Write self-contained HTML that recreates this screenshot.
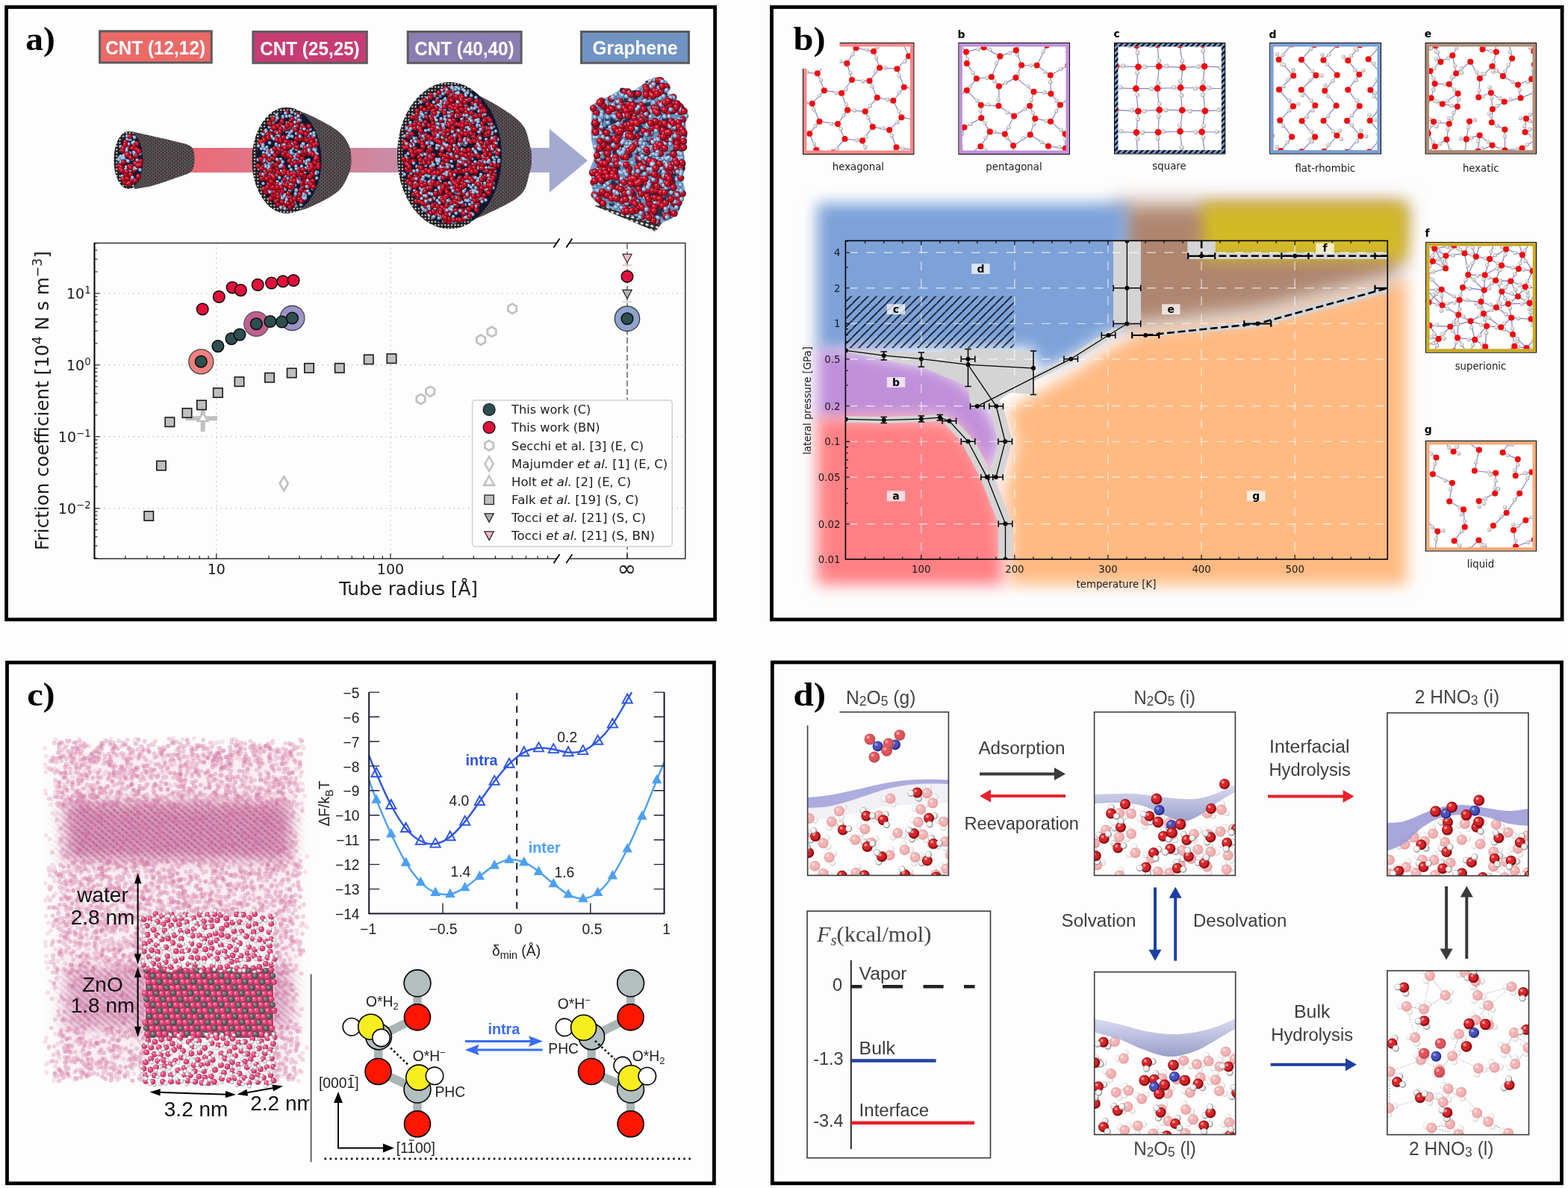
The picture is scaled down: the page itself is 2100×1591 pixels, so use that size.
<!DOCTYPE html>
<html lang="en"><head><meta charset="utf-8"><title>Figure: water at interfaces</title>
<style>
html,body{margin:0;padding:0;background:#fdfdfd}
svg{display:block}
text{font-family:"Liberation Sans",sans-serif;fill:#111}
.dv{font-family:"DejaVu Sans","Liberation Sans",sans-serif;fill:#1a1a1a}
.dvb{font-family:"DejaVu Sans","Liberation Sans",sans-serif;font-weight:bold;fill:#000}
.pl{font-family:"Liberation Serif",serif;font-weight:bold;font-size:44.5px;fill:#000}
.lb{font-weight:bold;font-size:25.5px;fill:#fff}
.la{font-size:23.5px;fill:#3c3c3c}
.lt{font-size:26px;fill:#444}
.hv{font-size:19.3px;fill:#222}
.sr{font-family:"Liberation Serif",serif;fill:#444}
</style></head>
<body>
<svg width="2100" height="1591" viewBox="0 0 2100 1591">
<defs>
<linearGradient id="arg" gradientUnits="userSpaceOnUse" x1="255" y1="0" x2="787" y2="0"><stop offset="0" stop-color="#eb6b76"/><stop offset=".45" stop-color="#d0869f"/><stop offset=".8" stop-color="#aaa7cb"/><stop offset="1" stop-color="#a2aad2"/></linearGradient>
<pattern id="mesh" width="5" height="4.4" patternUnits="userSpaceOnUse"><path d="M0 2.2h1.4l1.1-2.2h1.4l1.1 2.2M2.5 4.4l-1.1-2.2M3.9 4.4l1.1-2.2" stroke="#7c7c80" stroke-width=".7" fill="none"/><circle cx="2.6" cy="2.3" r=".7" fill="#7a1522"/></pattern><pattern id="rimp" width="4.4" height="4.4" patternUnits="userSpaceOnUse"><rect width="4.4" height="4.4" fill="#1c1c1e"/><circle cx="2.2" cy="2.2" r="1.15" fill="#f4f4f4"/></pattern><pattern id="mesh2" width="7" height="5" patternUnits="userSpaceOnUse" patternTransform="rotate(14)"><ellipse cx="3.5" cy="2.5" rx="2.3" ry="1.4" fill="#ececf0"/></pattern>
<filter id="bl" x="-20%" y="-20%" width="140%" height="140%"><feGaussianBlur stdDeviation="10"/></filter><filter id="bl2" x="-20%" y="-30%" width="140%" height="160%"><feGaussianBlur stdDeviation="14"/></filter><pattern id="hat" width="11.3" height="11.3" patternUnits="userSpaceOnUse"><path d="M-2 13.3L13.3-2M-2 2L2-2" stroke="#0a0a14" stroke-width="1.5"/></pattern><pattern id="hat2" width="7.4" height="7.4" patternUnits="userSpaceOnUse"><rect width="7.4" height="7.4" fill="#7ba0d6"/><path d="M-1 8.4L8.4-1M-1 1L1-1M6.4 8.4L8.4 6.4" stroke="#000" stroke-width="2.3"/></pattern><clipPath id="pbc"><rect x="1132.4" y="322.4" width="725.9" height="426.6"/></clipPath>
<clipPath id="c22"><rect x="330" y="1455" width="84.3" height="45"/></clipPath><filter id="cb" x="-10%" y="-10%" width="120%" height="120%"><feGaussianBlur stdDeviation="9"/></filter><filter id="cb2" x="-10%" y="-10%" width="120%" height="120%"><feGaussianBlur stdDeviation="0.7"/></filter><pattern id="zn" width="6.4" height="6.4" patternUnits="userSpaceOnUse" patternTransform="rotate(40)"><rect width="6.4" height="2.8" y="1.8" fill="#c0598a"/><circle cx="1.6" cy="3.2" r="1.9" fill="#b24a7c"/><circle cx="4.8" cy="3.2" r="1.9" fill="#cd6a98"/></pattern><linearGradient id="znf" x1="0" x2="1" y1="0" y2="0"><stop offset="0" stop-color="#fff" stop-opacity="0"/><stop offset=".1" stop-color="#fff" stop-opacity=".55"/><stop offset=".3" stop-color="#fff"/><stop offset=".72" stop-color="#fff"/><stop offset=".9" stop-color="#fff" stop-opacity=".5"/><stop offset="1" stop-color="#fff" stop-opacity="0"/></linearGradient><linearGradient id="znv" x1="0" x2="0" y1="0" y2="1"><stop offset="0" stop-color="#000"/><stop offset=".18" stop-color="#fff"/><stop offset=".82" stop-color="#fff"/><stop offset="1" stop-color="#000"/></linearGradient><filter id="cb3" x="-20%" y="-30%" width="140%" height="160%"><feGaussianBlur stdDeviation="14 7"/></filter><mask id="zm1" maskUnits="userSpaceOnUse" x="40" y="1040" width="400" height="150"><rect x="88" y="1074" width="300" height="78" fill="#fff" filter="url(#cb3)"/></mask><mask id="zm2" maskUnits="userSpaceOnUse" x="40" y="1265" width="400" height="150"><rect x="88" y="1296" width="300" height="82" fill="#fff" filter="url(#cb3)"/></mask>
<linearGradient id="sf1" x1="0" x2="0" y1="0" y2="1"><stop offset="0" stop-color="#d6d6f0"/><stop offset="1" stop-color="#8f95c2"/></linearGradient><clipPath id="db0"><rect x="1081.6" y="953.6" width="188.8" height="218.8"/></clipPath><clipPath id="db1"><rect x="1465.6" y="953.6" width="188.8" height="218.8"/></clipPath><clipPath id="db2"><rect x="1857.9" y="954.7" width="189" height="218.2"/></clipPath><clipPath id="db3"><rect x="1465.7" y="1301.7" width="189" height="217.8"/></clipPath><clipPath id="db4"><rect x="1857.9" y="1300" width="189.6" height="219.6"/></clipPath>
</defs>
<rect width="2100" height="1591" fill="#fdfdfd"/>
<g id="panel-a"><rect x="8.6" y="9.5" width="949" height="820.2" fill="none" stroke="#000" stroke-width="4.8"/>
<text x="34.2" y="66.8" class="pl" textLength="39.6" lengthAdjust="spacingAndGlyphs">a)</text>
<rect x="133.6" y="41.8" width="149.7" height="42.1" fill="#ea6a68" stroke="#5c5c5e" stroke-width="3"/>
<text x="141.3" y="73.1" class="lb" textLength="133.7" lengthAdjust="spacingAndGlyphs">CNT (12,12)</text>
<rect x="338.9" y="42.5" width="152.4" height="41.8" fill="#c73c73" stroke="#5c5c5e" stroke-width="3"/>
<text x="348.3" y="73.9" class="lb" textLength="133.4" lengthAdjust="spacingAndGlyphs">CNT (25,25)</text>
<rect x="546.2" y="42.5" width="151.9" height="41.8" fill="#8a7eb1" stroke="#5c5c5e" stroke-width="3"/>
<text x="555.2" y="73.9" class="lb" textLength="133.5" lengthAdjust="spacingAndGlyphs">CNT (40,40)</text>
<rect x="778.5" y="42.5" width="144" height="41.8" fill="#7093c3" stroke="#5c5c5e" stroke-width="3"/>
<text x="793.4" y="73.2" class="lb" textLength="114.2" lengthAdjust="spacingAndGlyphs">Graphene</text>
<path d="M200 198H735.8V172.5L787 215L735.8 257.8V231H200Z" fill="url(#arg)"/>
<g stroke="#c4c4c4" stroke-width="1.4" stroke-dasharray="1.5 5" fill="none"><path d="M126.5 392.9L917.8 392.9"/><path d="M126.5 488.8L917.8 488.8"/><path d="M126.5 584.7L917.8 584.7"/><path d="M126.5 680.8L917.8 680.8"/><path d="M289.8 325.6L289.8 748.3"/><path d="M523 325.6L523 748.3"/></g>
<path d="M840 325.6L840 748.3" stroke="#555" stroke-width="1.4" stroke-dasharray="8 3.5"/>
<g stroke="#333" stroke-width="1.5" fill="none"><path d="M745 325.6L126.5 325.6"/><path d="M763 325.6L917.8 325.6L917.8 748.3L763 748.3"/><path d="M745 748.3L126.5 748.3"/></g>
<path d="M126.5 324.9L126.5 749" stroke="#000" stroke-width="2"/>
<g stroke="#000" stroke-width="1.8"><path d="M741.5 331.6L749.5 319.6"/><path d="M758.3 331.6L766.3 319.6"/><path d="M741.5 754.3L749.5 742.3"/><path d="M758.3 754.3L766.3 742.3"/></g>
<g stroke="#222" stroke-width="1.2"><path d="M126.5 392.9L133.5 392.9"/><path d="M126.5 488.8L133.5 488.8"/><path d="M126.5 584.7L133.5 584.7"/><path d="M126.5 680.8L133.5 680.8"/><path d="M126.5 747.8L130.5 747.8"/><path d="M126.5 730.9L130.5 730.9"/><path d="M126.5 718.9L130.5 718.9"/><path d="M126.5 709.6L130.5 709.6"/><path d="M126.5 702L130.5 702"/><path d="M126.5 695.6L130.5 695.6"/><path d="M126.5 690L130.5 690"/><path d="M126.5 685.1L130.5 685.1"/><path d="M126.5 651.8L130.5 651.8"/><path d="M126.5 634.9L130.5 634.9"/><path d="M126.5 622.9L130.5 622.9"/><path d="M126.5 613.6L130.5 613.6"/><path d="M126.5 606L130.5 606"/><path d="M126.5 599.6L130.5 599.6"/><path d="M126.5 594L130.5 594"/><path d="M126.5 589.1L130.5 589.1"/><path d="M126.5 555.9L130.5 555.9"/><path d="M126.5 539L130.5 539"/><path d="M126.5 527L130.5 527"/><path d="M126.5 517.7L130.5 517.7"/><path d="M126.5 510.1L130.5 510.1"/><path d="M126.5 503.7L130.5 503.7"/><path d="M126.5 498.1L130.5 498.1"/><path d="M126.5 493.2L130.5 493.2"/><path d="M126.5 459.9L130.5 459.9"/><path d="M126.5 443L130.5 443"/><path d="M126.5 431L130.5 431"/><path d="M126.5 421.7L130.5 421.7"/><path d="M126.5 414.1L130.5 414.1"/><path d="M126.5 407.7L130.5 407.7"/><path d="M126.5 402.1L130.5 402.1"/><path d="M126.5 397.2L130.5 397.2"/><path d="M126.5 364L130.5 364"/><path d="M126.5 347.1L130.5 347.1"/><path d="M126.5 335.1L130.5 335.1"/><path d="M126.5 325.8L130.5 325.8"/><path d="M289.8 748.3L289.8 741.3"/><path d="M523 748.3L523 741.3"/><path d="M840 748.3L840 741.3"/><path d="M126.8 748.3L126.8 744.3"/><path d="M167.9 748.3L167.9 744.3"/><path d="M197 748.3L197 744.3"/><path d="M219.6 748.3L219.6 744.3"/><path d="M238.1 748.3L238.1 744.3"/><path d="M253.7 748.3L253.7 744.3"/><path d="M267.2 748.3L267.2 744.3"/><path d="M279.1 748.3L279.1 744.3"/><path d="M360 748.3L360 744.3"/><path d="M401.1 748.3L401.1 744.3"/><path d="M430.2 748.3L430.2 744.3"/><path d="M452.8 748.3L452.8 744.3"/><path d="M471.3 748.3L471.3 744.3"/><path d="M486.9 748.3L486.9 744.3"/><path d="M500.4 748.3L500.4 744.3"/><path d="M512.3 748.3L512.3 744.3"/><path d="M593.2 748.3L593.2 744.3"/><path d="M634.3 748.3L634.3 744.3"/><path d="M663.4 748.3L663.4 744.3"/><path d="M686 748.3L686 744.3"/><path d="M704.5 748.3L704.5 744.3"/><path d="M720.1 748.3L720.1 744.3"/><path d="M733.6 748.3L733.6 744.3"/></g>
<text x="121.6" y="400.3" class="dv" font-size="19" text-anchor="end">10<tspan font-size="13.3" dy="-7.4">1</tspan></text>
<text x="121.6" y="496.2" class="dv" font-size="19" text-anchor="end">10<tspan font-size="13.3" dy="-7.4">0</tspan></text>
<text x="121.6" y="592.1" class="dv" font-size="19" text-anchor="end">10<tspan font-size="13.3" dy="-7.4">−1</tspan></text>
<text x="121.6" y="688.2" class="dv" font-size="19" text-anchor="end">10<tspan font-size="13.3" dy="-7.4">−2</tspan></text>
<text x="289.8" y="769" class="dv" text-anchor="middle" font-size="19">10</text>
<text x="523" y="769" class="dv" text-anchor="middle" font-size="19">100</text>
<text x="839.5" y="771.5" class="dv" text-anchor="middle" font-size="31">∞</text>
<text x="547" y="796.6" class="dv" text-anchor="middle" font-size="24.7">Tube radius [Å]</text>
<text transform="translate(65.3 536.5) rotate(-90)" class="dv" font-size="24.7" text-anchor="middle">Friction coefficient [10<tspan font-size="17.3" dy="-9">4</tspan><tspan dy="9"> N s m</tspan><tspan font-size="17.3" dy="-9">−3</tspan><tspan dy="9">]</tspan></text>
<g stroke="#c0c0c0" fill="none"><path d="M248.6 560.2H291M271.7 547V578" stroke-width="6"/><path d="M271.7 552.5l6.5 11.5h-13Z" stroke-width="2.6" fill="#fff"/></g>
<g fill="#bfbfbf" stroke="#1a1a1a" stroke-width="1.6"><rect x="193.1" y="684.8" width="12.4" height="12.4"/><rect x="209.8" y="617.4" width="12.4" height="12.4"/><rect x="221.2" y="559" width="12.4" height="12.4"/><rect x="244.3" y="546.9" width="12.4" height="12.4"/><rect x="263.8" y="536.2" width="12.4" height="12.4"/><rect x="285.7" y="519.8" width="12.4" height="12.4"/><rect x="314.3" y="505" width="12.4" height="12.4"/><rect x="354.8" y="499.5" width="12.4" height="12.4"/><rect x="384.5" y="493.3" width="12.4" height="12.4"/><rect x="407.8" y="486.7" width="12.4" height="12.4"/><rect x="448.6" y="486.7" width="12.4" height="12.4"/><rect x="487.6" y="475.2" width="12.4" height="12.4"/><rect x="518.3" y="474" width="12.4" height="12.4"/></g>
<g fill="#fff" stroke="#c2c2c2" stroke-width="2.8"><path d="M686.2 406.8L691.9 410.1L691.9 416.7L686.2 420L680.5 416.7L680.5 410.1Z"/><path d="M658.6 437.7L664.3 441L664.3 447.6L658.6 450.9L652.9 447.6L652.9 441Z"/><path d="M644.1 448.6L649.8 451.9L649.8 458.5L644.1 461.8L638.4 458.5L638.4 451.9Z"/><path d="M576.2 517.6L581.9 520.9L581.9 527.5L576.2 530.8L570.5 527.5L570.5 520.9Z"/><path d="M563.5 527.9L569.2 531.2L569.2 537.8L563.5 541.1L557.8 537.8L557.8 531.2Z"/></g>
<path d="M380.2 638.2l5.6 9.4l-5.6 9.4l-5.6-9.4Z" fill="#fff" stroke="#c0c0c0" stroke-width="2.6"/>
<circle cx="269.3" cy="484.3" r="16.5" fill="#f08080" stroke="#444" stroke-width="1.3"/>
<circle cx="343.3" cy="433.8" r="16.5" fill="#c0608f" stroke="#555" stroke-width="1.3"/>
<circle cx="391.4" cy="426" r="16.5" fill="#9a94c8" stroke="#444" stroke-width="1.3"/>
<circle cx="840" cy="426.8" r="16.7" fill="#8ea4cf" stroke="#333" stroke-width="1.3"/>
<g fill="#2f4f4f" stroke="#0a0a0a" stroke-width="1.5"><circle cx="269.3" cy="484.3" r="7.8"/><circle cx="291.9" cy="463.6" r="7.8"/><circle cx="310" cy="453.6" r="7.8"/><circle cx="321" cy="448.1" r="7.8"/><circle cx="343.3" cy="433.8" r="7.8"/><circle cx="361.9" cy="430.5" r="7.8"/><circle cx="377.6" cy="431" r="7.8"/><circle cx="391.4" cy="426" r="7.8"/><circle cx="840" cy="426.8" r="7.8"/></g>
<g fill="#e2103c" stroke="#0a0a0a" stroke-width="1.5"><circle cx="271.2" cy="414" r="7.8"/><circle cx="293.3" cy="397.4" r="7.8"/><circle cx="311.2" cy="385" r="7.8"/><circle cx="322.4" cy="388.6" r="7.8"/><circle cx="345.2" cy="381.4" r="7.8"/><circle cx="363.6" cy="379" r="7.8"/><circle cx="379" cy="376.7" r="7.8"/><circle cx="393.1" cy="375.5" r="7.8"/><circle cx="840" cy="370.2" r="7.8"/></g>
<path d="M833.8 340.4h12.4l-6.2 11.6Z" fill="#ffb6c1" stroke="#333" stroke-width="1.2"/><path d="M833.6 355.2h12.8" stroke="#ffb6c1" stroke-width="1.6"/>
<path d="M833.8 388.3h12.4l-6.2 11.6Z" fill="#b8b8b8" stroke="#222" stroke-width="1.2"/><path d="M833.6 404.3h12.8" stroke="#c8c8c8" stroke-width="1.6"/>
<rect x="632.6" y="536" width="267.6" height="196" rx="4" fill="#fefefe" stroke="#d0d0d0" stroke-width="1.5"/>
<circle cx="655.1" cy="548.5" r="8" fill="#2f4f4f" stroke="#111" stroke-width="1.2"/>
<circle cx="655.1" cy="572.3" r="8" fill="#e2103c" stroke="#111" stroke-width="1.2"/>
<g fill="#fff" stroke="#c2c2c2" stroke-width="2.8"><path d="M655.1 590.1L660.8 593.4L660.8 600L655.1 603.3L649.4 600L649.4 593.4Z"/></g>
<path d="M655.1 611.6l5.6 9.6l-5.6 9.6l-5.6-9.6Z" fill="#fff" stroke="#c2c2c2" stroke-width="2.6"/>
<path d="M655.1 637.3l7 12.6h-14Z" fill="#fff" stroke="#c2c2c2" stroke-width="2.6"/>
<rect x="648.9" y="663.1" width="12.4" height="12.4" fill="#c0c0c0" stroke="#222" stroke-width="1.3"/>
<path d="M648.9 687.8h12.4l-6.2 11.6Z" fill="#b0b0b0" stroke="#222" stroke-width="1.2"/>
<path d="M648.9 711.8h12.4l-6.2 11.6Z" fill="#ffb6c1" stroke="#222" stroke-width="1.2"/>
<text x="685.1" y="554.4" class="dv" font-size="16.2" textLength="106.2" lengthAdjust="spacingAndGlyphs">This work (C)</text>
<text x="685.1" y="578.2" class="dv" font-size="16.2" textLength="118.5" lengthAdjust="spacingAndGlyphs">This work (BN)</text>
<text x="685.1" y="602.6" class="dv" font-size="16.2" textLength="177" lengthAdjust="spacingAndGlyphs">Secchi et al. [3] (E, C)</text>
<text x="685.1" y="627.1" class="dv" font-size="16.2" textLength="209" lengthAdjust="spacingAndGlyphs">Majumder <tspan font-style="italic">et al.</tspan> [1] (E, C)</text>
<text x="685.1" y="651.2" class="dv" font-size="16.2" textLength="160" lengthAdjust="spacingAndGlyphs">Holt <tspan font-style="italic">et al.</tspan> [2] (E, C)</text>
<text x="685.1" y="675.2" class="dv" font-size="16.2" textLength="170.5" lengthAdjust="spacingAndGlyphs">Falk <tspan font-style="italic">et al.</tspan> [19] (S, C)</text>
<text x="685.1" y="699.1" class="dv" font-size="16.2" textLength="180" lengthAdjust="spacingAndGlyphs">Tocci <tspan font-style="italic">et al.</tspan> [21] (S, C)</text>
<text x="685.1" y="723.1" class="dv" font-size="16.2" textLength="192" lengthAdjust="spacingAndGlyphs">Tocci <tspan font-style="italic">et al.</tspan> [21] (S, BN)</text></g>
<g id="mol-a"><path d="M176 176C180.8 177.1 194.8 180.1 204.8 182.4C214.8 184.7 227.5 187.3 236 189.7C244.5 192 251.9 192.6 256 196.5C260.1 200.4 260.5 207.5 260.5 213C260.5 218.5 260.1 225.3 256 229.5C251.9 233.7 244.5 234.8 236 238C227.5 241.2 214.3 245.9 205 248.4C195.7 250.9 184.2 252.2 180 253Z" fill="#343336"/><path d="M176 176C180.8 177.1 194.8 180.1 204.8 182.4C214.8 184.7 227.5 187.3 236 189.7C244.5 192 251.9 192.6 256 196.5C260.1 200.4 260.5 207.5 260.5 213C260.5 218.5 260.1 225.3 256 229.5C251.9 233.7 244.5 234.8 236 238C227.5 241.2 214.3 245.9 205 248.4C195.7 250.9 184.2 252.2 180 253Z" fill="url(#mesh)"/><clipPath id="rc172"><rect x="149.5" y="173" width="30.7" height="83"/></clipPath><ellipse cx="173" cy="214.5" rx="18.5" ry="37.5" fill="#10182f"/><ellipse cx="172" cy="214.5" rx="17" ry="36" fill="none" stroke="url(#rimp)" stroke-width="5" clip-path="url(#rc172)"/><g stroke-linecap="round" fill="none"><path id="s1" d="M173.2 225.2h0M179.2 190.2h0M166.9 235.6h0M180 221.4h0M175.8 225.5h0M162.8 210.4h0M160.6 227.2h0M168.9 208h0M174.3 186.7h0M161.8 209.3h0M162.5 201.8h0M177.8 191.6h0M180.2 184h0M163.6 236h0M170.9 209h0M177 212.9h0M170.4 182.6h0M169.5 205.2h0M180 226.3h0M161.8 196.5h0M169.7 215.3h0M183.8 214.5h0M171.8 215.8h0M165.2 209.6h0M170.5 233h0M161.5 217.9h0M163.9 227.8h0M169.1 223.8h0M159.9 211.7h0M164.8 199.7h0"/><use href="#s1" stroke="#4c6c94" stroke-width="5"/><use href="#s1" stroke="#98b8dc" stroke-width="3.9" transform="translate(-0.3 -0.3)"/><use href="#s1" stroke="#e0ecf8" stroke-width="1.5" transform="translate(-0.8 -0.9)"/></g><g stroke-linecap="round" fill="none"><path id="s2" d="M173.3 245.1h0M173.4 244.9h0M169.8 193.8h0M181.7 242h0M182.4 204h0M159.8 222.4h0M174.1 182.8h0M168.5 233.7h0M184.2 223.8h0M165.7 216.3h0M173.3 223h0M167.6 239.4h0M167.2 244.1h0M174.5 227.6h0M180.3 195.4h0M167.4 198.2h0M179.7 227.4h0M171.5 197.3h0M172 246.5h0M175.9 222.8h0M182 209h0M176.7 241.2h0M182.9 219.8h0M169.3 205.7h0M181.3 218.7h0M175.1 233.8h0"/><use href="#s2" stroke="#6a0614" stroke-width="7"/><use href="#s2" stroke="#bf0f29" stroke-width="5.5" transform="translate(-0.4 -0.4)"/><use href="#s2" stroke="#e96476" stroke-width="2.1" transform="translate(-1.1 -1.2)"/></g><g stroke-linecap="round" fill="none"><path id="s3" d="M170.2 187.2h0M169.4 201.7h0M187.7 227.4h0M175.3 222.8h0M162.2 216.8h0M180.3 207.3h0M166 208.2h0M168.4 227.1h0M168.1 227.8h0M182.2 225.3h0M187.7 205.4h0M159.2 213.7h0M172.2 192.7h0M179.3 203.7h0M165.8 202.8h0M169.6 199.5h0M164.6 209.9h0M174 228h0M163.4 212.1h0M177.4 237.8h0M166.1 211.8h0M185.2 237.1h0M165.4 217.1h0M182.2 207.4h0M179.5 225.6h0M188.9 218.2h0M179.7 204.3h0M181.3 202.4h0M174 205h0M167.9 189.7h0"/><use href="#s3" stroke="#4c6c94" stroke-width="5"/><use href="#s3" stroke="#98b8dc" stroke-width="3.9" transform="translate(-0.3 -0.3)"/><use href="#s3" stroke="#e0ecf8" stroke-width="1.5" transform="translate(-0.8 -0.9)"/></g><g stroke-linecap="round" fill="none"><path id="s4" d="M165.5 217.5h0M183.4 200.2h0M187.5 221.1h0M170.6 239.4h0M186.3 202.6h0M162.4 223.9h0M184.6 221.7h0M182.8 208.7h0M177.6 198.7h0M171.1 206.5h0M170.4 207.8h0M183.5 192.5h0M164.9 198.2h0M188.5 216h0M185.5 235.9h0M169.6 230.1h0M168 190.3h0M185.3 236.7h0M165.1 239.8h0M163.6 228.9h0M167.7 193.8h0M164.2 202h0M185.2 221.6h0M161.7 226.8h0M175.1 211.1h0M174.9 224.6h0"/><use href="#s4" stroke="#6a0614" stroke-width="7"/><use href="#s4" stroke="#bf0f29" stroke-width="5.5" transform="translate(-0.4 -0.4)"/><use href="#s4" stroke="#e96476" stroke-width="2.1" transform="translate(-1.1 -1.2)"/></g>
<path d="M383 143.6C388.2 145.3 402.5 148.8 414 154C425.5 159.2 443.2 168.3 452 175C460.8 181.7 463.9 187.5 467 194C470.1 200.5 470.5 207.5 470.5 214C470.5 220.5 470.1 225.9 467 233C463.9 240.1 460.8 249.2 452 256.7C443.2 264.1 425.2 272.9 414 277.7C402.8 282.5 389.8 284.4 385 285.7Z" fill="#343336"/><path d="M383 143.6C388.2 145.3 402.5 148.8 414 154C425.5 159.2 443.2 168.3 452 175C460.8 181.7 463.9 187.5 467 194C470.1 200.5 470.5 207.5 470.5 214C470.5 220.5 470.1 225.9 467 233C463.9 240.1 460.8 249.2 452 256.7C443.2 264.1 425.2 272.9 414 277.7C402.8 282.5 389.8 284.4 385 285.7Z" fill="url(#mesh)"/><clipPath id="rc384"><rect x="334.5" y="140.7" width="69" height="148"/></clipPath><ellipse cx="385" cy="214.7" rx="45.5" ry="70" fill="#10182f"/><ellipse cx="384" cy="214.7" rx="43.5" ry="68" fill="none" stroke="url(#rimp)" stroke-width="6" clip-path="url(#rc384)"/><g stroke-linecap="round" fill="none"><path id="s5" d="M411.3 215.4h0M397.4 210.4h0M397.3 200.1h0M378.8 216.9h0M404.1 185.6h0M421.7 213.6h0M415.9 239.7h0M424.3 238.6h0M379.9 202.3h0M395 248h0M353.5 239h0M395.7 275.8h0M383.9 176.2h0M407.6 204.7h0M389.6 190.5h0M364.3 160.5h0M395 274.1h0M422.4 196.6h0M369 270.3h0M394.4 236.9h0M384.5 245h0M413.4 248.5h0M372.5 199.2h0M384.7 174.7h0M396.5 219.4h0M374.4 179.3h0M376.4 229.4h0M354.7 220.1h0M365.2 204h0M352.6 245.8h0M397.1 171.8h0M390 227.3h0M392.5 198.7h0M370 195.7h0M386.2 209.4h0M358.5 201.5h0M361.2 191.4h0M374.8 195h0M422.8 188h0M371.9 235.4h0M377.4 216.8h0M398.4 158.8h0M400.4 162.4h0M365 255.3h0M358.4 206.6h0M367.7 259.5h0M363.6 174.8h0M397.6 232.7h0M393.5 211.9h0M424.6 209.2h0M422.7 200.5h0M383.1 196.3h0M404.1 247.7h0M364.1 218.1h0M405 214.9h0M399.6 229.9h0M404 195.7h0M418.8 252.7h0M376.8 276h0M414.3 204.3h0M370.4 183.1h0M378.8 155.9h0M369.8 169.9h0M375.9 213.4h0M394.5 271.5h0M356.3 179h0M422.3 218.4h0M374.8 173.9h0M420.5 249.5h0M390.3 252.9h0M365.9 219.1h0M395.9 173.4h0M414.4 259.2h0M398.1 206.3h0M345.8 213.9h0M374.2 201.6h0M387.8 222.8h0M390.2 220.5h0M415.2 198h0M410.9 218.3h0M362.5 202.5h0M411.2 247.1h0"/><use href="#s5" stroke="#4c6c94" stroke-width="4.8"/><use href="#s5" stroke="#98b8dc" stroke-width="3.7" transform="translate(-0.3 -0.3)"/><use href="#s5" stroke="#e0ecf8" stroke-width="1.4" transform="translate(-0.8 -0.8)"/></g><g stroke-linecap="round" fill="none"><path id="s6" d="M388 250.3h0M400.6 262.2h0M398.4 197.1h0M368.4 161h0M394.5 167.7h0M424.4 218.9h0M359.4 256.7h0M363.2 202.2h0M399.2 186.7h0M391.7 240.6h0M406.7 256.4h0M406.7 187.1h0M407 206.2h0M396.1 196.4h0M352.6 213.4h0M379 192.2h0M391.5 219.7h0M388.5 277.3h0M419.3 188.8h0M416.6 190.9h0M371 270.2h0M399.3 241.2h0M361.7 166.1h0M359.3 205.8h0M412.3 237.7h0M380.8 267.6h0M370.9 157h0M399.2 212.1h0M361.6 178.6h0M384.3 265.7h0M421.6 216.5h0M400.3 210.6h0M408.7 241.2h0M400.6 226.3h0M358.7 211h0M381.7 170.3h0M361.4 203.3h0M359.3 230.7h0M401.2 216.8h0M380.6 200.8h0M420 234h0M398.4 168.9h0M389.4 171.9h0M371.5 225.9h0M358.9 180.4h0M405 212.7h0M395 239.6h0M390.6 169.5h0M425.3 214.1h0M367.5 221h0M365.2 260.9h0M366.3 160.6h0M358.3 185.4h0M400 205.3h0M355.2 176.1h0M380.7 261.3h0M405.3 168.5h0M369.5 177.1h0M381 268.9h0M414 219.3h0M369.2 252.5h0M372.4 273.9h0M366.7 264.7h0M366.5 243.1h0M354.6 235h0M358.8 226.9h0M406 263.4h0M380.7 277h0M378.3 272.5h0M353.6 185.6h0M402.1 264.3h0M366 249.2h0M384.1 150.9h0M400.8 261.4h0M420.3 200.9h0"/><use href="#s6" stroke="#6a0614" stroke-width="6.8"/><use href="#s6" stroke="#bf0f29" stroke-width="5.3" transform="translate(-0.4 -0.4)"/><use href="#s6" stroke="#e96476" stroke-width="2" transform="translate(-1.1 -1.2)"/></g><g stroke-linecap="round" fill="none"><path id="s7" d="M402.5 235h0M402.1 161.3h0M381.4 239.3h0M406.5 257.5h0M370.2 188.2h0M417.4 190.5h0M377 190.2h0M403.9 171.9h0M355 230.9h0M382.8 195.7h0M370 194.2h0M353.1 204.7h0M366.4 156.9h0M412.4 246h0M363 163.4h0M404.7 167.9h0M410.5 219.3h0M425.3 230.8h0M407 195.3h0M384.2 167.1h0M359 214.3h0M379.9 173.5h0M356.6 207.5h0M383.8 155.8h0M405.7 249.8h0M403.3 273.9h0M357.9 204.4h0M378.8 158.6h0M409.4 225.2h0M398.5 212.3h0M415.7 225h0M390 202.2h0M396.8 226.1h0M371.7 243.6h0M363.6 212.3h0M388.2 244.5h0M359.3 230.4h0M358.3 222.5h0M418.1 205.2h0M362.8 227.4h0M378.6 206.4h0M359 238.7h0M385.7 238.6h0M410.3 182.8h0M404.1 223h0M382 231.4h0M382.4 235.3h0M397.7 241.6h0M416.8 219.4h0M389.5 168.1h0M360.4 266.6h0M354.4 199.5h0M396.3 153h0M381.5 253.8h0M376.3 172.2h0M352.8 236.9h0M397.6 185.8h0M390.9 239.1h0M361.5 181.2h0M385 208.8h0M409.3 261.6h0M408.2 231.3h0M389.4 161.1h0M392.2 205.9h0M407.5 198.4h0M354.3 199.4h0M413.8 214.2h0M400.2 156.5h0M362.6 184h0M384.7 164.7h0M423.4 192.6h0M386.1 229.9h0M387.2 234h0M369.8 168.6h0M418.8 207.6h0M394.6 211.6h0M401.8 162.1h0M407.3 172.1h0M393.7 230.8h0M415.2 229.7h0M359 256.1h0M375.4 223h0"/><use href="#s7" stroke="#4c6c94" stroke-width="4.8"/><use href="#s7" stroke="#98b8dc" stroke-width="3.7" transform="translate(-0.3 -0.3)"/><use href="#s7" stroke="#e0ecf8" stroke-width="1.4" transform="translate(-0.8 -0.8)"/></g><g stroke-linecap="round" fill="none"><path id="s8" d="M353.4 208.9h0M370.7 259.3h0M377.6 267.5h0M410.2 204.3h0M407.7 237.8h0M354.5 188.6h0M356 257.4h0M377.4 189.1h0M356.5 239.3h0M363.6 252.1h0M406.3 249.2h0M392.8 166.2h0M392.6 273.7h0M366.9 212.2h0M400.5 233.5h0M371.5 203.9h0M418.6 242.5h0M359.1 237.8h0M415 227.8h0M418.5 184.5h0M368.7 261.7h0M366 166.7h0M412.6 175.9h0M405.9 175.8h0M392.3 246.9h0M386.4 231.1h0M354.5 209.3h0M409.3 198.4h0M406.1 227.4h0M411.3 245.4h0M369.9 255.7h0M412.1 205.3h0M404 203.7h0M392.3 192.2h0M382.9 190.1h0M418.5 229.2h0M395.4 217.6h0M383.1 172.8h0M398.1 207.8h0M373.2 216.3h0M355.6 233.8h0M409.3 197.5h0M395.9 191.4h0M352.3 224.1h0M362.9 265.9h0M403.8 186h0M378.4 161.6h0M363.3 222.2h0M417.5 205.3h0M375.9 186.4h0M381.4 229.1h0M362.9 164.1h0M394 235h0M391 171h0M415.7 205.7h0M389.5 264.2h0M355.8 214.2h0M379.7 232.5h0M363.4 181.4h0M363.5 222.2h0M369.6 269.6h0M416.5 243.9h0M378.3 256.4h0M392.1 251h0M407.5 266.6h0M378.2 194.4h0M352.2 216.7h0M401 266.9h0M399.5 163.5h0M413.6 238.3h0M379.9 223.6h0M386.9 194h0M386.7 191h0M399.3 154.3h0M373.2 234.2h0"/><use href="#s8" stroke="#6a0614" stroke-width="6.8"/><use href="#s8" stroke="#bf0f29" stroke-width="5.3" transform="translate(-0.4 -0.4)"/><use href="#s8" stroke="#e96476" stroke-width="2" transform="translate(-1.1 -1.2)"/></g><g stroke-linecap="round" fill="none"><path id="s9" d="M382.4 151.7h0M382.6 270.8h0M387.9 245h0M376.2 277.7h0M388.1 255.5h0M396.6 255.8h0M377 270.9h0M420.2 196.9h0M372.4 266.2h0M413.4 226.6h0M391 150.6h0M391 156.8h0M388.2 178.4h0M395 169.8h0M371.5 250.1h0M392.7 166.6h0M378.7 242.7h0M392.8 234.7h0M386.7 182.1h0M394.3 210h0M396.9 254.1h0M386.1 204.6h0M390.7 171.1h0M420.7 200.3h0M385.9 259.4h0M403.5 218.8h0M380.1 251.2h0M391.3 236.9h0M374.1 258h0M406.3 265.3h0M368.5 235.9h0M391.1 193.8h0M369 160.7h0M414.2 185.3h0M373.1 182.5h0M390.8 214h0M372.8 258.7h0M381.5 279.4h0M406.5 192.5h0M381.9 261h0M384 267.3h0M406.7 171.7h0M394.9 163.5h0M350.2 199.2h0M348.5 189.4h0M397 178.9h0M410.4 183.3h0M374.6 202.1h0M425.5 222h0M407 216.6h0M400.3 239.2h0M356.3 174.5h0M420.4 177.9h0M403.9 252.5h0M353.6 214.2h0M387.2 182.2h0M371.2 213.5h0M409.8 182.5h0M366.3 162.7h0M362 218.5h0M417.3 191.2h0M354.9 228.8h0M385.7 262.3h0M381.4 184.7h0M377 167.4h0M384.3 239.9h0M359.5 225.7h0M370.7 233.7h0M411.9 241.9h0M396.5 222.7h0M373.5 258.9h0M387.3 257.4h0M405.7 193h0M412.5 195h0M395.8 259.7h0M424 230.7h0M360.8 170.2h0M413.8 189.5h0M356.3 225h0M379.1 246.1h0M359.1 216.2h0M376.7 200.8h0"/><use href="#s9" stroke="#4c6c94" stroke-width="4.8"/><use href="#s9" stroke="#98b8dc" stroke-width="3.7" transform="translate(-0.3 -0.3)"/><use href="#s9" stroke="#e0ecf8" stroke-width="1.4" transform="translate(-0.8 -0.8)"/></g><g stroke-linecap="round" fill="none"><path id="s10" d="M370.7 221h0M356.1 232h0M375.6 189h0M414.9 245.8h0M381.5 183.8h0M386.8 233.8h0M407.4 235.5h0M426.8 220.7h0M387.1 165.1h0M409.6 256.7h0M370.4 185.3h0M350.8 189.8h0M387 207.9h0M364.2 257.2h0M385.5 197h0M418.6 247.6h0M398 240.5h0M422 218.1h0M365.9 244.8h0M376.5 248.5h0M411.3 181.6h0M382.8 208.7h0M360.2 242.1h0M388.9 196h0M408.9 203h0M366 171.1h0M400.9 178.8h0M381.3 247.6h0M398.1 186.2h0M373.7 254.7h0M349.3 233.6h0M403 216.8h0M390.3 269.3h0M371.5 247.1h0M404.3 245.4h0M350.4 239.5h0M375.8 167.1h0M419.6 184.5h0M383.2 189.9h0M354.1 187.8h0M395.3 232.6h0M406.4 170h0M367.4 257.2h0M388 245.4h0M382.8 204.4h0M419.3 242.4h0M362.6 231.4h0M400.8 186.6h0M375.8 264.8h0M366.5 229h0M348.4 189.6h0M421.3 224.7h0M384.7 169.4h0M390.7 167.1h0M350.3 193.3h0M366 251h0M391.3 232.8h0M367.8 200.9h0M354.2 187.4h0M372.6 231.3h0M388.1 170.5h0M412.4 250.8h0M402.5 243.3h0M356.4 225h0M378.8 195.8h0M416.4 195.6h0M361.7 237.8h0M395.8 173.7h0M361.4 242.3h0M381 241h0M362.1 223.6h0M415.2 187.3h0M413.5 168.9h0M399.6 155.8h0M364.9 159.7h0"/><use href="#s10" stroke="#6a0614" stroke-width="6.8"/><use href="#s10" stroke="#bf0f29" stroke-width="5.3" transform="translate(-0.4 -0.4)"/><use href="#s10" stroke="#e96476" stroke-width="2" transform="translate(-1.1 -1.2)"/></g><g stroke-linecap="round" fill="none"><path id="s11" d="M360.6 218.6h0M412.2 255.8h0M420.7 181.5h0M422.7 205h0M400 243.9h0M366.9 186h0M380.6 193.9h0M405.2 262.7h0M399.5 155.5h0M411 249.9h0M422.4 201.1h0M390.6 175.7h0M365.1 204.4h0M391.3 182.7h0M390.5 205h0M362.4 234h0M370.8 153.9h0M364.3 204.4h0M395.8 158.1h0M369.9 193.1h0M400.6 160.8h0M361.4 257.2h0M352.3 193.7h0M374.4 238.1h0M423.1 232.4h0M371.9 178.1h0M375 178.1h0M416.5 179.3h0M378 265.6h0M346.1 195.5h0M360.7 207.8h0M407.3 260.3h0M375.6 246.1h0M405.3 267.7h0M374.6 260.5h0M359.9 225.7h0M407.6 172.8h0M375.3 222.7h0M411.6 180.3h0M389.4 246.9h0M401.8 182.7h0M352.3 196.3h0M360.3 222.7h0M388.2 155.3h0M360.3 184.9h0M357.5 197.1h0M388.4 248.5h0M396.7 207.1h0M398.7 242.5h0M384.7 184.4h0M397.1 254.8h0M352.2 233.4h0M379.2 170.3h0M371.5 158.2h0M413.1 222.5h0M380.6 262.9h0M413.6 201h0M346.8 226.2h0M363.6 228.7h0M352.3 253.9h0M415.6 172.9h0M356.1 223h0M364 200.7h0M375.1 248.9h0M409.1 265.2h0M364 183.2h0M413.9 201.9h0M353.7 215.2h0M364 232.2h0M378 170.3h0M407.1 266h0M356.8 177h0M386 170.5h0M424.8 206.3h0M362.3 182h0M395.1 264.5h0M377.3 221.2h0M424.4 213.9h0M375.9 263.4h0M401 203.7h0M412.4 181.6h0M352.4 179.8h0"/><use href="#s11" stroke="#4c6c94" stroke-width="4.8"/><use href="#s11" stroke="#98b8dc" stroke-width="3.7" transform="translate(-0.3 -0.3)"/><use href="#s11" stroke="#e0ecf8" stroke-width="1.4" transform="translate(-0.8 -0.8)"/></g><g stroke-linecap="round" fill="none"><path id="s12" d="M372.2 260.4h0M365.7 159.8h0M353.8 253.3h0M386.2 272.7h0M372.3 168.8h0M359.8 247.1h0M386.3 258.8h0M422.9 213.1h0M417.5 224.3h0M388.6 251h0M423.6 210.5h0M372.7 263.9h0M419.4 206.9h0M387.4 215.6h0M402.7 176.6h0M371.5 251h0M404 269.6h0M414.5 226.9h0M377.9 162.8h0M419.9 250.5h0M371.2 187.6h0M424.3 192.8h0M359 180h0M403.1 254.7h0M366.9 237.8h0M394.1 236.1h0M358.2 250.8h0M394.4 266.5h0M401.6 260.3h0M415.3 236.4h0M413.8 169.4h0M368.5 208.2h0M389.8 210.3h0M418.2 233h0M376.2 172.7h0M399.6 209.3h0M417.6 190.4h0M379.6 206.6h0M426.4 223.8h0M345.8 222.3h0M417.1 247.5h0M377.9 270.7h0M349.5 213.2h0M366 235.7h0M424.7 211.6h0M404.3 177.3h0M415.3 220.3h0M374.5 200.6h0M363.8 243.5h0M384.8 168.6h0M367.8 199.2h0M367.8 171.1h0M390.1 242.2h0M361.2 214.6h0M411.4 188.1h0M357.6 239.5h0M362.8 228.2h0M397 185.7h0M421.4 194.2h0M353.5 252.8h0M364.5 234.9h0M404.2 233.6h0M375.1 176.8h0M409.8 179.7h0M379.7 184.2h0M383.9 248h0M386.2 259.6h0M382 198.4h0M391.4 159.5h0M361.3 165.9h0M359.4 184.6h0M350.3 226.3h0M417.7 221.2h0M376.9 251h0M394.1 242.3h0"/><use href="#s12" stroke="#6a0614" stroke-width="6.8"/><use href="#s12" stroke="#bf0f29" stroke-width="5.3" transform="translate(-0.4 -0.4)"/><use href="#s12" stroke="#e96476" stroke-width="2" transform="translate(-1.1 -1.2)"/></g>
<path d="M598 110C607.2 114 636.5 125 653 134C669.5 143 687.7 154.3 697 164C706.3 173.7 706.5 183.8 709 192C711.5 200.2 712 206.3 712 213C712 219.7 711.5 224 709 232C706.5 240 706.3 252 697 261C687.7 270 669.3 278.4 653 286C636.7 293.6 608 303.2 599 306.6Z" fill="#343336"/><path d="M598 110C607.2 114 636.5 125 653 134C669.5 143 687.7 154.3 697 164C706.3 173.7 706.5 183.8 709 192C711.5 200.2 712 206.3 712 213C712 219.7 711.5 224 709 232C706.5 240 706.3 252 697 261C687.7 270 669.3 278.4 653 286C636.7 293.6 608 303.2 599 306.6Z" fill="url(#mesh)"/><clipPath id="rc602"><rect x="529" y="107.1" width="102.4" height="202.4"/></clipPath><ellipse cx="603" cy="208.3" rx="69" ry="97.2" fill="#10182f"/><ellipse cx="602" cy="208.3" rx="66.5" ry="94.7" fill="none" stroke="url(#rimp)" stroke-width="7" clip-path="url(#rc602)"/><g stroke-linecap="round" fill="none"><path id="s13" d="M633.1 164.2h0M548.4 171.6h0M566.3 252.9h0M614.1 215.4h0M597 160.4h0M638.9 268h0M640.5 239.3h0M582.4 259.3h0M593.8 135.2h0M588 166.4h0M626.2 163.9h0M570.9 265.6h0M590.7 258.2h0M556.9 185.4h0M562 161.9h0M604.7 276.3h0M604.5 277h0M582.9 128.1h0M647.6 169.8h0M577.2 241.4h0M668.4 214.5h0M605.8 159.1h0M547.8 181.9h0M566.7 216h0M556.2 163.6h0M642.5 182h0M630.9 250.6h0M632.4 212.2h0M564.7 228.4h0M582.9 165.4h0M618.1 270.1h0M620.4 281.3h0M564.6 150.2h0M551.3 188.9h0M666.6 220.9h0M576.1 234h0M580.8 227.3h0M633.8 247.9h0M615.2 191.6h0M552.2 181.8h0M564.6 250.4h0M587 185.2h0M655.9 224.1h0M611.1 285h0M576.7 170.9h0M553.9 169.9h0M631.4 128.1h0M604.3 145.2h0M605.1 125.8h0M624.4 203.5h0M651.1 160.2h0M558.4 222.8h0M580 290.9h0M622.9 274.2h0M617.4 244.2h0M571.8 211.6h0M566.7 238.5h0M597.2 285.6h0M616.6 250.2h0M639.1 162.9h0M627.9 243.5h0M583.4 169.5h0M583.9 166.8h0M565.5 277.8h0M565.7 187.8h0M553.6 192.3h0M650.3 224.8h0M620.4 213.4h0M617 145.6h0M544.6 219.7h0M650 229.3h0M637.4 169.8h0M564.1 257.9h0M563.3 169.9h0M662.1 238.6h0M640.9 267.6h0M572 283.9h0M607.8 126.4h0M600.2 267.2h0M597.2 164.5h0M563.6 259.6h0M606.1 121.5h0M597.9 143.1h0M591.2 143.1h0M553.1 261h0M613.1 255.9h0M597.4 251.2h0M587.9 238h0M574.3 142h0M628.3 288.4h0M618.8 158h0M566.6 155.4h0M597.2 186.9h0M579.6 226.5h0M597.1 154.1h0M550.3 232.4h0M558.4 231.9h0M553.7 188.5h0M580.4 273.6h0M580.8 155.5h0M602.9 279h0M613.5 149.4h0M643.4 254.4h0M622.8 240.1h0M580.9 266.3h0M613.1 229.8h0M587.1 227.4h0M595.5 159.5h0M618.5 159.6h0M597.4 272.7h0M631.1 133.4h0M650.2 172.1h0M549.2 178.4h0M622 175.2h0M542.2 182.2h0M621.9 258h0M608.8 161.5h0M582.7 279.6h0M621 220.4h0M641.8 187.4h0M590.9 222.2h0M559.6 264.1h0M638.1 170.3h0M625.9 181h0M580.9 179.1h0M646.7 222.2h0M660.1 251h0M575.7 195.6h0M652.3 160.1h0M561.2 152.6h0M573.9 287.8h0M584.5 177.9h0M581.5 284.2h0M581.7 264.4h0M570.9 253.3h0M659.5 203.3h0M628.3 268.4h0M569.5 232.7h0M578.3 129h0M549.5 217h0M553.7 194.6h0M622.8 185.9h0M637.8 154h0M638.8 243.8h0M565.9 198.9h0M545.5 228.7h0M592.3 191.5h0M644.9 195.2h0M629.1 273.9h0M650.7 254.1h0M597.6 140.2h0M625.5 213.3h0M602.6 145.6h0M591 166.6h0M546.8 205.7h0M565.6 177.9h0M595.5 190.8h0M567.1 253.8h0M662.9 228.5h0M633.8 220.5h0M665.5 209.9h0M652.7 200.5h0M546.5 212.3h0M589.6 128.3h0M578.8 151.4h0M609 283h0M591.1 237.1h0M629.7 168h0M607.9 263.1h0M640.9 161.9h0M662.2 214.2h0M646.8 146.7h0M597.6 135.6h0M567.3 135.5h0M571 134.5h0M632.4 272.6h0M621.2 207h0M596.7 122.3h0M636.7 141.3h0M654.5 164.6h0"/><use href="#s13" stroke="#4c6c94" stroke-width="4.8"/><use href="#s13" stroke="#98b8dc" stroke-width="3.7" transform="translate(-0.3 -0.3)"/><use href="#s13" stroke="#e0ecf8" stroke-width="1.4" transform="translate(-0.8 -0.8)"/></g><g stroke-linecap="round" fill="none"><path id="s14" d="M600 230.9h0M597.5 196.9h0M560.9 237.6h0M634.4 171h0M554.8 215.8h0M589.5 196h0M624 134.3h0M614.6 270.3h0M642 246.7h0M562.7 174.8h0M648.8 218.7h0M569.7 244.5h0M655.5 162.8h0M642.1 145h0M626.8 240.8h0M612.4 179.8h0M643.6 248.7h0M629.6 224h0M643.7 198.2h0M638.4 245.6h0M656.8 193.4h0M606.3 209.2h0M661 238h0M581.4 148.3h0M602.4 186.1h0M582.9 187.1h0M619.4 241.1h0M634.1 200h0M644.2 149.2h0M650.7 248.7h0M619.8 286.1h0M561.8 223.7h0M572.3 251.4h0M572.9 252h0M618.8 171.9h0M635.5 237.5h0M611.7 125.9h0M592.6 137.6h0M595.9 173.4h0M567 168.1h0M622.3 192.7h0M591.7 148.3h0M628 170.5h0M591.6 177.9h0M606 156.1h0M562.9 263.6h0M620.4 258.8h0M633.3 170.5h0M661.2 217.8h0M627.2 186.4h0M563.6 207.1h0M633.9 265.7h0M658.7 200.2h0M555.5 246.8h0M591.4 231h0M611.7 204.2h0M620.5 245.6h0M660.2 220.4h0M588.2 225.4h0M598.3 142.5h0M575.1 206.5h0M636.3 227.8h0M581.2 182.6h0M658.2 188.1h0M637.8 252.2h0M628.4 217.8h0M573 193h0M582 230.5h0M572.1 272.8h0M588 137.9h0M600 295.3h0M621.1 179.2h0M616 229.4h0M543.8 192.6h0M572.6 259.7h0M590.8 161.3h0M552.6 240.5h0M653.9 176.8h0M579.5 149.1h0M599 235.2h0M595.8 119.9h0M580 233.4h0M578.4 242.6h0M662.6 196.6h0M574.6 130.7h0M642.8 183.3h0M577.4 156.9h0M629.6 133.3h0M658.7 229.7h0M600.5 125.5h0M542.2 192.4h0M633.3 239.4h0M610 165h0M637.3 230.8h0M640 274.3h0M628.2 261.5h0M622 204h0M609 132.6h0M627.5 262.7h0M650.8 181.3h0M654.8 194.3h0M645.1 265.4h0M594.5 235.4h0M611.8 274.7h0M562.8 247.1h0M619.3 282.7h0M597.2 296.2h0M608.7 209.4h0M594.1 191h0M590.4 256.2h0M647.5 219.8h0M607.7 125.9h0M570.9 276.7h0M646.4 209.8h0M632.2 158.1h0M641.8 256.8h0M656.3 206.2h0M560.6 247.9h0M649.2 249.5h0M630.4 261.7h0M619.2 139.5h0M541.7 197.2h0M646.5 172.6h0M609.5 183.1h0M616.2 183.4h0M579.5 214.4h0M575.1 287.6h0M659.8 185.5h0M568.4 255h0M594 264.9h0M619.7 274.6h0M648.5 261.8h0M570.6 228.3h0M646.6 200.2h0M625.6 133.5h0M611.3 128.4h0M629.4 133.5h0M587.8 185.9h0M574 206.7h0M614.1 129.8h0M595.8 177.8h0M645 191h0M597.7 118.8h0M620.4 219.4h0M566.5 146h0M617.6 154.5h0M583.3 154.8h0M648 262.2h0M648.3 197h0M590.4 206.9h0M569.5 263.9h0M626 144.2h0M650.3 236.1h0M568.1 165.5h0M600.5 251.1h0M593.5 185.3h0M623.8 202.3h0M588.8 288.9h0M577.7 127.4h0M656.2 197.7h0M563.5 177.8h0M620.6 166.8h0M605.8 165.9h0M586.9 196.7h0M648.8 158.5h0"/><use href="#s14" stroke="#6a0614" stroke-width="6.8"/><use href="#s14" stroke="#bf0f29" stroke-width="5.3" transform="translate(-0.4 -0.4)"/><use href="#s14" stroke="#e96476" stroke-width="2" transform="translate(-1.1 -1.2)"/></g><g stroke-linecap="round" fill="none"><path id="s15" d="M565.3 204h0M629.2 239.6h0M572.9 267.3h0M565 153.8h0M591 291.2h0M658.7 179.3h0M641.6 148.9h0M607.1 290.2h0M633.1 254.6h0M596.4 245.7h0M626.4 244.9h0M594.3 296.5h0M609.6 165h0M630.4 177h0M655.9 166.4h0M610.7 154.6h0M650.7 171h0M590.7 135.9h0M567.5 217.6h0M545.3 223.7h0M557.9 168.5h0M656.3 218.3h0M570.4 253.2h0M644.4 260.8h0M661 169.6h0M617.9 191.8h0M644.2 141.6h0M574.3 207.3h0M611.9 210.8h0M596.1 138.4h0M659.2 233h0M567.9 156.4h0M561.1 169.7h0M570.1 221.5h0M562.5 201.9h0M630.9 264.8h0M595.7 287.9h0M584.3 258.8h0M609 266.5h0M642.9 168.2h0M635.3 255.5h0M588.5 194.5h0M599.5 206.4h0M609.7 297.1h0M635.3 263.1h0M613.9 293.3h0M570.4 150.6h0M653.2 254h0M629.5 203.1h0M581.5 167.4h0M627.9 248.6h0M600.7 230.1h0M562.7 217.4h0M592.6 232.1h0M660.7 211.2h0M563.7 161.3h0M574.8 197.4h0M626.9 263.6h0M585.6 177.7h0M615.8 176.7h0M616.1 238.5h0M618.6 135.2h0M586 132.5h0M570.4 234.6h0M632.5 145.7h0M620.1 119.9h0M630.4 256.3h0M581.1 274.5h0M579.4 222.1h0M566.2 232.7h0M625.8 161.4h0M623.1 170h0M577.5 259.9h0M563.5 232h0M650.5 207.6h0M649.1 204.2h0M543.7 208.6h0M659.3 177.7h0M610.4 264h0M642.1 196.6h0M569.1 215.2h0M588.1 177.8h0M642.5 135.4h0M574.7 130.2h0M613.5 150.8h0M626.5 280.7h0M666.6 186.8h0M571.9 131.4h0M610.3 119.8h0M560.2 171.1h0M549.5 226.2h0M643.8 236.7h0M633.5 188.2h0M600.1 150.8h0M637.7 143.2h0M642.6 216.5h0M610.1 267.5h0M585.8 151.2h0M576.2 187.2h0M598.5 219.8h0M593.5 125.6h0M563.2 252.2h0M620.6 162.5h0M541.7 233.5h0M626.9 267.7h0M585.4 184.3h0M625 233.4h0M599.4 268.5h0M637.3 207.5h0M547.7 184h0M567.8 166.1h0M634.7 273.8h0M595.8 153.3h0M569.3 252.2h0M605.2 116.5h0M562.5 215.3h0M657.4 162.6h0M567.8 271.5h0M637.4 130.6h0M576.8 220.6h0M650.7 207.6h0M601.8 186.3h0M639.3 282.5h0M574.8 288.6h0M584.2 142.6h0M622.9 253.3h0M588.4 145.9h0M629 285h0M602.1 221.6h0M604.8 275.1h0M604.9 130.8h0M660.6 251.5h0M573.7 276.7h0M594 170.7h0M656.6 239.2h0M555.4 255.6h0M569.1 243.5h0M558.2 160.4h0M602.7 137.2h0M637.4 251.4h0M647.1 150.7h0M571.4 132.4h0M556.3 166.8h0M603.7 283.9h0M574.7 156h0M655.2 160.2h0M591.5 233h0M615 194.7h0M636.6 217h0M589.6 123h0M655.9 159.4h0M620.5 246.4h0M642.3 245.3h0M628.1 157h0M602.6 270h0M583.7 255.3h0M614.1 219.5h0M623.6 243.5h0M604.8 117.6h0M548.9 193.4h0M550 253.2h0M589.6 243.4h0M616.7 250.7h0M615.8 248.3h0M622.7 193.6h0M634.5 222.1h0M608.1 187.2h0M664.1 192h0M572.5 245.7h0M631.5 179.3h0M590 139.4h0M610.5 243.2h0M591 288.8h0M609 163.4h0M607.5 173.5h0M631.5 159.5h0M611.9 246.6h0M664 203.7h0M622.3 121.7h0M585.5 194.8h0"/><use href="#s15" stroke="#4c6c94" stroke-width="4.8"/><use href="#s15" stroke="#98b8dc" stroke-width="3.7" transform="translate(-0.3 -0.3)"/><use href="#s15" stroke="#e0ecf8" stroke-width="1.4" transform="translate(-0.8 -0.8)"/></g><g stroke-linecap="round" fill="none"><path id="s16" d="M638.2 268.5h0M622.9 217.9h0M655.6 235.8h0M596.4 280.5h0M606.2 242.9h0M549.8 251.6h0M627 258.9h0M646.8 155h0M556.8 204.5h0M568.4 187h0M624 146h0M556.5 230.2h0M572 207.6h0M640.5 136.5h0M631.1 156.8h0M645.7 221.9h0M612.3 210.9h0M647.3 238.7h0M572.8 252.2h0M642.9 224.3h0M636.5 162.3h0M589.9 264.4h0M639.8 267.3h0M605.9 155h0M602.7 123.1h0M647.3 266.9h0M547.9 216h0M607.1 231.9h0M587.1 287.5h0M647.3 145.8h0M615.7 202.9h0M582.5 274h0M605.2 193.2h0M587.3 188.2h0M565.9 192.7h0M661.6 225.5h0M544.9 192.6h0M641.6 136.7h0M622.4 133.1h0M649.6 197.1h0M653.7 212.4h0M616.1 282.1h0M639.9 194h0M609 128.2h0M608.4 195h0M612.7 294.6h0M589.6 247.5h0M595.9 263.2h0M647.6 171.1h0M633.2 175.3h0M602.4 208.5h0M543.9 211.7h0M573.4 202.8h0M543.5 218.6h0M543.5 191.2h0M645.5 152.2h0M656.6 252.5h0M587.7 168.1h0M587.6 168.3h0M564.5 144.1h0M615.4 226.4h0M601.7 187.9h0M605 173.9h0M598.8 179.9h0M546.6 175.1h0M623.2 190.8h0M666.5 221.5h0M585.1 233.6h0M644.6 254.5h0M546.8 214.7h0M580.5 207.8h0M608.3 255.5h0M630.5 225.4h0M656.5 207h0M542.2 189.8h0M563 172.4h0M562.5 173.6h0M623 264.7h0M591.9 232.1h0M617 206.3h0M621.1 292.1h0M546.7 170.7h0M548.4 245.4h0M632.3 170.7h0M567.9 263h0M598.3 246.7h0M641.6 186.6h0M557.3 240.5h0M645.6 175.3h0M622.9 152.1h0M633.8 271h0M592.8 197.2h0M548.6 236.6h0M658.1 167.7h0M652.9 257.7h0M636.4 262.6h0M603.9 282.7h0M662.8 234.8h0M607.7 190h0M623 248.6h0M593 278h0M605.2 174.8h0M584.5 126.3h0M603.1 259.9h0M585 173.2h0M630.7 286.3h0M601.2 235.2h0M650.7 211.4h0M609.5 212.5h0M549.7 194.1h0M627.8 242.7h0M657.1 231.5h0M602.4 139.8h0M618.3 281.7h0M614 260.3h0M635.9 221.3h0M602 158.3h0M595.8 210.7h0M577.6 267.5h0M618.9 214.7h0M628.5 211.8h0M550.3 168.8h0M597.3 181.9h0M597.6 196.6h0M546.5 242.8h0M556.2 199.5h0M605.8 151.7h0M624.1 146.9h0M569.8 248.5h0M659.1 224.3h0M561.1 189.8h0M599.7 287.8h0M609.7 201.9h0M591.9 265.3h0M582.6 260.6h0M555.3 188.3h0M610.5 281.7h0M632.4 170h0M571.5 281.8h0M590.5 277.4h0M601.7 161.1h0M637.6 174.7h0M598.9 198h0M552 179.6h0M643.2 259.9h0M607.5 131.9h0M591.6 201.6h0M615.8 258.8h0M601.5 297.1h0M629.2 157.7h0M611.3 144h0M647.7 215.2h0M581.3 155.9h0M630.9 151.9h0M621.4 286.1h0M647.4 195.6h0M597.5 230.7h0M625.1 281.9h0M563.7 234.3h0M580 165h0M606.1 189.6h0M600.8 140.6h0M546 221.2h0M650.5 159.7h0M602 131.8h0"/><use href="#s16" stroke="#6a0614" stroke-width="6.8"/><use href="#s16" stroke="#bf0f29" stroke-width="5.3" transform="translate(-0.4 -0.4)"/><use href="#s16" stroke="#e96476" stroke-width="2" transform="translate(-1.1 -1.2)"/></g><g stroke-linecap="round" fill="none"><path id="s17" d="M580.9 220.6h0M597.3 215.3h0M637.3 264.6h0M607.8 144.9h0M654.4 244.2h0M606.3 118.3h0M566.9 237.1h0M637.4 276.5h0M623.8 268.4h0M574.7 201.8h0M621 212.9h0M643.6 247.9h0M603.6 205.3h0M633.4 265.4h0M585.9 154.3h0M587.3 150.8h0M604.3 245.8h0M636 228.4h0M564.7 208.2h0M638.2 186h0M563.6 136.9h0M587 284h0M640.5 225.4h0M550.1 195.8h0M613.3 248.7h0M548.6 174.7h0M635.8 145.2h0M611.9 117.2h0M588.3 141.6h0M584.7 161.1h0M569.4 206.7h0M645.7 154.6h0M589 173.6h0M578.2 227.1h0M614.1 224.7h0M593.7 224.3h0M595.8 146.3h0M583 156.2h0M611.2 229.6h0M614.5 265.5h0M606.1 276.3h0M577.4 188.3h0M601.4 203.7h0M633.2 271.2h0M608.9 273.2h0M565.3 255.1h0M643.7 245h0M605.7 239.6h0M600.7 139.9h0M548.6 249h0M562.3 159.8h0M650.7 268h0M624.8 135h0M666.6 200.2h0M575.4 258.9h0M622.1 187.9h0M544.6 192.7h0M586.9 140.2h0M580.2 274.2h0M628.3 242.9h0M619 200.2h0M573.6 185.1h0M561.5 231h0M622.5 212.5h0M620.3 248.4h0M597.1 194.3h0M587.8 292.2h0M643.7 216.8h0M664 175.7h0M595.8 155.4h0M630.7 288.2h0M601.8 286.9h0M598.5 166.6h0M657.9 165.1h0M626.8 269.1h0M599.8 277.3h0M649.4 217.1h0M580 177.2h0M640.2 160.5h0M647.7 227.7h0M556.7 259.9h0M643.4 245.7h0M593.2 212.8h0M655 214.9h0M658.8 196.1h0M591.8 120.9h0M613.7 258.3h0M572.5 146.5h0M615.8 136.5h0M597.6 214.3h0M578.3 218h0M564.9 185.3h0M633.8 199.8h0M610.4 166.3h0M653.7 216.9h0M561.2 165.3h0M594.7 232.7h0M556.5 245.1h0M570.2 175h0M597.6 294.8h0M597.3 176.5h0M605.6 222.8h0M649.4 245.3h0M623.8 125.8h0M597.8 123.7h0M637.7 137.5h0M599.3 194.7h0M597.9 293.1h0M614.9 118.6h0M594.1 174.9h0M621.6 154.3h0M608.7 195.1h0M568 183.6h0M623.9 127.7h0M640.9 158.7h0M574.3 251.6h0M581 179.9h0M630.1 157.6h0M632.5 182.2h0M641.7 260.3h0M634.9 266h0M595 295.5h0M585.3 182.1h0M656 239.4h0M619.5 210.4h0M564.4 152.4h0M605.7 149.4h0M621 256.2h0M602.8 270h0M618.1 190.9h0M553.5 154.3h0M574.6 174h0M575.8 212h0M566 217.9h0M651.5 224.9h0M573 191.2h0M575 279.4h0M648.3 192.1h0M596.8 179.5h0M637.6 136.6h0M637.9 230.1h0M594.8 192.7h0M643.2 199.9h0M568.3 281.4h0M602.5 151.4h0M627.9 188h0M605.2 277.8h0M627.7 146.7h0M609.5 257.4h0M574.1 138.9h0M639 222.2h0M604.6 270.5h0M626.4 124.2h0M641.5 154.1h0M553.8 216.3h0M569.7 281.7h0M582.7 159.3h0M606.7 293.1h0M582.2 142.3h0M624.4 283.1h0M606.7 297.4h0M634.7 153.3h0M585.8 268.7h0M590.5 176.5h0M638 161.1h0M585 154.4h0M599.6 178.3h0M651.3 187h0M659.6 199.2h0M578.2 221.5h0M598.5 120.3h0M606.3 293.9h0M636.9 238h0M562.5 178.9h0M632.1 286.5h0M623.5 140.4h0M578 191.9h0M586.4 219h0M566.4 251.7h0M567.2 244.4h0"/><use href="#s17" stroke="#4c6c94" stroke-width="4.8"/><use href="#s17" stroke="#98b8dc" stroke-width="3.7" transform="translate(-0.3 -0.3)"/><use href="#s17" stroke="#e0ecf8" stroke-width="1.4" transform="translate(-0.8 -0.8)"/></g><g stroke-linecap="round" fill="none"><path id="s18" d="M596.4 295.3h0M582.1 170.6h0M594.1 212.8h0M618.9 178.7h0M556.4 236.3h0M624.3 208.8h0M595.7 176.5h0M584.9 179.4h0M619.2 245.5h0M616.5 188.4h0M627.3 176.1h0M607.7 294.7h0M597.3 225.2h0M621.6 218.8h0M554.6 260.2h0M634.8 263.4h0M557.9 157.8h0M614.1 271h0M576.6 253h0M607.7 255.1h0M633.6 139h0M609.6 269.6h0M658.8 241.9h0M559.9 231.1h0M548.8 228.3h0M596.2 264.6h0M597.5 287.9h0M569.3 272.5h0M605.9 183.1h0M610 129.9h0M569.1 147.2h0M571.3 263.7h0M652.2 229h0M570.1 269.4h0M624.3 179.9h0M636.1 223.7h0M588.6 281.5h0M610.3 141.4h0M542.2 197.9h0M641.6 183.7h0M620.3 249.7h0M621.3 218.6h0M642.3 155h0M618 134.1h0M544.9 214.4h0M555 240h0M621.6 293.4h0M640.4 207.9h0M631.7 258.7h0M579.3 170.2h0M585.1 144.8h0M581.6 180.4h0M615.1 253.4h0M640.5 190.7h0M599.7 138.2h0M558.3 164.1h0M562.3 270.1h0M604.3 143.4h0M603.2 155.4h0M577.6 285.1h0M619.5 206.8h0M549.7 246.3h0M601.3 293.3h0M584.5 287.1h0M600.7 211.3h0M638.7 135.4h0M607.9 141.3h0M619.4 146.8h0M599 257.5h0M608.2 250.8h0M583.6 247.2h0M622 246.1h0M651.6 179.3h0M638.5 196.4h0M569.1 263h0M635.3 228.8h0M598.4 262.9h0M585.7 170.6h0M545 214.1h0M603.1 143.1h0M557.6 269.4h0M655.2 172.7h0M663.4 184.2h0M582.1 244.5h0M561.5 210.8h0M555.8 249.8h0M654.7 158.8h0M653.6 180.5h0M662.7 187.5h0M583.6 175.4h0M606.2 170.6h0M571.7 156.7h0M572.2 216.1h0M629.5 166.9h0M660.7 237.8h0M623.9 237.9h0M563.7 182.7h0M595.8 208.7h0M559.4 247.5h0M615 244.7h0M617.1 272h0M611.6 132.5h0M597.3 283.4h0M645.8 148.9h0M602.7 234.4h0M631.9 151.3h0M656.1 237.4h0M648.6 202h0M646.2 165.6h0M639.8 257.4h0M564.1 242h0M596.8 253.2h0M663 221.4h0M605.3 153.7h0M626.2 158.1h0M564.6 245h0M603 185.4h0M598.3 275.6h0M662.8 191.8h0M606.7 264.5h0M651.3 205h0M589.5 258.6h0M626 236.8h0M605.1 166.2h0M585.5 135.3h0M602.2 229.8h0M612.2 144.1h0M575.4 201.8h0M606.2 210.5h0M553.6 216.3h0M666.4 200.5h0M634.2 173.5h0M586 276.3h0M613.4 174.9h0M628 200.9h0M624.5 150.4h0M576.7 130.7h0M589.3 173.1h0M600.3 164.4h0M602.8 129.2h0M586.1 189h0M590.4 253.2h0M606.5 171.6h0M616.2 238.1h0M616.7 186.7h0M587.6 125.4h0M570.7 181.2h0M559 203.6h0M596.8 236.8h0M604.5 271.6h0M645.2 252h0M600.4 224.1h0M649.1 149.3h0M618.5 128.2h0M655 190.2h0M605.3 176.2h0M626.2 262.1h0M628.9 209.6h0M598.8 215.1h0M618.2 165h0M564.2 224.8h0M545.3 197.1h0M636 188.9h0M612.6 254.6h0M575.4 144.5h0"/><use href="#s18" stroke="#6a0614" stroke-width="6.8"/><use href="#s18" stroke="#bf0f29" stroke-width="5.3" transform="translate(-0.4 -0.4)"/><use href="#s18" stroke="#e96476" stroke-width="2" transform="translate(-1.1 -1.2)"/></g><g stroke-linecap="round" fill="none"><path id="s19" d="M635.6 267.9h0M631.3 162h0M657.2 223.4h0M613.9 202.5h0M658.5 171.5h0M631.7 144.6h0M649.6 152.7h0M625.2 154.4h0M645.6 270.1h0M575.3 276.6h0M614.1 124.9h0M586.1 170.8h0M606.1 176.4h0M575.9 209.9h0M585.3 215.6h0M631.7 277.9h0M643.7 173.2h0M566.7 195.3h0M612.6 137.7h0M595 219.7h0M580.6 238.5h0M608.4 234.3h0M547.4 224.7h0M643.3 185.2h0M663.2 196.2h0M575.1 243.4h0M604.8 251.5h0M589.2 126.4h0M603.1 196.4h0M564.6 265.9h0M604.9 281h0M614.2 175h0M613.8 123.8h0M612.9 136.3h0M555.8 154.7h0M588.5 264.9h0M641.8 194.7h0M588.3 213.4h0M634.5 180.5h0M660.6 245.8h0M593.1 229.4h0M605.4 147.6h0M592.8 253.4h0M639.2 257.4h0M606.6 255.7h0M545.8 179.5h0M664.5 192.1h0M668.4 201.4h0M618.6 271h0M639.5 167.3h0M636.3 255.6h0M659.1 184.8h0M641.4 176.8h0M545 171.8h0M582.4 126.1h0M625.7 242.9h0M557.5 239.4h0M604.3 207.1h0M588 287.4h0M590.8 158.9h0M593.6 168.7h0M571.8 191.5h0M654.6 242.5h0M593.4 252.9h0M629.2 159.5h0M580.9 137h0M593.9 166.7h0M631.6 239.1h0M640.1 192.9h0M592.6 183.7h0M608.4 199.9h0M570.6 269.5h0M583.9 258.2h0M616.9 130.9h0M610.6 166.7h0M586.6 182h0M589 252.7h0M625.9 290.4h0M602.2 244.8h0M642.6 199.8h0M554.1 218.6h0M596.4 132.4h0M614.8 193.2h0M587.9 251.3h0M548.3 252.9h0M643.4 265.7h0M644.2 233.7h0M556.6 189.5h0M639.8 242.4h0M566.6 182.3h0M654.7 240.5h0M582.2 235h0M599.5 223.4h0M590.5 223.6h0M588.4 287.1h0M616.5 282.4h0M592.5 199h0M601.5 155.4h0M585 198.6h0M579.1 224.1h0M625.7 260.5h0M602.9 161.8h0M636.6 140.2h0M611.7 209.3h0M614.8 119.2h0M598.7 281.4h0M611.6 125h0M604.6 216.1h0M633.3 287.4h0M568.3 271.6h0M543.9 211.2h0M598.1 233.8h0M656.3 177.2h0M631.8 209.7h0M586.8 181h0M576.9 223.2h0M587.8 216.1h0M568.3 262h0M598.6 230.7h0M587.7 248h0M647.6 209.2h0M588.5 239h0M554.8 185.5h0M611 285.7h0M640.4 163.1h0M623.5 291.2h0M628.7 173.1h0M637.6 204.8h0M626.7 170.6h0M630.3 230h0M616.9 217.3h0M590.9 222.1h0M595.3 268.3h0M615.8 270.7h0M632.4 238h0M612.9 153.9h0M614.1 240.4h0M631.2 207.1h0M549.6 164.2h0M576.4 268h0M603.4 126.3h0M570.4 213.7h0M658.7 221.4h0M608.8 181.4h0M582.1 233.6h0M579 192.1h0M561.9 156.3h0M636.6 202.9h0M545.6 180.3h0M570.6 262.4h0M668 216.4h0M554.3 229.1h0M558.9 150.9h0M611.9 244.8h0M594 267.1h0M602.4 279.7h0M593.1 180.6h0M640.9 198.9h0M578.6 260h0M624.3 191.7h0M581.2 290.1h0M589.6 257.2h0M654 235h0M566.3 154h0M588.6 271.7h0M610.9 155.7h0M566.1 240.3h0M662 217.4h0M559 228.2h0M623.8 220.6h0M634 258.3h0M633.9 255.4h0M550.2 172.5h0M569.6 255.2h0M608.3 164.3h0M587 165.9h0M574.3 236h0M584.8 213.3h0M567.1 280.4h0M637.9 228h0"/><use href="#s19" stroke="#4c6c94" stroke-width="4.8"/><use href="#s19" stroke="#98b8dc" stroke-width="3.7" transform="translate(-0.3 -0.3)"/><use href="#s19" stroke="#e0ecf8" stroke-width="1.4" transform="translate(-0.8 -0.8)"/></g><g stroke-linecap="round" fill="none"><path id="s20" d="M552.1 157.3h0M613.5 201.3h0M549.7 201.3h0M560 262.2h0M658.5 247.2h0M594 290.5h0M632.5 242.5h0M618 134.4h0M575.1 230.8h0M619.7 163.7h0M587.2 231.7h0M611.1 229.3h0M613.3 149.3h0M553.1 208.6h0M583.5 259h0M638.1 155.1h0M613.1 255.1h0M565.8 272.3h0M644.5 225.2h0M610.5 245.9h0M569 134.3h0M649.4 148.6h0M622.8 247.2h0M546.3 182.7h0M619.7 168.7h0M638.2 281.4h0M578.1 211.5h0M629.3 227.1h0M572.9 139.7h0M628.7 207h0M657.3 248.8h0M591.9 267.3h0M574.7 168.3h0M603.9 234.6h0M580.8 283.3h0M607.8 161.3h0M578.5 226.3h0M641.1 247.2h0M603.6 232.6h0M621.4 229.3h0M596.7 292h0M602.9 196.7h0M645 240.7h0M607.8 244.4h0M605.4 240.6h0M594.3 270h0M641 209.7h0M617.3 141.4h0M544.5 226.7h0M618 133.3h0M569.2 256.1h0M605.7 144.6h0M580.1 244.1h0M593.2 219.2h0M619.1 130.1h0M593.7 249.8h0M595.3 143.1h0M599.1 209.2h0M631.3 179h0M591.9 228.4h0M614.1 242.4h0M555.5 166.5h0M577.1 200h0M564 175.7h0M602.1 201.5h0M600.5 124.6h0M635.2 224.7h0M646.1 225.8h0M590.4 281.5h0M594.6 179.9h0M641.4 218.9h0M616.2 167.4h0M566.2 196.1h0M595.6 151.3h0M586.7 245.6h0M570.7 212.9h0M579.1 173.4h0M615.3 266.8h0M653 190.9h0M623 137.2h0M634.4 262.8h0M630.4 190h0M611 204h0M555.4 171.9h0M592.9 251.9h0M557.7 258.6h0M635.7 173.2h0M630.4 239.1h0M622.5 202h0M582.8 231.4h0M627.7 280.1h0M632.3 229.9h0M634.8 183.5h0M544.7 219.7h0M561.6 166.3h0M574.7 218.1h0M658.2 220.7h0M604.9 134.6h0M601.6 168.2h0M644.4 141.7h0M645.2 191.4h0M567.2 196.6h0M605.5 189.7h0M637.6 229.6h0M654.1 243.1h0M654.8 248.1h0M575.4 229.2h0M569.9 163.9h0M650.1 206.9h0M576.6 251.7h0M587.9 123.9h0M579.6 275.7h0M582 152.2h0M569.7 246.5h0M590 256.8h0M648.9 161.7h0M577.4 247.8h0M540.7 213.3h0M574.3 183.4h0M566.5 231h0M590.2 284.7h0M561.1 202.2h0M563.2 214.7h0M593.6 238.4h0M548.4 223.7h0M641 262.3h0M610.7 145.6h0M654.9 258.7h0M633.3 208h0M654.9 177.7h0M612.3 166.6h0M551.3 203.8h0M624.9 165.7h0M558.7 257.6h0M605.3 164.7h0M558.5 153.5h0M611.4 129.8h0M605.7 239.4h0M578.7 141.9h0M567.9 230.4h0M558.8 148.4h0M568 218.3h0M656.6 161.5h0M611.9 198.2h0M624.9 227.7h0M612.2 141.7h0M662.2 195.9h0M601.3 165.6h0M613.9 155.4h0M589.1 190.5h0M633 276.8h0M563.8 202.4h0M635.9 268.7h0M628.9 289.4h0M612.5 248.9h0M600.5 175.2h0M658 248h0M666.3 205.8h0M565.4 248.5h0M578.1 186.1h0M613.9 221.7h0M546.6 220.8h0M578.3 159.7h0M616.5 294.8h0M571.4 227.7h0"/><use href="#s20" stroke="#6a0614" stroke-width="6.8"/><use href="#s20" stroke="#bf0f29" stroke-width="5.3" transform="translate(-0.4 -0.4)"/><use href="#s20" stroke="#e96476" stroke-width="2" transform="translate(-1.1 -1.2)"/></g>
<path d="M797 276L836 246L914 262L878 310Z" fill="#2a2a2c"/><path d="M797 276L836 246L914 262L878 310Z" fill="url(#mesh2)"/><path d="M794.6 141.5L806.7 133.8L817.6 130.5L833 120.7L850.5 122.9L859.3 116.3L876.8 105.3L892.1 109.7L895.4 118.5L889.9 125L903.1 130.5L905.3 137.1L916.2 144.8L920.6 155.7L916.2 164.5L918.4 177.6L918.4 193L914 203.9L916.2 221.4L911.8 239L916.2 256.5L911.8 271.8L907.4 282.8L894.3 293.7L881.2 298.1L861.4 292.6L841.7 286.1L824.2 279.5L806.7 272.9L795.7 266.3L794.6 243.3L791.3 228L799 208.3L793.5 186.4L793.5 166.7Z" fill="#6b93c0" stroke="#7aa5cf" stroke-width="3.5" stroke-linejoin="round"/><path d="M882.5 147.9h0M852.6 289.1h0M810.5 214.5h0M864.1 241h0M808.7 199.7h0M839.1 193.2h0M864.2 124h0M875.8 206.1h0M900.4 173.8h0M907.1 278.1h0M893.7 261.6h0M906.5 141.5h0M850.6 259.7h0M879.6 112.3h0M900.6 239.6h0M814.9 196.8h0M861.4 231.5h0M803.8 236h0M820.6 159.7h0M840.6 229.8h0M875.2 188.8h0M855 269.5h0M833.2 134.4h0M862.1 206.4h0M825 264.8h0M883.1 241.2h0M825.7 231.3h0M848.6 176.5h0M851.8 192.2h0M911 178.4h0M882 274.8h0M873.1 259.4h0M793.9 232.7h0M805.7 226.8h0M821.2 244.7h0M865 172.1h0M866.2 223.9h0M842.2 201.4h0M831.3 138.6h0M809.7 174.6h0M823.7 161.6h0M877.6 248.6h0M835 155.7h0M901 162.2h0M890.3 281.3h0M899.6 287.1h0M839.5 151.6h0M865.6 190.7h0M912.9 228.6h0M870.6 138.4h0M906 273.2h0M817.6 233.7h0M827.3 225.4h0M851.5 143.9h0M913.2 144.9h0M906.3 172.7h0M870.3 208.8h0M903.9 202.1h0M907.1 203.1h0M811.8 175.1h0M809 173.1h0M893.3 147.9h0M857.7 249.4h0M892.6 140.9h0M830.4 265.3h0M857.3 169.8h0M899.6 210h0M868.4 290.3h0M903.2 221.3h0M914.5 225.4h0M815.2 212.6h0M879.1 297.4h0M809.4 149.8h0M890.2 159.7h0M879.9 215.6h0M856.3 217.7h0M843.1 273.8h0M900.9 204.4h0M874.3 258.3h0M838.4 202.8h0M806.8 245.4h0M797.4 146.5h0M852 164.1h0M906.8 220h0M873.4 127.6h0M891.1 127.4h0M855.1 264.1h0M831.1 197.7h0M894.4 152.5h0M864.8 121h0M816.7 257.1h0M898.7 185.5h0M813.5 182.6h0M889.3 267.1h0M814.9 226h0M879.8 261.9h0M881.8 152.7h0M820 163h0M869.1 118.9h0M868.8 133.7h0M862 138.1h0M876.1 281.1h0M824.9 215.2h0M875.3 260.5h0M838.6 134.1h0M820.9 142.9h0M855.6 229.3h0M905.7 137.9h0M871.7 284.5h0M862.1 163.1h0M836.5 254.4h0M893.7 249.9h0M878.9 285.2h0M807.7 191.2h0M897.1 229.4h0M855.4 167.9h0M857.9 218.3h0M873.1 277.8h0M801.7 259h0M815.7 169h0M833.4 121h0M837.4 163.3h0M803.6 231h0M827 182.6h0M877.3 249.3h0M889.5 199.7h0M823.5 203.9h0M908.2 201.8h0M802.5 170.3h0M804.7 164.3h0M892.8 276h0M832.4 278.2h0M805 270.9h0M882.2 282.8h0M852.9 140.6h0M845.1 280h0M863.7 115.5h0M866.1 139.4h0M864.8 228.7h0M820.9 255.8h0M810.5 240.3h0M850.2 124.1h0M878.8 278.8h0M915 219.5h0M843.8 208.1h0M899.4 187h0M864.6 147.9h0M902.9 233.2h0M836.2 263.9h0M837.4 284.3h0M845.7 199.6h0M831.1 243.9h0M910.5 162.4h0M895.4 253.1h0M805.6 160.3h0M914.8 188h0M909 176.2h0M884.4 221.5h0M850.9 194.2h0M809.3 136.3h0M901.3 231.6h0M796.9 170.5h0M841.9 183.1h0M813.6 192.1h0M824.7 264.1h0M830.6 192.3h0M885.1 115.3h0M809.3 215.9h0M870.9 286.2h0M908.1 219.2h0M851.2 130.3h0M901.4 244.2h0M860.5 184h0M897.9 210.7h0M839 150.9h0M819.3 273h0M820.9 261.5h0M912.3 218.2h0M858.9 243.5h0M822.2 176.2h0M831.8 179h0M895 170.8h0M877.2 163.8h0M893.2 282.3h0M852.9 204h0M813.2 214.1h0M894.3 161.1h0M885.7 182.5h0M862.1 229.6h0M840.9 168.2h0M878.3 113.2h0M817.2 184.3h0M873.9 226.7h0M864.4 126.5h0M870.8 169.5h0M826.6 224h0M905.8 182.1h0M900.5 174.4h0M873.6 271.2h0M868.4 130.1h0M799.1 236.1h0M813.3 158.7h0M814.3 170.3h0M871.8 136.9h0M841.1 282h0M844.2 238h0M868.3 272.9h0M907.2 221.8h0M831 157.5h0M862.7 134.7h0M895.4 209.2h0M825.5 223.6h0M867.4 111.2h0M806.8 230.3h0M836.1 196.1h0M873.5 295.9h0M901.1 149.9h0M868.6 200.4h0M840.3 161.8h0M884.1 287.3h0M869.8 165h0M877.8 217.4h0M870.5 228.5h0M889.5 169h0M893.8 146h0M796.4 245.2h0M872.7 125.1h0M912.5 172.1h0M824.3 248h0M884.2 282.1h0M888.9 186.3h0M801.9 267.8h0M910.9 142.9h0M840.3 222.2h0M889.9 249.2h0M842 159.7h0M870.4 195.4h0M877.6 228.2h0M818.9 193.1h0M901.3 261.9h0M855 174.5h0M851.2 249.6h0M817.1 133.3h0M854.4 216.8h0M859.5 259.8h0M822.2 172.6h0M886.5 231.2h0M883.4 153.7h0M823.5 234.2h0M801.2 202.1h0M908.2 175.3h0M794.9 165.5h0M858.6 247.7h0M814.1 208h0M851.6 176.8h0M855.6 216.7h0M812.3 259.4h0M857 286.5h0M850.4 268.7h0M840.9 236.9h0" stroke="#23314f" stroke-width="6.8" stroke-linecap="round" fill="none"/><g stroke-linecap="round" fill="none"><path id="s21" d="M802.3 162.3h0M814.1 174.8h0M883.9 128.6h0M814.2 245.8h0M824.3 260.7h0M831.1 258.6h0M847 230.4h0M862.5 127h0M838.2 196.8h0M838.5 216.3h0M913.1 163.4h0M900.2 245.5h0M807.6 222.4h0M866.9 113.6h0M806.6 195.4h0M829.8 230.3h0M880.8 185.9h0M821.4 155.4h0M856.9 233.7h0M857.4 123.1h0M830.9 126.9h0M911.3 259.7h0M881.1 268.9h0M834.5 222.5h0M867.7 118.2h0M829.1 153.1h0M875 163.4h0M891 155.2h0M833.3 249.4h0M860.3 281.7h0M871.8 134.1h0M836.5 188.7h0M820.9 210.3h0M861.3 285h0M906.6 152.7h0M803.1 192.2h0M797.3 196.1h0M903.2 216.7h0M890.5 244.2h0M870.5 109.3h0M837.2 199.3h0M799.4 197.4h0M841 222.1h0M901.3 178.3h0M848.2 285.6h0M799.2 259.2h0M845.7 285.3h0M907.6 177.3h0M859.3 244.5h0M814.5 147.6h0M806.7 258.8h0M896.9 167.6h0M842.2 138.2h0M800.1 168.7h0M812.1 237h0M833.5 259.4h0M838 247.1h0M895 118h0M901.3 229.9h0M900.1 172.6h0M828.3 179.7h0M864.1 185.6h0M853.4 192.9h0M802.2 246.5h0M811.1 185.3h0M851.6 266.8h0M872.1 197.1h0M811.5 180.5h0M872.6 268.4h0M832.8 133.1h0M878.2 272.1h0M854.7 197.9h0M866.5 194.9h0M888.2 212.6h0M890.5 217.7h0M867.4 135h0M881.7 107.9h0M891.2 291.9h0M865.9 133.4h0M834.2 173.7h0M884.2 215.7h0M888.1 140.8h0M841.5 140.7h0M897.4 249.6h0M880.7 211.6h0M804.6 205h0M847.4 283.1h0M831.8 173.7h0M856.9 275.4h0M877.9 107.3h0M830.8 129.2h0M871.1 207.6h0M812.4 137.4h0M909.1 260.5h0M830.7 152.7h0M883.4 239.2h0M842.8 246.2h0M794.5 178.8h0M873 168.8h0M852.9 287.3h0M902.6 264.7h0M834.7 127.8h0M872.7 149.2h0M899.1 265.6h0M828 161.5h0M880.3 149.3h0M895.8 249h0M919 154.9h0M855.7 262.6h0M851.3 161.5h0M801.7 227h0M809.6 263.6h0M819.1 270h0M891.3 237.9h0M899.3 140h0M906.4 147.7h0M898.4 208.1h0M804.2 168.2h0M813.7 151.4h0M795.5 249.6h0"/><use href="#s21" stroke="#4c6c94" stroke-width="6.2"/><use href="#s21" stroke="#98b8dc" stroke-width="4.8" transform="translate(-0.4 -0.4)"/><use href="#s21" stroke="#e0ecf8" stroke-width="1.9" transform="translate(-1 -1.1)"/></g><g stroke-linecap="round" fill="none"><path id="s22" d="M841.2 149.2h0M879.9 296.6h0M914.2 160.2h0M796.1 261h0M804.1 222.2h0M800.7 168.6h0M855.2 278.7h0M807.4 239.5h0M803.1 137.2h0M808.9 260.1h0M801.4 172.4h0M811.7 186.5h0M898.2 171.8h0M903.6 139.4h0M857.5 275.5h0M863.2 258.8h0M835.2 268.4h0M828.6 137.9h0M892 222.3h0M829.9 134.3h0M822.8 144.5h0M862.5 217.6h0M901.8 130.2h0M893.7 282.1h0M847.9 154.3h0M911.7 149.6h0M821.2 145.9h0M825.5 218h0M851 192.5h0M844.7 168.7h0M873.9 189.5h0M914.2 259.4h0M847.9 168.2h0M900.3 208.2h0M828.3 159.2h0M864.2 159.5h0M887 247.7h0M812.6 206.2h0M888.8 238h0M833.8 245.1h0M813.6 220h0M836.6 172h0M806.4 237.3h0M813.6 217.8h0M802.5 199h0M833.2 269h0M858.4 223.5h0M827.9 251.9h0M871.6 245h0M868.8 231.3h0M810.3 199.2h0M832.5 140.7h0M805.5 135.3h0M885.9 175.2h0M885.4 247.4h0M803.9 258.3h0M873.8 286.7h0M892.1 191h0M867.7 254.1h0M809.1 238h0M849.2 266.6h0M818.6 132.4h0M870.7 253.7h0M841 122.9h0M891.6 279.3h0M853.5 182.8h0M875 232.6h0M893.3 225h0M812.3 238h0M905.4 179.5h0M866.8 203.9h0M870.8 178.7h0M890.5 165.5h0M892.8 236.3h0M911.1 142.7h0M808.3 233.6h0M844 270.1h0M881.8 107.9h0M883.2 165.6h0M834.5 209.8h0M823.4 229.3h0M845.3 136.9h0M890.5 191.2h0M891.4 289.7h0M855.1 211.7h0M866.5 152h0M905.9 170.5h0M885.3 247.3h0M900.2 270.9h0M866.1 245.5h0M822.7 221h0M881.9 192.9h0M816.1 256.4h0M816.2 187.6h0M861.1 156h0M860.9 221.4h0M855.2 211.9h0M827.9 143.2h0M828.9 153.4h0M824.3 198.7h0"/><use href="#s22" stroke="#6a0614" stroke-width="9.4"/><use href="#s22" stroke="#bf0f29" stroke-width="7.3" transform="translate(-0.6 -0.6)"/><use href="#s22" stroke="#e96476" stroke-width="2.8" transform="translate(-1.5 -1.6)"/></g><g stroke-linecap="round" fill="none"><path id="s23" d="M795 241.3h0M897.5 179.5h0M834.1 168.7h0M807.1 143.8h0M849.6 241.1h0M878.7 162.4h0M882.5 240.4h0M819.4 220.1h0M818.2 269.3h0M832.3 190.3h0M884.7 256.6h0M880.9 159.7h0M809.5 177.5h0M843.3 279.6h0M894.7 141.8h0M840.6 265.2h0M878.9 296.6h0M835.2 180.9h0M862.8 120h0M892.2 259.9h0M884.1 131.9h0M841.1 240.8h0M870.1 180h0M861.1 219.2h0M885.5 129h0M884.6 141.8h0M858.9 187.6h0M840.4 197h0M812.7 137h0M805.1 157.7h0M813.4 153.2h0M872.3 177h0M799.7 183.7h0M804.1 163.1h0M819.8 264h0M806.3 150.2h0M902.8 184.7h0M898.2 139.1h0M865.1 183.1h0M866.1 127.2h0M898.4 212.7h0M891.3 211.7h0M893.9 200h0M845.5 178.5h0M865.3 226.7h0M845.5 282.7h0M796.1 184.2h0M864.5 192.6h0M907.6 256.4h0M877.9 187.6h0M838 192h0M874.9 264.6h0M865.4 212.3h0M857.7 128.2h0M911.5 247.8h0M862.9 289.8h0M886.1 225.5h0M909.6 212.4h0M865.5 171h0M810.1 249h0M913.4 210.6h0M882.7 155.7h0M856 285.7h0M857.8 263.7h0M852.8 198.5h0M860.6 202.5h0M892 282.3h0M875.3 234.4h0M867.3 118.2h0M797.8 147.6h0M832.4 239.6h0M826.5 129.1h0M903.1 208.4h0M801.9 164.1h0M796.4 239.8h0M813.1 157h0M801.1 170.8h0M816.6 173.4h0M805.8 154.3h0M896.2 128.9h0M905.4 258.8h0M883.7 246.2h0M828.1 274.7h0M795.3 244.5h0M853.6 223.6h0M871.8 178.3h0M799.8 143.3h0M897.5 273.4h0M829.6 198.5h0M912.7 210.8h0M825.8 158.5h0M882.5 234.3h0M840.2 126.7h0M867.4 168.3h0M863.9 232.9h0M902.1 130.9h0M898.2 290h0M863.7 156.7h0M907 257.3h0M830.2 217.5h0M823.8 195.5h0M855.1 120.6h0M874.8 123.6h0M906.7 240.3h0M892.8 219.9h0M812.8 141.4h0M839.2 272.5h0M799 255.3h0M857.3 212.2h0M814.3 164.5h0M861.2 137h0M829.1 182.7h0M827.4 136.3h0M849.7 188.9h0M902.9 145.9h0M849.4 152.3h0M890.8 192.2h0M862.5 117.8h0M842 195.2h0M807.9 242.2h0"/><use href="#s23" stroke="#4c6c94" stroke-width="6.2"/><use href="#s23" stroke="#98b8dc" stroke-width="4.8" transform="translate(-0.4 -0.4)"/><use href="#s23" stroke="#e0ecf8" stroke-width="1.9" transform="translate(-1 -1.1)"/></g><g stroke-linecap="round" fill="none"><path id="s24" d="M908.9 271.6h0M884.4 205.5h0M895.1 150.9h0M909.3 180.7h0M823.4 262h0M845.5 256.6h0M904.9 269.7h0M897.8 220.8h0M798.5 151.1h0M913.6 198.3h0M840 254.7h0M796.8 176.1h0M876.8 162.6h0M912.4 223.9h0M908.4 264.6h0M838.6 207.7h0M903.6 273.3h0M806.2 241.2h0M877.1 122h0M857.7 220.8h0M875.4 117.2h0M853.3 235.7h0M899.3 246h0M812.4 227h0M800.9 215.1h0M905.2 164.2h0M879.2 200h0M907.3 186.9h0M906 140.7h0M810.5 197.2h0M907.9 165.8h0M902 251.3h0M827.8 144.5h0M843.9 262h0M884.7 194.6h0M866.4 119.4h0M825.9 260.7h0M814.4 223.5h0M860.3 287.3h0M884.9 107.9h0M905.3 226.2h0M848 183.5h0M880.5 141.7h0M899.4 170.8h0M907.1 193.3h0M910.4 183.1h0M906.8 140.7h0M831.5 192h0M842.1 154.6h0M866.1 129.7h0M915.7 180.2h0M840.8 229.3h0M841.7 234.6h0M905.2 144.6h0M881.1 192.8h0M861.6 260.4h0M888 174.8h0M825.5 196.9h0M885.3 123.7h0M832.4 155h0M872.5 220.4h0M896.9 132.5h0M880.8 122.4h0M855.1 229.8h0M842.2 171.4h0M913.3 165.6h0M819.5 144.7h0M842.6 226.3h0M879.9 147.9h0M885 183.8h0M798.6 168.1h0M859.3 290.9h0M835.9 204.2h0M795 244.2h0M806.2 177.5h0M837.3 279.1h0M842.4 202h0M836.1 147.1h0M819.3 250.8h0M834.3 144.5h0M816.4 228.8h0M876.2 142h0M893.4 186.4h0M803.9 216.2h0M824.7 261.1h0M854.8 143.2h0M827.6 186.5h0M867.9 178.3h0M878.5 196.2h0M897.2 231.9h0M898.1 185.7h0M873.8 113.4h0M869.6 122.6h0M823.4 185.6h0M838.9 168h0M812.4 143.5h0M894.5 289.2h0M865.1 116.6h0M874.3 255.4h0M899 189.6h0"/><use href="#s24" stroke="#6a0614" stroke-width="9.4"/><use href="#s24" stroke="#bf0f29" stroke-width="7.3" transform="translate(-0.6 -0.6)"/><use href="#s24" stroke="#e96476" stroke-width="2.8" transform="translate(-1.5 -1.6)"/></g><g stroke-linecap="round" fill="none"><path id="s25" d="M895.3 232.7h0M888.1 232h0M818.7 219.2h0M813.8 156.9h0M912 206.4h0M797.6 145.2h0M820.8 150.1h0M913 266.6h0M905.8 163.3h0M875.5 206.5h0M872.1 115.7h0M888.8 248.2h0M887.1 109.3h0M894.9 138.3h0M825.1 170.9h0M865.6 181.3h0M812.5 139.2h0M893.3 221.9h0M855.7 261.3h0M894.6 290.8h0M862.6 192.9h0M864 203.5h0M804.4 176.7h0M882.3 117.2h0M908.8 204.9h0M867.6 250.8h0M871.8 216.9h0M893.1 232.7h0M832 128.9h0M898.2 130.7h0M870.3 129.2h0M839.5 192.2h0M899.2 258h0M881.4 186.8h0M875.9 220.8h0M802.9 159.3h0M844 247.3h0M862 146.4h0M822.8 256.5h0M911.3 228.4h0M906 277.8h0M871.7 158.9h0M868.6 243.4h0M871 125.7h0M799.2 266.3h0M909.7 160h0M879.8 251.6h0M801.8 164h0M831.5 231.5h0M871.7 291.7h0M821.2 140.9h0M872 131.2h0M847 218.4h0M807.7 253.8h0M823.7 128.9h0M832.5 248.4h0M840.4 126.5h0M857.9 140.3h0M888.8 180.4h0M881 149.8h0M858.4 285.3h0M867.6 118.5h0M847.5 179.3h0M880.5 203.7h0M825.1 277.6h0M829.2 143.2h0M912.3 255.6h0M872 290.5h0M805.4 170.1h0M804.7 228.1h0M884.4 264.6h0M868.2 197.5h0M836.3 179.7h0M863.5 265h0M826.9 257.7h0M898.4 183h0M908.4 198h0M839.6 127.5h0M838.2 152.8h0M850.6 203h0M891.1 274.8h0M898.2 172.6h0M848.6 244.1h0M823.4 156.9h0M845.1 131.2h0M870.6 200h0M812.5 196.7h0M840.9 246.1h0M804.6 165.6h0M895.3 211.1h0M848.3 176.1h0M844.3 166h0M881.2 291.5h0M894.7 276.3h0M905.4 162.3h0M893.1 212.6h0M873.1 214.8h0M888.9 128.9h0M890.2 156.3h0M913.2 178.8h0M831.6 167.2h0M834.1 246.7h0M854.2 255.8h0M872 216.4h0M886.5 116.5h0M797.4 249.5h0M797.1 262.6h0M838.4 208.3h0M902.3 218.7h0M812.7 232.3h0M914.4 166.6h0M872.2 229.4h0M869.3 247.5h0M834.6 231.7h0M853.5 157.4h0M832.3 278.3h0M876.9 265.4h0M807.5 183.4h0M874 138.8h0M820.1 209.3h0"/><use href="#s25" stroke="#4c6c94" stroke-width="6.2"/><use href="#s25" stroke="#98b8dc" stroke-width="4.8" transform="translate(-0.4 -0.4)"/><use href="#s25" stroke="#e0ecf8" stroke-width="1.9" transform="translate(-1 -1.1)"/></g><g stroke-linecap="round" fill="none"><path id="s26" d="M853.4 149.7h0M794.7 145.1h0M905.9 260.3h0M891.5 272.1h0M808.4 194.3h0M899.3 163.4h0M878.1 241.9h0M880.5 171.3h0M851.7 282.1h0M878.1 162.8h0M914.5 188.5h0M858 221.5h0M826.6 220.3h0M836.5 258.7h0M849.3 142.4h0M844.4 240.1h0M857.4 244h0M797.8 162.5h0M870.3 272.4h0M808 141.6h0M884 266.5h0M898.9 162.5h0M868.9 281.3h0M812.6 177.9h0M897.2 141.1h0M859.2 140.8h0M836.1 283.4h0M909 230.9h0M799.5 165.2h0M873.8 171.5h0M819 265.8h0M797 230.4h0M858.5 259.5h0M809.6 227.7h0M803.8 176.5h0M903 147.4h0M879.6 145.4h0M849.8 239.4h0M832.3 170.2h0M842.7 166.8h0M865.5 126.7h0M872.4 219.3h0M903 285.9h0M882.7 273.1h0M879.1 254.9h0M835.4 209.4h0M806.1 218.7h0M863.4 224.9h0M908.1 183.5h0M849.9 158.8h0M836.7 123h0M854 225h0M883.5 139.1h0M913.5 218.1h0M862.1 175.8h0M875.6 216.6h0M824.7 210.4h0M870.1 215.3h0M855.4 252.9h0M885.4 258.3h0M869 272h0M897.3 243.6h0M866 119.7h0M892.8 233h0M807.7 229.5h0M859.9 278h0M845.9 283.5h0M902.2 206.4h0M828.8 185.9h0M892.5 116h0M877.5 264.9h0M813.7 205.9h0M901.5 270.6h0M841.1 229.7h0M896.5 168.5h0M846.5 184.3h0M894.4 181.3h0M841.7 282.5h0M830.4 178.3h0M847.9 239.1h0M825.6 215.1h0M906.3 197.2h0M908.9 164.1h0M875 295.4h0M822.4 214.5h0M880.3 235.6h0M816 198.5h0M865.5 153.9h0M911.7 238.3h0M887.6 275.9h0M888.7 257.4h0M801.7 267.1h0M793.5 231.4h0M883.2 219.5h0M813.1 261.7h0M876.4 144.8h0M852.9 192.6h0M859.2 240.5h0M844.9 149.8h0M843.9 180.1h0"/><use href="#s26" stroke="#6a0614" stroke-width="9.4"/><use href="#s26" stroke="#bf0f29" stroke-width="7.3" transform="translate(-0.6 -0.6)"/><use href="#s26" stroke="#e96476" stroke-width="2.8" transform="translate(-1.5 -1.6)"/></g><g stroke-linecap="round" fill="none"><path id="s27" d="M820.8 130.4h0M843.7 265.5h0M865.1 152.4h0M825.1 126.8h0M844.4 192.8h0M845.9 163.4h0M890.3 255.1h0M853.5 270.4h0M801.7 213.6h0M888.1 137.7h0M833.4 127.7h0M844.1 135h0M905.6 169.3h0M826.7 258.8h0M904.1 223.8h0M906.8 261.1h0M914.9 185.2h0M838.8 129.2h0M868.3 168.7h0M820 174.6h0M802.2 192.1h0M891.6 279.7h0M903.9 270.2h0M837.3 182.3h0M834.7 220.8h0M874.3 190.4h0M831 218.8h0M878.6 175.3h0M821.3 194.4h0M912 233.4h0M897 223.6h0M796.9 157h0M841.7 257.8h0M862.2 238.4h0M891.1 146h0M897.4 169.3h0M872.9 131.3h0M888 137.4h0M878.9 146.3h0M892.5 251.4h0M891.5 196.6h0M803.5 161.2h0M817.2 170.6h0M843 251.6h0M857.8 191.7h0M854.3 229.3h0M850.1 195.1h0M797.5 245.9h0M893 120.8h0M823 239.1h0M836.6 229.9h0M821.2 234.9h0M867 167.6h0M897.6 193h0M835.5 200.4h0M874 219.4h0M860.4 209.4h0M830.9 205.7h0M856.7 200.7h0M850.8 170.1h0M893.3 291.1h0M865.5 180.1h0M903.3 170.8h0M815.5 252.6h0M875 240.5h0M889.4 235.6h0M898.2 146.7h0M855 143.3h0M864.1 135h0M823.6 264.5h0M833.3 191.1h0M838.9 233.7h0M865.9 280.4h0M826.2 167.7h0M875.4 137.4h0M834.9 188.9h0M896.2 155.9h0M874.6 220.8h0M860.9 159.4h0M873 220.6h0M912.9 148h0M828.6 203.2h0M800.4 255h0M912.6 230.4h0M916.3 196.8h0M804.2 178.2h0M863.1 233.4h0M874.8 219.2h0M852.4 172.2h0M875.5 112.8h0M885.3 140.5h0M861.5 197.4h0M904 182.1h0M819.3 214.3h0M835.8 154.4h0M900.9 264.7h0M868.4 226.7h0M907.5 230.2h0M898.1 187h0M841.9 284.8h0M828.3 165.7h0M885.6 243.3h0M852.7 145.6h0M857 290.9h0M871.4 156.4h0M842.9 124.4h0M834 204h0M813.7 185.5h0M838.7 148.1h0M877.3 272.3h0M910 145.6h0M862.4 253.6h0M843.9 284h0M888.8 230.4h0M860 225h0M879.3 207.2h0M871.9 226.8h0M844.4 188h0M863.1 135.6h0M843.2 139.7h0"/><use href="#s27" stroke="#4c6c94" stroke-width="6.2"/><use href="#s27" stroke="#98b8dc" stroke-width="4.8" transform="translate(-0.4 -0.4)"/><use href="#s27" stroke="#e0ecf8" stroke-width="1.9" transform="translate(-1 -1.1)"/></g><g stroke-linecap="round" fill="none"><path id="s28" d="M810.7 219.1h0M855 245h0M893.7 177.8h0M821.2 232.6h0M893.8 236.7h0M798 177.2h0M802.9 238.2h0M820.5 236.2h0M859.2 161.2h0M890.3 198.7h0M853.1 245.8h0M906.2 218.8h0M915.9 177.7h0M845.4 145.5h0M862.3 146.4h0M874.3 128.7h0M855 125.8h0M803.9 137.1h0M825.4 237.5h0M800.6 235h0M896.4 239.5h0M838.6 210.6h0M916.2 148.9h0M803.6 189.3h0M878 149.1h0M845.2 183.4h0M806.9 257h0M886.9 115.6h0M831.5 253.5h0M896.3 177.1h0M880.2 125.9h0M907 138.9h0M850.7 273h0M848 196.9h0M868.6 266.9h0M869.1 291.3h0M840.9 155.3h0M845.8 172.4h0M838.8 148.7h0M901.5 165h0M839.8 282.8h0M799.5 208.4h0M876.6 233.6h0M846.4 282.3h0M890.1 147.3h0M852.4 164.8h0M826 266.2h0M876.7 277.2h0M906 143.7h0M872.9 127.3h0M853 165.4h0M829.8 155.3h0M890.6 137.5h0M814.1 237.1h0M844.9 246.8h0M898.7 266.4h0M848.1 141h0M878.2 225.2h0M864.1 239.6h0M846.2 199.4h0M797.4 165.2h0M865.9 200.8h0M867.1 263.2h0M819.5 145.7h0M857.1 243.4h0M909.6 170.3h0M845.2 126.8h0M880.3 151.2h0M835.9 244.3h0M913.4 173.8h0M894.1 246.3h0M811.7 231.7h0M890.4 258.1h0M880 249.6h0M823.2 171.7h0M841.9 139.9h0M904.3 215.1h0M898.5 224.2h0M836.3 145.3h0M807.7 272.6h0M815.3 214.1h0M915.5 197.5h0M803.2 138h0M838.8 220.8h0M796.6 242.4h0M888.4 183.4h0M831.4 175.3h0M871.5 165.3h0M804.7 230.7h0M827.7 176.7h0M876.3 282.7h0M841.5 182.4h0M815.3 149.1h0M838.1 267h0M895 135.4h0M805.3 241.7h0M915.4 189.2h0M896.4 239.8h0M826.1 188.3h0M847.6 164.5h0"/><use href="#s28" stroke="#6a0614" stroke-width="9.4"/><use href="#s28" stroke="#bf0f29" stroke-width="7.3" transform="translate(-0.6 -0.6)"/><use href="#s28" stroke="#e96476" stroke-width="2.8" transform="translate(-1.5 -1.6)"/></g></g>
<g id="panel-b"><rect x="1033.5" y="9.5" width="1058.6" height="820.2" fill="none" stroke="#000" stroke-width="4.8"/>
<g filter="url(#bl)"><path d="M1352 783L1352 700L1346 660L1350 640L1360 592L1350 548L1440 498L1490 464L1530 446L1690 428L1858 382L1884 374L1884 783Z" fill="#ffba82"/></g>
<g filter="url(#bl2)"><path d="M1496 272L1884 272L1874 368L1858 372L1690 416L1540 434L1496 438Z" fill="#ae8670"/></g>
<g filter="url(#bl)"><path d="M1094 272L1510 272L1510 432L1484 447L1434 478L1392 497L1384 466L1150 467L1094 471Z" fill="#7da2d8"/></g>
<g filter="url(#bl)"><path d="M1610 272L1884 272L1884 348L1610 348Z" fill="#d2ba26"/></g>
<g filter="url(#bl)"><path d="M1094 467L1150 472L1200 482L1250 492L1292 512L1316 540L1334 566L1340 592L1334 618L1322 634L1310 612L1292 585L1276 564L1258 558L1094 563Z" fill="#c08fda"/></g>
<g filter="url(#bl)"><path d="M1094 559L1258 562L1280 572L1300 596L1324 640L1340 690L1344 783L1094 783Z" fill="#ff8084"/></g>
<g clip-path="url(#pbc)"><g fill="#d5d4d5"><path d="M1132.4 468L1183.7 470.5L1233.9 472L1296.5 467.6L1384 469.9L1384 528.5L1352 525.5L1326 546L1300 546L1296.5 517.4L1233.9 491.3L1183.7 481.9L1132.4 471Z"/><path d="M1132.4 556.9L1183.7 558.1L1233.9 556.6L1258.8 554.7L1271.3 559.2L1271.3 568.2L1258.8 563.7L1233.9 565.6L1183.7 567.1L1132.4 565.9Z"/><path d="M1262 563.7L1287.2 591.3L1312.5 639.1L1337.2 701.5L1337.2 749L1355.8 749L1355.8 701.5L1331.1 639.1L1305.8 591.3L1280.6 563.7Z"/><path d="M1324.6 639.1L1336.9 591.3L1324.9 544.1L1287.2 488.3L1305.8 488.3L1343.5 544.1L1355.5 591.3L1343.2 639.1Z"/><path d="M1299.5 544.1L1424.9 480.7L1475.2 449L1490.7 439.5L1509.3 439.5L1493.8 449L1443.5 480.7L1318.1 544.1Z"/><rect x="1491" y="322.4" width="37" height="111.8"/><path d="M1534 447.5L1684 428L1858 380L1858 392L1684 438.5L1534 451Z"/><rect x="1590.3" y="322.4" width="37.5" height="24.6"/><rect x="1590.3" y="338.2" width="268" height="8.8"/></g>
<rect x="1132.4" y="396.5" width="225.2" height="69.5" fill="url(#hat)"/>
<g stroke="#fff" stroke-opacity=".62" stroke-width="1.4" stroke-dasharray="12 11.5"><path d="M1136.4 338.3L1858.3 338.3"/><path d="M1136.4 385.8L1858.3 385.8"/><path d="M1136.4 433.4L1858.3 433.4"/><path d="M1136.4 481L1858.3 481"/><path d="M1136.4 543.8L1858.3 543.8"/><path d="M1136.4 591.4L1858.3 591.4"/><path d="M1136.4 639L1858.3 639"/><path d="M1136.4 701.8L1858.3 701.8"/><path d="M1233.8 326.4L1233.8 749"/><path d="M1358.9 326.4L1358.9 749"/><path d="M1484 326.4L1484 749"/><path d="M1609.1 326.4L1609.1 749"/><path d="M1734.2 326.4L1734.2 749"/></g>
</g>
<g fill="none" stroke="#000" stroke-width="1.3"><path d="M1132.4 561.4L1183.7 562.6L1233.9 561.1L1258.8 559.2L1271.3 563.7L1296.5 591.3L1321.8 639.1L1346.5 701.5L1346.5 749"/><path d="M1333.9 639.1L1346.2 591.3L1334.2 544.1L1296.5 488.3"/><path d="M1132.4 469.4L1183.7 476.2L1233.9 480.7L1296.5 488.3L1384 493.1"/><path d="M1308.8 544.1L1434.2 480.7L1484.5 449L1509.4 433.5L1509.4 385.7L1509.4 322.4"/></g>
<g fill="none" stroke="#000" stroke-width="2.6" stroke-dasharray="10 4.5"><path d="M1534.2 449L1684.3 433.5L1858.2 385.9"/><path d="M1609.2 322.4L1609.2 342.8L1858 342.8"/></g>
<path d="M1262 563.7H1280.6M1262 559.5V567.9M1280.6 559.5V567.9M1287.2 591.3H1305.8M1287.2 587.1V595.5M1305.8 587.1V595.5M1324.6 639.1H1343.2M1324.6 634.9V643.3M1343.2 634.9V643.3M1336.9 591.3H1355.5M1336.9 587.1V595.5M1355.5 587.1V595.5M1324.9 544.1H1343.5M1324.9 539.9V548.3M1343.5 539.9V548.3M1287.2 480.7H1305.8M1287.2 476.5V484.9M1305.8 476.5V484.9M1299.5 544.1H1318.1M1299.5 539.9V548.3M1318.1 539.9V548.3M1424.9 480.7H1443.5M1424.9 476.5V484.9M1443.5 476.5V484.9M1475.2 449H1493.8M1475.2 444.8V453.2M1493.8 444.8V453.2M1337.2 701.5H1355.8M1337.2 697.3V705.7M1355.8 697.3V705.7M1313.8 639.1H1329.8M1313.8 634.9V643.3M1329.8 634.9V643.3M1491.1 433.5H1527.7M1491.1 429.3V437.7M1527.7 429.3V437.7M1491.1 385.7H1527.7M1491.1 381.5V389.9M1527.7 381.5V389.9M1183.7 470.9V481.9M1179.5 470.9H1187.9M1179.5 481.9H1187.9M1233.9 472V491.3M1229.7 472H1238.1M1229.7 491.3H1238.1M1296.5 467.6V517.4M1292.3 467.6H1300.7M1292.3 517.4H1300.7M1384 469.9V528.5M1379.8 469.9H1388.2M1379.8 528.5H1388.2M1183.7 558.5V566.5M1179.5 558.5H1187.9M1179.5 566.5H1187.9M1233.9 557V565M1229.7 557H1238.1M1229.7 565H1238.1M1258.8 555.5V563M1254.6 555.5H1263M1254.6 563H1263" fill="none" stroke="#000" stroke-width="1.5"/>
<path d="M1516.2 449H1552.2M1516.2 444.8V453.2M1552.2 444.8V453.2M1666.3 433.5H1702.3M1666.3 429.3V437.7M1702.3 429.3V437.7M1591.2 342.8H1627.2M1591.2 338.6V347M1627.2 338.6V347M1716.4 342.8H1752.4M1716.4 338.6V347M1752.4 338.6V347M1841.5 342.8H1877.5M1841.5 338.6V347M1877.5 338.6V347M1841.5 385.9H1877.5M1841.5 381.7V390.1M1877.5 381.7V390.1" fill="none" stroke="#000" stroke-width="2.2" clip-path="url(#pbc)"/>
<g fill="#000" clip-path="url(#pbc)"><circle cx="1132.8" cy="561.4" r="3"/><circle cx="1183.7" cy="562.6" r="3"/><circle cx="1233.9" cy="561.1" r="3"/><circle cx="1258.8" cy="559.2" r="3"/><circle cx="1271.3" cy="563.7" r="3"/><circle cx="1296.5" cy="591.3" r="3"/><circle cx="1321.8" cy="639.1" r="3"/><circle cx="1346.5" cy="701.5" r="3"/><circle cx="1346.5" cy="749" r="3"/><circle cx="1333.9" cy="639.1" r="3"/><circle cx="1346.2" cy="591.3" r="3"/><circle cx="1334.2" cy="544.1" r="3"/><circle cx="1296.5" cy="488.3" r="3"/><circle cx="1132.8" cy="469.4" r="3"/><circle cx="1183.7" cy="476.2" r="3"/><circle cx="1233.9" cy="480.7" r="3"/><circle cx="1384" cy="493.1" r="3"/><circle cx="1296.5" cy="480.7" r="3"/><circle cx="1308.8" cy="544.1" r="3"/><circle cx="1434.2" cy="480.7" r="3"/><circle cx="1484.5" cy="449" r="3"/><circle cx="1509.4" cy="433.5" r="3"/><circle cx="1509.4" cy="385.7" r="3"/><circle cx="1509.4" cy="322.4" r="3"/><circle cx="1534.2" cy="449" r="3"/><circle cx="1684.3" cy="433.5" r="3"/><circle cx="1609.2" cy="342.8" r="3"/><circle cx="1734.4" cy="342.8" r="3"/></g>
<rect x="1132.4" y="322.4" width="725.9" height="426.6" fill="none" stroke="#000" stroke-width="1.6"/>
<path d="M1158.7 322.4v3.5M1158.7 749v-3.5M1183.7 322.4v3.5M1183.7 749v-3.5M1208.8 322.4v3.5M1208.8 749v-3.5M1233.8 322.4v6M1233.8 749v-6M1258.8 322.4v3.5M1258.8 749v-3.5M1283.8 322.4v3.5M1283.8 749v-3.5M1308.8 322.4v3.5M1308.8 749v-3.5M1333.9 322.4v3.5M1333.9 749v-3.5M1358.9 322.4v6M1358.9 749v-6M1383.9 322.4v3.5M1383.9 749v-3.5M1408.9 322.4v3.5M1408.9 749v-3.5M1433.9 322.4v3.5M1433.9 749v-3.5M1459 322.4v3.5M1459 749v-3.5M1484 322.4v6M1484 749v-6M1509 322.4v3.5M1509 749v-3.5M1534 322.4v3.5M1534 749v-3.5M1559 322.4v3.5M1559 749v-3.5M1584.1 322.4v3.5M1584.1 749v-3.5M1609.1 322.4v6M1609.1 749v-6M1634.1 322.4v3.5M1634.1 749v-3.5M1659.1 322.4v3.5M1659.1 749v-3.5M1684.1 322.4v3.5M1684.1 749v-3.5M1709.2 322.4v3.5M1709.2 749v-3.5M1734.2 322.4v6M1734.2 749v-6M1759.2 322.4v3.5M1759.2 749v-3.5M1784.2 322.4v3.5M1784.2 749v-3.5M1809.2 322.4v3.5M1809.2 749v-3.5M1834.3 322.4v3.5M1834.3 749v-3.5M1132.4 701.8h6M1132.4 674h3.5M1132.4 654.3h3.5M1132.4 639h6M1132.4 626.5h3.5M1132.4 615.9h3.5M1132.4 606.7h3.5M1132.4 598.6h3.5M1132.4 591.4h6M1132.4 543.8h6M1132.4 516h3.5M1132.4 496.3h3.5M1132.4 481h6M1132.4 468.5h3.5M1132.4 457.9h3.5M1132.4 448.7h3.5M1132.4 440.6h3.5M1132.4 433.4h6M1132.4 385.8h6M1132.4 358h3.5M1132.4 338.3h6M1132.4 323h3.5" stroke="#000" stroke-width="1.1" fill="none"/>
<text x="1125.4" y="343.3" class="dv" text-anchor="end" font-size="13.3">4</text>
<text x="1125.4" y="390.8" class="dv" text-anchor="end" font-size="13.3">2</text>
<text x="1125.4" y="438.4" class="dv" text-anchor="end" font-size="13.3">1</text>
<text x="1125.4" y="486" class="dv" text-anchor="end" font-size="13.3">0.5</text>
<text x="1125.4" y="548.8" class="dv" text-anchor="end" font-size="13.3">0.2</text>
<text x="1125.4" y="596.4" class="dv" text-anchor="end" font-size="13.3">0.1</text>
<text x="1125.4" y="644" class="dv" text-anchor="end" font-size="13.3">0.05</text>
<text x="1125.4" y="706.8" class="dv" text-anchor="end" font-size="13.3">0.02</text>
<text x="1125.4" y="754.4" class="dv" text-anchor="end" font-size="13.3">0.01</text>
<text x="1233.8" y="766.8" class="dv" text-anchor="middle" font-size="13.3">100</text>
<text x="1358.9" y="766.8" class="dv" text-anchor="middle" font-size="13.3">200</text>
<text x="1484" y="766.8" class="dv" text-anchor="middle" font-size="13.3">300</text>
<text x="1609.1" y="766.8" class="dv" text-anchor="middle" font-size="13.3">400</text>
<text x="1734.2" y="766.8" class="dv" text-anchor="middle" font-size="13.3">500</text>
<text x="1495" y="786.8" class="dv" text-anchor="middle" font-size="13.3">temperature [K]</text>
<text transform="translate(1085.6 536.5) rotate(-90)" class="dv" font-size="13.3" text-anchor="middle">lateral pressure [GPa]</text>
<rect x="1187.8" y="657.4" width="24.4" height="13.8" fill="#fff" fill-opacity=".72"/>
<text x="1200" y="668.9" class="dvb" text-anchor="middle" font-size="14">a</text>
<rect x="1187.8" y="505" width="24.4" height="13.8" fill="#fff" fill-opacity=".72"/>
<text x="1200" y="516.5" class="dvb" text-anchor="middle" font-size="14">b</text>
<rect x="1187.8" y="407.3" width="24.4" height="13.8" fill="#fff" fill-opacity=".72"/>
<text x="1200" y="418.8" class="dvb" text-anchor="middle" font-size="14">c</text>
<rect x="1301.2" y="353.1" width="24.4" height="13.8" fill="#fff" fill-opacity=".72"/>
<text x="1313.4" y="364.6" class="dvb" text-anchor="middle" font-size="14">d</text>
<rect x="1556.1" y="407.3" width="24.4" height="13.8" fill="#fff" fill-opacity=".72"/>
<text x="1568.3" y="418.8" class="dvb" text-anchor="middle" font-size="14">e</text>
<rect x="1762.3" y="325.5" width="24.4" height="13.8" fill="#fff" fill-opacity=".72"/>
<text x="1774.5" y="337" class="dvb" text-anchor="middle" font-size="14">f</text>
<rect x="1670.1" y="657.4" width="24.4" height="13.8" fill="#fff" fill-opacity=".72"/>
<text x="1682.3" y="668.9" class="dvb" text-anchor="middle" font-size="14">g</text>
<clipPath id="tc1132"><rect x="1080.4" y="62.4" width="138.6" height="139.2"/></clipPath><rect x="1075.6" y="57.6" width="148.2" height="148.8" fill="#fff" stroke="#000" stroke-width="1.2"/><rect x="1078.3" y="60.3" width="142.8" height="143.4" fill="none" stroke="#ff8787" stroke-width="4.3"/><g clip-path="url(#tc1132)"><path d="M1110.7 79.3L1134.3 84.9M1064.4 136.1L1087.8 138.7M1184.7 215.8L1200.5 197.3M1164.5 108.3L1174.8 130.7M1077.6 56L1101.9 59M1224.1 201L1237.1 180.6M1115.3 204.2L1131.5 186M1201.5 92.2L1210.8 116.8M1063.6 75.2L1077.6 56M1094.8 98.3L1103.9 121.2M1146.5 64.3L1170.1 68.7M1063.6 75.2L1072.3 97M1101.9 59L1110.7 79.3M1103.9 121.2L1127.2 124.7M1084.3 179L1093.3 200.8M1200.5 197.3L1224.1 201M1078.2 219.4L1093.3 200.8M1094.8 98.3L1110.7 79.3M1122 166.1L1135.1 147.4M1134.3 84.9L1146.5 64.3M1097.4 162.7L1122 166.1M1201.5 92.2L1217.1 75.2M1158.8 149.3L1174.8 130.7M1191.1 174.1L1207.4 157.3M1122 166.1L1131.5 186M1135.1 147.4L1158.8 149.3M1158.8 149.3L1168.8 169.9M1093.3 200.8L1115.3 204.2M1134.3 84.9L1141 107M1164.5 108.3L1178.1 90.8M1168.8 169.9L1191.1 174.1M1207.4 157.3L1228.1 160.6M1196.3 134.8L1210.8 116.8M1087.8 138.7L1103.9 121.2M1196.3 134.8L1207.4 157.3M1155.1 188.4L1168.8 169.9M1184.2 48.5L1207.2 54M1131.5 186L1155.1 188.4M1170.1 68.7L1178.1 90.8M1087.8 138.7L1097.4 162.7M1170.1 68.7L1184.2 48.5M1163.2 212.8L1184.7 215.8M1127.2 124.7L1141 107M1155.1 188.4L1163.2 212.8M1127.2 124.7L1135.1 147.4M1084.3 179L1097.4 162.7M1137 44.4L1146.5 64.3M1141 107L1164.5 108.3M1207.2 54L1217.1 75.2M1210.8 116.8L1236 119.8M1072.3 97L1094.8 98.3M1191.1 174.1L1200.5 197.3M1228.1 160.6L1237.1 180.6M1178.1 90.8L1201.5 92.2M1174.8 130.7L1196.3 134.8" stroke="#8484cc" stroke-width="1.2" fill="none"/><g stroke-linecap="round" fill="none"><path d="M1125.1 82.2h0M1079 137h0M1190.2 207.3h0M1168 115.8h0M1086.9 57h0M1230.8 188.6h0M1121.2 199.2h0M1204.1 101.5h0M1071.7 63.3h0M1099.5 107.1h0M1161.1 66.5h0M1069.1 91h0M1105.2 66.1h0M1119.9 124.4h0M1090.5 192.9h0M1209.1 199.2h0M1088.5 207.9h0M1104.7 87h0M1129.7 154.6h0M1142.1 72.9h0M1113.4 165.6h0M1211.9 82.3h0M1165.2 142h0M1202.1 163.7h0M1126.1 172.8h0M1144.2 147.9h0M1162.9 157.7h0M1107.9 203.4h0M1138.8 97.6h0M1172.4 95.9h0M1182.9 171.6h0M1221.1 159.6h0M1203.9 123.7h0M1097.3 128.1h0M1204.1 149.1h0M1160 183.1h0M1193.1 50.8h0M1147.5 187.8h0M1173.5 77.2h0M1089.9 146.5h0M1175.1 63h0M1176.4 214.2h0M1133.2 119.5h0M1159 196.7h0M1133.5 139.6h0M1091.8 168.8h0M1143.9 58.2h0M1155.5 108.9h0M1210 60.4h0M1219.7 117.8h0M1081.2 96.6h0M1194.4 181.7h0M1233.7 173h0M1185.5 90.8h0M1188.8 133.3h0" stroke="#a6a6a6" stroke-width="5.4"/><path d="M1124.8 81.9h0M1078.7 136.7h0M1189.9 207h0M1167.7 115.5h0M1086.6 56.7h0M1230.5 188.3h0M1120.9 198.9h0M1203.8 101.2h0M1071.4 63h0M1099.2 106.8h0M1160.8 66.2h0M1068.8 90.7h0M1104.9 65.8h0M1119.6 124.1h0M1090.2 192.6h0M1208.8 198.9h0M1088.2 207.6h0M1104.4 86.7h0M1129.4 154.3h0M1141.8 72.6h0M1113.1 165.3h0M1211.6 82h0M1164.9 141.7h0M1201.8 163.4h0M1125.8 172.5h0M1143.9 147.6h0M1162.6 157.4h0M1107.6 203.1h0M1138.5 97.3h0M1172.1 95.6h0M1182.6 171.3h0M1220.8 159.3h0M1203.6 123.4h0M1097 127.8h0M1203.8 148.8h0M1159.7 182.8h0M1192.8 50.5h0M1147.2 187.5h0M1173.2 76.9h0M1089.6 146.2h0M1174.8 62.7h0M1176.1 213.9h0M1132.9 119.2h0M1158.7 196.4h0M1133.2 139.3h0M1091.5 168.5h0M1143.6 57.9h0M1155.2 108.6h0M1209.7 60.1h0M1219.4 117.5h0M1080.9 96.3h0M1194.1 181.4h0M1233.4 172.7h0M1185.2 90.5h0M1188.5 133h0" stroke="#e2e2e2" stroke-width="4.2"/><path d="M1077.6 56h0M1063.6 75.2h0M1072.3 97h0M1064.4 136.1h0M1101.9 59h0M1110.7 79.3h0M1094.8 98.3h0M1103.9 121.2h0M1087.8 138.7h0M1097.4 162.7h0M1084.3 179h0M1093.3 200.8h0M1078.2 219.4h0M1137 44.4h0M1146.5 64.3h0M1134.3 84.9h0M1141 107h0M1127.2 124.7h0M1135.1 147.4h0M1122 166.1h0M1131.5 186h0M1115.3 204.2h0M1184.2 48.5h0M1170.1 68.7h0M1178.1 90.8h0M1164.5 108.3h0M1174.8 130.7h0M1158.8 149.3h0M1168.8 169.9h0M1155.1 188.4h0M1163.2 212.8h0M1207.2 54h0M1217.1 75.2h0M1201.5 92.2h0M1210.8 116.8h0M1196.3 134.8h0M1207.4 157.3h0M1191.1 174.1h0M1200.5 197.3h0M1184.7 215.8h0M1236 119.8h0M1228.1 160.6h0M1237.1 180.6h0M1224.1 201h0" stroke="#f20d0d" stroke-width="8.1"/></g></g>
<clipPath id="tc1340"><rect x="1288.8" y="62.4" width="138.8" height="139.2"/></clipPath><rect x="1284" y="57.6" width="148.4" height="148.8" fill="#fff" stroke="#000" stroke-width="1.2"/><rect x="1286.7" y="60.3" width="143" height="143.4" fill="none" stroke="#c08fd8" stroke-width="4.3"/><g clip-path="url(#tc1340)"><path d="M1368.2 87.3L1388.7 87.5M1327.9 103L1338 115.6M1360.4 104.1L1384.5 122.9M1314.2 158.1L1313.8 140.7M1337.5 141.8L1338 115.6M1294.9 121.1L1307.9 105.3M1388.7 87.5L1406.8 100.8M1292.3 210.4L1313.3 196.1M1426.7 198.9L1437.8 217.3M1357.3 216.4L1357.1 195.1M1360.4 104.1L1368.2 87.3M1267.2 157.6L1291.4 170.5M1384.5 122.9L1407.5 125.6M1345.8 179.6L1357.1 195.1M1307.9 105.3L1327.9 103M1285.2 196.1L1292.3 210.4M1294.9 85L1294 69.6M1333.7 212.7L1357.3 216.4M1345.8 179.6L1358.1 155.6M1430.4 87.5L1451.8 105.3M1313.3 196.1L1333.7 212.7M1267.2 157.6L1274.1 130.3M1357.1 195.1L1379.8 180.4M1291.4 170.5L1314.2 158.1M1313.3 196.1L1325.8 176.4M1386.3 158.9L1407.1 162.7M1294.9 121.1L1313.8 140.7M1388 48.4L1402 60.7M1422.1 50.2L1431.4 69.4M1379.8 180.4L1386.3 158.9M1314.2 158.1L1325.8 176.4M1360.8 67.4L1364.8 51.9M1364.8 51.9L1388 48.4M1317.6 63.4L1339.4 75.4M1426.7 198.9L1426.6 179.4M1407.5 125.6L1419.9 140.5M1274.1 130.3L1294.9 121.1M1327.9 103L1339.4 75.4M1430.4 87.5L1431.4 69.4M1294.9 85L1307.9 105.3M1337.5 141.8L1358.1 155.6M1404 195.8L1426.7 198.9M1402 60.7L1422.1 50.2M1406.8 100.8L1430.4 87.5M1294 69.6L1317.6 63.4M1276.6 49.4L1294 69.6M1313.8 140.7L1337.5 141.8M1379.2 141.7L1386.3 158.9M1379.2 141.7L1384.5 122.9M1407.1 162.7L1426.6 179.4M1325.8 176.4L1345.8 179.6M1388.7 87.5L1402 60.7M1407.1 162.7L1419.9 140.5M1407.5 125.6L1406.8 100.8M1285.2 196.1L1291.4 170.5M1338 115.6L1360.4 104.1M1379.8 180.4L1404 195.8M1419.9 140.5L1439.9 125.9M1358.1 155.6L1379.2 141.7M1339.4 75.4L1360.8 67.4M1360.8 67.4L1368.2 87.3M1439.9 125.9L1451.8 105.3" stroke="#8484cc" stroke-width="1.2" fill="none"/><g stroke-linecap="round" fill="none"><path d="M1380.7 87.6h0M1331.6 108.7h0M1376.9 115.6h0M1312.9 148.2h0M1337.1 133.2h0M1299.1 116h0M1399.7 96.4h0M1298.5 206.5h0M1429.7 206.3h0M1357.7 206.8h0M1363.4 99.5h0M1274.7 162.8h0M1398.8 123.8h0M1348.5 184.3h0M1321.6 104.3h0M1287.4 200.4h0M1295.6 79.2h0M1347.6 215.3h0M1350.8 170.5h0M1443.4 99.4h0M1319.4 201.2h0M1270 148.8h0M1370.4 185h0M1300 166.2h0M1319.9 184.5h0M1401.2 161.9h0M1308.7 134.7h0M1393 52.1h0M1428.5 62.4h0M1384.9 166.4h0M1319.2 164.6h0M1362.8 61.5h0M1379.8 48.4h0M1326.1 66.5h0M1426.9 186.9h0M1415 134.8h0M1288.5 123.5h0M1334.7 84.3h0M1429.9 76.9h0M1303.2 97.7h0M1349 150.6h0M1418.8 196.9h0M1415 52.6h0M1420.7 92.4h0M1310.1 66.1h0M1288.5 63.8h0M1323.4 139.9h0M1383.3 151.3h0M1381.3 133.9h0M1421.2 174h0M1331.7 176.4h0M1397.1 69.2h0M1414.6 148.8h0M1406.8 109.8h0M1288.3 179.4h0M1347.1 110.7h0M1395.2 190.4h0M1433.1 132.3h0M1372.4 146h0M1352.4 70.8h0M1362.4 73.3h0M1447.7 112.2h0" stroke="#a6a6a6" stroke-width="5.4"/><path d="M1380.4 87.3h0M1331.3 108.4h0M1376.6 115.3h0M1312.6 147.9h0M1336.8 132.9h0M1298.8 115.7h0M1399.4 96.1h0M1298.2 206.2h0M1429.4 206h0M1357.4 206.5h0M1363.1 99.2h0M1274.4 162.5h0M1398.5 123.5h0M1348.2 184h0M1321.3 104h0M1287.1 200.1h0M1295.3 78.9h0M1347.3 215h0M1350.5 170.2h0M1443.1 99.1h0M1319.1 200.9h0M1269.7 148.5h0M1370.1 184.7h0M1299.7 165.9h0M1319.6 184.2h0M1400.9 161.6h0M1308.4 134.4h0M1392.7 51.8h0M1428.2 62.1h0M1384.6 166.1h0M1318.9 164.3h0M1362.5 61.2h0M1379.5 48.1h0M1325.8 66.2h0M1426.6 186.6h0M1414.7 134.5h0M1288.2 123.2h0M1334.4 84h0M1429.6 76.6h0M1302.9 97.4h0M1348.7 150.3h0M1418.5 196.6h0M1414.7 52.3h0M1420.4 92.1h0M1309.8 65.8h0M1288.2 63.5h0M1323.1 139.6h0M1383 151h0M1381 133.6h0M1420.9 173.7h0M1331.4 176.1h0M1396.8 68.9h0M1414.3 148.5h0M1406.5 109.5h0M1288 179.1h0M1346.8 110.4h0M1394.9 190.1h0M1432.8 132h0M1372.1 145.7h0M1352.1 70.5h0M1362.1 73h0M1447.4 111.9h0" stroke="#e2e2e2" stroke-width="4.2"/><path d="M1274.1 130.3h0M1267.2 157.6h0M1291.4 170.5h0M1285.2 196.1h0M1292.3 210.4h0M1276.6 49.4h0M1294 69.6h0M1294.9 85h0M1307.9 105.3h0M1294.9 121.1h0M1313.8 140.7h0M1314.2 158.1h0M1325.8 176.4h0M1313.3 196.1h0M1333.7 212.7h0M1317.6 63.4h0M1339.4 75.4h0M1327.9 103h0M1338 115.6h0M1337.5 141.8h0M1358.1 155.6h0M1345.8 179.6h0M1357.1 195.1h0M1357.3 216.4h0M1364.8 51.9h0M1360.8 67.4h0M1368.2 87.3h0M1360.4 104.1h0M1384.5 122.9h0M1379.2 141.7h0M1386.3 158.9h0M1379.8 180.4h0M1404 195.8h0M1388 48.4h0M1402 60.7h0M1388.7 87.5h0M1406.8 100.8h0M1407.5 125.6h0M1419.9 140.5h0M1407.1 162.7h0M1426.6 179.4h0M1426.7 198.9h0M1437.8 217.3h0M1422.1 50.2h0M1431.4 69.4h0M1430.4 87.5h0M1451.8 105.3h0M1439.9 125.9h0" stroke="#f20d0d" stroke-width="8.1"/></g></g>
<clipPath id="tc1549"><rect x="1497.4" y="62.4" width="138.5" height="138.7"/></clipPath><rect x="1492.6" y="57.6" width="148.1" height="148.3" fill="#fff" stroke="#000" stroke-width="1.2"/><rect x="1495.3" y="60.3" width="142.7" height="142.9" fill="none" stroke="url(#hat2)" stroke-width="4.3"/><g clip-path="url(#tc1549)"><path d="M1491.5 59.6L1522.3 60.8M1491.5 59.6L1494.9 88.6M1494.9 88.6L1524.5 89.6M1494.9 88.6L1491.4 117.6M1491.4 117.6L1521.4 118.6M1491.4 117.6L1494.2 147.2M1494.2 147.2L1524.3 148.9M1494.2 147.2L1491.8 176.6M1491.8 176.6L1522 177.4M1491.8 176.6L1495 206.1M1495 206.1L1523.5 206.6M1522.3 60.8L1550.4 59.8M1522.3 60.8L1524.5 89.6M1524.5 89.6L1552.2 88.8M1524.5 89.6L1521.4 118.6M1521.4 118.6L1550.1 118.4M1521.4 118.6L1524.3 148.9M1524.3 148.9L1552.7 147.1M1524.3 148.9L1522 177.4M1522 177.4L1551.1 177.1M1522 177.4L1523.5 206.6M1523.5 206.6L1552.2 205.1M1550.4 59.8L1580.2 60.2M1550.4 59.8L1552.2 88.8M1552.2 88.8L1584.1 90.4M1552.2 88.8L1550.1 118.4M1550.1 118.4L1581.1 117.5M1550.1 118.4L1552.7 147.1M1552.7 147.1L1583.3 147.7M1552.7 147.1L1551.1 177.1M1551.1 177.1L1580.6 176M1551.1 177.1L1552.2 205.1M1552.2 205.1L1583.6 206.7M1580.2 60.2L1611 59.7M1580.2 60.2L1584.1 90.4M1584.1 90.4L1613.1 88.8M1584.1 90.4L1581.1 117.5M1581.1 117.5L1610.9 117.9M1581.1 117.5L1583.3 147.7M1583.3 147.7L1613.9 148.6M1583.3 147.7L1580.6 176M1580.6 176L1609.7 176.6M1580.6 176L1583.6 206.7M1583.6 206.7L1613.8 205.9M1611 59.7L1639.9 60.4M1611 59.7L1613.1 88.8M1613.1 88.8L1643 90.4M1613.1 88.8L1610.9 117.9M1610.9 117.9L1640.1 118.9M1610.9 117.9L1613.9 148.6M1613.9 148.6L1642.7 147.2M1613.9 148.6L1609.7 176.6M1609.7 176.6L1640.6 176.8M1609.7 176.6L1613.8 205.9M1613.8 205.9L1641.6 207M1639.9 60.4L1643 90.4M1643 90.4L1640.1 118.9M1640.1 118.9L1642.7 147.2M1642.7 147.2L1640.6 176.8M1640.6 176.8L1641.6 207" stroke="#8484cc" stroke-width="1.2" fill="none"/><g stroke-linecap="round" fill="none"><path d="M1512.8 61.4h0M1493.4 79.8h0M1504.1 88.3h0M1493.5 110.3h0M1500.4 117h0M1491.1 125.6h0M1515.7 147.6h0M1494 156.5h0M1501.3 175.7h0M1492.1 185.4h0M1515.6 206.2h0M1541.2 61.2h0M1523.5 70.8h0M1533.2 89.6h0M1523.1 97.4h0M1542 119.1h0M1523.2 126.7h0M1532.5 148.8h0M1524 159.2h0M1530.3 177.4h0M1523.5 185.7h0M1544.4 204.7h0M1561.2 60.2h0M1552.2 81.2h0M1562.4 88.6h0M1551 111h0M1572.1 117.1h0M1552.7 139.3h0M1561.5 147.4h0M1551.7 155.9h0M1558.1 175.9h0M1550.7 185h0M1562.4 206.1h0M1602.6 60.9h0M1583.2 81.5h0M1604.7 89.3h0M1581.1 109h0M1600.8 118.4h0M1582.5 127.8h0M1593.9 149.1h0M1580.2 167.7h0M1601.5 177h0M1582.8 197.4h0M1604.2 206.6h0M1631.2 59.1h0M1611.1 68h0M1635 90.9h0M1611.5 110.1h0M1619.3 117.8h0M1610.7 127h0M1632.6 147.1h0M1612.1 168.4h0M1629.3 176.4h0M1611.4 183.9h0M1633.7 206.4h0M1640 69.4h0M1640 109.9h0M1640.9 126.8h0M1641.1 167.5h0M1641.3 185.1h0" stroke="#a6a6a6" stroke-width="6"/><path d="M1512.5 61.1h0M1493.1 79.5h0M1503.8 88h0M1493.2 110h0M1500.1 116.7h0M1490.8 125.3h0M1515.4 147.3h0M1493.7 156.2h0M1501 175.4h0M1491.8 185.1h0M1515.3 205.9h0M1540.9 60.9h0M1523.2 70.5h0M1532.9 89.3h0M1522.8 97.1h0M1541.7 118.8h0M1522.9 126.4h0M1532.2 148.5h0M1523.7 158.9h0M1530 177.1h0M1523.2 185.4h0M1544.1 204.4h0M1560.9 59.9h0M1551.9 80.9h0M1562.1 88.3h0M1550.7 110.7h0M1571.8 116.8h0M1552.4 139h0M1561.2 147.1h0M1551.4 155.6h0M1557.8 175.6h0M1550.4 184.7h0M1562.1 205.8h0M1602.3 60.6h0M1582.9 81.2h0M1604.4 89h0M1580.8 108.7h0M1600.5 118.1h0M1582.2 127.5h0M1593.6 148.8h0M1579.9 167.4h0M1601.2 176.7h0M1582.5 197.1h0M1603.9 206.3h0M1630.9 58.8h0M1610.8 67.7h0M1634.7 90.6h0M1611.2 109.8h0M1619 117.5h0M1610.4 126.7h0M1632.3 146.8h0M1611.8 168.1h0M1629 176.1h0M1611.1 183.6h0M1633.4 206.1h0M1639.7 69.1h0M1639.7 109.6h0M1640.6 126.5h0M1640.8 167.2h0M1641 184.8h0" stroke="#e2e2e2" stroke-width="4.7"/><path d="M1491.5 59.6h0M1494.9 88.6h0M1491.4 117.6h0M1494.2 147.2h0M1491.8 176.6h0M1495 206.1h0M1522.3 60.8h0M1524.5 89.6h0M1521.4 118.6h0M1524.3 148.9h0M1522 177.4h0M1523.5 206.6h0M1550.4 59.8h0M1552.2 88.8h0M1550.1 118.4h0M1552.7 147.1h0M1551.1 177.1h0M1552.2 205.1h0M1580.2 60.2h0M1584.1 90.4h0M1581.1 117.5h0M1583.3 147.7h0M1580.6 176h0M1583.6 206.7h0M1611 59.7h0M1613.1 88.8h0M1610.9 117.9h0M1613.9 148.6h0M1609.7 176.6h0M1613.8 205.9h0M1639.9 60.4h0M1643 90.4h0M1640.1 118.9h0M1642.7 147.2h0M1640.6 176.8h0M1641.6 207h0" stroke="#f20d0d" stroke-width="8.8"/></g></g>
<clipPath id="tc1757"><rect x="1705.6" y="62.4" width="139" height="138.7"/></clipPath><rect x="1700.8" y="57.6" width="148.6" height="148.3" fill="#fff" stroke="#000" stroke-width="1.2"/><rect x="1703.5" y="60.3" width="143.2" height="142.9" fill="none" stroke="#7c9fd6" stroke-width="4.3"/><g clip-path="url(#tc1757)"><path d="M1682.6 39.5L1700.7 60.2M1700.7 60.2L1685 80.8M1685 80.8L1700.6 101.5M1700.6 101.5L1684.8 121.8M1684.8 121.8L1699.9 142.1M1699.9 142.1L1683.8 162.9M1683.8 162.9L1702.5 181.9M1702.5 181.9L1683.8 202.5M1683.8 202.5L1700.9 223.1M1714.5 38.2L1730 59.4M1730 59.4L1712.7 79.8M1712.7 79.8L1732.2 101.3M1732.2 101.3L1713.1 120M1713.1 120L1732 142.4M1732 142.4L1714.3 161.3M1714.3 161.3L1730.2 183.3M1730.2 183.3L1715.3 202.1M1715.3 202.1L1730.1 223.4M1743.3 39.5L1760.6 60.1M1760.6 60.1L1743 80M1743 80L1762.4 100.9M1762.4 100.9L1742.8 120.2M1742.8 120.2L1761.4 141.2M1761.4 141.2L1743.6 162M1743.6 162L1761.2 183.4M1761.2 183.4L1743.2 203.1M1743.2 203.1L1760.3 223.6M1774.7 38.3L1790.9 59.9M1790.9 59.9L1772.5 80.5M1772.5 80.5L1790.8 100.5M1790.8 100.5L1774.3 121.6M1774.3 121.6L1789.7 141.5M1789.7 141.5L1772.6 161.8M1772.6 161.8L1790.5 181.5M1790.5 181.5L1773.4 202.9M1773.4 202.9L1791.5 224.3M1803.6 39.1L1821.6 60.4M1821.6 60.4L1805.3 81M1805.3 81L1820.4 99.8M1820.4 99.8L1805.3 120.2M1805.3 120.2L1820.8 142M1820.8 142L1804.1 161.8M1804.1 161.8L1822.3 182.1M1822.3 182.1L1804.2 203.7M1804.2 203.7L1819.9 223.2M1834 39.1L1850.1 59.4M1850.1 59.4L1832.7 79.2M1832.7 79.2L1850.5 99.8M1850.5 99.8L1835.4 120.5M1835.4 120.5L1850.3 142.1M1850.3 142.1L1834.7 161.5M1834.7 161.5L1852 182.8M1852 182.8L1833.7 203.3M1833.7 203.3L1850.2 223M1865.1 38.9L1882.2 58.9M1882.2 58.9L1862.9 79.1M1862.9 79.1L1881.7 100.6M1881.7 100.6L1862.5 120.1M1862.5 120.1L1882 141.5M1882 141.5L1865.1 161.1M1865.1 161.1L1881.3 181.7M1881.3 181.7L1864.7 203.2M1864.7 203.2L1881.3 222.9" stroke="#8484cc" stroke-width="1.2" fill="none"/><g stroke-linecap="round" fill="none"><path d="M1687 46.2h0M1689.5 75.1h0M1689.4 88.4h0M1696.5 107h0M1696.2 136.2h0M1693.8 148.2h0M1694.9 174h0M1689.1 196.7h0M1688.1 208.8h0M1719.7 46.1h0M1718.1 73.5h0M1719.6 86.8h0M1724.9 107h0M1726.9 134.7h0M1727 147.9h0M1718.4 168.6h0M1724.1 190.8h0M1725.6 215.5h0M1754.2 52.5h0M1755.8 65.5h0M1757.6 95.2h0M1755 107.1h0M1756.1 134.6h0M1750.5 156.2h0M1756.6 176.1h0M1757.1 189.4h0M1755.1 218.3h0M1786 54.3h0M1779.8 73.1h0M1777.7 86.1h0M1785.2 108.4h0M1778.9 128.7h0M1778.8 155.4h0M1785.5 176h0M1778.9 194.2h0M1785.9 218.2h0M1814.5 53.2h0M1809.5 74.9h0M1814.7 93.4h0M1816.3 107.5h0M1816.8 134.2h0M1810.6 154.5h0M1811 167.7h0M1817.4 189.3h0M1814.7 215.8h0M1839.8 46.1h0M1844.8 64.2h0M1839.8 85.3h0M1844.6 105.9h0M1840.1 129h0M1845.7 147.7h0M1847.3 176.8h0M1845.8 189.1h0M1839.2 210.2h0M1875.3 51.4h0M1875.3 63.8h0M1868.4 85.4h0M1875.5 105.9h0M1869.7 128.4h0M1877 148.6h0M1876.6 173.6h0M1869 196.1h0M1875 216.7h0M1776.3 209.8h0M1814.1 227.9h0M1719 115.4h0M1744.3 127.6h0M1856.2 55h0M1709 206.1h0M1699.5 108.9h0M1882.1 174.3h0M1774.9 114.1h0M1766.8 219.9h0M1853.9 93.1h0M1833.9 154.1h0M1757.9 147.9h0M1770.9 73.2h0M1702.6 149.1h0M1872 201.8h0M1738.3 45.1h0M1710.8 72.5h0M1845.5 147.8h0M1710.1 196.7h0M1769.9 101.2h0M1728 216.2h0M1731.9 93.8h0M1857.5 221.1h0M1820.5 53h0M1707 38.8h0M1829.8 182.4h0M1701.2 174.5h0M1822.6 174.6h0M1881.5 66.3h0M1857.6 177.8h0M1799.5 76.3h0M1858.3 207.1h0M1827.3 42.5h0M1842.2 160.5h0M1685.9 88.3h0M1796.3 186.3h0M1888.7 144.7h0M1857.2 204h0M1710.7 31.8h0M1809.8 43.2h0M1815.4 64.5h0M1817.2 66.4h0M1697.2 149h0M1738.7 139.1h0M1715.2 30.8h0M1721.8 40.1h0M1887.4 136.3h0M1754.2 186.1h0M1723.4 226.8h0M1845.3 179.5h0M1865.4 168.6h0M1794.2 175h0M1780.1 206.2h0M1802.2 210.9h0M1716.8 86.1h0M1841.8 124.5h0M1825.6 94.4h0M1817.7 135.2h0M1846.8 229.7h0" stroke="#a6a6a6" stroke-width="5.4"/><path d="M1686.7 45.9h0M1689.2 74.8h0M1689.1 88.1h0M1696.2 106.7h0M1695.9 135.9h0M1693.5 147.9h0M1694.6 173.7h0M1688.8 196.4h0M1687.8 208.5h0M1719.4 45.8h0M1717.8 73.2h0M1719.3 86.5h0M1724.6 106.7h0M1726.6 134.4h0M1726.7 147.6h0M1718.1 168.3h0M1723.8 190.5h0M1725.3 215.2h0M1753.9 52.2h0M1755.5 65.2h0M1757.3 94.9h0M1754.7 106.8h0M1755.8 134.3h0M1750.2 155.9h0M1756.3 175.8h0M1756.8 189.1h0M1754.8 218h0M1785.7 54h0M1779.5 72.8h0M1777.4 85.8h0M1784.9 108.1h0M1778.6 128.4h0M1778.5 155.1h0M1785.2 175.7h0M1778.6 193.9h0M1785.6 217.9h0M1814.2 52.9h0M1809.2 74.6h0M1814.4 93.1h0M1816 107.2h0M1816.5 133.9h0M1810.3 154.2h0M1810.7 167.4h0M1817.1 189h0M1814.4 215.5h0M1839.5 45.8h0M1844.5 63.9h0M1839.5 85h0M1844.3 105.6h0M1839.8 128.7h0M1845.4 147.4h0M1847 176.5h0M1845.5 188.8h0M1838.9 209.9h0M1875 51.1h0M1875 63.5h0M1868.1 85.1h0M1875.2 105.6h0M1869.4 128.1h0M1876.7 148.3h0M1876.3 173.3h0M1868.7 195.8h0M1874.7 216.4h0M1776 209.5h0M1813.8 227.6h0M1718.7 115.1h0M1744 127.3h0M1855.9 54.7h0M1708.7 205.8h0M1699.2 108.6h0M1881.8 174h0M1774.6 113.8h0M1766.5 219.6h0M1853.6 92.8h0M1833.6 153.8h0M1757.6 147.6h0M1770.6 72.9h0M1702.3 148.8h0M1871.7 201.5h0M1738 44.8h0M1710.5 72.2h0M1845.2 147.5h0M1709.8 196.4h0M1769.6 100.9h0M1727.7 215.9h0M1731.6 93.5h0M1857.2 220.8h0M1820.2 52.7h0M1706.7 38.5h0M1829.5 182.1h0M1700.9 174.2h0M1822.3 174.3h0M1881.2 66h0M1857.3 177.5h0M1799.2 76h0M1858 206.8h0M1827 42.2h0M1841.9 160.2h0M1685.6 88h0M1796 186h0M1888.4 144.4h0M1856.9 203.7h0M1710.4 31.5h0M1809.5 42.9h0M1815.1 64.2h0M1816.9 66.1h0M1696.9 148.7h0M1738.4 138.8h0M1714.9 30.5h0M1721.5 39.8h0M1887.1 136h0M1753.9 185.8h0M1723.1 226.5h0M1845 179.2h0M1865.1 168.3h0M1793.9 174.7h0M1779.8 205.9h0M1801.9 210.6h0M1716.5 85.8h0M1841.5 124.2h0M1825.3 94.1h0M1817.4 134.9h0M1846.5 229.4h0" stroke="#e2e2e2" stroke-width="4.2"/><path d="M1682.6 39.5h0M1700.7 60.2h0M1685 80.8h0M1700.6 101.5h0M1684.8 121.8h0M1699.9 142.1h0M1683.8 162.9h0M1702.5 181.9h0M1683.8 202.5h0M1700.9 223.1h0M1714.5 38.2h0M1730 59.4h0M1712.7 79.8h0M1732.2 101.3h0M1713.1 120h0M1732 142.4h0M1714.3 161.3h0M1730.2 183.3h0M1715.3 202.1h0M1730.1 223.4h0M1743.3 39.5h0M1760.6 60.1h0M1743 80h0M1762.4 100.9h0M1742.8 120.2h0M1761.4 141.2h0M1743.6 162h0M1761.2 183.4h0M1743.2 203.1h0M1760.3 223.6h0M1774.7 38.3h0M1790.9 59.9h0M1772.5 80.5h0M1790.8 100.5h0M1774.3 121.6h0M1789.7 141.5h0M1772.6 161.8h0M1790.5 181.5h0M1773.4 202.9h0M1791.5 224.3h0M1803.6 39.1h0M1821.6 60.4h0M1805.3 81h0M1820.4 99.8h0M1805.3 120.2h0M1820.8 142h0M1804.1 161.8h0M1822.3 182.1h0M1804.2 203.7h0M1819.9 223.2h0M1834 39.1h0M1850.1 59.4h0M1832.7 79.2h0M1850.5 99.8h0M1835.4 120.5h0M1850.3 142.1h0M1834.7 161.5h0M1852 182.8h0M1833.7 203.3h0M1850.2 223h0M1865.1 38.9h0M1882.2 58.9h0M1862.9 79.1h0M1881.7 100.6h0M1862.5 120.1h0M1882 141.5h0M1865.1 161.1h0M1881.3 181.7h0M1864.7 203.2h0M1881.3 222.9h0" stroke="#f20d0d" stroke-width="8.1"/></g></g>
<clipPath id="tc1965"><rect x="1914" y="62.4" width="138.6" height="138.7"/></clipPath><rect x="1909.2" y="57.6" width="148.2" height="148.3" fill="#fff" stroke="#000" stroke-width="1.2"/><rect x="1911.9" y="60.3" width="142.8" height="142.9" fill="none" stroke="#b08a73" stroke-width="4.3"/><g clip-path="url(#tc1965)"><path d="M1931.8 139.2L1916.7 131.3M1952.6 125.3L1940.8 112.8M1920.1 163L1912.7 178.6M1908.3 207L1921.9 196.2M2058.1 186.4L2061 169.3M1950.2 98.2L1940.8 112.8M1952.6 125.3L1951.9 142.7M2054.3 68.5L2061.4 52.5M1996.9 124.2L1980.3 130.2M2003.9 69.6L2001.8 52.1M2054.3 68.5L2054.9 86.3M1997.8 164L1998.9 146.3M1985.5 66.1L1973.8 52.5M2051.3 211.3L2038.6 198.5M1945.3 74.3L1929.4 82.9M1921.7 112.1L1915.5 95.1M2036.6 131.2L2033 113.5M1921.9 196.2L1937.4 186.8M2043.9 158.9L2042.5 177M2058.1 186.4L2042.5 177M2015.6 201.3L1998.6 194.6M1920.1 163L1906.5 150.7M2051.2 105.9L2062 120.8M1929.4 82.9L1915.5 95.1M1961.6 212L1943.5 208M1963.8 186.4L1981.7 181.2M2014.7 136.3L1998.9 146.3M1985.5 66.1L2003.9 69.6M2039.3 53L2020.6 55.4M1922.6 61.2L1905 54.1M2001.8 52.1L2020.6 55.4M1921.7 112.1L1940.8 112.8M2012.9 101.9L1998.6 88.8M1954.7 57.1L1945.3 74.3M1954.7 57.1L1973.8 52.5M2051.2 105.9L2033 113.5M1921.7 112.1L1916.7 131.3M1921.9 196.2L1912.7 178.6M2003.9 69.6L1998.6 88.8M2051.2 105.9L2054.9 86.3M1997.8 164L2015.4 173.6M1904.1 74.1L1905 54.1M2043.9 158.9L2061 169.3M2042.5 177L2061 169.3M1961.6 212L1979.4 202.6M1951.9 142.7L1931.8 139.2M1920.1 163L1940.8 165.8M1998.6 194.6L1979.4 202.6M2063.5 142.1L2062 120.8M1937.4 186.8L1940.8 165.8M2054.3 68.5L2039.3 53M1985.5 66.1L2001.8 52.1M1979.4 202.6L1981.7 181.2M2014.7 136.3L1996.9 124.2M1998.6 194.6L1981.7 181.2M1906.5 150.7L1916.7 131.3M1937.4 186.8L1943.5 208M2061.4 52.5L2039.3 53M1996.9 124.2L1998.9 146.3M2036.6 131.2L2014.7 136.3M1922.6 61.2L1904.1 74.1M1922.6 61.2L1929.4 82.9M2058.1 186.4L2038.6 198.5M2015.6 201.3L2038.6 198.5M2012.9 101.9L2033 113.5M1998.6 88.8L1981.9 105M2025.2 78.3L2020.6 55.4M1904.1 74.1L1915.5 95.1M1968.1 162.6L1963.8 186.4M1950.2 98.2L1945.3 74.3M1969.3 82.7L1950.2 98.2M1952.6 125.3L1931.8 139.2M1980.3 130.2L1981.9 105M1951.9 142.7L1940.8 165.8M1969.3 82.7L1981.9 105M1961.6 212L1963.8 186.4M2063.5 142.1L2043.9 158.9M2012.9 101.9L2025.2 78.3M2036.6 131.2L2062 120.8M2015.6 201.3L2015.4 173.6M1906.5 150.7L1912.7 178.6" stroke="#8484cc" stroke-width="1.2" fill="none"/><g stroke-linecap="round" fill="none"><path d="M1921.3 135h0M1947.6 120.1h0M1917.9 167.8h0M1912.9 202.3h0M2059.4 175.1h0M1947.1 102.5h0M1953.5 133h0M2057.3 62.3h0M1986 129.1h0M2003.1 58.3h0M2055 73.7h0M1997 156h0M1979 56.5h0M2045.4 206.6h0M1939.7 77.8h0M1920.1 105.2h0M2035.2 120.6h0M1928.8 192.5h0M2041.8 169.3h0M2051.8 182.1h0M2010.1 199.4h0M1914.8 159.2h0M2058.7 115.2h0M1920.9 91.4h0M1949.5 210.6h0M1970.7 184.4h0M2005.3 141.8h0M1997.2 68.8h0M2031.1 53.6h0M1912.2 57.3h0M2007.8 53.7h0M1935 112.5h0M2004.5 94.8h0M1950.8 64.3h0M1966.3 53.9h0M2046.1 109.4h0M1919.7 120.3h0M1919 190.5h0M2000.4 83.1h0M2053 93.7h0M2005 168.5h0M1904.4 67.3h0M2048.9 162h0M2048.9 173.3h0M1972.1 205.2h0M1943.8 141.4h0M1927.6 163.4h0M1984.9 199h0M2063.8 134.2h0M1939.1 172.7h0M2048.8 63.5h0M1989.8 60.7h0M1979.7 189.2h0M2009.1 131.8h0M1993.1 190.1h0M1911.6 139.2h0M1942.4 201.8h0M2053.9 52.1h0M1997.5 131.5h0M2023.1 133.2h0M1916.8 64.7h0M1925.3 69.9h0M2045.5 193.7h0M2031.4 200h0M2025.5 109.6h0M1987.9 99.4h0M2022.4 69.7h0M1911.8 87.5h0M1966.6 170.7h0M1948.6 88.1h0M1957.2 91.8h0M1939 135.1h0M1981.1 121h0M1946.6 151h0M1977.8 96.5h0M1962.1 203.1h0M2057.8 147.1h0M2020.3 87.2h0M2054 125h0M2015.3 182.5h0M1907.5 160.2h0M1975.4 160.8h0M1908.4 47.4h0M1979 47.1h0M1923.2 78.7h0M1939.8 214.5h0M1956.3 185.6h0M2046 49.7h0M2056.6 100.7h0M1923.3 68.7h0M2015.9 95.1h0M1925 136h0M1957.7 97.5h0M2049.2 153.6h0M1944.6 103.2h0M1985.9 98.6h0M2061 90.6h0M1924 169.4h0M2028.1 55.4h0M1944.1 159.1h0M1995.1 116.9h0M2036.4 158.5h0M1994.3 152.1h0M1999.8 96.2h0M1956.3 185.7h0M1940.3 158.3h0" stroke="#a6a6a6" stroke-width="5.4"/><path d="M1921 134.7h0M1947.3 119.8h0M1917.6 167.5h0M1912.6 202h0M2059.1 174.8h0M1946.8 102.2h0M1953.2 132.7h0M2057 62h0M1985.7 128.8h0M2002.8 58h0M2054.7 73.4h0M1996.7 155.7h0M1978.7 56.2h0M2045.1 206.3h0M1939.4 77.5h0M1919.8 104.9h0M2034.9 120.3h0M1928.5 192.2h0M2041.5 169h0M2051.5 181.8h0M2009.8 199.1h0M1914.5 158.9h0M2058.4 114.9h0M1920.6 91.1h0M1949.2 210.3h0M1970.4 184.1h0M2005 141.5h0M1996.9 68.5h0M2030.8 53.3h0M1911.9 57h0M2007.5 53.4h0M1934.7 112.2h0M2004.2 94.5h0M1950.5 64h0M1966 53.6h0M2045.8 109.1h0M1919.4 120h0M1918.7 190.2h0M2000.1 82.8h0M2052.7 93.4h0M2004.7 168.2h0M1904.1 67h0M2048.6 161.7h0M2048.6 173h0M1971.8 204.9h0M1943.5 141.1h0M1927.3 163.1h0M1984.6 198.7h0M2063.5 133.9h0M1938.8 172.4h0M2048.5 63.2h0M1989.5 60.4h0M1979.4 188.9h0M2008.8 131.5h0M1992.8 189.8h0M1911.3 138.9h0M1942.1 201.5h0M2053.6 51.8h0M1997.2 131.2h0M2022.8 132.9h0M1916.5 64.4h0M1925 69.6h0M2045.2 193.4h0M2031.1 199.7h0M2025.2 109.3h0M1987.6 99.1h0M2022.1 69.4h0M1911.5 87.2h0M1966.3 170.4h0M1948.3 87.8h0M1956.9 91.5h0M1938.7 134.8h0M1980.8 120.7h0M1946.3 150.7h0M1977.5 96.2h0M1961.8 202.8h0M2057.5 146.8h0M2020 86.9h0M2053.7 124.7h0M2015 182.2h0M1907.2 159.9h0M1975.1 160.5h0M1908.1 47.1h0M1978.7 46.8h0M1922.9 78.4h0M1939.5 214.2h0M1956 185.3h0M2045.7 49.4h0M2056.3 100.4h0M1923 68.4h0M2015.6 94.8h0M1924.7 135.7h0M1957.4 97.2h0M2048.9 153.3h0M1944.3 102.9h0M1985.6 98.3h0M2060.7 90.3h0M1923.7 169.1h0M2027.8 55.1h0M1943.8 158.8h0M1994.8 116.6h0M2036.1 158.2h0M1994 151.8h0M1999.5 95.9h0M1956 185.4h0M1940 158h0" stroke="#e2e2e2" stroke-width="4.2"/><path d="M2036.6 131.2h0M1908.3 207h0M2015.6 201.3h0M1998.6 194.6h0M1952.6 125.3h0M1985.5 66.1h0M1969.3 82.7h0M1922.6 61.2h0M1954.7 57.1h0M2054.3 68.5h0M1904.1 74.1h0M1951.9 142.7h0M1997.8 164h0M1950.2 98.2h0M2014.7 136.3h0M2063.5 142.1h0M1961.6 212h0M2051.2 105.9h0M2003.9 69.6h0M1945.3 74.3h0M2061.4 52.5h0M2012.9 101.9h0M1921.7 112.1h0M1968.1 162.6h0M2043.9 158.9h0M2039.3 53h0M2051.3 211.3h0M2015.4 173.6h0M1920.1 163h0M1921.9 196.2h0M2058.1 186.4h0M2054.9 86.3h0M2001.8 52.1h0M1937.4 186.8h0M1996.9 124.2h0M1940.8 112.8h0M2025.2 78.3h0M1998.9 146.3h0M1963.8 186.4h0M2038.6 198.5h0M1931.8 139.2h0M1980.3 130.2h0M1940.8 165.8h0M1943.5 208h0M1906.5 150.7h0M2062 120.8h0M1916.7 131.3h0M1929.4 82.9h0M1998.6 88.8h0M1979.4 202.6h0M1915.5 95.1h0M2033 113.5h0M1905 54.1h0M1981.7 181.2h0M2042.5 177h0M1973.8 52.5h0M1912.7 178.6h0M1981.9 105h0M2061 169.3h0M2020.6 55.4h0" stroke="#f20d0d" stroke-width="8.1"/></g></g>
<clipPath id="tc2233"><rect x="1914.5" y="329.5" width="138.2" height="137.8"/></clipPath><rect x="1909.7" y="324.7" width="147.8" height="147.4" fill="#fff" stroke="#000" stroke-width="1.2"/><rect x="1912.4" y="327.4" width="142.4" height="142" fill="none" stroke="#c9aa22" stroke-width="4.3"/><g clip-path="url(#tc2233)"><path d="M1961.5 339.3L1976.9 343.7M1988.7 368.3L2003.1 375.5M2063.9 330.9L2049 324.7M1983.5 404.1L1987.7 388.5M2028.3 463.9L2026 447.8M2028.3 463.9L2044.5 466M2032.9 397L2042.7 384.1M1983.5 404.1L1987 420.1M1906.3 466.2L1919.6 475.9M1906.3 466.2L1903.4 450M2019.8 407.1L2032.9 397M2003.9 411.7L2019.8 407.1M2059.2 386.3L2042.7 384.1M1989.2 464.3L1975.3 454.9M1936.1 359.5L1936.5 342.6M1967.4 323L1984.1 320M2003.1 375.5L2011.4 390.5M1991.1 436.7L1987 420.1M1921.3 332.9L1918.9 350M2001.2 322.1L1984.1 320M1961.5 339.3L1967.4 323M1959.1 385L1954.6 401.8M1913.5 404.8L1910 387.8M1961.5 339.3L1947.4 328.7M1936.5 342.6L1947.4 328.7M2032.2 318.7L2049 324.7M1942.3 437.5L1952.1 452.4M1914.4 435.9L1903.4 450M1921.3 332.9L1904.3 327.1M1921.3 332.9L1936.5 342.6M2048.6 405.9L2032.9 397M1995.1 346.9L2011.1 355.5M1969.5 430.1L1953.3 421.6M1959.1 385L1966.3 368.1M2044.5 466L2060.5 474.9M1995.1 346.9L1976.9 343.7M2023.3 376.5L2011.4 390.5M2010.3 438.2L2026 447.8M1913.5 404.8L1931.6 408.8M1947.1 470.2L1952.1 452.4M2011.4 390.5L2019.8 407.1M2010.3 438.2L2024.2 425.5M2003.9 411.7L1987 420.1M2019.8 407.1L2024.2 425.5M2033.8 360.1L2052.6 362.9M1936.5 342.6L1918.9 350M1910.8 367.4L1918.9 350M1991.1 436.7L2010.3 438.2M1942.3 437.5L1953.3 421.6M2033.8 360.1L2023.3 376.5M2033.8 360.1L2038.9 341.4M2049 324.7L2038.9 341.4M2017.1 333.7L2001.2 322.1M1936.1 359.5L1918.9 350M1953.3 421.6L1954.6 401.8M1969.5 430.1L1987 420.1M2003.1 375.5L1987.7 388.5M1988.7 368.3L1987.7 388.5M2023.3 376.5L2003.1 375.5M1910.8 367.4L1910 387.8M1930.7 387.7L1910 387.8M1967.4 323L1947.4 328.7M2023.3 376.5L2042.7 384.1M2044.5 466L2058.6 450.6M1930.7 387.7L1931.6 408.8M2017.1 333.7L2032.2 318.7M2050.5 427.3L2048.6 405.9M2003.1 375.5L2011.1 355.5M1967.5 477.6L1947.1 470.2M2003.9 411.7L1983.5 404.1M1914.4 435.9L1926.7 453.9M1989.2 464.3L2006.4 478.2M2048.6 405.9L2059.2 386.3M1988.7 368.3L1995.1 346.9M2026 447.8L2024.2 425.5M2011.4 390.5L2032.9 397M1988.7 368.3L1966.3 368.1M2003.9 411.7L2011.4 390.5M1991.1 436.7L1969.5 430.1M2048.6 405.9L2042.7 384.1M2023.3 376.5L2032.9 397M2017.1 333.7L2011.1 355.5M1942.3 437.5L1926.7 453.9M1967.4 323L1976.9 343.7M1919.6 475.9L1926.7 453.9M2017.1 333.7L2038.9 341.4M2033.8 360.1L2011.1 355.5M1975.3 454.9L1952.1 452.4M2052.6 362.9L2042.7 384.1M1926.7 453.9L1903.4 450M2032.2 318.7L2038.9 341.4M1906.3 466.2L1926.7 453.9M1991.1 436.7L1975.3 454.9M1967.5 477.6L1975.3 454.9M1931.6 408.8L1954.6 401.8M1930.7 387.7L1913.5 404.8M2059.2 386.3L2052.6 362.9M2058.6 450.6L2060.5 474.9M2003.9 411.7L2024.2 425.5M2050.5 427.3L2058.6 450.6M1984.1 320L1976.9 343.7M1961.5 339.3L1936.5 342.6M1931.6 408.8L1953.3 421.6M1967.5 477.6L1989.2 464.3M1969.5 430.1L1975.3 454.9M2052.6 362.9L2038.9 341.4M2001.2 322.1L1995.1 346.9M2017.1 333.7L1995.1 346.9M1988.7 368.3L2011.1 355.5M2044.5 466L2026 447.8M2028.3 463.9L2006.4 478.2M2050.5 427.3L2024.2 425.5M1921.3 332.9L1947.4 328.7M1936.1 359.5L1910.8 367.4M1966.3 368.1L1976.9 343.7M1904.3 327.1L1918.9 350M1991.1 436.7L1989.2 464.3M1930.7 387.7L1954.6 401.8M1914.4 435.9L1942.3 437.5M1919.6 475.9L1947.1 470.2M1942.3 437.5L1969.5 430.1M1930.7 387.7L1910.8 367.4M1959.1 385L1987.7 388.5M2019.8 407.1L2048.6 405.9M1983.5 404.1L1954.6 401.8M1961.5 339.3L1966.3 368.1M1967.5 477.6L1952.1 452.4M2010.3 438.2L1987 420.1M1966.3 368.1L1987.7 388.5M1931.6 408.8L1910 387.8M1921.3 332.9L1936.1 359.5M1919.6 475.9L1903.4 450M1953.3 421.6L1952.1 452.4" stroke="#8484cc" stroke-width="1.3" fill="none"/><g stroke-linecap="round" fill="none"><path d="M1971.5 340.9h0M1994 371.9h0M2058.7 327.6h0M1985.1 398.3h0M2028.1 458.3h0M2033.3 464.3h0M2039.6 388h0M1985.1 415.2h0M1911.2 470h0M1905.8 461.3h0M2023.8 403.1h0M2009 410.9h0M2048.5 383.9h0M1984.7 460.4h0M1936.2 353.4h0M1978 320.2h0M2007.5 380.5h0M1988.6 427.8h0M1918.9 342.3h0M1989.3 320.3h0M1965.3 329.1h0M1956.1 395.1h0M1911.9 398.5h0M1952.8 332.5h0M1944 332.6h0M2042.8 323.1h0M1945.9 443.2h0M1909.8 440.8h0M1914.9 329.5h0M1926.5 335.7h0M2044 403.1h0M2006 352.4h0M1959.8 423.7h0M1963 374.9h0M2049.9 468.3h0M1989.3 346h0M2016.3 385.2h0M2014.5 441.2h0M1924.5 407.6h0M1950.2 458.7h0M2015.8 400.1h0M2014.7 433.3h0M1997.6 415.1h0M2022.4 412.4h0M2040.7 361h0M1926.7 347.3h0M1914.6 356.6h0M2003.9 438.6h0M1947 431.4h0M2028.8 367.3h0M2036 352.7h0M2042.1 335.9h0M2011.7 330.5h0M1930.9 355.6h0M1954.7 414.3h0M1981.2 423.1h0M1997.8 379.4h0M1987.3 374h0M2009.6 375.7h0M1909.4 379h0M1923.2 388.1h0M1959.5 324.2h0M2035.5 381h0M2053.7 455.7h0M1930.5 396h0M2023.8 328h0M2050 418.7h0M2009 361.7h0M1953.6 473.2h0M1996.2 407.9h0M1921.1 447h0M2000.1 473.4h0M2055 393.1h0M1991.8 354.7h0M2025.7 440.2h0M2024.9 393.3h0M1978.8 369.4h0M2006.4 404.7h0M1983.5 435.1h0M2046.4 396.2h0M2029.7 388h0M2016.1 340.9h0M1933.2 446.6h0M1972.1 331.6h0M1924.7 462.8h0M2029.2 338.9h0M2026 358.4h0M1967 454.6h0M2045.6 377h0M1917.1 451.7h0M2034.4 327.4h0M1919.6 459.7h0M1981.7 449.2h0M1969.9 468.8h0M1948.1 405.2h0M1923.8 393.8h0M2054.3 371h0M2059.2 467.8h0M2017 421h0M2052.3 435.1h0M1981.5 329.5h0M1945.9 341.9h0M1938.9 413.2h0M1976.3 472.3h0M1970.8 438.7h0M2043 349.4h0M1996.8 337.1h0M2002.3 341.8h0M2004.8 359.3h0M2032.3 453.5h0M2013.7 473.8h0M2033.7 426.4h0M1938.7 330.8h0M1919.6 364h0M1972.1 352.5h0M1909.2 335.2h0M1990.7 446h0M1946.8 396.4h0M1924.7 435.3h0M1929.2 472.5h0M1952.6 434.5h0M1918.1 374.7h0M1968.5 386.3h0M2038.2 407.1h0M1965.4 401.9h0M1965.3 356h0M1957.5 461.4h0M1994.4 425.7h0M1974 374.7h0M1919.3 395h0M1931.8 349h0M1908.3 459.2h0M1951.9 432.6h0M2048.4 413.4h0M2045.7 390.9h0M1914.7 481.6h0M2035.4 382.3h0M2067.3 478.1h0M1930.9 447.8h0M1960.3 479.6h0M1980.8 411.1h0M2009.1 406.3h0M1994.8 386.1h0M1938.6 406.4h0M2032 457.4h0M1930.4 416.2h0M2009.7 379.1h0M1934.1 453.3h0M1972.7 461.9h0M2052.6 412.2h0M2001.2 472.8h0M1976.5 406.6h0M1955.6 334.6h0" stroke="#a6a6a6" stroke-width="5.4"/><path d="M1971.2 340.6h0M1993.7 371.6h0M2058.4 327.3h0M1984.8 398h0M2027.8 458h0M2033 464h0M2039.3 387.7h0M1984.8 414.9h0M1910.9 469.7h0M1905.5 461h0M2023.5 402.8h0M2008.7 410.6h0M2048.2 383.6h0M1984.4 460.1h0M1935.9 353.1h0M1977.7 319.9h0M2007.2 380.2h0M1988.3 427.5h0M1918.6 342h0M1989 320h0M1965 328.8h0M1955.8 394.8h0M1911.6 398.2h0M1952.5 332.2h0M1943.7 332.3h0M2042.5 322.8h0M1945.6 442.9h0M1909.5 440.5h0M1914.6 329.2h0M1926.2 335.4h0M2043.7 402.8h0M2005.7 352.1h0M1959.5 423.4h0M1962.7 374.6h0M2049.6 468h0M1989 345.7h0M2016 384.9h0M2014.2 440.9h0M1924.2 407.3h0M1949.9 458.4h0M2015.5 399.8h0M2014.4 433h0M1997.3 414.8h0M2022.1 412.1h0M2040.4 360.7h0M1926.4 347h0M1914.3 356.3h0M2003.6 438.3h0M1946.7 431.1h0M2028.5 367h0M2035.7 352.4h0M2041.8 335.6h0M2011.4 330.2h0M1930.6 355.3h0M1954.4 414h0M1980.9 422.8h0M1997.5 379.1h0M1987 373.7h0M2009.3 375.4h0M1909.1 378.7h0M1922.9 387.8h0M1959.2 323.9h0M2035.2 380.7h0M2053.4 455.4h0M1930.2 395.7h0M2023.5 327.7h0M2049.7 418.4h0M2008.7 361.4h0M1953.3 472.9h0M1995.9 407.6h0M1920.8 446.7h0M1999.8 473.1h0M2054.7 392.8h0M1991.5 354.4h0M2025.4 439.9h0M2024.6 393h0M1978.5 369.1h0M2006.1 404.4h0M1983.2 434.8h0M2046.1 395.9h0M2029.4 387.7h0M2015.8 340.6h0M1932.9 446.3h0M1971.8 331.3h0M1924.4 462.5h0M2028.9 338.6h0M2025.7 358.1h0M1966.7 454.3h0M2045.3 376.7h0M1916.8 451.4h0M2034.1 327.1h0M1919.3 459.4h0M1981.4 448.9h0M1969.6 468.5h0M1947.8 404.9h0M1923.5 393.5h0M2054 370.7h0M2058.9 467.5h0M2016.7 420.7h0M2052 434.8h0M1981.2 329.2h0M1945.6 341.6h0M1938.6 412.9h0M1976 472h0M1970.5 438.4h0M2042.7 349.1h0M1996.5 336.8h0M2002 341.5h0M2004.5 359h0M2032 453.2h0M2013.4 473.5h0M2033.4 426.1h0M1938.4 330.5h0M1919.3 363.7h0M1971.8 352.2h0M1908.9 334.9h0M1990.4 445.7h0M1946.5 396.1h0M1924.4 435h0M1928.9 472.2h0M1952.3 434.2h0M1917.8 374.4h0M1968.2 386h0M2037.9 406.8h0M1965.1 401.6h0M1965 355.7h0M1957.2 461.1h0M1994.1 425.4h0M1973.7 374.4h0M1919 394.7h0M1931.5 348.7h0M1908 458.9h0M1951.6 432.3h0M2048.1 413.1h0M2045.4 390.6h0M1914.4 481.3h0M2035.1 382h0M2067 477.8h0M1930.6 447.5h0M1960 479.3h0M1980.5 410.8h0M2008.8 406h0M1994.5 385.8h0M1938.3 406.1h0M2031.7 457.1h0M1930.1 415.9h0M2009.4 378.8h0M1933.8 453h0M1972.4 461.6h0M2052.3 411.9h0M2000.9 472.5h0M1976.2 406.3h0M1955.3 334.3h0" stroke="#e2e2e2" stroke-width="4.2"/><path d="M1930.7 387.7h0M2017.1 333.7h0M2050.5 427.3h0M1906.3 466.2h0M1961.5 339.3h0M1988.7 368.3h0M2028.3 463.9h0M2003.9 411.7h0M1913.5 404.8h0M1914.4 435.9h0M2033.8 360.1h0M1967.4 323h0M2023.3 376.5h0M2032.2 318.7h0M1921.3 332.9h0M2003.1 375.5h0M1991.1 436.7h0M2044.5 466h0M1959.1 385h0M1967.5 477.6h0M2010.3 438.2h0M1936.1 359.5h0M2063.9 330.9h0M1904.3 327.1h0M1919.6 475.9h0M2011.4 390.5h0M1942.3 437.5h0M1926.7 453.9h0M1931.6 408.8h0M1936.5 342.6h0M1983.5 404.1h0M1910.8 367.4h0M2058.6 450.6h0M1989.2 464.3h0M2019.8 407.1h0M2001.2 322.1h0M1947.1 470.2h0M1995.1 346.9h0M2011.1 355.5h0M2048.6 405.9h0M1969.5 430.1h0M2059.2 386.3h0M2026 447.8h0M1966.3 368.1h0M1918.9 350h0M2049 324.7h0M1987.7 388.5h0M1910 387.8h0M1953.3 421.6h0M2052.6 362.9h0M1987 420.1h0M1984.1 320h0M2060.5 474.9h0M2006.4 478.2h0M1947.4 328.7h0M1976.9 343.7h0M2032.9 397h0M2038.9 341.4h0M2024.2 425.5h0M2042.7 384.1h0M1975.3 454.9h0M1954.6 401.8h0M1952.1 452.4h0M1903.4 450h0" stroke="#f20d0d" stroke-width="8.1"/></g></g>
<clipPath id="tc2499"><rect x="1914.4" y="595.4" width="138.2" height="137.7"/></clipPath><rect x="1909.6" y="590.6" width="147.8" height="147.3" fill="#fff" stroke="#000" stroke-width="1.2"/><rect x="1912.3" y="593.3" width="142.4" height="141.9" fill="none" stroke="#f5a97a" stroke-width="4.3"/><g clip-path="url(#tc2499)"><path d="M1946.6 604.8L1959.3 588M2043.3 696.7L2027 709.9M2012.6 606L2024.2 588.1M1941.2 671.5L1960.1 682.4M2032.8 615.1L2029.7 637M2012.6 606L2032.8 615.1M2051.5 632.3L2029.7 637M1947.7 724.2L1963.1 740.4M2030.1 732L2027 709.9M2054.7 722.7L2063.5 743.2M1918.9 635L1923.5 612.8M2043.3 696.7L2064 686.4M1947.7 724.2L1961.8 705.8M1960.1 682.4L1961.8 705.8M2002.2 660.8L1980.7 671.1M1905.6 596.6L1923.5 612.8M1963.1 740.4L1980.5 723.5M1999.9 704L2017.6 686.7M1980.5 723.5L1999 740.1M1941.2 671.5L1944.9 646.8M1929.1 586.6L1946.6 604.8M1905.6 596.6L1929.1 586.6M1925.3 711.6L1906.7 693.5M1980.9 602.6L1959.3 588M2030.1 732L2054.7 722.7M2003.2 633.6L2002.2 660.8M1906.7 693.5L1909.5 665.7M1925.3 711.6L1921.7 739.6M1974.9 630.5L1980.9 602.6M1974.9 630.5L2003.2 633.6M1918.9 635L1944.9 646.8M2035.2 660.7L2017.6 686.7M2035.2 660.7L2051.5 632.3" stroke="#8484cc" stroke-width="1.2" fill="none"/><g stroke-linecap="round" fill="none"><path d="M1951.4 598h0M2033.3 704.2h0M2020.9 594.7h0M1954.8 679.6h0M2032.7 622.5h0M2019.2 609.6h0M2043 633.5h0M1954.8 730.6h0M2030.1 724.1h0M2060.7 735.4h0M1921.9 621.3h0M2052 692.6h0M1957.6 711.4h0M1961.4 698.3h0M1989.2 668h0M1916.5 607.6h0M1968.2 734.4h0M2010.6 691.9h0M1988.1 730h0M1942.8 655.5h0M1940.6 599.3h0M1915.2 592.9h0M1918.1 705.7h0M1967.5 592.6h0M2046.5 726.3h0M2003.2 644.1h0M1907.8 677.5h0M1923.2 722h0M1976.4 618.9h0M1993.6 632.1h0M1935.4 643.3h0M2028.3 669.4h0M2045.5 640.9h0M1984.1 730.1h0M1950.9 598.7h0M1932.8 710.8h0M1956.8 689.1h0M2025.8 738.1h0M1935.5 590.4h0M1906.5 589.1h0M2015.5 679.5h0M1923.3 581.7h0M2070.8 683.4h0M1981 678.6h0M2025.1 595.6h0M2018.8 583h0M2056.7 688.2h0M2030.5 584.1h0M1953.6 607.4h0M1928 735.6h0M2021.8 581h0M1994.7 709.4h0M2026.8 702.4h0M1996.1 635.8h0M2056.6 740.1h0M2002 653.3h0M2006.6 654.8h0M1905.8 604.1h0M1904.6 589.1h0M2055.5 730.1h0M2028.8 629.5h0M2054.8 730.2h0M1987.4 674.5h0" stroke="#a6a6a6" stroke-width="5.4"/><path d="M1951.1 597.7h0M2033 703.9h0M2020.6 594.4h0M1954.5 679.3h0M2032.4 622.2h0M2018.9 609.3h0M2042.7 633.2h0M1954.5 730.3h0M2029.8 723.8h0M2060.4 735.1h0M1921.6 621h0M2051.7 692.3h0M1957.3 711.1h0M1961.1 698h0M1988.9 667.7h0M1916.2 607.3h0M1967.9 734.1h0M2010.3 691.6h0M1987.8 729.7h0M1942.5 655.2h0M1940.3 599h0M1914.9 592.6h0M1917.8 705.4h0M1967.2 592.3h0M2046.2 726h0M2002.9 643.8h0M1907.5 677.2h0M1922.9 721.7h0M1976.1 618.6h0M1993.3 631.8h0M1935.1 643h0M2028 669.1h0M2045.2 640.6h0M1983.8 729.8h0M1950.6 598.4h0M1932.5 710.5h0M1956.5 688.8h0M2025.5 737.8h0M1935.2 590.1h0M1906.2 588.8h0M2015.2 679.2h0M1923 581.4h0M2070.5 683.1h0M1980.7 678.3h0M2024.8 595.3h0M2018.5 582.7h0M2056.4 687.9h0M2030.2 583.8h0M1953.3 607.1h0M1927.7 735.3h0M2021.5 580.7h0M1994.4 709.1h0M2026.5 702.1h0M1995.8 635.5h0M2056.3 739.8h0M2001.7 653h0M2006.3 654.5h0M1905.5 603.8h0M1904.3 588.8h0M2055.2 729.8h0M2028.5 629.2h0M2054.5 729.9h0M1987.1 674.2h0" stroke="#e2e2e2" stroke-width="4.2"/><path d="M1918.9 635h0M1947.7 724.2h0M2043.3 696.7h0M2012.6 606h0M1905.6 596.6h0M1974.9 630.5h0M2062.6 599.5h0M2003.2 633.6h0M2035.2 660.7h0M1980.9 602.6h0M1999.9 704h0M2032.8 615.1h0M1941.2 671.5h0M2017.6 686.7h0M2002.2 660.8h0M1963.1 740.4h0M1929.1 586.6h0M1960.1 682.4h0M1946.6 604.8h0M1925.3 711.6h0M2024.2 588.1h0M2030.1 732h0M2054.7 722.7h0M1906.7 693.5h0M2051.5 632.3h0M1980.5 723.5h0M1980.7 671.1h0M1909.5 665.7h0M1944.9 646.8h0M2064 686.4h0M1921.7 739.6h0M1999 740.1h0M2063.5 743.2h0M2027 709.9h0M1923.5 612.8h0M1961.8 705.8h0M2029.7 637h0M1959.3 588h0" stroke="#f20d0d" stroke-width="8.1"/></g></g>
<text x="1282.6" y="50.8" class="dvb" font-size="14">b</text>
<text x="1491.4" y="50" class="dvb" font-size="14">c</text>
<text x="1699.4" y="50.8" class="dvb" font-size="14">d</text>
<text x="1907.8" y="50" class="dvb" font-size="14">e</text>
<text x="1908.6" y="317.4" class="dvb" font-size="14">f</text>
<text x="1907.8" y="579.6" class="dvb" font-size="14">g</text>
<text x="1149.4" y="228" class="dv" text-anchor="middle" font-size="13.3">hexagonal</text>
<text x="1358" y="228" class="dv" text-anchor="middle" font-size="13.3">pentagonal</text>
<text x="1566" y="226.6" class="dv" text-anchor="middle" font-size="13.3">square</text>
<text x="1774.8" y="229.6" class="dv" text-anchor="middle" font-size="13.3">flat-rhombic</text>
<text x="1983.2" y="229.6" class="dv" text-anchor="middle" font-size="13.3">hexatic</text>
<text x="1983" y="494.5" class="dv" text-anchor="middle" font-size="13.3">superionic</text>
<text x="1983" y="760.4" class="dv" text-anchor="middle" font-size="13.3">liquid</text>
<rect x="1060" y="30" width="64.5" height="62" fill="#fdfdfd"/>
<text x="1062.5" y="66.5" class="pl" textLength="43" lengthAdjust="spacingAndGlyphs">b)</text></g>
<g id="panel-c"><rect x="9.5" y="887.2" width="946.9" height="697.6" fill="none" stroke="#000" stroke-width="4.8"/>
<text x="36.2" y="944.9" class="pl" textLength="37.5" lengthAdjust="spacingAndGlyphs">c)</text>
<g filter="url(#cb)"><rect x="76" y="1004" width="322" height="432" fill="#e283ab" fill-opacity=".13"/><rect x="90" y="1076" width="298" height="74" fill="#b0508a" fill-opacity=".55"/><rect x="90" y="1298" width="298" height="78" fill="#b0508a" fill-opacity=".34"/></g><g mask="url(#zm1)"><rect x="50" y="1040" width="380" height="140" fill="url(#zn)" fill-opacity=".6"/></g><g mask="url(#zm2)"><rect x="50" y="1270" width="380" height="140" fill="url(#zn)" fill-opacity=".36"/></g><g stroke-linecap="round" fill="none" filter="url(#cb2)"><path d="M174 1002.2h0M289.1 994.8h0M248.6 1022.4h0M80.4 1035.7h0M73.2 1028.8h0M84.6 996.5h0M209.4 1065.7h0M103.6 1009h0M280.9 1077.1h0M263.1 1025.3h0M403.6 992.4h0M362.2 1015.2h0M110.8 999.1h0M168.6 1064.7h0M123.6 1042.7h0M284.9 1023h0M252.8 993.9h0M81 1007.4h0M299.5 1028.2h0M170.6 1043h0M219.5 1016.2h0M339.6 1053.7h0M145.9 1042h0M244.9 1070.3h0M316.8 1015.1h0M405 999.1h0M207.2 1059.2h0M113.5 1034h0M73.8 1050.8h0M329.1 1041.9h0M368.2 1017.5h0M304.7 1043.9h0M264.1 1030.9h0M355.7 1076.8h0M226.9 1050.4h0M81.4 1053.9h0M287.8 1081.4h0M349.3 1014.8h0M195.8 1050.9h0M67.9 1031.4h0M119.2 999h0M80.8 1060.2h0M105.5 1011.3h0M197.6 1069.9h0M88.4 1030.2h0M253.4 1071h0M348.4 1069.2h0M158 1027h0M186.3 1071.1h0M397.1 1002.2h0M122 1009.8h0M142.1 1033.6h0M267.4 1012.7h0M61.4 1027.4h0M190 1041.2h0M395.5 1052.9h0M241.5 1046.1h0M298 993.1h0M376.6 1061.3h0M367.8 1063h0M198.1 1025.5h0M96.4 1047.6h0M81.9 994.3h0M133.5 1003.3h0M179.7 992.9h0M60.1 1002.2h0M95.7 1022.2h0M69 1070.2h0M276.2 1002h0M148.8 1020.7h0M188.2 999.5h0M358.8 1081.4h0M224 1033.5h0M90.2 997.6h0M180.6 1012.9h0M351.8 1003.2h0M68.1 1077.4h0M245.9 1001.8h0M251.2 990.5h0M245.9 1080h0M363.9 1053.4h0M151.9 1022.5h0M118.8 1060.6h0M247.5 1061.2h0M176 1009h0M345.7 1080.6h0M360.1 1063.8h0M348.1 1057.5h0M139.8 1036.7h0M185.2 990.7h0M69.8 1014.3h0M151.2 1053.1h0M396.7 1030h0M389.8 1080.9h0M396.2 1022.3h0M137.6 1009.3h0M129.2 1007.2h0M279.7 1072.6h0M355.8 1033.1h0M289.8 1063.2h0M89.8 1050.1h0M380.2 1061.5h0M324 1032.9h0M122.8 1062.2h0M177 1063.3h0M402 1025.2h0M201.3 1077h0M315.1 1004h0M104.7 1002.2h0M378.5 1063.8h0M111.5 1065.7h0M405.1 1049.8h0M183.3 1039.6h0M106.1 989.3h0M401.8 1049.1h0M245.4 1075.8h0M212.7 1069.9h0M350.8 1007.8h0M148.6 1015.5h0M144.7 1043.1h0M151.3 1027.4h0M106.1 1073.5h0M184.5 1031.1h0M265.3 1073h0M208.1 1074.3h0M236.6 1038h0M244.3 989.8h0M214.9 1005.2h0M61.4 1063.1h0M120.7 1032.5h0M315.3 1040.3h0M174.7 1036.7h0M255.5 1061.7h0M97.4 1040.7h0M147.5 1014h0M331.8 1035.7h0M257.7 1059.4h0M381.2 1029.7h0M275.6 1035.5h0M240.3 1053.1h0M219.2 1038.1h0M228.3 1076.5h0M306.1 1070.4h0M391.6 1012.4h0M256.9 1076.7h0M355.7 1000.9h0M102.8 1029.6h0M85.5 1010.6h0M85.7 1050.9h0M335.9 1072.3h0M114.4 1055.3h0M292.4 1001.4h0M370.8 1078.9h0M137.3 1077.5h0M200.2 1033.8h0M408.4 1066.2h0M116.8 1028.6h0M241.5 1019.9h0M128.9 1017.9h0M314.2 989.8h0M255 1029.4h0M66.4 1019.2h0M279.6 1036.2h0M82.6 1080.6h0M337.5 1079.3h0M96.9 1013h0M73.9 1061.2h0M155.2 1000.2h0M208.6 1073.7h0M348.3 1012.3h0M112.6 1074.4h0M260.8 1053.8h0M91.5 993.4h0M302.2 1028h0M85.5 1076.2h0M283.3 1063.4h0M89.5 1068.5h0M83.5 1069.1h0M219.7 1019.9h0M254.7 1075.1h0M154.3 1000.1h0M245.5 1010.4h0M98.5 1003.2h0M77.7 1007h0M169.8 1016.7h0M327.3 1015.3h0M236 1004.7h0M182.1 989.7h0M148.2 989.4h0M318 1039.8h0M126.7 1032.6h0M389 998h0M348.3 1028.6h0M234.2 1066.5h0M198.4 1035.6h0M302.1 1080.3h0M180.6 1066.2h0M308.8 1047.8h0M202.5 1020.7h0M79.1 1000.2h0M84.9 1057.6h0M150 1003.3h0M89.7 1067.1h0M366.4 1051h0M159.2 1010.8h0M163.2 1031.2h0M115.5 1029.9h0M152.7 1078.4h0M402.4 1039.4h0M146 1078.8h0M169 1021.5h0M60.4 1023.9h0M227.1 1035.3h0M130.7 1035.4h0M61.7 1012.8h0M91.6 1025.6h0M74.7 990.1h0M167.1 1009.9h0M266.1 1037.7h0M324.2 1049.8h0M312 1070.6h0M197.1 1018.7h0M406.6 1002h0M314.9 1048.5h0M75.4 1066.5h0M374 1047h0M318.3 1064.3h0M109 1037.2h0M237.5 1066.5h0M343.2 1065.7h0M265.6 1071.9h0M300.4 1053.2h0M140.9 990.9h0M106.8 1021.9h0M96.9 1066.6h0M256.6 1047h0M280.4 1052h0M232.2 988.3h0M340.8 1058.3h0M237 1038.3h0M292.1 994.2h0M319.3 1011.7h0M86.2 1013h0M316.7 1007.3h0M320.4 1079.7h0M233.9 1024h0M228.6 1052.3h0M330 1046h0M286.3 995.3h0M111.9 1011.9h0M321.6 1016.6h0M259.9 989.2h0M81.4 1013.3h0M296.5 1053.1h0M297.8 1015.3h0M241.8 1031.7h0M224.2 999.1h0M374.6 1006.7h0M404.3 1076h0M66.2 1031.1h0M348.6 1079h0M218.2 1013.3h0M133.9 1076.9h0M134.2 1042.7h0M109.9 1037.3h0M395.4 1000.5h0M348.7 1035.8h0M372.2 1054.1h0M141.4 1072.4h0M231.1 990.3h0M61.3 1034.2h0M218.7 1016.4h0M109.5 1020.3h0M171.3 1067h0M60.6 1058.6h0M355.4 999.3h0M386.1 1055h0M377.4 1015.2h0M191 1024.9h0M411.6 1241.6h0M187 1217.1h0M156.9 1159.3h0M95.8 1278.9h0M160.5 1294.2h0M147.8 1192.4h0M239.9 1180.9h0M191.4 1297.3h0M371.3 1275.4h0M282.1 1290.8h0M391.1 1235.5h0M313.3 1159.5h0M317.8 1220.5h0M324.9 1250h0M160.7 1159.4h0M386.2 1171.4h0M226.2 1204.2h0M164.8 1264.3h0M403.7 1191.5h0M290.9 1197.7h0M256.2 1211.9h0M118.9 1176.6h0M133.2 1289.7h0M235 1185.4h0M379 1303.5h0M218.4 1173.2h0M127.7 1165.8h0M180.4 1165.8h0M144.2 1191.3h0M260.5 1286.9h0M323.9 1214.7h0M205.7 1231.7h0M192.7 1203.4h0M81.8 1194.2h0M400.6 1171.1h0M237.2 1247.7h0M363.7 1184.8h0M155.4 1189.8h0M200.7 1219.8h0M395.8 1281h0M367.3 1155.3h0M71.3 1259.8h0M375.3 1223.9h0M266.7 1152h0M197.8 1292.9h0M350.6 1282h0M402.2 1189.8h0M98.4 1175.5h0M243.9 1255.7h0M391.4 1261.7h0M287.9 1268.2h0M221 1235.8h0M73.9 1270.9h0M141.9 1291.8h0M287.2 1198.2h0M105 1190.3h0M284 1258.2h0M99.5 1162.7h0M244.6 1240.6h0M196.6 1186h0M271.6 1153.6h0M166.1 1222h0M397.5 1250h0M371.1 1224.2h0M142.6 1189.6h0M398.1 1259.1h0M168.2 1155.3h0M235.4 1254.5h0M207.8 1191.1h0M294.9 1292.6h0M139.8 1157.2h0M179 1215.9h0M300.3 1182.1h0M340.6 1264.3h0M237.7 1183.2h0M401.4 1199.4h0M348.6 1187.1h0M137.9 1267.6h0M163.8 1296.7h0M234.5 1180.5h0M138.6 1215.4h0M294.2 1296.2h0M111.5 1211.8h0M135 1300.1h0M110 1159.9h0M81.2 1211.8h0M376.2 1286.3h0M317.9 1303.6h0M387.9 1202h0M125.3 1294.3h0M322.7 1156.8h0M293.9 1209.6h0M191.6 1202.4h0M119.6 1152.4h0M158.5 1205.4h0M396.3 1170.8h0M399.4 1183.5h0M185.5 1276.9h0M349.3 1217.7h0M77.3 1224h0M191.2 1291.8h0M127.9 1207.4h0M375.7 1156.6h0M204.6 1275.4h0M329.9 1158.2h0M72.3 1161.5h0M383.9 1191.1h0M323 1288.6h0M179.4 1193.4h0M397.1 1245.8h0M152.3 1260.9h0M171.4 1193.9h0M61.3 1266.9h0M382.6 1248.4h0M392 1155.7h0M142.3 1224.2h0M396.8 1297h0M196.1 1190.2h0M211.3 1227h0M386.7 1179.8h0M342.5 1264.3h0M349.6 1269.5h0M273.8 1201.8h0M172.5 1207h0M335.4 1164h0M129.5 1266.4h0M147.1 1161.8h0M71.9 1236h0M174.7 1301h0M371 1302.1h0M153.2 1164.8h0M93.9 1227.8h0M309.8 1219.9h0M142.4 1215.4h0M278.3 1254.5h0M323.3 1280.7h0M293.9 1170.4h0M356 1196.7h0M259.5 1208.7h0M319.8 1182.3h0M147.1 1189.3h0M114 1286.4h0M263.6 1201.6h0M199.4 1302.9h0M238.6 1187.2h0M344.6 1251.3h0M408.8 1167.6h0M227.1 1276.5h0M355.9 1291h0M74.2 1196.6h0M102 1180.8h0M402.5 1240.6h0M387.4 1208.6h0M364.9 1220.3h0M151.5 1270.2h0M392.9 1168.1h0M269.8 1246.2h0M136.6 1208h0M109.8 1183h0M149.7 1243.1h0M289.4 1182.9h0M64 1201.7h0M298.8 1180.1h0M169.9 1182.9h0M339.9 1235.3h0M82.3 1167.4h0M199.1 1235.6h0M285 1165.9h0M117.6 1257.7h0M204.2 1195.1h0M168.3 1296.9h0M170 1238.1h0M185.7 1215.3h0M364.2 1303.5h0M188.1 1182h0M316.3 1183h0M62.1 1289h0M209.2 1276.7h0M203 1286.2h0M222.2 1176.7h0M65.2 1235.8h0M285.5 1290.3h0M91.3 1246.6h0M190.5 1228.7h0M111.4 1195.1h0M243.4 1292.7h0M98.3 1226.6h0M343.3 1299h0M129.5 1171.3h0M392 1300.3h0M229.9 1160.1h0M386 1211h0M378.3 1246.3h0M350.2 1176.4h0M336.6 1185.8h0M202.4 1280.6h0M351.9 1179.8h0M136.8 1212.8h0M242.3 1210.3h0M103.3 1189.6h0M315.2 1288.4h0M74.5 1237.5h0M326.6 1157.8h0M355 1169.9h0M271 1235.6h0M280.7 1198.5h0M207.9 1240.6h0M209.9 1252.1h0M217.3 1218.6h0M68.2 1246.1h0M232.3 1187.8h0M328.8 1270.6h0M221.3 1179.3h0M226.6 1168.3h0M105.2 1217.5h0M92.3 1219.2h0M239.6 1158.2h0M284 1164.5h0M318.2 1270.2h0M240 1160.2h0M237.4 1209.4h0M394.7 1172.7h0M361.7 1303.4h0M317.7 1275.9h0M128.2 1301.2h0M233.1 1297.4h0M382.4 1177.1h0M337.5 1293.4h0M83.1 1205.3h0M326.2 1176.1h0M375.6 1193.8h0M347.1 1173.8h0M236.8 1291.8h0M133.3 1192h0M238.1 1200.5h0M73 1179.7h0M116.8 1294.3h0M299.2 1288.1h0M119.4 1271.3h0M100.5 1232.7h0M284 1206.7h0M367.3 1236.4h0M264.2 1286.1h0M96.8 1302.9h0M281.7 1211.9h0M340.8 1192.2h0M408.7 1239.8h0M186.8 1268.2h0M215.7 1178.9h0M321.7 1159.3h0M348.6 1190.6h0M285 1301.6h0M266.2 1252.9h0M170.1 1152.3h0M71.9 1174.7h0M276.9 1217.7h0M240.5 1288.1h0M106.5 1186.5h0M289.9 1155.4h0M60.9 1206h0M97.4 1206.3h0M138.9 1240.7h0M267.4 1183h0M279.6 1224.2h0M107.4 1294.4h0M145.7 1174.7h0M93.7 1249h0M366.7 1270.9h0M201.5 1192.2h0M64 1250h0M257.9 1205.3h0M287.3 1219.5h0M389.9 1263.5h0M147.5 1289.3h0M75.5 1232.8h0M202.9 1188.1h0M80.5 1270.4h0M64.3 1235.7h0M391.2 1173.6h0M130.2 1244.4h0M238.4 1249.5h0M346.3 1178.5h0M168.9 1197.6h0M77.1 1287.2h0M335.6 1260.7h0M62.2 1280.4h0M322.3 1222.7h0M321.1 1220.8h0M139.5 1168h0M141.8 1157.9h0M178.1 1265.9h0M304.7 1280.5h0M310.5 1192.4h0M254.9 1218.3h0M337.5 1231.5h0M153.4 1249.6h0M399.7 1185h0M369.8 1154.3h0M151.6 1187.9h0M321.8 1295.6h0M322.6 1201.7h0M369.8 1201.9h0M144.2 1290h0M282 1257.3h0M294.2 1300.8h0M225.3 1279.6h0M305.6 1282.3h0M213.9 1262.1h0M260.8 1198.8h0M134.6 1246.6h0M87.4 1290.4h0M110.9 1156.1h0M97.6 1293.2h0M181.4 1173.6h0M70.1 1158.3h0M303.8 1248.3h0M305.3 1264h0M83.1 1241.8h0M187.9 1276.3h0M348.5 1287.5h0M83.2 1283.9h0M381.9 1295.5h0M97.7 1183.3h0M99.4 1157.2h0M358.4 1275.4h0M283.2 1277.4h0M282.3 1195.7h0M95.2 1166.9h0M326.6 1183.2h0M172.3 1216.4h0M67.4 1191h0M159.5 1260.8h0M189.5 1200.8h0M399.3 1228.6h0M359.7 1246h0M70.9 1214.8h0M213.6 1269.5h0M182.1 1259.1h0M249.3 1184.9h0M363.5 1165.8h0M348.6 1177.9h0M60.5 1182.7h0M328.3 1300.6h0M61.5 1226.6h0M233 1273.1h0M125 1227.2h0M182.2 1278.4h0M151.7 1295.5h0M159.9 1184.6h0M306.2 1227.7h0M98.7 1248.8h0M88.5 1271.8h0M305.4 1271.6h0M281 1206.1h0M201.2 1212h0M373.4 1165.1h0M372.7 1155.8h0M132.6 1192h0M377.2 1228.2h0M193.5 1286.4h0M142.2 1222.1h0M247.1 1266.7h0M325.1 1250.2h0M182.7 1201.7h0M114.7 1280.2h0M293.1 1264.8h0M119.7 1218.7h0M332.2 1240h0M104.4 1222.2h0M371.6 1188.2h0M127.4 1197.8h0M307.5 1280.2h0M114.4 1175.7h0M147.1 1201.6h0M243.8 1176.5h0M175.5 1180.8h0M403.3 1262.8h0M95.8 1298.3h0M95.8 1210.4h0M406.3 1272.8h0M318.1 1218.1h0M129.1 1249h0M97.6 1183.4h0M196.7 1157.2h0M200.5 1272.2h0M304.1 1228.1h0M282.6 1222.4h0M109.9 1243.8h0M202.5 1264.6h0M379.6 1217.4h0M262 1265.9h0M208.2 1186.7h0M314.2 1285.8h0M332.5 1258.4h0M360.1 1255.3h0M285.8 1221h0M170.2 1247.5h0M94.4 1215.8h0M335.4 1260.4h0M281.6 1190h0M209.1 1221.2h0M278.8 1214.2h0M297.7 1293.4h0M124.4 1251.5h0M333.9 1211.1h0M232.4 1300.1h0M73.4 1234.6h0M116.6 1270.8h0M391.1 1230.9h0M95.6 1239.3h0M250.4 1261h0M240.3 1249.2h0M351.8 1231.3h0M204.4 1296.1h0M134 1256h0M198.2 1267.9h0M103.1 1301.6h0M185.1 1160.6h0M156.6 1212.8h0M64.7 1215.6h0M208 1258.1h0M183.9 1192.3h0M139 1264.7h0M390.9 1232.1h0M137.1 1273.8h0M198 1184.2h0M105.5 1270h0M345 1248.4h0M225.1 1237.4h0M139.5 1298.5h0M184.3 1249.1h0M348.2 1276.1h0M224.8 1196.7h0M253 1171h0M353.5 1205.9h0M359.4 1192.6h0M192.4 1190.5h0M210 1180.3h0M60.9 1261.7h0M159 1189.2h0M166.2 1224.9h0M210.8 1248.9h0M292.1 1207.1h0M386.9 1281.9h0M80.1 1277.8h0M378.8 1271.2h0M109.4 1278.4h0M282.9 1154.3h0M64 1296.7h0M290.9 1190h0M95.7 1173.7h0M142.2 1270h0M181.9 1387h0M378.2 1433h0M119.1 1440.2h0M274.1 1432.3h0M295.3 1440.4h0M337.4 1436.4h0M129.5 1425.9h0M246.8 1429.4h0M214.4 1439.6h0M255.4 1395h0M142.4 1386h0M233.6 1380.2h0M224.4 1386.4h0M233 1411.9h0M249.9 1438.1h0M62.3 1436.5h0M224.7 1416.5h0M294.2 1436.5h0M192 1406.2h0M398.1 1381.4h0M284.2 1421.8h0M70 1419.9h0M300.3 1443.1h0M176.3 1446.7h0M239.7 1410.9h0M375.9 1378.4h0M312.8 1421h0M179.2 1438h0M188.9 1410.2h0M245 1431.5h0M134.2 1407.3h0M208.7 1415.9h0M351 1397.1h0M351.4 1405.1h0M237.3 1395.6h0M238.3 1446.2h0M290.4 1433h0M176.5 1398.8h0M165.3 1418.2h0M283.5 1432.5h0M74.1 1428h0M371.7 1415.3h0M77.5 1397.6h0M62.2 1389.7h0M384.3 1419.8h0M291.6 1432.8h0M380.3 1420h0M277.1 1421.1h0M305.1 1418.9h0M299.7 1391.3h0M294.8 1409h0M328.5 1383.3h0M123.8 1378.7h0M332.6 1441.8h0M290.8 1402.6h0M349.6 1432.6h0M257.9 1394.6h0M166.3 1406.4h0M172.1 1407h0M285.9 1443.2h0M79.2 1416.9h0M73.9 1384.6h0M345.2 1417.4h0M383.4 1408.1h0M65 1403.9h0M268.4 1443.5h0M405.2 1410.2h0M205.2 1383.3h0M286.9 1391.3h0M113.4 1377.1h0M61.7 1425.2h0M102.8 1445.6h0M91 1438.6h0M105.4 1377.3h0M313.2 1393.4h0M318.2 1389.5h0M77.6 1431.7h0M311.2 1437.6h0M316.9 1382.1h0M281.3 1427.1h0M222.1 1443.1h0M149.4 1445.4h0M312.5 1376.8h0M65.2 1422.9h0M347.7 1381.7h0M169.5 1428.5h0M118.4 1438h0M231.2 1380.3h0M189.4 1417.4h0M214.4 1424.7h0M111 1433.4h0M187.9 1422.4h0M281.7 1406.1h0M195.8 1432.6h0M392.6 1432.5h0M259.5 1397.1h0M81.3 1446.1h0M307.5 1435.6h0M176.9 1419.6h0M404.1 1435.9h0M271.6 1398.2h0M210.9 1439.9h0M192.6 1425.3h0M271.8 1440.5h0M344.2 1396.4h0M60.6 1394.9h0M208.7 1418.2h0M347.2 1439.9h0M74.9 1436h0M345.7 1438.4h0M261.3 1395.7h0M359.6 1434.1h0M301 1441.8h0M182.1 1382.1h0M254.9 1433.4h0M130.6 1430h0M388 1392.9h0M273.6 1424.8h0M223.8 1390.9h0M149.7 1430.1h0M338.7 1409.1h0M90.9 1434.1h0M331.8 1392.8h0M264 1440.6h0M371.6 1413.6h0M227.8 1418.4h0M126.6 1389.8h0M123.6 1426.5h0M187.7 1416.6h0M201.7 1413.2h0M112.5 1379.2h0M411 1402.9h0M97.4 1421.6h0M337.1 1387.2h0M270.2 1400.8h0M242.8 1377.5h0M71.8 1447.3h0M364.9 1411h0M259.6 1394.8h0M334.3 1406.7h0M393.2 1431.2h0M348.2 1445.4h0M149.4 1378.7h0M130.7 1389h0M89.4 1379.7h0M256.2 1438.7h0M221.3 1444.2h0M380.3 1380.6h0M270.5 1404.6h0M102.2 1445.1h0M150.5 1416.6h0M285.5 1444.9h0M295.7 1404.3h0M217.8 1387.5h0M400 1447.4h0M138 1378.8h0M150.1 1401.3h0M377.8 1441.1h0M354.7 1379.4h0M336.8 1427.1h0M287.6 1447h0M79.6 1386.4h0M325.7 1443.6h0M298.3 1397.5h0M268.2 1430.6h0M97.1 1399.3h0M150.5 1384.9h0M229.4 1388.1h0M143.9 1386.3h0M298.5 1376.9h0M312.5 1390h0M72.7 1442.8h0M137.6 1443.2h0M365.1 1440h0M109.2 1408.2h0M94.1 1442.9h0M356.5 1421.2h0M219.2 1400.5h0M349.7 1410.4h0M281.1 1386.3h0M138 1380.1h0M311.2 1415.8h0M110.9 1438.7h0M153.8 1405.6h0M114.8 1395.5h0M355.5 1400.1h0M119.1 1411.4h0M172 1441h0M100.2 1446.5h0M80 1440.4h0M295.2 1391.2h0M228.1 1396.6h0M150.7 1096.1h0M188.2 1151.4h0M411.3 1146.8h0M94.3 1102.3h0M375.5 1086h0M315.7 1102.5h0M404.5 1083.1h0M344.1 1105.9h0M109.3 1082.1h0M353 1118.9h0M125.4 1112.5h0M381 1097.3h0M261.1 1091.7h0M123.4 1135.9h0M310.5 1095.8h0M87.9 1088.1h0M274.2 1116.7h0M156.4 1096.4h0M275.6 1131.5h0M345.7 1122.8h0M131.2 1086.6h0M317.9 1110.6h0M314 1085.9h0M345.3 1105.5h0M356.4 1142.5h0M233.5 1083.1h0M380.4 1115.4h0M366.9 1100.6h0M125.5 1140.2h0M189.2 1093.4h0M190.7 1123.6h0M61.6 1118.4h0M216.9 1118.1h0M102.5 1132h0M347.4 1142.6h0M173 1131.8h0M194.2 1134.6h0M81.5 1143.1h0M395.8 1116.6h0M240.7 1119.1h0M249.1 1083.4h0M400.5 1097.7h0M124.2 1089.2h0M148.2 1139.2h0M70.6 1088.8h0M306 1095.7h0M66.2 1124h0M262.9 1118.6h0M307.3 1089.2h0M366.1 1132.2h0M75.9 1090.6h0M233.7 1117.1h0M158.4 1090.5h0M202.8 1091.6h0M268.3 1142.3h0M111.8 1122.1h0M322.8 1093.5h0M350.8 1147.6h0M196.8 1111.4h0M355.6 1118.8h0M199.3 1147.9h0M333.5 1105.7h0M144.6 1328.1h0M213.3 1374.6h0M343.1 1369.7h0M346.9 1365h0M78.9 1341.3h0M397.2 1371.3h0M147.7 1334.4h0M282.7 1330.2h0M246.8 1309h0M212.4 1340.3h0M67.3 1314h0M401.3 1359.9h0M389.8 1349.6h0M344.9 1367.7h0M371.4 1306.5h0M285.8 1323.1h0M298.8 1323.7h0M250.9 1370.6h0M278.7 1322h0M243.1 1335.2h0M394.7 1324.7h0M167.5 1350.6h0M102.4 1346.8h0M396.5 1341h0M154.5 1337.6h0M247.9 1314.7h0M103.6 1313.5h0M163.3 1333.3h0M161.5 1321.5h0M90.9 1343.3h0M355.6 1347.9h0M260.7 1350.8h0M130.8 1355.1h0M222.2 1343.5h0M275.7 1337.8h0M169.3 1321.4h0M138 1340.9h0M194.9 1346.2h0M64.2 1329.4h0M363.4 1321.2h0M255.9 1339.4h0M160.3 1375.1h0M164 1359.6h0M115.8 1308.8h0M366.7 1335.7h0M81.8 1331.9h0M214.8 1356.9h0M98.5 1320.2h0M397.7 1357.2h0M114.4 1328.3h0M184.1 1352.6h0M276.9 1365.2h0M349.1 1341.3h0M320 1357.5h0M327.4 1338.2h0M336.3 1355h0M382 1313.2h0M366.5 1304.3h0M329.5 1346.2h0M235.3 1373.3h0M261.3 1334.1h0M335.9 1366.8h0M273.8 1331.3h0M219.2 1337h0M314.5 1325.1h0M197.5 1344h0M195.3 1327.2h0M337.1 1365.2h0M235.8 1336h0M124.8 1325.9h0M111 1345.4h0M264.7 1310.3h0M383.9 1327.3h0M356.9 1364.3h0" stroke="#e294b6" stroke-width="5.8" stroke-opacity="0.26"/><path d="M389.2 1009.4h0M211.4 1073.8h0M72.6 995h0M257.7 1036.1h0M376.4 1061.3h0M248.9 1081.8h0M241.8 1037.9h0M297.9 1026.3h0M188.5 1045h0M186.3 1077.2h0M294.9 1038.7h0M102.1 1024.9h0M202.9 1042h0M260.7 1071h0M391.1 1035.1h0M216 1047.7h0M401.7 1022h0M246.1 1065.2h0M126 1019.7h0M395.8 1066.1h0M240.2 1000.8h0M367.8 1053.7h0M343.1 1081.1h0M365.6 1029.1h0M121.2 1017.2h0M239.9 1036.8h0M131.8 1007.4h0M279.5 1045.8h0M187 1081.4h0M281.6 994.6h0M206.4 1062.6h0M171.5 1053.8h0M70.3 1018.5h0M350.3 1044.2h0M292.1 1008.7h0M235.3 1041.2h0M157.9 1049.8h0M246.5 1081.7h0M260.9 1028.2h0M109.6 1005h0M322.7 1000.4h0M102.4 1006.3h0M243.5 1065.9h0M273.7 1064.3h0M89.7 991.8h0M326.4 1020.2h0M308 1023h0M125.6 1015h0M102.2 1073.2h0M263.5 1022.6h0M219.2 1025.9h0M87.3 1072h0M263.6 1078.3h0M215.8 1047.3h0M152.3 994.7h0M379.9 1068.7h0M174.1 1072.8h0M341.5 1018.4h0M270.3 1078.4h0M234.5 1077.4h0M150.1 1026.3h0M309 1010.9h0M172.3 1070.6h0M230.8 1063.1h0M150.3 1006.5h0M188.7 1007.7h0M393.5 1017.2h0M256.6 1001.2h0M247.3 1025.9h0M203.7 996.7h0M110.2 1066.1h0M186.3 1013.1h0M132.9 1016.6h0M148.2 993.9h0M290.9 1021.9h0M121.1 1055.1h0M99.9 1015.3h0M347.9 1002.4h0M217.1 1067.1h0M337.8 1005.2h0M186.9 1056.7h0M194.9 1078.2h0M138.5 1077.5h0M237.6 1011.5h0M220.2 1002.7h0M305 1014.5h0M369.5 1044.3h0M191.9 1013.2h0M272.1 1010.1h0M360.4 1001.9h0M240.4 1040.2h0M159.3 1061.2h0M197.5 1050.7h0M258.6 1019.1h0M199.2 998.6h0M128.1 1068.4h0M176.2 1051.2h0M105.4 1042h0M189.7 1036.4h0M168.2 996.7h0M173 1011.4h0M111.1 1056.1h0M163.3 1027.5h0M372.6 1061.5h0M363.8 1069.3h0M113.1 1015.9h0M78.9 1052.7h0M290.6 1022.8h0M206.8 1050.9h0M302.5 1013.4h0M351.8 1022.8h0M279 1007.3h0M107.5 1074h0M314.2 1055.8h0M82.5 994.4h0M123.1 1008.8h0M170.2 1025.5h0M82.1 1019.1h0M282.2 1007.1h0M349.4 1042.8h0M308.4 1014h0M214.3 1053.2h0M185.6 990.8h0M347.6 1061.6h0M164.6 994.6h0M354.3 1046.2h0M84.8 1013h0M106.1 1063h0M139.2 1074.2h0M319.3 998.6h0M301 1026.6h0M318.7 1066.4h0M162.9 998.9h0M385.1 1029.4h0M379.7 1053.8h0M315.7 1066.5h0M278.8 1032h0M87.1 1054.5h0M212.1 1037.4h0M379 1002.4h0M323.5 994.7h0M303.7 1064.3h0M156.2 1040.6h0M392.8 1048.9h0M250.7 1013.5h0M88.8 1023.4h0M206.5 1009.1h0M172.7 1003.2h0M305.1 1051.9h0M148.4 1012.8h0M241.1 1031.3h0M381.6 1022.8h0M169 1071.5h0M116.4 1042.1h0M180.4 1065.1h0M252.1 1060.1h0M125.5 1051.6h0M269 1032.8h0M324.9 1066.6h0M107.2 1017.1h0M189.4 1009.5h0M89.2 1016.3h0M134.8 1054.8h0M218.6 1001h0M177.4 1033.5h0M190.2 1006h0M93 991.7h0M400.4 1059.2h0M97 1056.2h0M396.4 1042.2h0M105.3 1035.3h0M214 1008h0M250.4 991.5h0M376.1 1049.5h0M278.7 1076.1h0M287 1013.7h0M151.2 1003.4h0M78.2 1061.4h0M349.4 1017.8h0M131 1049h0M351.5 1075.3h0M125.3 1062.3h0M346.4 1058.5h0M178.1 1007.5h0M344.7 1019.9h0M192.1 1041h0M192.3 1066.6h0M149 994.5h0M258.3 1048.1h0M342.8 1055.1h0M371.3 1077h0M234.1 1036.3h0M121.6 1018.1h0M263.1 998h0M298.8 1005.6h0M217 1079.2h0M98.9 994.3h0M215.8 1008.1h0M310.5 991h0M349.8 1068.8h0M331.8 1029.5h0M163.6 1051.1h0M240.9 1029.2h0M182.1 1030.8h0M291.5 1066.1h0M370.9 1005.7h0M167.8 1031.2h0M257.2 1022.5h0M134.3 998.5h0M177.1 1032.7h0M393.4 1073.7h0M358 1079.7h0M390.2 1047.3h0M339.9 996.2h0M294.9 1046.3h0M168.2 1042.8h0M387.2 1034.6h0M285.2 1018h0M183.7 1071.5h0M78.3 1007.9h0M295.7 1031.5h0M97.5 1051h0M193.3 1043.7h0M208.1 1039.1h0M257.6 1026.9h0M107.2 1007.2h0M366.3 1040.7h0M106.5 1069.4h0M153.7 999.4h0M246.3 1013.7h0M232.4 1041.3h0M144.7 1043h0M106.7 1037.6h0M265.5 998h0M205.3 997.4h0M215.8 1069.5h0M252.9 1055.9h0M321.8 1001.2h0M399.9 1056.6h0M103.1 1066.5h0M199.9 1006.3h0M389.7 1042.1h0M327.8 1003.2h0M328.2 996h0M148.1 1024.7h0M74.1 1045h0M140.2 1018.1h0M305.3 1029.6h0M365.8 1047.4h0M360.3 1042.1h0M375.4 1070.2h0M125.1 1058.8h0M183 1060.4h0M296.3 1066.1h0M110 1024.8h0M315.2 1077.3h0M310.1 994.7h0M270.7 999.8h0M252.3 1064h0M106.7 1075.2h0M294.5 1013.9h0M133.5 1031.5h0M348.9 1043.8h0M106.9 992.6h0M105.9 1063.8h0M130.9 1236.2h0M165.9 1256.4h0M196.2 1173.9h0M361.4 1233.8h0M299.3 1274.8h0M385.9 1154.1h0M183.4 1174.9h0M236.6 1284.7h0M336.4 1157.4h0M129.9 1276.4h0M296 1211.7h0M227.9 1176.1h0M351.3 1211.8h0M360.6 1244.8h0M94.3 1202h0M141.2 1287.9h0M265.8 1158.6h0M125.7 1206.9h0M225.2 1239.7h0M198.6 1205.8h0M71 1240h0M180.5 1155.1h0M222.4 1301.9h0M84.2 1174.2h0M293.1 1193.4h0M160.3 1228h0M156.5 1238.5h0M245.4 1297.5h0M400.4 1157.2h0M256.2 1269.2h0M360.4 1269.7h0M280.5 1248.5h0M190.2 1194.8h0M334.6 1284.7h0M382.5 1255.6h0M170.5 1268h0M316 1229.4h0M281.2 1205.3h0M252.9 1213.7h0M89.2 1203.3h0M176.9 1302.2h0M229.8 1207.8h0M150.3 1187.7h0M185.6 1172.6h0M71.4 1284.4h0M220.3 1219.7h0M259 1198h0M125.4 1162.1h0M169.7 1198.9h0M311.7 1235.8h0M382.1 1203.8h0M376.7 1240.7h0M95.7 1179.2h0M262.9 1302.1h0M188.2 1269.7h0M212 1284h0M91.6 1225.6h0M369.3 1193.9h0M155 1155.5h0M124 1192.7h0M304.3 1185.2h0M202.5 1182.5h0M270.4 1283.3h0M285.5 1181.9h0M314.1 1298.4h0M269.7 1164.1h0M339.4 1285.1h0M182.9 1172.8h0M131.9 1233.6h0M361.4 1249.3h0M377.2 1184.3h0M178.1 1265.9h0M285.7 1213.6h0M295.8 1203.3h0M88.2 1215h0M84.2 1247.2h0M180.7 1227.1h0M268.7 1191.1h0M223.8 1154.1h0M378 1237.7h0M398.8 1160.5h0M274.1 1262.1h0M178.9 1166.2h0M121.2 1173.7h0M325.2 1165.7h0M340.9 1216.3h0M248.9 1241.5h0M254.4 1251.9h0M269.9 1202.3h0M316.5 1191.2h0M306.6 1268h0M328.2 1199h0M327.1 1300.6h0M220.4 1194.3h0M243.8 1295h0M113 1153.4h0M227.9 1251.6h0M327.6 1207.1h0M399.5 1186.7h0M321.7 1165.7h0M78.3 1172.4h0M89.1 1228.3h0M254.5 1179.6h0M382.9 1207.6h0M118.9 1179h0M315.4 1292.1h0M123.1 1156.4h0M328.9 1188.9h0M397.1 1227.8h0M281.5 1204.3h0M336.4 1221.9h0M177.2 1289.3h0M105 1263.5h0M90.9 1250.1h0M203.2 1283.3h0M89 1237.8h0M205.9 1291.7h0M384.6 1247.3h0M143.8 1190.3h0M156.6 1217.9h0M146.3 1182.9h0M322.6 1249.7h0M168.7 1303.1h0M141.3 1238.6h0M121.3 1283.2h0M359.3 1192.6h0M320 1277.1h0M163.4 1202.4h0M231.2 1287.4h0M123 1255.8h0M268.6 1220.9h0M262.5 1286.2h0M139.1 1286.3h0M189.4 1270.5h0M357.4 1179.7h0M357.6 1303.2h0M168.4 1155.7h0M106.3 1300.1h0M72.1 1290.6h0M119.4 1263.9h0M101.6 1177.6h0M297 1165.7h0M182.4 1291.6h0M308.3 1286.1h0M396.2 1157h0M147.4 1272.4h0M299.3 1157.8h0M237.6 1187.2h0M212.8 1167.9h0M75.7 1302.6h0M174.7 1285.5h0M109.2 1226.1h0M114.4 1217.1h0M128.8 1256.2h0M118.4 1264.2h0M236.2 1169.1h0M187.1 1227.4h0M375.8 1205.1h0M140.9 1299.1h0M364 1263.2h0M160.2 1178.9h0M157.4 1162.5h0M83.4 1229.3h0M205.3 1236.6h0M190.1 1153.6h0M298.8 1251.3h0M250.7 1235.4h0M299.6 1301.3h0M360.9 1261.1h0M202.4 1200.4h0M209 1299.9h0M198.3 1210.6h0M205.9 1173.7h0M402.5 1152.8h0M272 1292.8h0M154.1 1244.9h0M194.9 1188.6h0M135.3 1169.7h0M350.6 1271.2h0M372.4 1159.5h0M300.9 1201.3h0M284.8 1235.4h0M174.4 1299.7h0M69.3 1265.4h0M354.1 1229.5h0M266.8 1303.2h0M147.3 1247.7h0M317.3 1209.6h0M306.9 1211.8h0M244.8 1245.1h0M295.2 1201h0M279.1 1234.5h0M143.6 1245.1h0M157.5 1290.1h0M227.1 1261.7h0M243.4 1224.4h0M142.9 1173.6h0M378.7 1232.4h0M244 1232.2h0M340.7 1188.3h0M126.6 1276.9h0M222.7 1249.4h0M345.4 1287.9h0M358.8 1158.6h0M196.3 1278.5h0M342.1 1170.7h0M120.4 1190.2h0M103.3 1206.2h0M337.3 1231.2h0M220.2 1165.4h0M201.1 1303.5h0M301.1 1220.3h0M228.8 1273.3h0M322.4 1174.8h0M296.2 1207.8h0M242.9 1188.1h0M192.8 1203.7h0M196.3 1154.7h0M136.1 1238.7h0M88.3 1179.1h0M308.9 1193.7h0M177.2 1188.8h0M347.6 1165.9h0M281.5 1282.6h0M136.4 1216.3h0M333.6 1245.9h0M193.1 1158.7h0M216.8 1207.8h0M307 1196.9h0M205.2 1250.5h0M339.8 1205.6h0M197.7 1240h0M377.9 1181.1h0M393.4 1260.2h0M193.4 1253.2h0M179 1162.8h0M321.5 1209.7h0M244.6 1227.5h0M370 1267.1h0M77.5 1242.1h0M223.5 1222.3h0M349.4 1215.1h0M227.2 1287.3h0M215.9 1226.7h0M239.9 1277.3h0M292.9 1264.5h0M203.2 1158.2h0M296.1 1236.2h0M325.9 1269h0M108.5 1185.5h0M94.8 1276.3h0M103 1165.4h0M320.6 1237.8h0M87.4 1255.5h0M306.5 1225.4h0M87.3 1257h0M208.6 1240.8h0M402.4 1276.2h0M360.2 1174.1h0M180.7 1230.8h0M71 1302.3h0M160.7 1191.9h0M173.6 1190.8h0M355.9 1236.5h0M239.7 1215.9h0M86.1 1198.3h0M358.5 1273.9h0M355.1 1191.1h0M136.5 1159.9h0M248.3 1208.8h0M224.1 1226.3h0M264 1207.6h0M336.7 1182.4h0M376.1 1236.5h0M86.1 1199.8h0M247 1214.2h0M257.7 1201.2h0M160.4 1273h0M166.4 1260h0M337 1242h0M220.8 1294.1h0M217.6 1285.5h0M88.3 1217.9h0M282.5 1159.4h0M357.1 1162.9h0M268.2 1179.4h0M377.1 1237.3h0M336.4 1227.7h0M294.1 1254.6h0M167.5 1184.1h0M349 1174.2h0M375.6 1183.4h0M102.7 1166.5h0M330.9 1296.5h0M207.5 1252.1h0M155 1289.7h0M298.1 1175.5h0M87.9 1257.7h0M82.9 1279.1h0M167.1 1187.4h0M263.4 1200.4h0M256.2 1175.4h0M373.6 1201.3h0M350 1175.1h0M336 1301h0M199.8 1157h0M195.9 1249.4h0M143.6 1234.9h0M100.3 1222.6h0M312.2 1217.3h0M295.8 1169.4h0M345.7 1170.6h0M377.4 1303.4h0M382.8 1232h0M166.1 1204.9h0M319.6 1227.5h0M379.6 1166.1h0M230.9 1283.3h0M268.7 1234.2h0M98.5 1173.2h0M159.6 1287.7h0M351.4 1186.5h0M377.8 1156.9h0M269 1299h0M184 1295.5h0M288.3 1159.6h0M180.3 1220.3h0M151.6 1264.8h0M128.7 1271.7h0M168.6 1162.6h0M255.8 1166.5h0M253.2 1271.8h0M267.9 1222.1h0M80.3 1230h0M101.5 1250.3h0M113.1 1239.9h0M186.9 1209h0M290.5 1176.9h0M125.7 1295.1h0M179.8 1280h0M360.7 1225h0M118.8 1166.3h0M362.6 1169.8h0M234.7 1233.5h0M108.3 1223.1h0M123.8 1233.4h0M238.3 1207.8h0M135 1213.4h0M137 1171.3h0M149.1 1284.5h0M236.6 1287.4h0M74 1295.4h0M232.1 1272.2h0M259.5 1256.7h0M145.6 1266h0M120.3 1192.2h0M79.3 1211.8h0M242.1 1196.4h0M366.4 1164.8h0M262.2 1187.6h0M267.8 1271.2h0M306.4 1161.4h0M151.1 1243.1h0M397.3 1158.3h0M275.5 1257.2h0M341.1 1204h0M339.7 1222.2h0M376.6 1153.6h0M383.1 1214.6h0M205 1165.4h0M150.8 1263.5h0M295.7 1175h0M184 1173.3h0M135.2 1185.4h0M179.6 1300.3h0M402.1 1272.3h0M229.2 1227.6h0M329.3 1290h0M320 1248.7h0M135.5 1247h0M351.5 1271.6h0M99.9 1261.1h0M185.6 1176.7h0M391.6 1254.3h0M318 1172.5h0M345.7 1294.4h0M371.2 1265.2h0M347 1273.9h0M266.2 1218.2h0M344.6 1271.2h0M359.9 1197.4h0M390 1232.8h0M384.9 1169.6h0M392.5 1271.7h0M153.2 1279.4h0M146.5 1182.1h0M221.9 1188h0M233.5 1290h0M297.9 1260h0M199.9 1271.1h0M334.1 1255.8h0M383.5 1277.5h0M204.7 1165.2h0M286.9 1279.1h0M182.4 1242.4h0M348.3 1272.5h0M70.5 1226.3h0M74.5 1168.8h0M340.3 1215.6h0M271 1221.5h0M181 1184.5h0M187.1 1280.4h0M275.8 1196.4h0M98.4 1193.2h0M303.2 1219.2h0M289.8 1274.7h0M109.3 1255.8h0M82.9 1277.1h0M130.5 1193.3h0M388.9 1207.1h0M143.9 1287.3h0M272.8 1287.9h0M200.7 1228h0M388.2 1229h0M399.2 1180.8h0M346.4 1176.7h0M245.1 1152.1h0M127.6 1295.6h0M220.8 1434.3h0M152.8 1401.4h0M102.7 1415.8h0M357 1413h0M194.8 1442.9h0M367.5 1424h0M94.4 1420.9h0M217.3 1445h0M189.8 1423.6h0M280.1 1403.1h0M243.4 1424.7h0M372 1411.9h0M190.5 1446.3h0M88 1436.1h0M297.3 1416.1h0M218.5 1430.1h0M366.6 1428.5h0M319.4 1378.5h0M177.6 1385.9h0M387.3 1440.2h0M117.3 1418.3h0M261.6 1379.4h0M200 1429.8h0M283.3 1396.2h0M323.7 1397h0M250.8 1406.3h0M395.7 1422.7h0M337.8 1424.7h0M196.1 1445.3h0M306 1425.7h0M161.7 1387.7h0M261.1 1435.5h0M334.1 1401h0M115.7 1413.2h0M362 1387.7h0M315.6 1388.3h0M173.2 1379.9h0M168.4 1403.6h0M392 1445.3h0M131.5 1398.3h0M384.2 1390.2h0M176.2 1407.6h0M105.2 1394.7h0M200.6 1403.8h0M390.8 1395.2h0M137.1 1441.4h0M219.4 1436.3h0M281.8 1432.1h0M174.1 1386.9h0M321.9 1409.9h0M255.6 1424.3h0M320.4 1395.8h0M190.2 1442.1h0M245.8 1396.8h0M279.5 1394.7h0M326.6 1379h0M345.1 1416.8h0M187.1 1443.7h0M157.7 1393.5h0M92.3 1415.5h0M320.7 1424.8h0M206.9 1434.2h0M106.2 1398.1h0M284.4 1445.6h0M280.7 1425.8h0M327.7 1404.4h0M383.1 1429.5h0M183.1 1404.3h0M338.1 1401.2h0M131 1438.8h0M246.6 1413.5h0M292.6 1440.9h0M113.6 1400.4h0M91 1405.8h0M236.7 1437.3h0M292 1417.6h0M203.8 1417.3h0M160.5 1436.8h0M332.4 1436.4h0M119.5 1424.4h0M320.9 1412h0M369 1440.7h0M317.2 1435.1h0M285.7 1439.3h0M112.8 1426.7h0M304.1 1420.1h0M160.9 1380.8h0M270.5 1435.3h0M160.2 1391.3h0M143.8 1382.8h0M294.8 1446.2h0M336.9 1401.9h0M302.6 1381.2h0M349.1 1399.4h0M70.1 1421.3h0M115.3 1395.8h0M88.7 1408.1h0M254.3 1434.1h0M82.2 1435.6h0M105.9 1392.2h0M279.2 1400.5h0M179.6 1416.9h0M141.8 1433.1h0M138.8 1436.4h0M339.1 1414.7h0M79.2 1432h0M78.5 1412.3h0M210.6 1380.5h0M279.4 1428.2h0M264.4 1404.8h0M240 1418.4h0M144.6 1438.5h0M401.6 1433.9h0M390.1 1399.7h0M398.4 1381.1h0M228.6 1385.6h0M220.6 1425.2h0M305.6 1408.7h0M183.1 1389.7h0M203.6 1396.3h0M133.9 1429h0M241.4 1407.6h0M135 1426.7h0M134.7 1395.1h0M256.1 1426.5h0M394 1429.8h0M385.7 1442.2h0M310.3 1427.8h0M90 1390.8h0M73.3 1438.2h0M310.1 1421.4h0M157.1 1401.6h0M123.7 1421.5h0M400.2 1398h0M83.8 1388.6h0M187.7 1440.7h0M337.7 1408.8h0M103.1 1383.7h0M120.4 1432h0M226.4 1447.3h0M373.5 1433.2h0M228.1 1435.2h0M111.9 1383.8h0M257.2 1412.6h0M138.9 1394.1h0M76.1 1441.4h0M306.2 1444.1h0M396.5 1407.4h0M313.6 1403.7h0M340.2 1436.6h0M113.7 1376.9h0M140.5 1418.1h0M195.6 1376.7h0M346.3 1432.6h0M223.9 1379.1h0M365.9 1414.5h0M92.7 1399.3h0M277.6 1439.7h0M230.8 1422h0M137.7 1393.5h0M371.5 1403.5h0M103.7 1418.6h0M111.2 1390.4h0M221.4 1418.2h0M281.6 1426.9h0M215.8 1380.9h0M311 1379.9h0M226.2 1404.8h0M293.7 1427.4h0M149.1 1422.8h0M300.1 1410h0M116.4 1441.4h0M269.1 1380.5h0M148.7 1447.1h0M145.4 1404.2h0M332.2 1435.3h0M280.7 1429.4h0M81.8 1382.8h0M395 1433.8h0M81.7 1379.5h0M149.3 1443h0M142.3 1424.4h0M379.7 1126.7h0M376 1100.4h0M120.2 1083.3h0M321.9 1089.3h0M394 1131.7h0M131.4 1138.5h0M123.4 1117.8h0M104.3 1137.1h0M366.1 1146.1h0M69.8 1141.6h0M254.7 1139.5h0M236.8 1125.4h0M267.6 1138h0M94.9 1085.8h0M251.2 1102.4h0M201.6 1082.5h0M317.8 1083.7h0M346.1 1138.8h0M222 1090.6h0M286.1 1096.5h0M212.3 1089.7h0M395.1 1120.2h0M186.7 1088.6h0M312.9 1141.5h0M352.3 1089.1h0M191.8 1103.2h0M323.6 1092.3h0M271.5 1150.5h0M325.8 1082.5h0M94 1090h0M300.3 1123.9h0M242.7 1113.9h0M205.1 1124.8h0M285.6 1146.1h0M313.7 1137.8h0M373.9 1140.6h0M308.4 1084.1h0M296.4 1141.5h0M212.9 1143.5h0M129.1 1148h0M216.5 1131.5h0M153.4 1103h0M185.4 1104.7h0M100.6 1113h0M396.6 1127.8h0M380.4 1135.4h0M348.5 1151.6h0M320.4 1101.2h0M152.4 1110.9h0M76 1098.2h0M365 1146.5h0M178.8 1135.9h0M327.8 1144.3h0M334.4 1119.2h0M104 1139.8h0M173.8 1125.9h0M191.6 1119.6h0M391.5 1093.3h0M246.3 1127.5h0M248.8 1371.5h0M205.1 1369.8h0M299.4 1373.7h0M98.9 1319.3h0M165 1369.3h0M73.6 1322.7h0M308.1 1375.3h0M127.9 1335.5h0M298.4 1353.7h0M318.2 1358.2h0M152 1322.5h0M78.2 1353.8h0M138.9 1322.7h0M391.1 1350.3h0M266.4 1351.2h0M268.7 1354h0M170.5 1308.6h0M91.3 1305h0M189.7 1314.2h0M106.7 1339.5h0M392.8 1353.5h0M160.3 1359.4h0M128.4 1311.2h0M170.3 1333.4h0M299.3 1336h0M312.3 1310.8h0M380.4 1328.6h0M347 1306.2h0M345.8 1320.3h0M354.6 1361.8h0M293 1324h0M72.3 1317.7h0M371.2 1315.4h0M289.2 1346.3h0M289.8 1317h0M117 1311h0M397.2 1331.6h0M286.8 1345h0M143.6 1308.7h0M73.9 1365.4h0M112.4 1373.3h0M190.5 1356h0M115.2 1360.7h0M153 1330.4h0M243.7 1312h0M151.9 1361.3h0M164.3 1331.4h0M324.4 1320.1h0M133.8 1319.8h0M197.3 1330.3h0M283.2 1338h0M359.5 1307.6h0M290.7 1364.2h0M147.4 1306.1h0M215.4 1312.3h0M222.6 1355.2h0M100.3 1312.5h0M229.2 1316.5h0M146.1 1335.7h0M108.5 1308.9h0M189.6 1337.8h0M381.8 1343.9h0M92.9 1320h0M317.6 1344.5h0M359.7 1373.3h0M355.5 1311.9h0M384.2 1341.8h0M149.1 1316.3h0M357.8 1319.3h0M96.7 1323.1h0M377.6 1337.2h0" stroke="#d474a0" stroke-width="5.8" stroke-opacity="0.34"/><path d="M308.2 1000.6h0M221.3 1022h0M144.1 1052.3h0M192.7 1004.5h0M387.1 1036.4h0M136.2 995h0M283.7 1039.3h0M87.6 1035.4h0M311 1041.3h0M153 1037.9h0M268.7 1051.3h0M125.3 1064.7h0M375 1059.2h0M347.5 1026.4h0M361.6 1010h0M150.8 1046.6h0M361.3 1001.2h0M147.7 997.2h0M217 1006.4h0M139.8 1059.9h0M262 1076.7h0M205.4 1053.8h0M83.9 1077.5h0M152.7 1036h0M239.6 1077.5h0M233.5 1081.3h0M273.8 1013h0M340.2 1011.8h0M391.9 1034.2h0M150.6 1078.6h0M180.4 1029.8h0M187.1 1052.8h0M87.2 1026.9h0M130.6 1066.9h0M80 1047.5h0M160.4 1034h0M255.3 1056.6h0M123 1015.2h0M117.6 1078.5h0M126.5 1006.1h0M242.9 1045.2h0M356.6 999h0M153.1 1008.7h0M262.7 1033.8h0M207.6 1072.2h0M286.5 1069.7h0M378.6 1017.7h0M373.9 1029.9h0M96.1 1074.5h0M112.5 995.5h0M170.4 1019.4h0M381.7 1070.6h0M211.1 1040.6h0M344.8 1065h0M283.9 1039.1h0M116.4 1015.4h0M285.3 1045.6h0M329.9 1073.1h0M380.3 1011h0M103.7 1073h0M257.9 1010h0M295.9 1016.5h0M153.8 1026.2h0M243.4 1053.6h0M102.9 1059.2h0M274.8 1035.5h0M289.7 1064.4h0M83 1035.8h0M291.5 1056.4h0M282 1009.9h0M379 1063.1h0M152.7 1031.9h0M378.9 1012.2h0M207.6 1078.6h0M360.8 1014.5h0M309.4 1025.7h0M287 1061.5h0M119.8 1013.6h0M147.1 1017.4h0M91.1 1006h0M206.7 1031h0M104.3 1045.2h0M374 1044.8h0M191 1056h0M216.4 1009.4h0M230.3 995.5h0M290.9 1008.2h0M195.3 1078.7h0M319.2 1067.5h0M280.3 1049.8h0M299.9 1079h0M141.2 1061.4h0M173.9 1016.5h0M336.3 1046.9h0M345.1 1071h0M263.7 1011.5h0M84.7 1041.1h0M306.4 1018h0M101.9 994.4h0M134 1055.2h0M81.2 1014.2h0M162.7 1056.6h0M388 995.7h0M115.6 1076.2h0M382.6 1007.1h0M184.6 1040h0M179.9 1030.7h0M229.4 1016.7h0M97.2 1001.4h0M130.7 1002h0M274.7 1055.3h0M162 1063.7h0M307.4 1024.1h0M233.4 1010.6h0M369.8 1043.3h0M96 1007.5h0M296.1 1027.9h0M303.7 1014.2h0M328.7 1064.6h0M109.4 1045.6h0M139.7 1056.3h0M330.9 1063.6h0M152.1 1002.2h0M287 1043.7h0M123.1 1011h0M261.7 1003.5h0M277.8 1015.2h0M160.7 1031.3h0M246.3 1057.7h0M89.6 1057.7h0M148.9 1019.6h0M279.6 1054.8h0M271.8 1073.4h0M143.8 1021.4h0M286.7 1016.9h0M129.1 1013.9h0M320.7 1066.8h0M303.5 1078.4h0M327.8 1021.3h0M178.4 1057.5h0M97.4 1047.6h0M107.8 998.3h0M240.3 1007.3h0M370.7 1071.2h0M224.1 1011.4h0M117.3 1038.6h0M242.6 1025.9h0M303.5 1040.6h0M321.9 1003.3h0M101.9 1028.1h0M230.9 1016.2h0M288.6 1013.5h0M179.3 1036h0M302.2 1061.8h0M196 1033.3h0M369.4 1076.2h0M273 1003.2h0M222.2 1050h0M166.9 997.3h0M386.1 1074h0M120.2 1035h0M273.2 1020.4h0M101.4 1060.1h0M320.5 1032.5h0M106.7 1028.7h0M109.3 1078.8h0M96 1019.3h0M319.6 1005.9h0M113.2 1000.2h0M131.2 1040.8h0M339.9 1008.9h0M134.2 1061.3h0M212.8 1023.7h0M118.5 1015.4h0M383.2 1004.3h0M161 1059.2h0M358.2 1073.6h0M227.5 1078.2h0M268.5 1019.4h0M225.2 1057h0M309 1005.4h0M140.4 1078.3h0M113.4 1065.6h0M185.7 1015.8h0M159.6 1035.3h0M389.1 1007.1h0M346.6 1022.3h0M133.9 1059.5h0M186.6 1010.5h0M210.5 1066.3h0M349.3 1044.6h0M83.2 1061.2h0M269.2 1073.1h0M377 1022.8h0M344.7 1066.1h0M163 1026.2h0M196.9 1025.1h0M198 1003.7h0M150.9 1074h0M208.1 1050h0M356.8 1060.5h0M156.2 1074.9h0M330.9 1081.2h0M307.2 1060.4h0M333.7 1016.3h0M284.7 1027.5h0M342 1005.8h0M248.2 1023.6h0M336 1024.4h0M343.3 1068.6h0M354.2 1006.2h0M372.7 1059.5h0M291.2 1051.4h0M95 1070.6h0M250.9 1034.1h0M185.9 1062.9h0M324.1 1070.5h0M146.8 1024h0M157.8 1002.8h0M182.1 996.3h0M328.5 1014h0M102 1000h0M311.2 1011.5h0M224.2 1029.4h0M330.3 1078h0M176.7 1049.6h0M359.2 1035.4h0M360.7 1058.6h0M177.2 1070.9h0M258.9 1003.3h0M263.3 1067h0M241.8 1036.6h0M209.9 1071.5h0M287.6 1012.3h0M193.1 1026h0M379.1 1055.2h0M119 1074.5h0M90.9 1046h0M214.9 1057.1h0M213.9 1002.1h0M243.4 1066.2h0M326.1 1025.4h0M149.4 1059.5h0M330.1 1013.3h0M355.5 1081.3h0M215.2 1027.5h0M301.5 1075.8h0M142.9 1197.9h0M182.7 1263.3h0M138.3 1235.1h0M236.1 1253.6h0M124.7 1297.4h0M392 1237.3h0M328.1 1179.9h0M364 1235.8h0M317 1284h0M192.9 1292.4h0M144.7 1155.6h0M236.7 1288.6h0M360.9 1297.2h0M239.4 1293.8h0M254.7 1173.8h0M276.9 1274.1h0M212.2 1243.5h0M160.9 1194h0M211.1 1230h0M226.1 1166h0M81.8 1203.7h0M303.7 1265.8h0M154 1190.9h0M241.2 1178.7h0M268.1 1289.4h0M143 1241h0M304.9 1265.9h0M302.2 1260h0M165 1279.4h0M368.6 1160h0M374.6 1219.3h0M106.9 1162.6h0M328.6 1255h0M124.3 1221.9h0M279.3 1303.6h0M184.8 1268.5h0M156.5 1182.2h0M130.3 1214.3h0M272.9 1198.1h0M130.5 1185.2h0M106.5 1181.4h0M178.5 1228.7h0M137.3 1224.9h0M217.2 1299.9h0M231.7 1295.6h0M227.1 1182.1h0M264.7 1174h0M132.8 1163.1h0M298.8 1299h0M205.9 1205.8h0M212.7 1205.5h0M295.5 1211.6h0M127.5 1283.4h0M258.6 1153h0M345 1262.7h0M190.6 1247.8h0M367.1 1213.1h0M215 1197.3h0M252.9 1252.7h0M309.3 1296.3h0M125.3 1207.6h0M345.7 1272.2h0M264.1 1254.9h0M186.1 1295.6h0M251.4 1213.2h0M136.9 1169.5h0M360 1273.7h0M88.3 1201.1h0M229.6 1227.3h0M193.4 1288.1h0M189.1 1232.9h0M370 1249.2h0M228.8 1202.6h0M200.8 1244.6h0M325.2 1191.6h0M195.6 1210.9h0M193.2 1290.8h0M248.2 1193.9h0M183.7 1276.9h0M130 1256.9h0M86.8 1181.4h0M98.6 1274.4h0M125.8 1186.7h0M98 1192.1h0M308.8 1261.5h0M364 1295.9h0M251.9 1292.1h0M108 1292.6h0M215.4 1181.3h0M313.4 1282.5h0M200.4 1166.2h0M352.4 1266.5h0M266.3 1300.5h0M91.9 1160.5h0M118.8 1155.3h0M301 1247.8h0M115 1176.6h0M136.4 1244.6h0M289.8 1299.4h0M192.5 1300.8h0M215.6 1211.4h0M159 1187.4h0M384.1 1303.2h0M300.2 1178.6h0M136.1 1175.1h0M189.5 1264.1h0M98.4 1232.6h0M292.4 1157.1h0M217.1 1272.2h0M259.6 1220.6h0M355 1243.4h0M185.1 1212.2h0M374.3 1282.6h0M365.4 1237.2h0M124.5 1178.6h0M199.6 1257h0M81.4 1273.9h0M325.2 1230.3h0M81.8 1273.3h0M209.2 1253.7h0M257.8 1262.7h0M207.5 1297.9h0M378.1 1293.2h0M271.9 1200.1h0M197.5 1192.9h0M362 1272.4h0M325.9 1276.8h0M389.1 1256.6h0M179.3 1267.1h0M161.8 1244.9h0M129.4 1282.4h0M232.5 1193.8h0M367.9 1164.6h0M370.2 1267.1h0M126.5 1267.7h0M258.9 1289.9h0M263 1216.9h0M371.2 1165.3h0M322.4 1167.6h0M166.3 1169.3h0M351.8 1219.2h0M306.6 1191h0M307.9 1250.6h0M110.4 1227.1h0M305.2 1184.6h0M284.1 1194.2h0M195.6 1291.8h0M374.2 1303.7h0M213.1 1238.9h0M332.2 1267.3h0M222.3 1283.3h0M205.2 1296.4h0M227.5 1170h0M313.7 1174h0M292 1160.1h0M388.3 1234.2h0M311 1171.9h0M278.7 1209.2h0M157.7 1275.9h0M90.4 1224.6h0M107.1 1281.4h0M358.7 1157.2h0M224.9 1223.3h0M304.2 1262.8h0M187.1 1293.8h0M137.8 1172.8h0M334.2 1170.3h0M138 1228h0M184.9 1176.9h0M370.1 1224h0M325.2 1190h0M364.7 1185.6h0M362.8 1245.2h0M383 1269.2h0M276.8 1233h0M346.7 1219.4h0M110.7 1290.9h0M331.3 1255.7h0M312.4 1187.3h0M224.6 1277.1h0M380.1 1292.3h0M130.1 1255.9h0M252.9 1213.6h0M132.3 1172.8h0M226.7 1227h0M163.6 1207.9h0M252.9 1267.8h0M263.9 1176.6h0M356.5 1207.9h0M379.5 1301.2h0M123.8 1240.5h0M381.6 1210.5h0M250.8 1199.7h0M88.9 1183.1h0M118.7 1195.2h0M276.4 1237.6h0M375.8 1256.2h0M193 1296.3h0M277.8 1234.6h0M349.1 1253.8h0M192.4 1243.9h0M173.7 1299.3h0M156.2 1299.9h0M100.1 1153.5h0M252.6 1183.3h0M238.3 1170h0M341.1 1253.7h0M293.5 1292.9h0M389.5 1255.1h0M302.5 1152.3h0M95.4 1216.8h0M382.3 1199.6h0M257.4 1153.3h0M209.7 1289.2h0M263.9 1277.3h0M84.1 1182.8h0M135.9 1278.5h0M111.7 1293.7h0M163.4 1285.8h0M240.9 1201.2h0M381.5 1213.6h0M297.6 1162.2h0M339.1 1301.1h0M114.5 1265.4h0M164.4 1174.5h0M193.6 1252.6h0M377.5 1303.1h0M390 1246.7h0M283.9 1176.5h0M306.5 1235.8h0M192 1288.8h0M159.6 1173.5h0M129.3 1174.7h0M263.6 1273.7h0M129.9 1228.4h0M259.2 1237.2h0M208.8 1234.6h0M84.7 1160.8h0M211.9 1188h0M316.1 1188.8h0M337.1 1188.7h0M108.9 1224.6h0M200.9 1203h0M318.7 1185.8h0M289 1278.9h0M221.2 1228.5h0M368.2 1243.8h0M136.4 1162.6h0M105.6 1202.4h0M107.7 1250.6h0M212.2 1198.9h0M239.8 1294.4h0M156.2 1175.5h0M175.3 1201.3h0M363.9 1259.3h0M213.8 1177.2h0M94.2 1170.6h0M344.4 1250.5h0M128.9 1247h0M98.2 1229h0M184.6 1167.6h0M311.7 1260.9h0M239.3 1177.6h0M288.9 1217.9h0M286.3 1165.9h0M361.6 1152.5h0M149.5 1212.6h0M141.9 1165.3h0M294.5 1303.1h0M184.5 1192.5h0M289.2 1185.8h0M205 1256.6h0M214.4 1175.7h0M102 1234.5h0M389.1 1291.8h0M111.2 1228.3h0M232.4 1181.5h0M289 1227.3h0M332.3 1196.4h0M371.4 1275.8h0M227.7 1173.5h0M230.9 1171.3h0M293.9 1258h0M260.4 1300.4h0M94.1 1260.7h0M329.9 1169.2h0M180.5 1160.2h0M261.9 1261.9h0M188.6 1257.7h0M194.4 1260.3h0M166.4 1300.7h0M216.6 1152.5h0M108.5 1262.4h0M349.8 1248.8h0M128.5 1284.6h0M303.7 1169.5h0M198.7 1254.1h0M81.1 1158.4h0M190.3 1284.9h0M390.9 1200.4h0M363.6 1271.5h0M349.9 1241.4h0M382.4 1249.9h0M375.7 1238h0M141.3 1230.8h0M230.7 1203.3h0M196.6 1229.6h0M263.5 1185.8h0M166.6 1228.4h0M237.2 1215.7h0M287.2 1180.2h0M245.9 1193.9h0M320.3 1259h0M323.7 1230.6h0M157.7 1292.7h0M239.4 1209h0M170.6 1213.1h0M301.1 1276.4h0M230.6 1263.1h0M146.4 1220.7h0M191.7 1198.6h0M192.2 1266.7h0M308.8 1183.5h0M152.9 1271.2h0M284.2 1254.8h0M278.2 1257.4h0M165.1 1161.3h0M192.5 1156.9h0M380.1 1231.8h0M289.1 1298.9h0M331 1186.9h0M185.1 1168.5h0M328.2 1264h0M232.2 1208.1h0M164.2 1226.1h0M302.2 1288.1h0M344.8 1283.9h0M217 1216h0M178 1300.1h0M137.2 1176h0M167.7 1292.2h0M346.1 1202.4h0M345.7 1287.4h0M213.3 1181.2h0M321.1 1208.9h0M117.2 1289.2h0M217.1 1212.4h0M265.7 1190.8h0M86.3 1211.3h0M198.3 1153.7h0M196 1267.7h0M183.9 1255.3h0M274.9 1180.6h0M86.4 1254.5h0M270.6 1196.7h0M142.5 1282h0M363.7 1187.5h0M262.8 1239.3h0M180.5 1157.5h0M181.5 1249.9h0M267.8 1229.5h0M118.2 1184.3h0M177.1 1215.3h0M193.3 1289.2h0M116.2 1301.9h0M155 1282.2h0M156 1241.3h0M197.7 1157.8h0M328.5 1275.2h0M164 1270h0M229.5 1302h0M97 1209.8h0M151.1 1247h0M322.7 1280h0M251.1 1210.9h0M329.5 1167.9h0M161.1 1266.4h0M217.4 1302.9h0M108.4 1222.2h0M146.3 1152.3h0M109.2 1165.8h0M195.1 1217.8h0M238.4 1196h0M299 1230.4h0M386.3 1177.7h0M239.3 1227h0M196 1282.9h0M145.4 1285.4h0M191.6 1203h0M271.8 1237.6h0M168.6 1164.8h0M378 1208.1h0M115.7 1251.8h0M246 1201.8h0M182.5 1280.4h0M185.6 1215.4h0M378.6 1206.8h0M205.4 1176.6h0M286.7 1253h0M219.3 1213.7h0M152.6 1432.9h0M222.7 1435.9h0M197 1428.8h0M89 1391.8h0M379.7 1425.1h0M290.8 1411.8h0M227.4 1390.2h0M134 1422.5h0M296.5 1394.6h0M281.1 1385.8h0M271.3 1388.4h0M239 1398.6h0M251.8 1385.6h0M230.8 1420.4h0M122 1398.2h0M291.7 1415.3h0M272.4 1432.2h0M258.3 1392h0M218.1 1435.8h0M256.8 1430.2h0M193.6 1408.3h0M382.6 1435.2h0M283.7 1383.7h0M270.9 1378.4h0M371.4 1446h0M307.2 1395.3h0M343.9 1388.8h0M338.3 1413.5h0M84.9 1440.1h0M217.3 1435.8h0M294.8 1414.4h0M349.1 1390.6h0M360.4 1400.4h0M88.1 1400.2h0M100.6 1381.2h0M274.7 1384.7h0M129.8 1397.1h0M167 1442.2h0M362.5 1438.6h0M388.8 1407.7h0M328.3 1396.2h0M369.1 1434.4h0M308.4 1392.4h0M108.5 1442.6h0M252.3 1420.1h0M348.9 1386.3h0M298.2 1409.4h0M325.3 1408.8h0M141.4 1444.9h0M167.7 1429.6h0M339.3 1393.8h0M296.8 1404.5h0M149.9 1391.6h0M377.7 1402.5h0M239.1 1412.1h0M88.3 1430.3h0M312.5 1439.1h0M191.4 1391.1h0M188.4 1428.7h0M285.3 1405.2h0M243.7 1387.1h0M366.6 1410h0M238.1 1432.7h0M141.7 1428h0M190.2 1434.5h0M109.4 1395.9h0M278.3 1410.7h0M197.6 1417.7h0M147.9 1407.5h0M80.6 1433.5h0M159.2 1435.8h0M252.3 1419.3h0M275.3 1385h0M322.5 1397h0M349.2 1432.6h0M291.6 1434.7h0M216.2 1424.5h0M377.3 1389.6h0M111.4 1405.7h0M239 1386.7h0M149 1438.4h0M201.1 1386.7h0M137.1 1417.6h0M139.3 1410.2h0M247.8 1407.7h0M237.2 1436.3h0M85.2 1443h0M142.2 1378.8h0M319.5 1417h0M247.8 1391.7h0M323.7 1398.1h0M306.8 1392.4h0M258.7 1422.7h0M196 1410.6h0M100.4 1422.3h0M295.7 1387h0M251.8 1428.8h0M111.5 1436.4h0M351.6 1379.6h0M157.5 1382.1h0M158.8 1382.2h0M232.7 1394h0M173.6 1409.2h0M195.9 1432.8h0M305.5 1384.2h0M149.7 1376.6h0M182.7 1383.8h0M297.5 1432.2h0M390.7 1391h0M91.4 1430.5h0M208.5 1443h0M202.4 1398.5h0M102.7 1444.2h0M239.8 1407.7h0M216.4 1431.3h0M339.2 1410.3h0M135.6 1405.3h0M358.1 1405.4h0M286.2 1416.3h0M223.9 1417.4h0M156.5 1416.1h0M349.8 1381.7h0M195.1 1439.4h0M385.2 1377h0M275.6 1421.5h0M343 1409.8h0M120.9 1397.6h0M302.4 1428.4h0M143.8 1422.3h0M284.9 1423.4h0M86.8 1407.8h0M181.4 1419h0M185.1 1385.2h0M289.1 1396.7h0M326.7 1398h0M250.3 1434.2h0M116.1 1428.6h0M101.3 1443.4h0M87.8 1428.1h0M195 1388.9h0M203.2 1412.1h0M209.5 1384.8h0M243.1 1397.6h0M381.8 1403.6h0M215.8 1392.4h0M382.3 1399.2h0M281.6 1435.9h0M202.7 1430.4h0M167 1383.9h0M93.2 1408.3h0M352.7 1390.6h0M217.4 1430.9h0M166.2 1387h0M242 1406.6h0M372.8 1440.6h0M154.3 1416.4h0M209.9 1378.4h0M218.6 1441.9h0M174.5 1418.2h0M301.6 1380.5h0M368.3 1383.9h0M174.1 1427.5h0M86 1403h0M119.5 1410.1h0M84.9 1386.9h0M149.4 1381.9h0M108.2 1390h0M241.5 1385.9h0M336.2 1406h0M158.6 1393.4h0M342 1085.3h0M311.6 1088.8h0M374.7 1110.6h0M266.5 1142.4h0M111.3 1086.5h0M296.4 1123.1h0M305 1101.4h0M235 1095.1h0M216.4 1101.7h0M262.7 1102.9h0M165.7 1127h0M106.7 1138.1h0M234.7 1098h0M115.9 1117.6h0M237.2 1132.4h0M196.6 1110.9h0M358.5 1101.2h0M386.1 1144.5h0M388.9 1148h0M160.2 1139h0M270.9 1096.3h0M391.2 1127.3h0M332.6 1121.1h0M104.8 1142.4h0M134.7 1100.1h0M272.3 1095.6h0M224.3 1132h0M109.9 1128.2h0M112.6 1115.3h0M282.6 1130.1h0M93.5 1095.4h0M379.6 1109.4h0M212.5 1108.2h0M297.2 1133.8h0M282.9 1110.2h0M257.7 1118.1h0M138.6 1148.5h0M381 1136.4h0M389.7 1114.6h0M341.8 1098.8h0M311.7 1132h0M372.8 1140.3h0M354.3 1100.7h0M325.7 1115.3h0M177.5 1107.8h0M329.3 1141h0M343.5 1128.9h0M133.1 1092.9h0M257.2 1096.8h0M185 1089.2h0M128.3 1132.2h0M149.8 1141.4h0M182.7 1141.4h0M174.4 1100.7h0M203.2 1082.8h0M215.9 1331.4h0M83.9 1366h0M197.1 1304h0M379.6 1320.4h0M158.9 1305.7h0M111.1 1355.1h0M261.6 1340.3h0M156.8 1324.6h0M382.7 1330.8h0M388.7 1367.8h0M118.9 1365.1h0M86.6 1355.2h0M332.6 1354.1h0M251.5 1362.5h0M128.2 1342.9h0M162.9 1332.7h0M139.7 1355h0M258.8 1360.1h0M276 1347.1h0M367.6 1362.5h0M256.8 1327.5h0M369.5 1330.7h0M111.9 1328h0M300.4 1371.1h0M281.5 1351.7h0M372.4 1360h0M219 1337.2h0M317 1326.9h0M114.3 1348.6h0M332.4 1321.9h0M293.3 1368.3h0M119.8 1313.8h0M233.8 1328.1h0M376.2 1375.8h0M219 1361.1h0M277.1 1316.5h0M383.2 1316.6h0M103.7 1336.6h0M85.6 1338.6h0M208.6 1372.7h0M209.1 1365.2h0M323.3 1346.2h0M154.2 1325.9h0M233.3 1332.4h0M281.4 1340.4h0M180.8 1347.7h0M390.9 1318.6h0M184.7 1304.9h0M109.3 1308h0M211.9 1364.2h0M297.7 1373.6h0M341.1 1346.2h0M261.1 1304.9h0M199.7 1322.8h0M273.7 1308.7h0M249.2 1331h0M233.5 1333.1h0M111.9 1356.7h0M329.7 1347.1h0M116.1 1347.1h0M351.8 1375h0M316.7 1307.3h0M354.1 1351.9h0M166.3 1370.2h0M337.7 1368.4h0M157.2 1345.5h0" stroke="#ca6496" stroke-width="5.8" stroke-opacity="0.36"/><path d="M194.6 1016.9h0M325.3 1046.5h0M178.5 1039.7h0M382.5 1041.9h0M377.4 1041.9h0M404.3 992.2h0M222.3 1040.6h0M313.6 1079.1h0M278.2 1033.7h0M281.9 1038.8h0M306.1 1077.1h0M69.8 1019.1h0M364.7 995h0M335.3 992.4h0M286.7 1063.5h0M146.4 1024.8h0M142.4 1054.7h0M245.8 1045.5h0M176.3 1043.8h0M391.4 1061.6h0M390.5 1012.4h0M241.5 1025.2h0M183.4 1063.8h0M124.8 1041.2h0M329.7 1076h0M71.4 1014.5h0M233.6 1076.1h0M120.8 1067.3h0M200.8 1040.2h0M382.4 995.4h0M177.7 1003.9h0M110.8 1017.6h0M304.7 1043.2h0M106.7 1063.6h0M238.5 1002.7h0M345.6 1065.4h0M139.1 1076.4h0M342.1 1010.7h0M65.3 1069.7h0M347.5 998.5h0M327.1 1061h0M281.7 1066.5h0M401.8 1019.8h0M350.2 1074.7h0M172.2 1052.7h0M299.1 1068h0M258.9 1015h0M151.1 1039.7h0M111.3 1069h0M369.1 1011.9h0M303.5 1051.8h0M106.7 1061.5h0M327.1 1017.8h0M98.6 1015.6h0M328.9 1032.7h0M343.8 1004.3h0M101.4 1021.8h0M365.9 1004.5h0M90.1 1059.1h0M96.2 1051.3h0M93.5 1012.3h0M291.9 1070.3h0M204.9 1031.1h0M75.6 1021h0M147.8 1062.5h0M309.3 1062.1h0M246.9 1054.2h0M108.5 1025.1h0M165.2 1015.6h0M317.8 1009.3h0M176.3 1015.6h0M360.5 1048.6h0M229.4 1024.6h0M380.2 1076.4h0M218.8 1041.9h0M360 1013.2h0M153.5 999h0M236.7 1060.6h0M118.5 1029.5h0M403.8 1034h0M195.8 1067.1h0M370.1 1024.3h0M107.2 1048.4h0M318.2 1074.9h0M290.7 1018h0M241.1 1016.1h0M217.5 1032.8h0M377 1073.3h0M381.8 1033.7h0M394.8 1002.4h0M380 1048.7h0M363.4 1027.7h0M403.9 991.8h0M355 1065.3h0M193 1066.2h0M138.1 1059.1h0M225.2 1027.5h0M132.2 1063.5h0M315 997.7h0M399.5 1010h0M193.3 1027.9h0M262.2 1071.9h0M388.2 1048.1h0M190 999.4h0M88.5 1037.5h0M264.5 1030.9h0M401 1027.8h0M185 1028.2h0M123.7 1076.4h0M267.1 1039.7h0M210.6 1012.6h0M172.9 1035.2h0M217.6 1080.1h0M257.6 1008.6h0M83.4 1004.2h0M183.3 1061.9h0M369.1 1011.4h0M331.9 1030.4h0M248.8 1038.8h0M79.6 995.6h0M293.3 1053.2h0M195.1 1074.5h0M345.4 1017.4h0M87.9 1040.7h0M288.8 1010.3h0M80 1034.6h0M76.7 1057.6h0M278.9 1015.3h0M217.4 1011h0M128.6 1006.3h0M344 1031.4h0M309.7 1021.6h0M340.9 1044.6h0M288.7 1025.8h0M257.1 1007.1h0M398 1051.7h0M247.1 1048.6h0M99.3 1020.4h0M143.9 1067.5h0M69.4 1030.6h0M362.1 1061.9h0M310.8 1017.4h0M144.4 1054.6h0M167.1 1056.4h0M184.7 1059.9h0M261 1064.9h0M402.1 1024.5h0M402.4 990.4h0M365 992.3h0M251.5 1025.4h0M328.3 1018.6h0M136.2 1062h0M253.2 1059.4h0M232.4 992.9h0M328.7 1009.7h0M226.4 989.6h0M153.6 1051.1h0M326.3 1048.4h0M216.6 1057.3h0M293.8 1008.6h0M248 1044.8h0M314.2 1007.8h0M171.3 1021.2h0M97.8 1021.7h0M314.5 1042.9h0M124.2 1057.2h0M104.9 1059h0M115.5 998.4h0M151.1 1037.1h0M157.4 1071.3h0M385.9 1015.7h0M321.5 1053.8h0M256.9 1013.1h0M389.8 1078h0M69.5 1020h0M174.8 1007.9h0M212.2 1072.6h0M73.2 1066.8h0M170.7 990.8h0M372.7 1014.7h0M137.5 1000.3h0M190.6 1000.6h0M126.5 1012.6h0M262.8 1030.8h0M169.3 1038.1h0M329.8 1056.5h0M182.5 1074.4h0M335.6 1041.5h0M227.6 1020h0M110.9 1071.4h0M273 998.6h0M381.5 1071.6h0M76.5 1054.3h0M146.5 1039h0M350.3 1021.9h0M235.4 1051h0M130.8 1047.4h0M210.4 1080.4h0M129.2 1055.3h0M79.1 1014.9h0M105.3 1003.3h0M245.7 1005.6h0M336.8 998.4h0M278.1 1069.1h0M108.3 1009.6h0M326.6 1033h0M383.8 1020.8h0M201.1 1078.1h0M182.6 1078.9h0M369.7 1008h0M251.7 1076.6h0M105.1 1068h0M329.8 1058.8h0M270.5 998.7h0M392.8 999h0M333 1056.4h0M173.6 1052.8h0M205.4 1058.9h0M79.8 1075.8h0M196.5 1063.8h0M226.3 1064.6h0M168 1039.9h0M73.6 1034.8h0M92.1 1069h0M296.6 1028.8h0M398.2 1077.1h0M392.2 997.1h0M305.8 1056.8h0M272.2 991h0M381 1030.1h0M268.5 1064.9h0M159.1 992.2h0M380.8 1014.5h0M79.1 1002.1h0M405.2 1057.9h0M136.8 1003.1h0M372 1051h0M264.4 1001.6h0M206.4 1077.1h0M66.1 1028.3h0M84.5 1081.8h0M100.7 1077.7h0M352.7 1057.2h0M79.5 1053.8h0M233.6 1034.9h0M114.7 1036.9h0M339.3 1001.7h0M364.6 1028.3h0M156 1011.6h0M222.2 1049.4h0M259.9 1071.8h0M239.9 1036.9h0M403.2 1009.4h0M70.7 1019.9h0M172.1 1001h0M208 992.7h0M379.9 1034.3h0M365.5 1054h0M314.6 1059.7h0M168.2 1056.9h0M135.5 1040.8h0M268.6 1061.2h0M122.4 1021.3h0M346.9 1063.9h0M399.5 1000.4h0M136.9 999.4h0M312.5 1058.5h0M286.7 1061.6h0M241.5 1041.5h0M380 1049.5h0M289.4 1044h0M233.9 1267h0M260.8 1171.6h0M210.6 1216h0M212.8 1237.3h0M188.7 1211.5h0M211 1208.5h0M397.4 1165.7h0M70.8 1261.7h0M200.2 1220.2h0M267.4 1207.8h0M146.8 1154.3h0M363.8 1294.7h0M162.8 1222.7h0M175.8 1160.9h0M370.3 1279.1h0M147.4 1190.7h0M303.8 1273.1h0M225.6 1210.9h0M144.9 1273.3h0M360.3 1282.4h0M104.1 1242.2h0M401.9 1260.7h0M222.1 1174.1h0M85.7 1263.2h0M88.5 1275h0M292.7 1224h0M369.9 1293.8h0M275.9 1167.2h0M266.3 1216h0M150.4 1293.2h0M314.8 1170.5h0M143.3 1204.1h0M260.9 1201.4h0M215.3 1275.6h0M127.2 1261.5h0M178.1 1295.6h0M390.5 1201.8h0M272.3 1168.8h0M205.4 1246.7h0M283.3 1204.1h0M76.6 1170.9h0M256.7 1178h0M169.7 1246h0M373 1230.3h0M152.1 1241.1h0M159.3 1270.9h0M118.4 1191.8h0M215 1290h0M121.6 1181.2h0M110 1184.5h0M178.6 1212.1h0M324.8 1213.4h0M227.5 1212.3h0M329.8 1289.3h0M210.5 1292h0M150.7 1300.6h0M244.7 1255.7h0M195.4 1193.3h0M111.2 1286.6h0M188 1258.2h0M222.6 1232.1h0M135.7 1178.9h0M180 1255.6h0M250.8 1152.4h0M308.1 1217.8h0M88.6 1191.5h0M137.4 1277.1h0M253.1 1201.7h0M150 1196.3h0M160.8 1204.6h0M335.4 1271.9h0M303.8 1286.5h0M288.6 1169.3h0M80.2 1177h0M153.3 1232.3h0M346.1 1241h0M212 1188.8h0M400.7 1266.5h0M181.7 1159h0M400.8 1190.9h0M354.9 1169.8h0M288.3 1206.2h0M369 1197.2h0M99.5 1182.2h0M340.6 1300.7h0M284.9 1255.6h0M161.5 1193.4h0M94.7 1301.7h0M79.8 1245.1h0M184.7 1180.4h0M214.1 1293.5h0M149.7 1177h0M280.3 1251.9h0M239.6 1179.3h0M364 1168.8h0M124.5 1188.7h0M240.7 1224.4h0M254.3 1262.5h0M370.8 1223.2h0M79.3 1278.3h0M71.3 1200.3h0M113.9 1243.5h0M332.4 1171.6h0M165.7 1281.4h0M300.7 1168.5h0M299.8 1272.7h0M204.7 1175.6h0M290.4 1200.5h0M110.8 1177h0M202.7 1171.3h0M196.7 1235.8h0M253.8 1213.4h0M338.7 1165.4h0M177.8 1293.9h0M360.6 1292h0M326.7 1233.4h0M334.3 1239h0M105.2 1190.8h0M98.3 1285h0M175.1 1213.9h0M249.1 1167.3h0M306.4 1272.9h0M337.3 1285.9h0M173.5 1174.1h0M325.5 1257.4h0M192.1 1204.2h0M117.6 1278.4h0M222.5 1275.4h0M181.2 1200.8h0M240.5 1265.3h0M366.9 1205.7h0M302.2 1213.4h0M359.6 1267.5h0M254.9 1207.1h0M158.6 1286.5h0M338.9 1198.4h0M94 1181.7h0M394.8 1158h0M342 1232.4h0M254.5 1234h0M205.3 1236.7h0M95.8 1291.8h0M100.2 1173.1h0M295 1249.4h0M340.9 1257.3h0M383.3 1159.9h0M68.6 1188h0M331.4 1175.2h0M246.7 1269.1h0M118.4 1232.2h0M373.1 1265.6h0M201.1 1224.8h0M160 1298h0M332.7 1255.4h0M169 1263.2h0M231.5 1273.3h0M189.4 1286h0M299.1 1220.5h0M257.5 1274.3h0M246 1298h0M67.5 1288.4h0M309.2 1226.4h0M355.7 1174.6h0M180.5 1260.5h0M346.6 1208.7h0M405 1250.6h0M80.5 1170.7h0M91.1 1238.6h0M175.1 1191.7h0M218.1 1163.9h0M375.8 1279.4h0M256.1 1219.6h0M170.5 1243.6h0M183.6 1300.3h0M392 1262.5h0M347.5 1163.4h0M107.3 1204.5h0M108.1 1216.2h0M402.2 1278.8h0M392.9 1185.7h0M140.9 1155.6h0M158.6 1160.6h0M245.6 1197.7h0M295.4 1237.3h0M269.3 1197.6h0M316.3 1256.8h0M309.3 1223.6h0M223.6 1195.5h0M78.7 1222.8h0M275.7 1180.3h0M359.1 1285.6h0M356.9 1276h0M232 1178.7h0M157.7 1264.1h0M401.7 1168.9h0M67.1 1205.7h0M184.4 1242.8h0M103.4 1280.3h0M180.6 1290.1h0M177.6 1198.4h0M125.1 1298.8h0M266.6 1277.5h0M86.6 1234.5h0M315.7 1301.5h0M385.3 1167.8h0M192.6 1303.8h0M247.9 1297.5h0M151.7 1155.9h0M388.6 1192.1h0M256.7 1206.8h0M262.5 1293.9h0M388.8 1285.3h0M152.8 1276.8h0M71.3 1215.3h0M387.9 1190.7h0M190.6 1240.4h0M145.9 1259.7h0M288.2 1166.4h0M379.7 1162.9h0M303.2 1205h0M114.1 1163.9h0M406.2 1273.6h0M221.9 1272.8h0M396.7 1292.8h0M247.1 1193.8h0M242.3 1301.2h0M314.7 1253.8h0M353.3 1214.2h0M256.1 1281h0M133.1 1282.6h0M73.4 1233.6h0M261.6 1174.2h0M380.3 1218.8h0M128.3 1214.6h0M267.3 1217.2h0M66 1166h0M308.9 1172h0M152.4 1274.7h0M359.7 1286h0M124.7 1152.8h0M323 1243h0M189.7 1154.8h0M212.6 1188h0M266.1 1301.1h0M136.6 1163.4h0M302.5 1168.4h0M141.3 1218.8h0M402.2 1201.3h0M173 1224.2h0M120.5 1213.1h0M304.5 1201.3h0M337.4 1180h0M99.7 1247.3h0M219.9 1291.6h0M101 1265.4h0M294.1 1208.3h0M108.9 1245h0M324.3 1223.8h0M226.6 1256.2h0M273.4 1216.3h0M128.6 1222.5h0M253 1288.3h0M405.2 1236.6h0M177.4 1185.9h0M280.6 1264.2h0M149.7 1256.9h0M406.7 1211.5h0M386.1 1218.4h0M288 1283.7h0M134.5 1204.5h0M401.6 1161.9h0M169.7 1224.4h0M319.7 1247.8h0M383 1253.8h0M65.5 1162.8h0M77.5 1217.6h0M74.2 1231.9h0M281.3 1182.7h0M357.8 1214.9h0M393.3 1206.4h0M277 1234.4h0M154.9 1270.5h0M66.4 1189.9h0M174.7 1286.1h0M236.2 1157.6h0M167.3 1244.7h0M341.6 1168.6h0M331.5 1211.4h0M244.3 1216h0M214.9 1302.6h0M379.3 1291.5h0M316.6 1258.4h0M113.4 1157.4h0M349.2 1254.3h0M280.7 1199.5h0M156.3 1292h0M247 1155h0M181.4 1205h0M88.1 1300.7h0M373.8 1275.8h0M66.4 1215.5h0M103.2 1262.3h0M341.8 1272h0M335.8 1170.4h0M69.6 1166.1h0M353.1 1278h0M241.5 1187.7h0M358.1 1170.3h0M176.1 1152.3h0M401.1 1215.1h0M328.7 1273.8h0M263.7 1302h0M329.9 1292.9h0M394.5 1164.5h0M321.7 1186.4h0M176 1203.9h0M403.1 1161.2h0M213.7 1171.5h0M406.1 1227.4h0M305 1231.1h0M327.4 1203.2h0M206.4 1265.2h0M305.3 1286.9h0M170.8 1280.9h0M317.1 1239.1h0M204.6 1238.2h0M91.3 1166.8h0M171.5 1170.7h0M81.7 1261h0M315.1 1245.6h0M135.4 1261.7h0M347.4 1246.1h0M142.8 1237.8h0M200 1192.9h0M115.8 1283.5h0M281.2 1293.8h0M123.8 1192.2h0M239.2 1161h0M168.4 1234.1h0M229.8 1290.3h0M262.5 1248.9h0M265.1 1271.4h0M190.3 1152.1h0M400.3 1272.4h0M108.3 1169h0M141 1252h0M109.8 1155h0M234 1152.9h0M153.5 1210.1h0M135.2 1152.4h0M153.9 1189.1h0M175.9 1215h0M188.1 1201.3h0M71.6 1279.3h0M317.5 1226.9h0M66 1187.5h0M373 1221.5h0M135.2 1276.6h0M369.9 1170.6h0M236.4 1237.3h0M105.1 1200.5h0M276.4 1254.4h0M279.9 1246.3h0M194.3 1162.5h0M70.5 1279.3h0M360.8 1289.6h0M91 1268.9h0M123.8 1204.6h0M133.5 1282.7h0M345.1 1278.6h0M195.5 1294.3h0M153.9 1239.3h0M295.3 1187.5h0M195.5 1167.2h0M337.5 1180h0M111.5 1194.2h0M284 1248.8h0M244.4 1281.7h0M322.3 1183.9h0M247.9 1177.7h0M147.7 1174.3h0M91.3 1205.2h0M368.2 1251.7h0M95 1185.3h0M267.3 1232.5h0M74.1 1166.3h0M258.6 1243.4h0M92.5 1269.5h0M147.2 1241.6h0M246.1 1203.7h0M388.6 1212.1h0M209.7 1234.1h0M352.2 1302.1h0M328.2 1233.9h0M310.2 1249h0M393.1 1299.5h0M324.9 1184.9h0M259.4 1218.8h0M144.1 1270.8h0M140.6 1259.9h0M232.3 1216.9h0M306.7 1262.2h0M403.5 1303.8h0M338.6 1192.1h0M293.9 1227.3h0M386.6 1220h0M187.2 1155.9h0M225.8 1232.9h0M170.4 1168h0M230.5 1162.7h0M123.7 1219.5h0M184.1 1228h0M246.3 1211.1h0M110.7 1154.8h0M256.3 1299.5h0M161.2 1205.5h0M174.2 1264.9h0M233.7 1273h0M66.8 1172.2h0M135.5 1208.1h0M201.6 1210.6h0M395.3 1218.8h0M261.8 1298.4h0M284.5 1242.4h0M348.3 1202.8h0M77.3 1297.6h0M247.7 1240.5h0M87.8 1265.2h0M192.8 1249.7h0M162 1291.6h0M191.1 1193.9h0M370.7 1185.8h0M157.7 1226h0M400.4 1169.6h0M137 1273h0M90.7 1215h0M332.8 1260.3h0M336.3 1169.8h0M369.3 1206.3h0M343.5 1410h0M369.8 1410.4h0M153.2 1386.8h0M234.8 1379.6h0M121.1 1439h0M261.2 1438.1h0M116.6 1410.6h0M225.3 1383.8h0M155.1 1442.4h0M312.5 1412.6h0M273.4 1438h0M391.2 1418.8h0M82.2 1438.8h0M121.3 1393.3h0M111.9 1412.9h0M264.2 1409.1h0M225.7 1386.1h0M310.6 1414.7h0M170.7 1436h0M386.1 1442.4h0M401.8 1381h0M197.9 1408.4h0M152.8 1429.6h0M374.5 1386h0M238.1 1445.7h0M369 1408.5h0M100.8 1408.9h0M242 1432.6h0M128.6 1396.1h0M401.8 1376.8h0M274 1382.8h0M321.7 1406.5h0M381.5 1392.1h0M365.1 1392.4h0M81.3 1382.2h0M91 1404h0M397.4 1401.5h0M310.1 1378.5h0M241.4 1414.8h0M98.5 1417.7h0M217.6 1399.6h0M349 1425.8h0M106.2 1383.6h0M82.9 1395h0M282.7 1445.7h0M396.3 1438.2h0M107.5 1433h0M325.7 1410h0M405.5 1419.1h0M105.5 1391.5h0M109.3 1420h0M278.5 1437.8h0M68.5 1376.7h0M397.7 1394.9h0M155.4 1438.4h0M103.1 1433.1h0M371.7 1416.5h0M273.1 1376.4h0M272.5 1420.2h0M328.7 1413.2h0M104 1392h0M288.4 1381.7h0M101.5 1394.1h0M337.4 1415.3h0M187.1 1445.4h0M263.7 1393.2h0M258.4 1437.6h0M191 1407.3h0M262.5 1447.1h0M283.4 1389h0M264.1 1399.1h0M226.9 1427.3h0M71.9 1412.5h0M172.4 1419.1h0M345.7 1409.6h0M280.4 1396.8h0M152.5 1412.7h0M247.1 1392.1h0M326.7 1412h0M186.6 1394.3h0M351.2 1440.9h0M385.9 1393.9h0M89.3 1421.5h0M73.5 1437.7h0M297.2 1400.3h0M216 1425.2h0M119.8 1402.3h0M334.1 1425h0M265.2 1383.4h0M139.3 1394.5h0M75.8 1422.1h0M260.9 1442.5h0M254.6 1442.1h0M225.4 1413.3h0M161.2 1409.4h0M385.4 1411.1h0M65.7 1401.5h0M132.6 1420.9h0M239.2 1410.2h0M382.1 1430.9h0M94.9 1378.2h0M304.6 1419h0M288.1 1412h0M77.2 1408.5h0M350.7 1419.3h0M80.1 1385h0M374.4 1415.2h0M121.3 1426.9h0M381.3 1438.3h0M285.7 1434.1h0M95 1409.4h0M342.1 1400.6h0M114.2 1438.3h0M306 1376.5h0M86.8 1416.1h0M391.2 1420.5h0M364.6 1383.6h0M262 1389.1h0M178.5 1386.7h0M223.6 1379.3h0M289.6 1422.5h0M374.4 1431.3h0M90.8 1438.6h0M250.7 1443.4h0M233.3 1381.9h0M305.8 1388.5h0M401.5 1414.8h0M373.6 1411.5h0M176.6 1423.7h0M307.8 1409.1h0M159.2 1406.3h0M309.4 1392.4h0M119 1410.8h0M290 1380.8h0M157.8 1446h0M156.4 1431.6h0M169.5 1382.2h0M231.3 1438.6h0M330.8 1379.5h0M305.6 1420.7h0M230 1423.9h0M243.5 1389.2h0M302.9 1385.3h0M171 1437.3h0M259.3 1412.8h0M307.8 1411.5h0M196.3 1415.8h0M72.6 1401.3h0M78.5 1447.7h0M375.5 1423.1h0M119.1 1437.6h0M161.8 1433.9h0M287.7 1419.6h0M318.6 1395.3h0M350.3 1415.1h0M323.9 1436.5h0M152.1 1405.6h0M188.7 1381.5h0M364.5 1425.4h0M232.5 1415.3h0M365.9 1381h0M187.4 1425.4h0M247.9 1411.8h0M153.5 1392.1h0M294.2 1400.6h0M385.6 1440.9h0M396.8 1395.9h0M240.9 1383.5h0M187.9 1381.4h0M236.5 1444.9h0M325.8 1402.2h0M159.5 1443.1h0M83 1436.8h0M357.7 1381h0M390.3 1422.5h0M198 1406.6h0M273.1 1413.9h0M361.8 1440.5h0M176.7 1376.6h0M331.3 1422.6h0M289 1381.3h0M90.9 1440.7h0M189.4 1410h0M397.9 1390h0M282.2 1380.4h0M256.9 1429.2h0M118.8 1430.7h0M396.3 1139.8h0M335.4 1148.3h0M310.1 1120.3h0M346.9 1138.4h0M280.1 1128.8h0M126 1105.7h0M176.3 1142.1h0M332.3 1102.3h0M404.9 1086.1h0M86.1 1104.9h0M91.4 1148.5h0M187.7 1109.2h0M357.4 1119.3h0M280.6 1112.8h0M222.4 1149h0M159.8 1118.8h0M228.7 1091.9h0M115 1117.5h0M338.2 1112.2h0M85.2 1147.5h0M112 1143.9h0M80.5 1127.5h0M115 1100.2h0M209.2 1134.9h0M213.8 1111.3h0M202.6 1118.5h0M161 1148.7h0M130.1 1091.3h0M252.6 1106.6h0M311.7 1084.8h0M296.4 1107.5h0M382.1 1103h0M213.1 1104.2h0M247.4 1101.7h0M294 1110.8h0M307.2 1102.4h0M221.1 1121h0M310.7 1127.7h0M211.7 1088h0M103.4 1092.3h0M127.9 1094.8h0M291.4 1105.9h0M375.6 1098.4h0M149 1094.8h0M114.4 1129.7h0M262.8 1099.6h0M342.1 1129.3h0M211.6 1124.5h0M289.6 1112.9h0M96.3 1107.5h0M388.6 1108.1h0M283.5 1088.2h0M329.7 1142.5h0M192.6 1108h0M240.4 1099.7h0M136.8 1091h0M300 1117.7h0M392 1149.4h0M364 1148.1h0M351.7 1083.7h0M109.3 1374.3h0M363.8 1348.3h0M276.9 1335.4h0M210.3 1314.5h0M252.4 1323.8h0M106.7 1366.7h0M261.5 1367.1h0M165.5 1345.5h0M159.7 1363.8h0M136.5 1350.6h0M254.8 1327.4h0M92.4 1339h0M243.9 1362.9h0M134.5 1317.3h0M169.5 1361.8h0M144.4 1349.6h0M76 1309.9h0M307.2 1339.8h0M103.5 1338.1h0M386.7 1332.2h0M255.5 1334.3h0M237.8 1307.1h0M367 1345.7h0M183.7 1324.5h0M129 1371.2h0M352.6 1331.2h0M271.3 1343.8h0M133.5 1306.4h0M316.5 1315.7h0M258.2 1305.2h0M72.5 1315.8h0M288.5 1348.1h0M404 1351.5h0M243.6 1304.9h0M392.6 1339.2h0M358.4 1307h0M350.6 1338.3h0M139.1 1333.2h0M90.7 1345.8h0M139.9 1354.5h0M124.4 1353.7h0M276.2 1355.2h0M390.1 1325.3h0M298.6 1332.6h0M370.8 1363.4h0M326.2 1347.2h0M154.4 1369.4h0M396.3 1372.4h0M180.7 1363.2h0M297.2 1364.5h0M339.3 1336.7h0M200.2 1361.3h0M288.9 1342.9h0M363.8 1306.3h0M69.6 1337.5h0M98.3 1364.6h0M95.1 1367.5h0M142 1313.6h0M322.8 1352.8h0M205.4 1346.9h0M254.1 1372.3h0M238.6 1342.9h0M223 1333.7h0M301 1312h0M301.8 1370.9h0M325.3 1343.1h0M185.9 1311h0M96.6 1342.8h0M366 1366.4h0M127.7 1357.9h0M341.1 1338.6h0M358.5 1317.4h0" stroke="#d880a8" stroke-width="5.8" stroke-opacity="0.34"/><path d="M182.7 1038.4h0M309.5 1032.5h0M171.9 1070.1h0M201 1029.9h0M146.5 1035.6h0M302.8 1024.7h0M288.5 1036.5h0M77.8 1078.6h0M167.3 1041.2h0M384.7 1010.8h0M94.7 1010.6h0M123.6 1068.6h0M241.6 996h0M162 1038.1h0M130.5 1019.7h0M367.1 1032.1h0M149.6 1045.9h0M110.5 1038.9h0M283.9 1000.2h0M251.7 1020h0M315.3 1047.5h0M368.7 1046.7h0M133.3 1008.9h0M302 1065h0M94.3 1029.6h0M165.6 1034.2h0M356.7 1042.5h0M315.1 1060.9h0M164 1047.8h0M195.5 1034.8h0M245.9 1052.1h0M128.6 1067.5h0M126.2 1020.3h0M349.1 1080.7h0M192.8 1077.7h0M86.1 1078h0M139.1 995.3h0M320.9 1006.7h0M317.7 992.8h0M114.2 1024.3h0M101.4 1034.5h0M186.1 1058.5h0M233.7 1078.9h0M347.3 1007.6h0M371.2 1072.6h0M257.1 1039.5h0M129.1 1021h0M145.3 1009.8h0M273 1021.3h0M322.7 1043.7h0M342 1000.1h0M348.5 1037.8h0M278.8 1013.6h0M299.5 1028.7h0M307.8 1044.7h0M119.4 1019.2h0M317.6 993.6h0M278.7 1041.2h0M305.6 1021.7h0M228.5 1035h0M316.7 998.8h0M239.3 1015.5h0M264.9 1015.5h0M140.8 1013h0M363.9 1024.8h0M359.2 1058.2h0M161.1 1041.9h0M76.8 1076h0M278.4 1002.3h0M242.1 1036.7h0M291.3 1018.2h0M368.8 1048.1h0M97.5 1065.7h0M360.6 1019.5h0M304.5 1069.4h0M359.7 998.5h0M345.1 1014.5h0M333.8 1053.9h0M224.9 1073.2h0M334.3 1081.5h0M384.6 1043.7h0M312.1 1052.4h0M203.7 1037h0M238.5 1011.6h0M158.6 1068h0M348.1 1054.8h0M297.1 1038h0M259.7 1052h0M76.4 1032h0M388.2 1010.7h0M225.5 999.2h0M156.6 1066.2h0M84.6 1063.9h0M332.5 1070.2h0M157.3 1075.9h0M194.4 1032.6h0M382 1041.1h0M294.6 1002.1h0M75.5 1016h0M108.3 1066.2h0M154.9 1078.2h0M293.8 1009.4h0M304.3 1020.8h0M244.7 999h0M343.8 1062.9h0M262.2 1054.2h0M184.1 1003.7h0M179.3 1058.6h0M256.4 1004.3h0M152 1034.9h0M78.7 996.2h0M219.7 1004.2h0M362 1003.8h0M316.8 1063.6h0M176.2 1040.9h0M395.4 1047.6h0M199.4 1079.8h0M158.1 1078h0M174.4 1030.1h0M176.3 1050.7h0M359.9 1054.1h0M133 1081.1h0M308.2 1037.7h0M349.3 1001.8h0M267.8 1062.8h0M325.6 1052.6h0M94.3 1035.2h0M161.1 1046.8h0M202.6 1033.1h0M248.3 1045h0M362.5 1017.5h0M163 1008.8h0M110.5 1068.5h0M371.9 1003.5h0M190.7 1073.4h0M353.9 1080.1h0M395.6 1019.5h0M95.6 1014.6h0M236.8 993.6h0M156.2 1034.7h0M294.9 1006.1h0M113.9 1021.9h0M103.4 1003.2h0M107.4 1064h0M358.9 996h0M334.6 1068h0M284.9 1019.1h0M339.7 999.5h0M89.1 1077.9h0M145.7 1074.4h0M318.3 996.4h0M104.6 1050.2h0M121.3 1052h0M291.9 1013h0M228.4 1011.2h0M356.3 1048.8h0M297.9 1048h0M93.7 1071.8h0M326.5 1038.4h0M265.3 1036.4h0M318.8 1040.1h0M164 1038.6h0M143.2 992.6h0M242.7 1070.4h0M307.1 1011h0M238.7 1044.6h0M261.7 1033.5h0M239 1054h0M359.5 1038.5h0M328.1 1053.3h0M112.7 1015.5h0M175.6 1024h0M233.1 1018.6h0M397.3 1058.1h0M194.3 1055.1h0M373.6 1006.5h0M277.9 1078.3h0M195.6 1071h0M334.4 1020.9h0M120.8 1064.6h0M208.6 1023.7h0M224.3 1057.6h0M363.7 1074.5h0M322.3 1008h0M193.6 992.8h0M139 1022.8h0M131.4 1035h0M116.7 1050.8h0M207.2 1014.4h0M296.2 1021.7h0M81.7 1067.5h0M318.3 1071.1h0M169.2 1015.9h0M299.6 1005.3h0M387.2 1050.9h0M251.7 996.8h0M165.8 1030.2h0M391.7 1005.2h0M265.7 999.2h0M388.7 1059.3h0M337.2 1059.5h0M132.2 1013.9h0M86.7 1041.7h0M100.3 1009.1h0M130.4 1074.8h0M329.8 1017.9h0M388.6 1006.5h0M119.5 1026.4h0M335 1001.1h0M329.6 1041.1h0M332.7 1022.4h0M87.6 1001.1h0M308.3 1037.7h0M321.5 1010.1h0M164.5 1011.2h0M349.6 1055.3h0M124.2 1057.4h0M86.6 1034.1h0M157.3 1060.9h0M306.9 1053.6h0M137.9 996.1h0M281.4 1054.6h0M77 1067.5h0M364.7 1024.6h0M242.2 1050.7h0M373.9 1050.5h0M241.1 1061.2h0M232.7 995.2h0M251.3 1029.4h0M182.6 1027.6h0M145.7 1020.2h0M316.1 1071.7h0M221.9 1068.1h0M114.7 1038.5h0M315.2 1062.3h0M199.5 1007.3h0M385.3 1046.9h0M285.6 1023.3h0M110.6 1043.4h0M205.1 1072.1h0M288.9 1060.1h0M258.6 1059.8h0M117.4 1081.7h0M262.2 1045.8h0M135.5 1000.4h0M302.5 1057.4h0M290 1015.1h0M231.7 1061.2h0M281.6 1073.9h0M102.9 1061.8h0M78.3 1048.3h0M247.1 998.9h0M209.7 1052.2h0M355 999.1h0M239.1 1063.6h0M111.9 1072.4h0M378.2 1023h0M141.7 1174.1h0M145.1 1215.7h0M303.1 1294.4h0M255 1296.9h0M212.3 1251.9h0M74 1215.6h0M81.4 1172.1h0M336 1169.4h0M171.1 1231.9h0M244.2 1156.6h0M109.8 1254.9h0M205.1 1166h0M229.1 1208.6h0M397.9 1159.3h0M132.4 1163.4h0M252.6 1298h0M326 1169h0M248.8 1206.4h0M390.6 1259.5h0M269.7 1191h0M215.5 1232.1h0M196.7 1237.8h0M103.2 1215.9h0M393.7 1212.7h0M237.9 1266.5h0M337.2 1263.9h0M197.5 1260.2h0M138.7 1245.8h0M79.2 1181.3h0M130.7 1205.5h0M313.1 1155.2h0M357.9 1165.9h0M381.9 1296.2h0M273.1 1279.8h0M378.9 1220.1h0M351.3 1157.3h0M327 1250.5h0M325.6 1174.7h0M101 1231.5h0M270.5 1256.5h0M132 1238.3h0M387.9 1190.5h0M339.6 1298h0M292 1218.9h0M209.5 1223.1h0M114.4 1163.3h0M164.6 1178.4h0M365.4 1207.1h0M357.6 1237.6h0M364.9 1288.3h0M304.4 1220.2h0M153 1237.8h0M175 1277.9h0M87.8 1248.8h0M183.9 1215.9h0M249.7 1301.3h0M395.9 1206.3h0M384.2 1297.3h0M244.5 1237.7h0M138 1272h0M231.3 1267.8h0M372.7 1246.8h0M299.2 1235.4h0M116.5 1221.8h0M94.2 1179.5h0M391.7 1209.8h0M117.8 1218.1h0M93.4 1244.3h0M148 1185.1h0M280.4 1292.7h0M78.4 1260.7h0M262.6 1226h0M210.5 1153.7h0M188 1231.5h0M182.7 1303.1h0M184.2 1280.5h0M336.6 1272.8h0M233.4 1227.9h0M347.3 1169.9h0M146.8 1154h0M233.2 1220.9h0M383.7 1293.5h0M205.5 1227.4h0M108 1266.5h0M242.2 1177.5h0M358.1 1158.5h0M136.4 1224.5h0M397 1173.1h0M160.4 1272.3h0M182.9 1293.2h0M80.1 1188.2h0M174.4 1280.9h0M107.1 1254.4h0M361.3 1300.1h0M335.1 1159.7h0M230.5 1185.2h0M113.5 1189h0M312.2 1239.4h0M116.3 1195.4h0M95.4 1292.8h0M318.3 1223.8h0M385.5 1300.7h0M141 1190.7h0M136 1247.5h0M266.8 1230.8h0M324.8 1232.5h0M176 1253.6h0M381.5 1159.6h0M231.5 1173.2h0M316.1 1217.6h0M345.8 1253.8h0M384.8 1240.1h0M267 1300.1h0M334.2 1203.4h0M107.5 1292.1h0M94.6 1292.3h0M376.4 1252.6h0M381.4 1244.3h0M315.7 1242.6h0M146.1 1164h0M314.7 1220.6h0M114.4 1237h0M159.8 1191.9h0M357.9 1246h0M316.4 1276.2h0M215.5 1220.6h0M214 1206.3h0M326.3 1286.4h0M170.6 1260.1h0M143.8 1153.2h0M296 1270h0M180.9 1303.2h0M307 1200.8h0M320.3 1280.3h0M119.4 1290.6h0M214.7 1193.7h0M196.4 1232.3h0M244.8 1196.7h0M93.5 1247.9h0M306.5 1257.7h0M202.5 1282.4h0M79.6 1171.6h0M79.9 1236.3h0M243.5 1186.6h0M244.3 1152.5h0M85.7 1298.3h0M361 1162.5h0M286.5 1229.2h0M248.4 1279.8h0M281.8 1295h0M294.9 1291.1h0M111.7 1277h0M177.5 1292h0M330.4 1298.9h0M318.7 1211.4h0M243.7 1271h0M92.8 1234h0M258.1 1261.1h0M184.8 1244.1h0M312.5 1210h0M294.9 1289.3h0M193.7 1232h0M230.8 1279.5h0M161.5 1195.5h0M201.2 1251.2h0M124 1300.7h0M237 1263h0M207.6 1156.1h0M198.9 1238.9h0M103.3 1301h0M264.2 1221.8h0M83.3 1189.5h0M183.3 1250.7h0M130.4 1225.7h0M161.7 1237.8h0M296.9 1230.7h0M317.1 1246.7h0M101.1 1251.8h0M230.8 1267.4h0M377.6 1205.4h0M349.4 1187h0M284.6 1152.8h0M341.3 1219.8h0M221.3 1227.6h0M194.7 1187h0M298.3 1247.3h0M91.6 1193.1h0M375.9 1195h0M169.1 1239.9h0M194.8 1296h0M392.4 1171.6h0M146.9 1178h0M218.1 1195.2h0M292.5 1286.6h0M97.1 1156h0M110.3 1199.1h0M117.4 1217.6h0M191.8 1262.6h0M387.3 1300.6h0M210.3 1249.8h0M116.8 1244.8h0M360.3 1286.5h0M119.4 1177.2h0M366.2 1258h0M321 1162.2h0M274.4 1155.5h0M312.7 1272.8h0M178.3 1152.4h0M311.5 1303.7h0M275.1 1207.6h0M180.6 1275.4h0M387.9 1207.5h0M145.6 1303.5h0M212.5 1219.2h0M174.7 1262.2h0M392.3 1223.3h0M351 1212.9h0M210.8 1273.9h0M388.6 1266.8h0M302.3 1277.7h0M371.8 1296.9h0M246.2 1210.9h0M76.3 1232.1h0M189.1 1152.1h0M395.8 1198.7h0M376 1154.4h0M190.6 1271.1h0M292.1 1254.3h0M232.2 1165.9h0M343.3 1267.7h0M228.8 1237.4h0M334.5 1227.1h0M228.1 1225.7h0M312.5 1263.8h0M182.5 1270h0M195.7 1254.4h0M196.3 1288.7h0M378.6 1270.2h0M197.5 1205.4h0M214.4 1243.9h0M84.9 1234.9h0M374.8 1161.8h0M362.8 1239h0M397.2 1261.9h0M306.9 1266.5h0M210.5 1169.9h0M350.9 1285.3h0M307.7 1185.1h0M235.8 1230.2h0M191.9 1226.4h0M222.2 1301h0M277.1 1300.4h0M368.3 1179h0M323.9 1209.9h0M267.6 1237.6h0M313.7 1197.7h0M293.6 1208.2h0M327.5 1227h0M282.4 1303.5h0M164.8 1152.7h0M364.2 1231.8h0M283.3 1278.2h0M362.5 1210.7h0M393.9 1211.3h0M309.5 1278.4h0M191.5 1215.8h0M192.7 1204h0M207.5 1280.9h0M93.6 1302.4h0M330.2 1237h0M282.1 1197.5h0M321.7 1284.9h0M197.7 1227.9h0M144.9 1190.1h0M350.1 1249.6h0M218.9 1249.3h0M134 1152.6h0M189.7 1239.4h0M133.8 1234.4h0M179.3 1191.9h0M313.8 1206.8h0M314.5 1265.9h0M195.7 1156.8h0M347.1 1235.8h0M261.9 1256.2h0M251.8 1289.9h0M76.8 1299.2h0M273.7 1213.9h0M368 1288.1h0M267.2 1153.5h0M276 1214.6h0M259.9 1278.2h0M116.7 1280.4h0M174.6 1190.2h0M86.1 1168.2h0M160.8 1232.4h0M378.5 1178.1h0M167.6 1208.7h0M281.4 1205.8h0M291 1174.9h0M88.2 1240.1h0M308.5 1172.3h0M89.6 1253.7h0M95.2 1292.7h0M297.8 1176.4h0M206.7 1160.5h0M102.4 1205.5h0M358.3 1290.3h0M318 1248.9h0M263.3 1229.7h0M286.5 1227.5h0M202.9 1279.2h0M171.5 1213.7h0M294.1 1298.5h0M185.6 1217.8h0M204.2 1183.9h0M189 1272h0M134.9 1224.6h0M166 1239.9h0M324.5 1169.6h0M231.6 1180.5h0M283.4 1255h0M145.7 1187h0M172.2 1201.9h0M363.2 1284.8h0M330.4 1211.9h0M222.1 1182.6h0M223.1 1296.5h0M103.6 1211.9h0M137.3 1280.4h0M171.7 1226.1h0M90.9 1257h0M240.5 1273.7h0M307.8 1265.1h0M159.1 1190.1h0M267.7 1159.5h0M377.5 1261.5h0M233.9 1206.9h0M99.1 1236.3h0M324.5 1169.9h0M106.1 1256.2h0M226.3 1272.3h0M207.3 1301.3h0M356.7 1200.8h0M247.8 1241.2h0M219.9 1276.3h0M302.5 1276.4h0M155.9 1228.7h0M250.1 1240.7h0M79.2 1275.5h0M219.2 1176.2h0M351 1236.6h0M313.9 1264.5h0M275.8 1291h0M92.1 1202.6h0M127.1 1248.7h0M145.1 1156.3h0M118.2 1178.5h0M249 1221.2h0M224.5 1153.9h0M245.1 1190.5h0M103.6 1160.6h0M122.9 1212.9h0M128 1222.5h0M127 1263.7h0M357.8 1201.2h0M97.3 1298.7h0M101.3 1250.8h0M319.1 1225.4h0M362.7 1174.4h0M307.4 1289.9h0M364.7 1281.1h0M215.4 1229.8h0M349 1209.7h0M156.7 1156.8h0M140.1 1173.4h0M375.1 1199h0M188.2 1300.1h0M297.9 1218h0M108.2 1207.5h0M168.3 1296.2h0M210.3 1299.9h0M161.5 1159.2h0M365.4 1163.4h0M329.3 1242.5h0M166 1278.8h0M213 1301.5h0M254.8 1295.5h0M375.5 1209.2h0M298 1262.7h0M286.2 1155.5h0M296.9 1267.8h0M136.7 1166.5h0M95.9 1234.7h0M108.4 1280.9h0M208.6 1303.3h0M311.8 1217.1h0M133.2 1216.8h0M270.7 1282.9h0M363 1201.3h0M81.6 1253h0M296.7 1250.4h0M334.2 1275.4h0M276.7 1276.9h0M114.5 1295.8h0M289.9 1166.4h0M128.6 1249.5h0M173.2 1294.4h0M164.4 1225.9h0M237.2 1294.9h0M172.5 1287.6h0M308.4 1238.5h0M380.5 1286.3h0M316.8 1234.9h0M88.2 1185.5h0M284.8 1169.8h0M282.4 1401h0M199.5 1435.2h0M346.4 1429.8h0M218.7 1414.6h0M393.3 1442.7h0M270.9 1381.7h0M366.1 1379.3h0M112 1423.4h0M137.6 1430.3h0M296.4 1387.9h0M368.3 1447.9h0M286.8 1446.7h0M333.6 1410.1h0M341.1 1443.6h0M299.5 1382h0M194.7 1426.7h0M192.5 1388h0M221.8 1386.2h0M227.7 1383.1h0M309.4 1391.3h0M377.2 1383.7h0M278.5 1422.3h0M138.4 1421.2h0M251.9 1420.3h0M134 1410.3h0M344.9 1420.5h0M153 1400.1h0M358.9 1379.8h0M228.9 1413h0M213.4 1376.2h0M108.5 1436.6h0M221.4 1397h0M220.3 1379.8h0M100.3 1435.7h0M320.1 1390.2h0M176.9 1381.5h0M177 1413.5h0M317.9 1412.4h0M348.7 1447.9h0M257.8 1379.1h0M117.5 1424.4h0M116.2 1440.7h0M91.6 1380h0M396.6 1405.3h0M253.9 1418.9h0M112.4 1400.2h0M193.5 1429.1h0M327.5 1426h0M132.6 1409.2h0M370.7 1388.6h0M187 1420.3h0M396.5 1377.8h0M297.9 1409.2h0M245.4 1436.5h0M105.1 1419.1h0M176.7 1430.4h0M305.5 1405.9h0M123.3 1431.1h0M301.1 1416.6h0M315.6 1444.3h0M153.2 1425.7h0M335.4 1395.1h0M366.6 1398.6h0M383.8 1417.9h0M389.2 1439.7h0M327.3 1402.7h0M222.5 1418.3h0M334.8 1406h0M365.2 1391.6h0M242.7 1386.4h0M129.3 1396.9h0M89.4 1417h0M274.9 1404.5h0M332.4 1415.3h0M295.4 1382.1h0M180.8 1377.5h0M125.8 1437.2h0M117.9 1418.9h0M196.3 1424.4h0M356.4 1435.7h0M386.6 1445.5h0M203.1 1447.1h0M321.1 1396h0M180.4 1413.7h0M347.9 1383.1h0M362.7 1424.3h0M266.1 1405.3h0M197.6 1405.2h0M305.9 1407.9h0M305.3 1439.1h0M102.2 1377.4h0M379 1389.9h0M337.8 1405.1h0M146.8 1376.9h0M212.9 1419.2h0M91.6 1376.8h0M167.1 1439.4h0M317 1394.5h0M204.7 1406h0M303.6 1396.5h0M189.1 1412.3h0M150.8 1406.9h0M316.3 1412.3h0M92.1 1401.1h0M258.8 1392.7h0M199.6 1416.3h0M192.1 1389.2h0M357.5 1380.7h0M367.6 1382.8h0M253.5 1415.2h0M206.7 1421.1h0M360.2 1399h0M93.5 1390.4h0M358.6 1419.1h0M318.3 1404h0M178.9 1425.7h0M258 1441.8h0M126.1 1400.7h0M298 1441.3h0M225.2 1432.7h0M109.5 1422.1h0M180.7 1425.9h0M170.3 1389.5h0M161.2 1428.1h0M304.8 1441.7h0M208.1 1380.7h0M336 1394.5h0M306.6 1411.2h0M217.9 1378.2h0M147.5 1429.9h0M223 1439.5h0M335.4 1414.4h0M392.5 1376.2h0M203.9 1414.4h0M91.5 1438.7h0M122.5 1417.8h0M161.8 1403.5h0M224.8 1396.8h0M129.5 1424h0M276.9 1381.8h0M389.3 1383.7h0M146.3 1396.3h0M192.1 1411.3h0M366.6 1383.3h0M260 1420.9h0M157.5 1401.6h0M218.1 1439.9h0M325.7 1410.5h0M96.3 1401.8h0M338.6 1407.3h0M200.6 1422h0M87.1 1422.7h0M296.1 1384.1h0M209.2 1437.6h0M159 1414.2h0M186 1415.8h0M200.7 1400.8h0M373.6 1425.9h0M397.6 1400.1h0M225.2 1402.3h0M354.9 1402.4h0M294.3 1388.7h0M249.7 1395.4h0M370 1402.4h0M382.7 1416.8h0M184.5 1415.7h0M375.6 1425.9h0M341.1 1416.8h0M274.4 1386.1h0M343.5 1422.1h0M284.1 1397.9h0M321.2 1414h0M177.8 1447.4h0M324.3 1424.9h0M346.1 1426.1h0M198.6 1444.8h0M367.5 1424.3h0M214.9 1117h0M88.8 1144.2h0M343.2 1123.6h0M225 1138.3h0M80.9 1110h0M155.2 1124.6h0M188.7 1124.5h0M364.8 1110.7h0M111.2 1082.9h0M344.7 1114.8h0M217 1084.1h0M107.4 1082h0M364.2 1085.3h0M178.3 1115.1h0M259.8 1097.6h0M283.2 1126.7h0M393.1 1088.6h0M169.9 1089.2h0M167.8 1096.9h0M83.8 1138.5h0M163.2 1134.1h0M337.7 1137.7h0M82.1 1123.1h0M349.8 1126.3h0M269.7 1111.8h0M340.5 1119.4h0M188 1116.7h0M226.7 1095.1h0M292 1140.4h0M285.8 1082.7h0M205.2 1135.6h0M116.5 1117.4h0M295.4 1119.4h0M181.1 1083.2h0M302.1 1093.6h0M268.8 1118.7h0M308.2 1089.8h0M389.5 1134.4h0M356.7 1094.9h0M307.4 1108.5h0M300.9 1130.9h0M206.5 1148.3h0M216 1114.7h0M305.7 1092.6h0M364.2 1105.3h0M361.5 1092.2h0M114.1 1123.3h0M152 1112.8h0M138.9 1132.7h0M312.9 1130h0M117.5 1085.3h0M262.8 1087.7h0M306 1120.3h0M376.1 1139.3h0M286.3 1139.9h0M238.4 1102.4h0M93.9 1131.2h0M289.7 1349.5h0M239.9 1336.8h0M371.8 1331.1h0M119.3 1372.5h0M320.7 1368.5h0M393.3 1335.4h0M124.4 1339.5h0M232.8 1331.9h0M328.7 1322h0M388.4 1319.3h0M166 1363.7h0M149.8 1356.2h0M162.7 1333.5h0M226.2 1321.8h0M340.7 1371.7h0M373.6 1315.5h0M82.3 1335.7h0M313.8 1343.4h0M385.3 1375.1h0M295.2 1322.8h0M204.1 1308.7h0M201.6 1358.1h0M176.5 1317.3h0M248.6 1368.5h0M283.2 1311.9h0M213.9 1320.5h0M337.1 1334.1h0M217.7 1367.2h0M170.2 1336.3h0M391.6 1326.1h0M248.8 1350.7h0M182.5 1349.3h0M210.5 1363.8h0M254.4 1356.3h0M259.7 1354.2h0M200.4 1314.6h0M191.8 1327.4h0M78.7 1359.4h0M244 1338.6h0M302.2 1308.8h0M114.7 1355.6h0M87.2 1366.6h0M238.6 1373.6h0M352.4 1333.4h0M185.4 1335.2h0M323.3 1337.2h0M307.3 1375.4h0M316.6 1341h0M314.5 1339.6h0M262.2 1334.3h0M377.1 1375.1h0M258 1344.2h0M107.4 1344.7h0M375.1 1321.4h0M325 1322.3h0M305.2 1324.3h0M267 1359.8h0M84.5 1364.5h0M243.6 1321.6h0M173.6 1343.9h0M314.1 1316.8h0M96.7 1320.7h0M279.6 1333h0M321.2 1356.4h0M193.2 1346.4h0M121.2 1347.9h0M283.7 1321h0M289.9 1314h0" stroke="#d0709e" stroke-width="5.8" stroke-opacity="0.34"/></g>
<rect x="194" y="1228" width="173" height="220" rx="5" fill="#fff" fill-opacity=".72"/><rect x="195" y="1297" width="171" height="93" fill="#9c4c68"/><g stroke-linecap="round" fill="none"><path id="s29" d="M195.9 1299.5h0M218.5 1299.4h0M241.7 1299.8h0M263.9 1299.3h0M286.7 1299.6h0M309.7 1299.1h0M332.7 1299.5h0M356 1299.8h0M204.7 1307.1h0M227.3 1307.5h0M250.4 1307h0M273.3 1307.1h0M296.6 1307h0M318.8 1307.6h0M341.7 1307.1h0M365.3 1307h0M213.5 1315h0M236.5 1315.2h0M259.5 1314.7h0M282.7 1315.3h0M305.5 1314.8h0M328.3 1314.7h0M351.3 1315.2h0M200.5 1322.8h0M223.3 1323.1h0M245.9 1322.8h0M268.6 1323h0M291.5 1323.1h0M314.7 1323.1h0M337.5 1322.7h0M360.3 1323.1h0M209.6 1330.4h0M232.4 1330.1h0M255 1330.4h0M278.4 1330.1h0M300.9 1330.9h0M323.6 1330.4h0M346.7 1330.2h0M196 1338.3h0M219 1338.6h0M241.8 1338.5h0M264.2 1338h0M287.2 1337.9h0M309.8 1338.2h0M333.4 1338.5h0M355.9 1338.5h0M205.3 1345.9h0M227.8 1346.1h0M251.1 1346.1h0M273.7 1345.9h0M296.5 1345.7h0M319.7 1346h0M342.3 1346h0M365 1345.6h0M214.1 1353.8h0M237 1353.6h0M260.3 1353.4h0M282.7 1353.9h0M305.5 1353.4h0M328.4 1354.1h0M351.2 1353.8h0M200.3 1361.4h0M223.2 1361.6h0M246.3 1361.5h0M268.9 1361.5h0M291.7 1361.4h0M314.9 1361.2h0M337.4 1361.5h0M360.3 1361.1h0M209.4 1369h0M232.3 1369.4h0M255 1369h0M278.2 1369.2h0M300.8 1369.3h0M324.2 1368.9h0M346.6 1369.5h0M195.7 1377.1h0M218.7 1377h0M242.1 1377.3h0M264.9 1377.2h0M287.3 1376.8h0M310.4 1377.2h0M333.1 1376.9h0M356.5 1377.2h0M205.4 1385h0M227.8 1384.9h0M250.8 1384.4h0M274.1 1384.9h0M296.7 1385h0M319.8 1384.6h0M342.3 1384.9h0M365.5 1385.1h0"/><use href="#s29" stroke="#3c4444" stroke-width="7.6"/><use href="#s29" stroke="#6a7474" stroke-width="5.9" transform="translate(-0.5 -0.5)"/><use href="#s29" stroke="#a4acac" stroke-width="2.3" transform="translate(-1.2 -1.3)"/></g><g stroke-linecap="round" fill="none"><path id="s30" d="M203.5 1299.6h0M210.5 1299.7h0M226.2 1299.7h0M233.8 1299.3h0M248.9 1299.8h0M256.9 1299.4h0M271.8 1299.2h0M279.2 1299.7h0M294.6 1299.7h0M302.1 1299.5h0M317.9 1299.4h0M325 1299.8h0M340.2 1299.4h0M348.4 1299.8h0M363.1 1299.1h0M196.8 1307.4h0M212.5 1307h0M220 1307.2h0M235 1307.5h0M243.1 1307.2h0M257.8 1307.4h0M265.6 1307.3h0M280.7 1307.5h0M288.6 1307h0M303.7 1307h0M311.6 1307.5h0M326.9 1307.5h0M334.3 1307.2h0M350 1307.1h0M357.6 1307.5h0M198.6 1315.3h0M206.1 1314.8h0M221.6 1314.8h0M229 1315.1h0M244.7 1314.9h0M251.8 1315.1h0M267.5 1315h0M274.8 1314.8h0M290.1 1315.1h0M297.6 1315h0M313.2 1315h0M320.4 1314.7h0M336 1315.1h0M343.7 1315.3h0M358.6 1315.3h0M366.8 1315.1h0M207.8 1322.5h0M215.5 1322.9h0M230.7 1323.1h0M238.3 1322.4h0M253.8 1322.5h0M260.9 1322.9h0M276.6 1322.5h0M284.2 1323h0M299 1322.5h0M307.1 1322.9h0M322.1 1322.4h0M329.9 1322.6h0M345.5 1322.6h0M353 1322.8h0M194 1330.3h0M201.5 1330.7h0M216.7 1330.6h0M224.5 1330.5h0M239.6 1330.8h0M247.9 1330.2h0M263.1 1330.3h0M270.8 1330.2h0M285.8 1330.9h0M293.5 1330.8h0M308.9 1330.3h0M316.4 1330.8h0M331.7 1330.6h0M339.5 1330.4h0M354.2 1330.8h0M361.8 1330.8h0M203.2 1337.9h0M210.7 1338.5h0M226.1 1338.6h0M233.8 1338.1h0M249.3 1338.1h0M256.4 1338h0M272.1 1338.1h0M279.4 1338.6h0M294.5 1338.3h0M302.2 1338.3h0M317.9 1338.3h0M325.2 1338.5h0M341 1338.6h0M348.2 1338.3h0M363.3 1338h0M197.3 1346h0M212.2 1345.9h0M220.5 1345.7h0M235.7 1345.9h0M243.2 1346.4h0M258.2 1346.1h0M266.1 1346.1h0M281.4 1345.9h0M288.6 1345.7h0M303.9 1345.8h0M311.6 1345.9h0M327 1345.9h0M334.7 1346.3h0M349.8 1345.7h0M357.3 1345.7h0M198.8 1353.8h0M206.2 1354h0M221.7 1354h0M229.5 1353.4h0M244.8 1353.6h0M252 1353.4h0M267.3 1354.1h0M274.8 1353.7h0M290.6 1354.1h0M297.9 1353.4h0M313.1 1353.8h0M321.3 1353.4h0M336.3 1353.7h0M343.5 1353.4h0M358.7 1353.8h0M367 1353.4h0M208.1 1361.7h0M215.8 1361.4h0M230.9 1361.8h0M238.6 1361.6h0M253.8 1361.6h0M261.5 1361.9h0M277.1 1361.8h0M284.4 1361.3h0M299.6 1361.4h0M307.1 1361.5h0M322.6 1361.7h0M329.9 1361.3h0M345.5 1361.4h0M353.1 1361.6h0M194.4 1369.6h0M202.2 1369.2h0M217.4 1369.5h0M224.8 1368.9h0M240.4 1369.2h0M248.1 1369.2h0M263.4 1369.4h0M270.3 1369.1h0M285.6 1369.6h0M293.6 1369.1h0M309.2 1369.4h0M316.7 1369.5h0M331.6 1369.3h0M339.3 1369h0M354.7 1369.1h0M362.2 1369.5h0M203.4 1377.3h0M211.4 1377.4h0M226.3 1376.9h0M234.5 1377.4h0M249.3 1377.1h0M257.3 1376.9h0M272.1 1376.9h0M280 1376.7h0M294.8 1377.3h0M303.2 1377.3h0M318.2 1377h0M325.7 1376.7h0M340.8 1377.1h0M348.3 1376.8h0M364.1 1377.2h0M197.3 1384.7h0M212.6 1384.7h0M220.5 1384.4h0M235.8 1384.7h0M243.3 1384.8h0M258.7 1385h0M266.1 1385h0M281.7 1385.1h0M288.7 1385.1h0M304.5 1384.4h0M312 1384.4h0M327.1 1384.6h0M335.1 1384.9h0M349.9 1385h0M357.8 1385h0"/><use href="#s30" stroke="#b72c5e" stroke-width="8.2"/><use href="#s30" stroke="#ea4c80" stroke-width="6.4" transform="translate(-0.5 -0.5)"/><use href="#s30" stroke="#fbb0c6" stroke-width="2.5" transform="translate(-1.3 -1.4)"/></g><g stroke-linecap="round" fill="none"><path id="s31" d="M231.9 1234.6h0M219.7 1254.3h0M345.6 1234.6h0M220.4 1234.1h0M314.9 1276.4h0M265.3 1249h0M207.8 1294.4h0M284.1 1266.4h0M300.5 1265.6h0M307.7 1241h0M291.4 1223.6h0M326.8 1220.6h0M307.2 1232.3h0M204.6 1226.8h0M272.2 1245.3h0M318.1 1267.9h0M292.6 1243.3h0M235.4 1269.3h0M317.2 1237.3h0M200 1243.2h0M360.2 1292h0M340.7 1300.9h0M240.5 1286.8h0M297.2 1271.5h0M320.8 1284.3h0M215.7 1275h0M283.6 1236.1h0M351.9 1262.7h0M346.4 1299.3h0M277.4 1275.4h0M367.7 1236.2h0M206.2 1254.5h0M200.2 1269.2h0M342.6 1293.5h0M337 1226.3h0M296.7 1248.2h0M269.6 1230.5h0M262.1 1286.8h0M349.1 1240h0M306.8 1278.6h0M226.2 1271.3h0M294.8 1279.2h0M223.8 1295.9h0M269 1283.1h0M236 1240.2h0M364.4 1232.6h0M194.9 1278h0M365.2 1264.4h0M188.4 1229.9h0M311.3 1264.7h0M350.7 1254.9h0M269.8 1262.6h0M238.1 1233.8h0M309 1251.4h0M355 1286.2h0M333.5 1280h0M351.8 1293.4h0M262.9 1269h0M316.4 1219.9h0M255.6 1275h0M343.7 1277.2h0M197.4 1263.1h0M197.7 1247.3h0M261.1 1280.3h0M277.2 1282h0M291.7 1228.1h0M293.3 1249.9h0M324.7 1293.4h0M291 1254.8h0M354.1 1266.5h0M306.2 1298.4h0M265.9 1275.9h0M207.1 1282h0M355.8 1286h0M231.4 1274.7h0M347 1269h0M215.4 1236.2h0M299.4 1294.8h0M313.1 1284.5h0M221.4 1293.4h0M346 1246.6h0M346.6 1279.5h0M229.8 1256.7h0M307 1234.1h0M268.9 1270.3h0M210.5 1244.9h0M210.9 1296.5h0M286.5 1233.4h0M293.8 1287.4h0M277.3 1232.4h0M300.4 1296.7h0M300.3 1241.7h0M189.3 1263.8h0M300.9 1249.8h0M251.8 1251.7h0M279.6 1268.6h0M223.3 1227.8h0M307.2 1258.3h0M200.3 1276h0M224.3 1285.3h0M211.1 1289.6h0M231.2 1248.8h0M217.4 1233.6h0M272.1 1237.9h0M357.7 1276.7h0M332.7 1250.3h0M295.8 1300.1h0M304 1266.2h0M217.6 1250.2h0M276.3 1253.9h0M278 1263.8h0M260.6 1284h0M299 1256.2h0M228.6 1280.9h0M344.3 1248.2h0M303.7 1225.6h0M274.1 1223h0M194.3 1226.9h0M337.9 1231.7h0M313.4 1299.3h0M321.5 1243.8h0M238.4 1256.2h0M331.5 1281.1h0M194.8 1295.9h0M337 1242.4h0M259.8 1248.9h0M270.6 1272.3h0M271.8 1252.3h0M309.4 1249.1h0M338.9 1243.9h0M203.2 1241.5h0M229.3 1299.7h0M280.4 1236.2h0M225.1 1241.7h0M231.1 1258.2h0M246.5 1247.4h0M307.2 1278.3h0M224.6 1252.3h0M318.1 1261h0M343.1 1276.1h0"/><use href="#s31" stroke="#a9a9a9" stroke-width="5.2"/><use href="#s31" stroke="#f4f4f4" stroke-width="4.1" transform="translate(-0.3 -0.3)"/><use href="#s31" stroke="#ffffff" stroke-width="1.6" transform="translate(-0.8 -0.9)"/></g><g stroke-linecap="round" fill="none"><path id="s32" d="M314.3 1258.3h0M295.9 1265.9h0M242.2 1246.7h0M332.6 1284.5h0M361.9 1274.8h0M280.8 1253.2h0M316.1 1272h0M259.5 1244.6h0M199.9 1281.7h0M267.3 1253.2h0M201.3 1260.6h0M350.1 1244.5h0M322.8 1280.2h0M308.2 1268.1h0M235.9 1273.9h0M294.9 1295.5h0M351.5 1270.2h0M252.1 1272.1h0M218.8 1238h0M347.6 1258.3h0M333.1 1239.9h0M274.8 1241.6h0M333.2 1268.2h0M229.2 1239.6h0M313.5 1247.1h0M210.4 1252.6h0M271.7 1297.1h0M275.1 1271.4h0M222.5 1268.5h0M329.8 1253.9h0M259.3 1229.8h0M363.8 1291.7h0M256.4 1263.9h0M291.1 1232.6h0M229.7 1224.6h0M292.1 1275.5h0M241.1 1265.8h0M272.9 1233.7h0M321.1 1263.4h0M211.3 1283.9h0M211.1 1274.9h0M201.5 1230.5h0M240 1238h0M290.7 1284h0M311.4 1235.6h0M339.7 1248.4h0M197.5 1251.9h0M358.8 1282.5h0M339.2 1296.5h0M252.4 1291.2h0M304 1282.3h0M242.9 1257.4h0M348 1283.9h0M216.7 1227.2h0M342.2 1237.8h0M205.9 1245.2h0M192 1292.3h0M225.2 1256.9h0M363.4 1257.7h0M288.7 1250h0M363.3 1228.1h0M323.5 1247.9h0M297.2 1243.7h0M192.8 1231.3h0M351.8 1230.1h0M262 1273.5h0M228.4 1295.2h0M281.1 1279.5h0M210 1265.8h0M261.4 1292.1h0M321.2 1235h0M333.9 1229.5h0M243.4 1283.3h0M284.7 1294.3h0M205.1 1290.7h0M240.1 1296.4h0M282.2 1262.1h0M273.5 1284.1h0M341 1272h0M278.2 1225.2h0M233.8 1252.6h0M303.1 1230.1h0M304.3 1294.2h0M318.2 1286.7h0M363.3 1237.3h0M234.7 1286.7h0M224 1280.7h0M360.5 1248.3h0M196.9 1239.8h0M256.1 1282.8h0M250 1235.1h0M231.3 1262.8h0M234.9 1231.1h0M283.7 1240.7h0M361.2 1266.5h0M305.3 1254.1h0M192.9 1273.9h0M243.2 1230.2h0M347.4 1294.9h0M317 1224.5h0M211.1 1234.5h0M310 1287.9h0M326 1225.1h0M317.4 1297.1h0M341.1 1224.3h0M264.3 1238h0M214 1293.1h0M193.9 1264.3h0M266.9 1266.2h0M283.7 1270.6h0M257.9 1253.1h0M203.3 1272.6h0M296.9 1252.1h0M339 1257.3h0M220.4 1246.6h0M303.7 1238.7h0M216.8 1257.9h0M328.7 1295.6h0M251.1 1247.2h0M282.6 1232.2h0M355.8 1290.7h0M264.7 1283.1h0M295.5 1225.6h0M340.3 1280.3h0M267.8 1224.9h0M221.8 1288.4h0M290.3 1259.4h0M300.8 1274.3h0M224.6 1232.2h0M248.9 1224.4h0M331.6 1276.5h0M355.9 1260.4h0M244.3 1274.5h0M273.9 1257.8h0M220.7 1298h0M208.5 1224.3h0M367.8 1284h0M199.1 1297.6h0M311.7 1279.6h0M287.4 1224.3h0"/><use href="#s32" stroke="#b72c5e" stroke-width="7.6"/><use href="#s32" stroke="#ea4c80" stroke-width="5.9" transform="translate(-0.5 -0.5)"/><use href="#s32" stroke="#fbb0c6" stroke-width="2.3" transform="translate(-1.2 -1.3)"/></g><g stroke-linecap="round" fill="none"><path id="s33" d="M294.1 1262h0M269.3 1257.4h0M263.1 1241.6h0M202.4 1294.5h0M200.5 1235h0M260.7 1235.2h0M321.6 1225h0M230.7 1289h0M329 1270h0M367.3 1226h0M192.6 1241.3h0M342.7 1284.2h0M253.4 1252.7h0M354 1256.2h0M277.2 1229.7h0M235.5 1296.7h0M272.3 1225.8h0M299 1222.7h0M251.5 1239.5h0M352.6 1283.3h0M253.4 1225.4h0M211.9 1261.6h0M255.2 1287.6h0M342.4 1260.4h0M241 1291.9h0M268.9 1220.4h0M204 1264.4h0M225.7 1226.9h0M210.3 1279.4h0M213.3 1254.8h0M282.7 1257.4h0M225.1 1299.3h0M319.9 1250.7h0M322.6 1285.6h0M361.7 1243.9h0M344.7 1269.2h0M325.3 1237h0M201.1 1286.2h0M219.3 1231h0M248.8 1273.8h0M256.6 1259.3h0M268.7 1236.6h0M223.7 1249.8h0M328.1 1285.3h0M265.3 1289.7h0M368.3 1290.8h0M343.6 1256.1h0M343 1242.3h0M326.7 1299.7h0M367.9 1258.8h0M300.2 1279.7h0M206 1231h0M282 1274.9h0M268.7 1293.7h0M321.2 1299.8h0M243.2 1251.2h0M273.4 1288.7h0M279.3 1241.7h0M211.4 1227.9h0M194.1 1268.9h0M340.3 1219.8h0M286.8 1286.6h0M258.8 1288.3h0M218.4 1270.6h0M248.9 1219.8h0M286.4 1290.1h0M238.5 1262h0M361.6 1261.9h0M287.1 1245.7h0M238.9 1228.5h0M288.1 1219.8h0M246.3 1226.8h0M363 1284.4h0M293.7 1271.2h0M255.3 1294.7h0M282.8 1224.1h0M332 1263.7h0M207.8 1237.7h0M255 1231.2h0M228.8 1220.1h0M370.5 1280.3h0M253.6 1267.7h0M244.4 1279.1h0M361.8 1287.5h0M187.5 1293.1h0M340.4 1252.9h0M242.9 1262h0M318.5 1267.1h0M260.8 1234.2h0M240.7 1279.5h0M215.8 1241.4h0M191.8 1287.7h0M336 1274.9h0M245.4 1235.1h0M218.2 1291.3h0M299.1 1278.5h0M193.1 1253.4h0M296.7 1270.5h0M268.9 1300.8h0M214.1 1280.3h0M317.4 1260.6h0M234.1 1282.1h0M330.8 1232.9h0M273.8 1262.4h0M358.3 1262.9h0M246.2 1244.3h0M237.9 1250.3h0M188.3 1274.3h0M231.5 1228h0M355.5 1232.9h0M311.5 1272.1h0M319.4 1291.1h0M251.9 1264.9h0M321.5 1226.1h0M364 1278.9h0M364.5 1250.7h0M315.4 1253.8h0M245.4 1264.2h0M278.4 1230.4h0M348.8 1233.6h0M334.2 1235.4h0M305.7 1286.1h0M318.9 1277.7h0M283.8 1283.2h0M361.6 1233.1h0M254.1 1286.9h0M287.2 1298.1h0M325.7 1251.8h0M213 1269.2h0M213.5 1255.9h0M219.5 1223.5h0M312.5 1242.6h0M220.1 1284.2h0M363.7 1281.9h0M203.6 1279h0M314.9 1232.7h0M231.8 1243.4h0M227.3 1265.1h0M200.7 1292.1h0M261.5 1248.8h0"/><use href="#s33" stroke="#a9a9a9" stroke-width="5.2"/><use href="#s33" stroke="#f4f4f4" stroke-width="4.1" transform="translate(-0.3 -0.3)"/><use href="#s33" stroke="#ffffff" stroke-width="1.6" transform="translate(-0.8 -0.9)"/></g><g stroke-linecap="round" fill="none"><path id="s34" d="M307.2 1420h0M332.4 1415.8h0M249.9 1451.9h0M351.4 1400.6h0M198.5 1436.3h0M324.7 1418.7h0M338.8 1401.6h0M203.1 1409.5h0M262.5 1415.7h0M196.2 1404.6h0M283.8 1407.1h0M199.4 1428.8h0M290.8 1451.3h0M263.1 1444.6h0M336.2 1436.4h0M332 1419.2h0M341.5 1445.2h0M313.3 1398.3h0M203.6 1393h0M288.8 1385.7h0M199.3 1420.9h0M297.3 1449.2h0M231.6 1423.8h0M252.1 1418.3h0M366 1424.2h0M281.7 1437.3h0M233.9 1434.5h0M192.7 1419h0M258.3 1415.3h0M248.7 1410.6h0M340.1 1438.6h0M206.8 1452.8h0M328.1 1439.3h0M285.1 1429.2h0M319 1402.6h0M252 1412.5h0M295.5 1435.6h0M317.6 1453.5h0M353.1 1430.5h0M208.8 1436h0M218.1 1409.6h0M243.7 1404.2h0M301.7 1413h0M364.9 1442.9h0M292.7 1443.6h0M332.5 1406.2h0M214.7 1451.9h0M255.8 1391.8h0M273.5 1423.5h0M219.7 1434.4h0M353.6 1432.3h0M222.4 1391.6h0M265.1 1432.6h0M353.2 1414.9h0M366.8 1441.8h0M204.9 1416h0M221.6 1408.8h0M213.9 1438.9h0M208.4 1402.9h0M197.7 1417.7h0M291.9 1428.1h0M302 1432.2h0M274.7 1399h0M277.9 1419.2h0M190.1 1398h0M250.4 1436.6h0M323.8 1441.2h0M346.9 1444.7h0M282.5 1424h0M312.9 1386.7h0M307.5 1442.1h0M197.8 1399.3h0M350.5 1439.4h0M209.6 1391.3h0M268.1 1445.9h0M342.9 1391.4h0M308.4 1398.1h0M340.8 1407.8h0M276.2 1431.1h0M259.5 1394.2h0M284.4 1435.8h0M314.9 1394.2h0M270 1442.5h0M349.2 1408h0M302.1 1401.6h0M227.1 1435.8h0M230.3 1402.6h0M269.3 1417.6h0M309.5 1426.9h0M211.6 1392h0M342.9 1437.7h0M231.9 1402.3h0M218.2 1396.4h0M359.4 1410.2h0M309.1 1429.6h0M311.9 1407.2h0M233.7 1448.3h0M323.9 1396.8h0M218.7 1424.4h0M198.7 1405.4h0M294.8 1388.9h0M228.1 1386.2h0M252.8 1425.3h0M202.7 1394.9h0M237.5 1404.1h0M269.7 1445.7h0M283.2 1451.6h0M270 1438.8h0M370.1 1399.7h0M362.7 1450.1h0M226.5 1396.4h0M363.8 1401.9h0M313.1 1439.5h0M258.2 1430.9h0M263 1410.4h0M332 1406.8h0M283 1423.6h0M331.6 1398.2h0M225.4 1406.2h0M278.3 1443h0M213.7 1429.4h0M269.7 1402.8h0M200.9 1409.2h0M333.2 1433.2h0"/><use href="#s34" stroke="#a9a9a9" stroke-width="5.2"/><use href="#s34" stroke="#f4f4f4" stroke-width="4.1" transform="translate(-0.3 -0.3)"/><use href="#s34" stroke="#ffffff" stroke-width="1.6" transform="translate(-0.8 -0.9)"/></g><g stroke-linecap="round" fill="none"><path id="s35" d="M349.9 1394.5h0M315.1 1413.8h0M288 1432.9h0M241.4 1390.6h0M273.1 1434.4h0M211.4 1420.9h0M270.6 1450.2h0M334.2 1401.9h0M281.9 1411.3h0M267.5 1409.6h0M204.6 1448.7h0M228.4 1425.4h0M201.6 1432.9h0M196.3 1409.2h0M213 1402.8h0M338.3 1391.1h0M364 1417.6h0M353.1 1443.3h0M283.6 1397h0M320.7 1437.9h0M323.4 1407.5h0M247 1439.6h0M296.3 1411h0M279.1 1389.1h0M234.9 1420.6h0M300 1436.7h0M307.5 1408.3h0M292.5 1399.7h0M299.3 1390.2h0M228.9 1440.1h0M343.5 1425.8h0M335.7 1419h0M207.5 1395.4h0M304.6 1428.4h0M238.3 1433.3h0M277.9 1424.2h0M222.6 1402.6h0M357.5 1429.2h0M195.3 1448.1h0M354.9 1410.6h0M198.4 1393.4h0M249.5 1422.1h0M301.4 1417.6h0M311.5 1391.1h0M218 1448.8h0M219.7 1419.9h0M306.9 1446.7h0M215.1 1413.1h0M225.1 1411.8h0M260.9 1434.6h0M355.5 1402.6h0M195.2 1422.8h0M349 1431.9h0M297.2 1444.6h0M233.3 1406.1h0M265.1 1419.5h0M327.4 1443.8h0M340.1 1434h0M311.5 1434.1h0M207 1411.9h0M256.3 1411.1h0M245.2 1407.5h0M218.5 1438.8h0M252.8 1395.2h0M226.9 1390.7h0M240.1 1401.3h0M284.8 1419.4h0M266.4 1441.7h0M274.8 1415.8h0M230.9 1397.8h0M330.8 1429.3h0M257.6 1401.8h0M229.1 1448.5h0M328.1 1395.2h0M366 1428.8h0M340.1 1412.4h0M261.4 1448.8h0M314.4 1402.8h0M251.4 1447.5h0M286.9 1448.9h0M209.1 1429.3h0M220.8 1427.9h0M352.3 1418.3h0M303.9 1397.4h0M366.3 1447.3h0M239 1448.7h0M345.4 1449.1h0M296.1 1426.4h0M337.7 1442.6h0M266.4 1394h0M216.2 1392.3h0M358.3 1390.4h0M282.8 1441.7h0M314.5 1443.9h0M362.9 1406.2h0M319.3 1425.7h0M362.5 1440h0M274.3 1403.6h0M365.9 1397.8h0M195.2 1440.1h0M331.6 1411.4h0M246.6 1430.3h0M346.8 1404h0M311 1422.6h0M321.1 1450.4h0M242.7 1416.2h0M333.6 1450.4h0M206.8 1440.2h0M202.5 1402.8h0M290.3 1390h0M259.6 1426.4h0M328.1 1421.7h0M255 1440.1h0M193.5 1401h0M319.9 1396.2h0M270 1426.6h0M278.7 1450.5h0M192.6 1431.2h0M202.2 1418.3h0M357.3 1450.5h0M258.7 1389.7h0M274.6 1443.1h0M367.5 1389.3h0M345.7 1440.1h0"/><use href="#s35" stroke="#b72c5e" stroke-width="7.6"/><use href="#s35" stroke="#ea4c80" stroke-width="5.9" transform="translate(-0.5 -0.5)"/><use href="#s35" stroke="#fbb0c6" stroke-width="2.3" transform="translate(-1.2 -1.3)"/></g><g stroke-linecap="round" fill="none"><path id="s36" d="M256 1398.5h0M214.7 1407.1h0M285.5 1414.1h0M277.6 1412.1h0M189.6 1434.7h0M239 1386.7h0M303.9 1389.4h0M199.9 1447.7h0M221.9 1451.2h0M238.9 1394.5h0M264.2 1426.4h0M361.8 1450.2h0M266.2 1405.2h0M242.2 1410.9h0M218.4 1404.6h0M300.9 1411.3h0M334.7 1427h0M279.4 1398.7h0M258 1436.6h0M319.3 1400.8h0M229.4 1410.1h0M349.1 1445.7h0M281.7 1392.8h0M334.1 1454.9h0M342.6 1405.8h0M208.9 1433.9h0M238.6 1423.2h0M211.2 1410.7h0M355.7 1407.1h0M290.8 1404h0M329.2 1449.1h0M325.3 1452.2h0M359.9 1433.1h0M359.4 1418.4h0M356.7 1386h0M224.3 1419.8h0M262 1392.9h0M319.1 1444h0M355.2 1421.8h0M241.6 1397h0M344.7 1412.8h0M307.6 1412.9h0M364.5 1392.7h0M297.1 1399.9h0M213.8 1416.9h0M248.1 1434.6h0M275.7 1447.5h0M259.8 1421.8h0M366.4 1384.8h0M323.9 1425.4h0M274.2 1451.2h0M241.9 1436.1h0M266.8 1398.6h0M348 1419.9h0M360.7 1410.2h0M319.9 1430.3h0M341.7 1430h0M256.9 1447.8h0M317 1440.6h0M351.9 1398.7h0M305.9 1418.7h0M295.6 1415.5h0M203.1 1422.8h0M337.7 1395.6h0M247.3 1416.4h0M367.4 1407.1h0M225.3 1428.8h0M370.2 1430.6h0M313.1 1409.6h0M309.4 1438.2h0M340.8 1448.7h0M283.3 1387.3h0M189.4 1427.8h0M327.8 1406.2h0M228.4 1444h0M316 1434.9h0M280 1446h0M194.1 1443.7h0M322.6 1402.9h0M295.3 1421.9h0M340.1 1422.8h0M350.2 1441.1h0M334 1423.3h0M195.5 1444.6h0M254.7 1405.4h0M247.6 1444.9h0M363.7 1435.6h0M254.1 1389.6h0M344.4 1444.5h0M232.9 1424.6h0M281.1 1416.7h0M327.1 1412.3h0M275.1 1449.9h0M312.3 1417.4h0M243.6 1448.4h0M276.5 1385.3h0M250.7 1438.6h0M299.3 1441.3h0M262.1 1402.2h0M345.6 1395.9h0M310.6 1449.4h0M201.3 1398.4h0M324.5 1395.5h0M364.2 1413h0M331.2 1446.4h0M219.5 1432.4h0M233.2 1438.3h0M196.3 1397.5h0M210.8 1442.5h0M215 1423.8h0M275.8 1420.2h0M227.1 1429.8h0M236.5 1444.8h0M243.2 1437.1h0M268.7 1432.9h0M297.5 1385.9h0M272.2 1430.6h0M242.4 1411.6h0M200.8 1451.5h0M346.7 1427.9h0M362.8 1389.5h0M355.8 1454.8h0M199.7 1438.9h0M250.3 1427.5h0"/><use href="#s36" stroke="#a9a9a9" stroke-width="5.2"/><use href="#s36" stroke="#f4f4f4" stroke-width="4.1" transform="translate(-0.3 -0.3)"/><use href="#s36" stroke="#ffffff" stroke-width="1.6" transform="translate(-0.8 -0.9)"/></g>
<text x="137.5" y="1207.8" text-anchor="middle" font-size="28" style="fill:#111">water</text>
<text x="137.5" y="1238.1" text-anchor="middle" font-size="28" style="fill:#111">2.8 nm</text>
<text x="137.5" y="1327.5" text-anchor="middle" font-size="28" style="fill:#111">ZnO</text>
<text x="137.5" y="1356.3" text-anchor="middle" font-size="28" style="fill:#111">1.8 nm</text>
<text x="262.6" y="1495.2" text-anchor="middle" font-size="28" style="fill:#111">3.2 nm</text>
<g clip-path="url(#c22)"><text x="335.2" y="1487.3" font-size="28" style="fill:#111">2.2 nm</text></g>
<path d="M184.6 1180V1282M184.6 1305V1378" stroke="#000" stroke-width="2" fill="none"/>
<path d="M184.6 1169.3l4.6 14h-9.2ZM184.6 1291.5l4.6-14h-9.2ZM184.6 1295l4.6 14h-9.2ZM184.6 1388.8l4.6-14h-9.2Z" fill="#000"/>
<path d="M210 1462.8L306 1465.7M327 1464L369 1456.4" stroke="#000" stroke-width="2" fill="none"/>
<path d="M200.6 1462.5l14.2-4.2l-.3 9.2ZM316 1466l-14.2 4.2l.3-9.2ZM317.5 1465.7l13-7l1.6 9ZM379 1454.6l-13 7l-1.6-9Z" fill="#000"/>
<path d="M494.2 1044.5C495.8 1048.9 499.1 1058.9 504 1070.9C509 1083 517.2 1102.7 523.8 1116.7C530.4 1130.7 537 1144.3 543.6 1155.2C550.2 1166 556.8 1174.8 563.4 1181.5C569.9 1188.3 576.5 1192.7 583.1 1195.4C589.7 1198 596.3 1198.5 602.9 1197.4C609.5 1196.3 616.1 1192.6 622.7 1188.6C629.3 1184.6 635.9 1178.4 642.4 1173.5C649 1168.6 655.6 1162.6 662.2 1158.9C668.8 1155.2 675.4 1152.1 682 1151.4C688.6 1150.7 695.2 1152 701.8 1154.7C708.3 1157.3 714.9 1162.4 721.5 1167.2C728.1 1172 734.7 1178.4 741.3 1183.6C747.9 1188.7 754.5 1194.6 761.1 1197.9C767.7 1201.2 774.3 1203.8 780.8 1203.4C787.4 1203 794 1200.5 800.6 1195.4C807.2 1190.3 813.8 1182.5 820.4 1172.8C827 1163 833.6 1150.1 840.2 1136.8C846.7 1123.5 853.3 1108.4 859.9 1093.1C866.5 1077.7 874.8 1056.6 879.7 1044.5C884.6 1032.5 887.9 1024.6 889.6 1020.7" fill="none" stroke="#4da0f2" stroke-width="2.4"/>
<path d="M494.2 1011.9C495.8 1015.8 499.1 1024.6 504 1035.7C509 1046.8 517.2 1066.2 523.8 1078.5C530.4 1090.8 537 1101.4 543.6 1109.4C550.2 1117.4 556.8 1122.8 563.4 1126.2C569.9 1129.7 576.5 1130.9 583.1 1130C589.7 1129.1 596.3 1125.7 602.9 1120.7C609.5 1115.8 616.1 1108.2 622.7 1100.4C629.3 1092.5 635.9 1082.5 642.4 1073.5C649 1064.4 655.6 1054.7 662.2 1046.3C668.8 1037.9 675.4 1029.6 682 1023.2C688.6 1016.7 695.2 1011.2 701.8 1007.6C708.3 1004 714.9 1002.5 721.5 1001.8C728.1 1001.1 734.7 1002.6 741.3 1003.6C747.9 1004.5 754.5 1007.3 761.1 1007.6C767.7 1007.9 774.3 1008.1 780.8 1005.6C787.4 1003 794 998.2 800.6 992.3C807.2 986.3 813.8 979.1 820.4 969.9C827 960.7 835.9 944.1 840.2 937C844.4 929.8 845.1 928.8 846.1 927.1" fill="none" stroke="#2d55e2" stroke-width="2.4"/>
<path d="M504 1063.2l6.8 12.5h-13.6ZM523.8 1108.9l6.8 12.5h-13.6ZM543.6 1147.4l6.8 12.5h-13.6ZM563.4 1173.8l6.8 12.5h-13.6ZM583.1 1187.6l6.8 12.5h-13.6ZM602.9 1189.6l6.8 12.5h-13.6ZM622.7 1180.8l6.8 12.5h-13.6ZM642.4 1165.8l6.8 12.5h-13.6ZM662.2 1151.2l6.8 12.5h-13.6ZM682 1143.6l6.8 12.5h-13.6ZM701.8 1146.9l6.8 12.5h-13.6ZM721.5 1159.5l6.8 12.5h-13.6ZM741.3 1175.8l6.8 12.5h-13.6ZM761.1 1190.1l6.8 12.5h-13.6ZM780.8 1195.7l6.8 12.5h-13.6ZM800.6 1187.6l6.8 12.5h-13.6ZM820.4 1165l6.8 12.5h-13.6ZM840.2 1129.1l6.8 12.5h-13.6ZM859.9 1085.3l6.8 12.5h-13.6ZM879.7 1036.8l6.8 12.5h-13.6Z" fill="#4da0f2"/>
<path d="M504 1028.3l6.6 12h-13.2ZM523.8 1071l6.6 12h-13.2ZM543.6 1102l6.6 12h-13.2ZM563.4 1118.8l6.6 12h-13.2ZM583.1 1122.6l6.6 12h-13.2ZM602.9 1113.3l6.6 12h-13.2ZM622.7 1092.9l6.6 12h-13.2ZM642.4 1066l6.6 12h-13.2ZM662.2 1038.9l6.6 12h-13.2ZM682 1015.7l6.6 12h-13.2ZM701.8 1000.2l6.6 12h-13.2ZM721.5 994.4l6.6 12h-13.2ZM741.3 996.1l6.6 12h-13.2ZM761.1 1000.2l6.6 12h-13.2ZM780.8 998.1l6.6 12h-13.2ZM800.6 984.8l6.6 12h-13.2ZM820.4 962.4l6.6 12h-13.2ZM840.2 929.5l6.6 12h-13.2Z" fill="none" stroke="#2d55e2" stroke-width="1.9"/>
<path d="M692.2 928.1L692.2 1223.5" stroke="#14143a" stroke-width="2" stroke-dasharray="9 8.5"/>
<path d="M494.2 927.1V1223.5H889.6V927.1" fill="none" stroke="#1a1a2e" stroke-width="2"/>
<path d="M494.2 927.1h14M889.6 927.1h-14M494.2 960h14M889.6 960h-14M494.2 993h14M889.6 993h-14M494.2 1025.9h14M889.6 1025.9h-14M494.2 1058.8h14M889.6 1058.8h-14M494.2 1091.8h14M889.6 1091.8h-14M494.2 1124.7h14M889.6 1124.7h-14M494.2 1157.6h14M889.6 1157.6h-14M494.2 1190.6h14M889.6 1190.6h-14M593 1223.5v-14M790.8 1223.5v-14" fill="none" stroke="#22223a" stroke-width="1.4"/>
<text x="481.6" y="934.7" class="hv" text-anchor="end">−5</text>
<text x="481.6" y="967.6" class="hv" text-anchor="end">−6</text>
<text x="481.6" y="1000.6" class="hv" text-anchor="end">−7</text>
<text x="481.6" y="1033.5" class="hv" text-anchor="end">−8</text>
<text x="481.6" y="1066.4" class="hv" text-anchor="end">−9</text>
<text x="481.6" y="1099.4" class="hv" text-anchor="end">−10</text>
<text x="481.6" y="1132.3" class="hv" text-anchor="end">−11</text>
<text x="481.6" y="1165.2" class="hv" text-anchor="end">−12</text>
<text x="481.6" y="1198.2" class="hv" text-anchor="end">−13</text>
<text x="481.6" y="1231.1" class="hv" text-anchor="end">−14</text>
<text x="493.2" y="1251" class="hv" text-anchor="middle">−1</text>
<text x="593.5" y="1251" class="hv" text-anchor="middle">−0.5</text>
<text x="694.2" y="1251" class="hv" text-anchor="middle">0</text>
<text x="793" y="1251" class="hv" text-anchor="middle">0.5</text>
<text x="892.6" y="1251" class="hv" text-anchor="middle">1</text>
<text x="691.5" y="1279.5" class="hv" text-anchor="middle">δ<tspan font-size="14.5" dy="4.5">min</tspan><tspan dy="-4.5"> (Å)</tspan></text>
<text transform="translate(441.4 1076) rotate(-90)" class="hv" text-anchor="middle">ΔF/k<tspan font-size="14.5" dy="4.5">B</tspan><tspan dy="-4.5">T</tspan></text>
<text x="623.6" y="1025.2" font-size="19.3" style="fill:#2d55e2" textLength="42.8" lengthAdjust="spacingAndGlyphs" font-weight="bold">intra</text>
<text x="707.8" y="1141.8" font-size="19.3" style="fill:#4da0f2" textLength="42.8" lengthAdjust="spacingAndGlyphs" font-weight="bold">inter</text>
<text x="746.3" y="993.8" class="hv">0.2</text>
<text x="601.5" y="1079" class="hv">4.0</text>
<text x="603.5" y="1174" class="hv">1.4</text>
<text x="742.5" y="1174.8" class="hv">1.6</text>
<path d="M416.6 1304.5L416.6 1556.2" stroke="#444" stroke-width="1.6"/>
<path d="M434.5 1551.9L926.5 1551.9" stroke="#111" stroke-width="2.6" stroke-dasharray="2.6 4.47"/>
<g stroke="#aab6b5" stroke-width="11.5" fill="none"><path d="M559 1316.8L559 1362.4"/><path d="M507.1 1388.4L559 1362.4"/><path d="M507.1 1388.4L506.5 1435"/><path d="M506.5 1435L559 1459.1"/><path d="M559 1459.1L559 1505.3"/></g><g stroke="#000" stroke-width="1.6"><circle cx="559" cy="1316.8" r="17.9" fill="#b3bfbe"/><circle cx="507.1" cy="1388.4" r="17.3" fill="#b3bfbe"/><circle cx="559" cy="1459.1" r="17.9" fill="#b3bfbe"/><circle cx="559" cy="1362.4" r="17.5" fill="#ff1500"/><circle cx="506.5" cy="1435" r="17.5" fill="#ff1500"/><circle cx="559" cy="1505.3" r="17.5" fill="#ff1500"/><circle cx="470.9" cy="1375.2" r="11.7" fill="#fff"/><circle cx="496.7" cy="1375.2" r="17" fill="#f7ee1f"/><circle cx="560.8" cy="1443.1" r="17" fill="#f7ee1f"/><circle cx="510.5" cy="1389.9" r="11.7" fill="#fff"/><circle cx="582" cy="1440.8" r="11.7" fill="#fff"/></g><path d="M523.1 1403.5L546.7 1426.1" stroke="#000" stroke-width="2.6" stroke-dasharray="2.6 3.2"/>
<g stroke="#aab6b5" stroke-width="11.5" fill="none"><path d="M844.6 1316.8L844.6 1362.4"/><path d="M792.3 1388.4L844.6 1362.4"/><path d="M792.3 1388.4L792 1435"/><path d="M792 1435L844.6 1459.1"/><path d="M844.6 1459.1L844.6 1505.3"/></g><g stroke="#000" stroke-width="1.6"><circle cx="844.6" cy="1316.8" r="17.9" fill="#b3bfbe"/><circle cx="792.3" cy="1388.4" r="17.3" fill="#b3bfbe"/><circle cx="844.6" cy="1459.1" r="17.9" fill="#b3bfbe"/><circle cx="844.6" cy="1362.4" r="17.5" fill="#ff1500"/><circle cx="792" cy="1435" r="17.5" fill="#ff1500"/><circle cx="844.6" cy="1505.3" r="17.5" fill="#ff1500"/><circle cx="756.1" cy="1375.8" r="11.7" fill="#fff"/><circle cx="833.8" cy="1427.1" r="11.7" fill="#fff"/><circle cx="781.6" cy="1376.2" r="17" fill="#f7ee1f"/><circle cx="845.1" cy="1443.7" r="17" fill="#f7ee1f"/><circle cx="866.8" cy="1441.2" r="11.7" fill="#fff"/></g><path d="M797 1394L823.5 1418.6" stroke="#000" stroke-width="2.6" stroke-dasharray="2.6 3.2"/>
<text x="490.1" y="1347.9" class="hv" font-size="18.4">O*H<tspan font-size="13" dy="4.5">2</tspan></text>
<text x="552.7" y="1421" class="hv" font-size="18.4">O*H<tspan font-size="13" dy="-7">−</tspan></text>
<text x="582.5" y="1468.5" class="hv" font-size="18.4">PHC</text>
<text x="746.7" y="1351.3" class="hv" font-size="18.4">O*H<tspan font-size="13" dy="-7">−</tspan></text>
<text x="846.7" y="1420.5" class="hv" font-size="18.4">O*H<tspan font-size="13" dy="4.5">2</tspan></text>
<text x="734.3" y="1410.7" class="hv" font-size="18.4">PHC</text>
<text x="427" y="1456.8" class="hv" font-size="18.4">[0001]</text>
<path d="M468.5 1440.3L474.5 1440.3" stroke="#222" stroke-width="1.3"/>
<text x="530.7" y="1543.6" class="hv" font-size="18.4">[1100]</text>
<path d="M548 1527L554.5 1527" stroke="#222" stroke-width="1.3"/>
<path d="M453 1474V1537.4H515" fill="none" stroke="#000" stroke-width="2"/>
<path d="M453 1462l6 15h-12ZM528 1537.4l-15 6v-12Z" fill="#000"/>
<text x="653.4" y="1385.2" font-size="19.3" style="fill:#3b6cf6" textLength="42.8" lengthAdjust="spacingAndGlyphs" font-weight="bold">intra</text>
<path d="M623 1394.5H712M638 1406H726.7" stroke="#3b6cf6" stroke-width="3" fill="none"/>
<path d="M727 1394.5l-19-7.2l3 7.2l-3 7.2ZM622.7 1406l19-7.2l-3 7.2l3 7.2Z" fill="#3b6cf6"/></g>
<g id="panel-d"><rect x="1034.3" y="887" width="1057.2" height="697.8" fill="none" stroke="#000" stroke-width="4.8"/>
<g clip-path="url(#db0)"><path d="M1081 1082C1085.8 1081.7 1100.2 1081.7 1110 1080C1119.8 1078.3 1126.7 1076 1140 1072C1153.3 1068 1175 1059.7 1190 1056C1205 1052.3 1216.5 1051 1230 1050C1243.5 1049 1264.2 1050 1271 1050L1271 1075C1257.5 1075.8 1211.8 1077.5 1190 1080C1168.2 1082.5 1158.2 1086.7 1140 1090C1121.8 1093.3 1090.8 1098.3 1081 1100Z" fill="#ececf2" fill-opacity=".8"/><g stroke-linecap="round" fill="none"><path id="s37" d="M1116.8 1142.8h0M1114.6 1155.5h0M1209.8 1119h0M1196.2 1121.4h0M1240.2 1124.7h0M1228.3 1120.6h0M1182.6 1098.1h0M1170.2 1096.7h0M1071.1 1122h0M1080 1112.6h0M1196.3 1076.9h0M1184.4 1070.1h0M1225.1 1082.9h0M1238.3 1077.5h0M1130.3 1081.1h0M1127.2 1093.8h0M1281.1 1145.2h0M1271.8 1153.1h0M1248.7 1122h0M1256.5 1133.6h0M1263.2 1108.5h0M1256 1098.7h0M1110.9 1171.7h0M1099.4 1177.3h0M1173.1 1123.1h0M1169.8 1136.1h0M1138.2 1121h0M1148.7 1117.3h0M1260.7 1158.7h0M1274.2 1159.1h0M1233.5 1145.7h0M1224.5 1156.1h0M1183.7 1143.9h0M1193.8 1137.5h0M1107.1 1122.6h0M1109.2 1134h0M1153.6 1116.9h0M1151.3 1106h0M1091.6 1098.5h0M1077.6 1101.4h0M1218.8 1167.4h0M1226.1 1178.5h0M1121.9 1102h0M1110.9 1108.2h0M1138.2 1168.5h0M1149.1 1161.3h0M1094.1 1167.5h0M1083.2 1159.1h0M1229.4 1109.3h0M1222.3 1098.2h0M1210.2 1130.2h0M1219.9 1138.2h0M1247.5 1176.8h0M1250.4 1163.8h0M1273.4 1123.9h0M1265.7 1135.3h0M1241.1 1075.2h0M1252.2 1067.9h0M1243.6 1054.3h0M1248.6 1066.6h0"/><use href="#s37" stroke="#d8d8d8" stroke-width="8.8"/><use href="#s37" stroke="#f6f6f6" stroke-width="6.9" transform="translate(-0.5 -0.5)"/><use href="#s37" stroke="#ffffff" stroke-width="2.6" transform="translate(-1.4 -1.5)"/></g><g stroke-linecap="round" fill="none"><path id="s38" d="M1110.7 1148.3h0M1202.3 1115.8h0M1236 1117.7h0M1177 1092.2h0M1079.2 1120.8h0M1192.6 1069.6h0M1233.2 1084h0M1123.9 1086.3h0M1272.9 1144.9h0M1249.1 1130.2h0M1264 1100.4h0M1102.9 1169.9h0M1166.9 1128.5h0M1145.4 1124.8h0M1267.3 1163.6h0M1225.6 1148h0M1191.7 1145.4h0M1102.5 1129.3h0M1158.4 1110.2h0M1083.8 1096.1h0M1218.5 1175.5h0M1113.8 1100.5h0M1146.4 1169.1h0M1091.4 1159.8h0M1230 1101.1h0M1211.7 1138.3h0M1253.7 1171.4h0M1265.9 1127.1h0M1249.3 1075.5h0M1241.6 1062.3h0"/><use href="#s38" stroke="#e9a3a5" stroke-width="14"/><use href="#s38" stroke="#f2b5b6" stroke-width="10.9" transform="translate(-0.8 -0.8)"/><use href="#s38" stroke="#fbdada" stroke-width="4.2" transform="translate(-2.2 -2.4)"/></g><g stroke-linecap="round" fill="none"><path id="s39" d="M1125.9 1103.8h0M1156.2 1085.6h0M1085.7 1125.1h0M1261.9 1174.2h0M1221.3 1124h0M1132.6 1179.3h0M1177 1154.4h0M1234.3 1155.7h0M1247.1 1122.5h0M1156.9 1127.2h0M1251.7 1092.8h0M1186.3 1090.8h0M1230.5 1069.3h0M1205.3 1175.7h0M1075.5 1144.9h0M1161.7 1179.4h0"/><use href="#s39" stroke="#9a9a9a" stroke-width="9"/><use href="#s39" stroke="#f2f2f2" stroke-width="7" transform="translate(-0.5 -0.5)"/><use href="#s39" stroke="#ffffff" stroke-width="2.7" transform="translate(-1.4 -1.6)"/></g><g stroke-linecap="round" fill="none"><path id="s40" d="M1128.9 1111.5h0M1160.3 1092.7h0M1092.1 1120h0M1253.8 1174.5h0M1223.9 1116.2h0M1127.7 1172.7h0M1181 1147.2h0M1241.9 1152.6h0M1250.3 1130h0M1161.6 1134h0M1244.1 1095.8h0M1182.7 1098.2h0M1228.3 1061.5h0M1212.1 1171.2h0M1083.2 1142h0M1157.6 1172.3h0"/><use href="#s40" stroke="#8c1014" stroke-width="14"/><use href="#s40" stroke="#d8242a" stroke-width="10.9" transform="translate(-0.8 -0.8)"/><use href="#s40" stroke="#f68c86" stroke-width="4.2" transform="translate(-2.2 -2.4)"/></g><g stroke-linecap="round" fill="none"><path id="s41" d="M1136.9 1110.1h0M1168.5 1092.8h0M1089.5 1112.3h0M1255.1 1182.6h0M1217.2 1111.5h0M1120.8 1177h0M1174.7 1142h0M1243.6 1144.5h0M1258.5 1129.2h0M1168.7 1129.9h0M1245.2 1104h0M1187.6 1104.8h0M1220.1 1062.6h0M1208.1 1164h0M1081.4 1134h0M1149.8 1174.7h0"/><use href="#s41" stroke="#9a9a9a" stroke-width="9"/><use href="#s41" stroke="#f2f2f2" stroke-width="7" transform="translate(-0.5 -0.5)"/><use href="#s41" stroke="#ffffff" stroke-width="2.7" transform="translate(-1.4 -1.6)"/></g><path d="M1081 1068C1085.8 1067.5 1100.2 1066.5 1110 1065C1119.8 1063.5 1126.7 1061.8 1140 1059C1153.3 1056.2 1175 1050.5 1190 1048C1205 1045.5 1216.5 1044.6 1230 1044C1243.5 1043.4 1264.2 1044.4 1271 1044.5L1271 1050C1264.2 1050 1243.5 1049 1230 1050C1216.5 1051 1205 1052.3 1190 1056C1175 1059.7 1153.3 1068 1140 1072C1126.7 1076 1119.8 1078.3 1110 1080C1100.2 1081.7 1085.8 1081.7 1081 1082Z" fill="#a5a2da" fill-opacity=".9"/><g stroke-linecap="round" fill="none"><path id="s42" d="M1175.6 999.4h0M1199 997.4h0"/><use href="#s42" stroke="#2c3292" stroke-width="14"/><use href="#s42" stroke="#4a52ba" stroke-width="10.9" transform="translate(-0.8 -0.8)"/><use href="#s42" stroke="#8f96e0" stroke-width="4.2" transform="translate(-2.2 -2.4)"/></g><g stroke-linecap="round" fill="none"><path id="s43" d="M1165 990h0M1205 984.6h0M1171 1014h0M1187.6 1005.6h0M1190 996h0"/><use href="#s43" stroke="#c05058" stroke-width="14.8"/><use href="#s43" stroke="#e4545c" stroke-width="11.5" transform="translate(-0.9 -0.9)"/><use href="#s43" stroke="#f6a4a4" stroke-width="4.4" transform="translate(-2.4 -2.6)"/></g></g>
<g clip-path="url(#db1)"><g stroke-linecap="round" fill="none"><path id="s44" d="M1491.1 1172.9h0M1501.1 1164.8h0M1463.9 1152.4h0M1476.8 1155.2h0M1650.7 1140h0M1649.6 1152.2h0M1465.4 1137.5h0M1458.7 1126.3h0M1605.9 1112.5h0M1599.5 1125.2h0M1486.4 1105.5h0M1485 1118.9h0M1544.8 1162.3h0M1558.8 1164.9h0M1533.3 1107h0M1526.8 1096.7h0M1619.4 1168.5h0M1608.6 1160.3h0M1563 1094.7h0M1573.9 1103.3h0M1494.5 1127.8h0M1493.1 1115.4h0M1574 1124.6h0M1562.2 1119.6h0M1639.8 1156.8h0M1650.8 1162.6h0M1505.6 1083.9h0M1504.4 1095.5h0M1620.4 1132.6h0M1629.6 1141.4h0M1575.4 1137.3h0M1585.2 1130.8h0M1613.4 1111h0M1625.6 1113.5h0M1509.8 1123.1h0M1510.2 1110.3h0M1512.7 1144.3h0M1519.7 1134h0M1636.5 1076.2h0M1642.9 1088.8h0M1507.6 1092.9h0M1515.3 1081.5h0M1587.5 1147.2h0M1601 1144.2h0M1647.2 1136h0M1636.2 1131.3h0M1539.1 1157.2h0M1535.3 1145.1h0M1608.6 1144.9h0M1596.2 1138.5h0M1570.4 1162.1h0M1572.7 1174.7h0M1643.4 1109.8h0M1655.1 1102.9h0M1616.8 1080.9h0M1624.8 1092.3h0M1572.7 1158.2h0M1584.1 1151.3h0M1627.2 1110.2h0M1640.3 1107.9h0"/><use href="#s44" stroke="#d8d8d8" stroke-width="8.8"/><use href="#s44" stroke="#f6f6f6" stroke-width="6.9" transform="translate(-0.5 -0.5)"/><use href="#s44" stroke="#ffffff" stroke-width="2.6" transform="translate(-1.4 -1.5)"/></g><g stroke-linecap="round" fill="none"><path id="s45" d="M1499.3 1172.8h0M1469.3 1158.5h0M1644.7 1145.6h0M1466.3 1129.3h0M1599 1117h0M1481 1111.7h0M1551.1 1167.6h0M1534.7 1098.9h0M1616.8 1160.8h0M1565.7 1102.5h0M1499.1 1121h0M1570.1 1117.4h0M1642.8 1164.4h0M1499.3 1089.1h0M1621.4 1140.7h0M1583.4 1138.8h0M1618.5 1117.5h0M1515.1 1116.8h0M1520.6 1142.2h0M1636 1084.4h0M1515.2 1089.7h0M1595.2 1150h0M1643.9 1128.5h0M1542.2 1149.6h0M1604.4 1137.8h0M1566.5 1169.3h0M1651.6 1110.3h0M1617.2 1089.1h0M1580.9 1158.8h0M1634.6 1113.8h0"/><use href="#s45" stroke="#e9a3a5" stroke-width="14"/><use href="#s45" stroke="#f2b5b6" stroke-width="10.9" transform="translate(-0.8 -0.8)"/><use href="#s45" stroke="#fbdada" stroke-width="4.2" transform="translate(-2.2 -2.4)"/></g><g stroke-linecap="round" fill="none"><path id="s46" d="M1472 1118.3h0M1491.8 1129.4h0M1616.8 1128h0M1488.4 1081.3h0M1551.9 1137.7h0M1469.8 1154.1h0M1651.5 1128.1h0M1604.6 1155.6h0M1585.6 1117.7h0M1559.1 1111.9h0M1574.6 1140.7h0M1575.9 1154.5h0M1662 1116h0M1540.6 1100.9h0M1584.4 1150.1h0M1492.8 1109h0M1537.4 1169.3h0"/><use href="#s46" stroke="#9a9a9a" stroke-width="9"/><use href="#s46" stroke="#f2f2f2" stroke-width="7" transform="translate(-0.5 -0.5)"/><use href="#s46" stroke="#ffffff" stroke-width="2.7" transform="translate(-1.4 -1.6)"/></g><g stroke-linecap="round" fill="none"><path id="s47" d="M1478.7 1123h0M1497.3 1135.5h0M1621.4 1121.2h0M1488.1 1089.5h0M1545 1142.1h0M1467.7 1146.2h0M1643.3 1129h0M1612.8 1156.1h0M1589.4 1125h0M1558 1120h0M1567.4 1136.8h0M1576.8 1162.7h0M1656.1 1110.3h0M1539.3 1092.9h0M1592 1147h0M1501 1107.8h0M1534.8 1161.5h0"/><use href="#s47" stroke="#8c1014" stroke-width="14"/><use href="#s47" stroke="#d8242a" stroke-width="10.9" transform="translate(-0.8 -0.8)"/><use href="#s47" stroke="#f68c86" stroke-width="4.2" transform="translate(-2.2 -2.4)"/></g><g stroke-linecap="round" fill="none"><path id="s48" d="M1484.3 1117.1h0M1505 1132.6h0M1614.7 1116.3h0M1495.4 1093.3h0M1548.1 1149.7h0M1460 1148.9h0M1642.3 1137.1h0M1615.9 1148.5h0M1597.1 1122.4h0M1565.2 1124h0M1560.7 1141.6h0M1584.9 1164.4h0M1649.5 1115.1h0M1531.4 1090.5h0M1590.7 1138.9h0M1501.3 1099.6h0M1526.6 1162.7h0"/><use href="#s48" stroke="#9a9a9a" stroke-width="9"/><use href="#s48" stroke="#f2f2f2" stroke-width="7" transform="translate(-0.5 -0.5)"/><use href="#s48" stroke="#ffffff" stroke-width="2.7" transform="translate(-1.4 -1.6)"/></g><path d="M1465 1064C1474.2 1063.8 1504.2 1062.3 1520 1063C1535.8 1063.7 1546.7 1066.8 1560 1068C1573.3 1069.2 1588.3 1071 1600 1070C1611.7 1069 1620.8 1065.2 1630 1062C1639.2 1058.8 1650.8 1052.8 1655 1051L1655 1060C1650.8 1062.5 1637.5 1070 1630 1075C1622.5 1080 1617.5 1085.8 1610 1090C1602.5 1094.2 1593.3 1099.7 1585 1100C1576.7 1100.3 1569.2 1095.5 1560 1092C1550.8 1088.5 1540 1081.8 1530 1079C1520 1076.2 1510.8 1075.5 1500 1075C1489.2 1074.5 1470.8 1075.8 1465 1076Z" fill="url(#sf1)" fill-opacity=".88"/><g stroke-linecap="round" fill="none"><path id="s49" d="M1552.6 1085h0M1569 1105h0"/><use href="#s49" stroke="#2c3292" stroke-width="14"/><use href="#s49" stroke="#4a52ba" stroke-width="10.9" transform="translate(-0.8 -0.8)"/><use href="#s49" stroke="#8f96e0" stroke-width="4.2" transform="translate(-2.2 -2.4)"/></g><g stroke-linecap="round" fill="none"><path id="s50" d="M1549 1070h0M1551 1101h0M1581 1104h0M1569.6 1115h0"/><use href="#s50" stroke="#8c1014" stroke-width="14.8"/><use href="#s50" stroke="#d8242a" stroke-width="11.5" transform="translate(-0.9 -0.9)"/><use href="#s50" stroke="#f68c86" stroke-width="4.4" transform="translate(-2.4 -2.6)"/></g><g stroke-linecap="round" fill="none"><path id="s51" d="M1507 1077h0M1622 1083h0M1640 1050h0"/><use href="#s51" stroke="#8c1014" stroke-width="14"/><use href="#s51" stroke="#d8242a" stroke-width="10.9" transform="translate(-0.8 -0.8)"/><use href="#s51" stroke="#f68c86" stroke-width="4.2" transform="translate(-2.2 -2.4)"/></g></g>
<g clip-path="url(#db2)"><g stroke-linecap="round" fill="none"><path id="s52" d="M1911.7 1119.7h0M1918.5 1108.3h0M2035.9 1144.1h0M2024.8 1137.1h0M1886.3 1124.5h0M1894.9 1113.4h0M1891.7 1175.6h0M1890.5 1163.6h0M1912.4 1152.3h0M1922.2 1143.9h0M1939.6 1163h0M1936.7 1149.7h0M1953.4 1117.9h0M1965.9 1122.8h0M2009.3 1157h0M2018.8 1146.4h0M2021.6 1170h0M2027.4 1157.9h0M1875.1 1161.1h0M1886.2 1153.9h0M2037.1 1120h0M2046.1 1111.1h0M1901.2 1131.1h0M1906.1 1118.7h0M2001.8 1152.5h0M2007.3 1164.1h0M2008.3 1179.2h0M2011.7 1168h0M1958 1166.7h0M1962.5 1177.9h0M1974.7 1132.6h0M1984.3 1122.4h0M1873.9 1133.6h0M1881.4 1122.6h0M2004.8 1095.7h0M2011.4 1106.8h0M1987.1 1102.6h0M1980.7 1112.1h0M1929.5 1133.4h0M1931.6 1120.7h0M1903.5 1159.9h0M1898.5 1146.8h0M2027.2 1118.4h0M2013.5 1119.8h0M1929.7 1168.9h0M1924.8 1179.8h0M1863.3 1162.4h0M1867.2 1173.3h0M2048.3 1176.6h0M2038.4 1166.7h0M1967 1109.7h0M1954 1105.4h0M1863.1 1159.5h0M1852.8 1151.9h0M2008.3 1139h0M1999.9 1148.9h0"/><use href="#s52" stroke="#d8d8d8" stroke-width="8.8"/><use href="#s52" stroke="#f6f6f6" stroke-width="6.9" transform="translate(-0.5 -0.5)"/><use href="#s52" stroke="#ffffff" stroke-width="2.6" transform="translate(-1.4 -1.5)"/></g><g stroke-linecap="round" fill="none"><path id="s53" d="M1919.3 1116.4h0M2033 1136.4h0M1893.9 1121.5h0M1896.7 1169.1h0M1920.6 1151.9h0M1942.7 1155.4h0M1957.9 1124.7h0M2017.1 1154.5h0M2028.7 1166h0M1883.3 1161.6h0M2045.3 1119.3h0M1908.1 1126.7h0M2000 1160.5h0M2015.5 1175.3h0M1955.1 1174.3h0M1982.6 1130.4h0M1881.6 1130.8h0M2003.8 1103.9h0M1979.1 1104h0M1935.5 1127.9h0M1905 1151.8h0M2019.9 1114.7h0M1922.2 1172.1h0M1859.8 1169.8h0M2046.3 1168.6h0M1961.9 1103.3h0M1861 1151.6h0M2000.3 1140.7h0"/><use href="#s53" stroke="#e9a3a5" stroke-width="14"/><use href="#s53" stroke="#f2b5b6" stroke-width="10.9" transform="translate(-0.8 -0.8)"/><use href="#s53" stroke="#fbdada" stroke-width="4.2" transform="translate(-2.2 -2.4)"/></g><g stroke-linecap="round" fill="none"><path id="s54" d="M2008.8 1146h0M2038.2 1120.3h0M1993.8 1173.2h0M1959.8 1177.3h0M1876.7 1173.9h0M1900.2 1156h0M1930.7 1136.6h0M1910 1136h0M2031.8 1153.6h0M1980.9 1100.3h0M2001.5 1128.1h0M1930.8 1101.6h0M2040.3 1171.6h0M1963.3 1152h0M1930.7 1155.2h0"/><use href="#s54" stroke="#9a9a9a" stroke-width="9"/><use href="#s54" stroke="#f2f2f2" stroke-width="7" transform="translate(-0.5 -0.5)"/><use href="#s54" stroke="#ffffff" stroke-width="2.7" transform="translate(-1.4 -1.6)"/></g><g stroke-linecap="round" fill="none"><path id="s55" d="M2001.6 1149.9h0M2035.8 1128.2h0M1985.9 1175.1h0M1957.9 1169.4h0M1873.4 1166.4h0M1906.6 1161h0M1937.5 1141.1h0M1903.4 1131.2h0M2023.7 1152.8h0M1977.5 1107.8h0M2007.3 1122.2h0M1939 1101h0M2048.4 1172.4h0M1970.9 1154.9h0M1932.3 1163.2h0"/><use href="#s55" stroke="#8c1014" stroke-width="14"/><use href="#s55" stroke="#d8242a" stroke-width="10.9" transform="translate(-0.8 -0.8)"/><use href="#s55" stroke="#f68c86" stroke-width="4.2" transform="translate(-2.2 -2.4)"/></g><g stroke-linecap="round" fill="none"><path id="s56" d="M2005.5 1157.2h0M2041.6 1134h0M1985.9 1183.3h0M1949.7 1169.4h0M1865.9 1169.8h0M1913.4 1156.4h0M1942.1 1134.4h0M1897.7 1137.2h0M2021.5 1160.7h0M1983.3 1113.6h0M2003.2 1115.1h0M1938.4 1092.8h0M2053.7 1166.2h0M1975 1147.8h0M1940.4 1164.4h0"/><use href="#s56" stroke="#9a9a9a" stroke-width="9"/><use href="#s56" stroke="#f2f2f2" stroke-width="7" transform="translate(-0.5 -0.5)"/><use href="#s56" stroke="#ffffff" stroke-width="2.7" transform="translate(-1.4 -1.6)"/></g><path d="M1857 1102C1860.8 1101.7 1872 1102 1880 1100C1888 1098 1896.7 1093.2 1905 1090C1913.3 1086.8 1920.8 1083 1930 1081C1939.2 1079 1950 1077.8 1960 1078C1970 1078.2 1980 1080.7 1990 1082C2000 1083.3 2010.3 1085.8 2020 1086C2029.7 1086.2 2043.3 1083.5 2048 1083L2048 1106C2043.3 1105.5 2029.7 1105 2020 1103C2010.3 1101 2000 1096 1990 1094C1980 1092 1970 1090.8 1960 1091C1950 1091.2 1939.2 1092.2 1930 1095C1920.8 1097.8 1913.3 1102.2 1905 1108C1896.7 1113.8 1888 1124.7 1880 1130C1872 1135.3 1860.8 1138.3 1857 1140Z" fill="#9a96d6" fill-opacity=".85"/><g stroke-linecap="round" fill="none"><path id="s57" d="M1936.5 1089.5h0M1975.2 1085.7h0"/><use href="#s57" stroke="#2c3292" stroke-width="14"/><use href="#s57" stroke="#4a52ba" stroke-width="10.9" transform="translate(-0.8 -0.8)"/><use href="#s57" stroke="#8f96e0" stroke-width="4.2" transform="translate(-2.2 -2.4)"/></g><g stroke-linecap="round" fill="none"><path id="s58" d="M1922.7 1086.7h0M1944.6 1081h0M1980.8 1072h0M1963.9 1091.4h0M1980.5 1100.8h0M1938.4 1111.2h0"/><use href="#s58" stroke="#8c1014" stroke-width="14.8"/><use href="#s58" stroke="#d8242a" stroke-width="11.5" transform="translate(-0.9 -0.9)"/><use href="#s58" stroke="#f68c86" stroke-width="4.4" transform="translate(-2.4 -2.6)"/></g></g>
<g clip-path="url(#db3)"><g stroke-linecap="round" fill="none"><path id="s59" d="M1570.5 1439.4h0M1583.8 1443.3h0M1581.9 1427.9h0M1579 1415.2h0M1616 1443.7h0M1607.5 1451.5h0M1607 1432.5h0M1595 1427.3h0M1467.4 1415.5h0M1478 1423.9h0M1620.5 1449.2h0M1628.3 1438h0M1556.7 1503.4h0M1562.2 1493.7h0M1660.3 1414.1h0M1656.6 1426.2h0M1605 1503.5h0M1591.8 1504.5h0M1506.3 1466.7h0M1506.5 1454.1h0M1516.5 1487.7h0M1504.6 1488.3h0M1496.8 1418h0M1507.4 1410h0M1560.4 1479h0M1559.8 1492.9h0M1592.1 1524.7h0M1579.9 1520.9h0M1500.7 1457.3h0M1498.8 1470h0M1558.9 1436.4h0M1563 1449h0M1648.5 1412.9h0M1635.8 1414.1h0M1586.1 1478.2h0M1596 1488.6h0M1499.6 1509.1h0M1511.8 1507.7h0M1638.5 1505.9h0M1644.6 1495.4h0M1531.9 1506h0M1523.2 1515.8h0M1486.7 1446.2h0M1480.5 1435h0M1548.2 1511.3h0M1549.7 1524.8h0M1522.4 1467.1h0M1535.1 1466.1h0M1625.7 1430.6h0M1634.3 1420.2h0M1485.1 1397.6h0M1491.5 1387.1h0M1611.3 1424.8h0M1615.7 1413.4h0M1585.9 1461.6h0M1598.7 1456.6h0M1556.1 1461.9h0M1568.9 1457.9h0M1636.7 1453.9h0M1640.3 1464.6h0"/><use href="#s59" stroke="#d8d8d8" stroke-width="8.8"/><use href="#s59" stroke="#f6f6f6" stroke-width="6.9" transform="translate(-0.5 -0.5)"/><use href="#s59" stroke="#ffffff" stroke-width="2.6" transform="translate(-1.4 -1.5)"/></g><g stroke-linecap="round" fill="none"><path id="s60" d="M1575.9 1445.6h0M1585.3 1420.4h0M1607.8 1443.3h0M1603 1425.3h0M1469.8 1423.3h0M1628.1 1446.2h0M1564.7 1501.6h0M1653.5 1418.6h0M1598 1499.3h0M1511.6 1460.5h0M1510.2 1482.3h0M1505 1417.8h0M1555.7 1485.8h0M1587.5 1517.8h0M1494.7 1462.9h0M1556.3 1444.2h0M1641.6 1408.4h0M1588.2 1486.1h0M1506.3 1513.7h0M1646.3 1503.4h0M1523.9 1507.7h0M1488.1 1438.1h0M1544.4 1518.5h0M1529.2 1471.8h0M1633.6 1428.4h0M1492.9 1395.1h0M1618.6 1421.1h0M1593.9 1463.2h0M1563.9 1464.3h0M1632.9 1461.1h0"/><use href="#s60" stroke="#e9a3a5" stroke-width="14"/><use href="#s60" stroke="#f2b5b6" stroke-width="10.9" transform="translate(-0.8 -0.8)"/><use href="#s60" stroke="#fbdada" stroke-width="4.2" transform="translate(-2.2 -2.4)"/></g><g stroke-linecap="round" fill="none"><path id="s61" d="M1478.8 1452.6h0M1638.9 1521.6h0M1548 1437.7h0M1647.1 1436.6h0M1474.2 1425h0M1551.5 1497.4h0M1610.6 1456.9h0M1491.7 1481.3h0M1563.4 1529.1h0M1613.9 1493.9h0M1544.2 1421.7h0M1620.1 1505.2h0M1577.2 1497.4h0M1458.6 1478h0M1483.9 1401.3h0M1480.2 1501.5h0M1650 1468.8h0"/><use href="#s61" stroke="#9a9a9a" stroke-width="9"/><use href="#s61" stroke="#f2f2f2" stroke-width="7" transform="translate(-0.5 -0.5)"/><use href="#s61" stroke="#ffffff" stroke-width="2.7" transform="translate(-1.4 -1.6)"/></g><g stroke-linecap="round" fill="none"><path id="s62" d="M1471 1455.2h0M1647.1 1520.7h0M1545.8 1445.7h0M1645.3 1428.6h0M1466.2 1423.2h0M1554.5 1489.7h0M1604.6 1451.4h0M1496.9 1487.6h0M1562.6 1521h0M1621.3 1490.4h0M1536.1 1423.1h0M1612.3 1507.4h0M1574.1 1504.9h0M1466.8 1477.9h0M1477.8 1395.8h0M1478 1509.4h0M1656.2 1463.4h0"/><use href="#s62" stroke="#8c1014" stroke-width="14"/><use href="#s62" stroke="#d8242a" stroke-width="10.9" transform="translate(-0.8 -0.8)"/><use href="#s62" stroke="#f68c86" stroke-width="4.2" transform="translate(-2.2 -2.4)"/></g><g stroke-linecap="round" fill="none"><path id="s63" d="M1471.6 1463.3h0M1648.4 1512.6h0M1553.2 1449.3h0M1637.1 1428.1h0M1459.9 1428.5h0M1548.8 1483.8h0M1598.2 1456.6h0M1502.9 1482h0M1554.4 1520.3h0M1620.6 1482.2h0M1535.5 1431.2h0M1612.8 1515.6h0M1580 1510.6h0M1467.1 1469.7h0M1469.9 1398.3h0M1483.4 1515.6h0M1652.1 1456.3h0"/><use href="#s63" stroke="#9a9a9a" stroke-width="9"/><use href="#s63" stroke="#f2f2f2" stroke-width="7" transform="translate(-0.5 -0.5)"/><use href="#s63" stroke="#ffffff" stroke-width="2.7" transform="translate(-1.4 -1.6)"/></g><path d="M1465 1364C1470.8 1365.3 1487.5 1369 1500 1372C1512.5 1375 1526.7 1379.8 1540 1382C1553.3 1384.2 1566.7 1385.7 1580 1385C1593.3 1384.3 1607.5 1381.5 1620 1378C1632.5 1374.5 1649.2 1366.3 1655 1364L1655 1377C1650.8 1379.5 1639.2 1386.8 1630 1392C1620.8 1397.2 1610.8 1404.2 1600 1408C1589.2 1411.8 1576.7 1415.5 1565 1415C1553.3 1414.5 1540.8 1408.8 1530 1405C1519.2 1401.2 1510.8 1395.8 1500 1392C1489.2 1388.2 1470.8 1383.7 1465 1382Z" fill="url(#sf1)" fill-opacity=".9"/><g stroke-linecap="round" fill="none"><path id="s64" d="M1572.9 1441.9h0M1546 1455.6h0"/><use href="#s64" stroke="#2c3292" stroke-width="14"/><use href="#s64" stroke="#4a52ba" stroke-width="10.9" transform="translate(-0.8 -0.8)"/><use href="#s64" stroke="#8f96e0" stroke-width="4.2" transform="translate(-2.2 -2.4)"/></g><g stroke-linecap="round" fill="none"><path id="s65" d="M1571.5 1426.6h0M1586.9 1447.1h0M1559.7 1453h0M1532.8 1447.1h0M1552.5 1464.8h0"/><use href="#s65" stroke="#8c1014" stroke-width="14.8"/><use href="#s65" stroke="#d8242a" stroke-width="11.5" transform="translate(-0.9 -0.9)"/><use href="#s65" stroke="#f68c86" stroke-width="4.4" transform="translate(-2.4 -2.6)"/></g></g>
<g clip-path="url(#db4)"><path d="M1903 1419.5L1928 1432.6M1903 1419.5L1895.3 1389.6M1928 1432.6L1945.2 1414.2M1928 1432.6L1939.7 1458.2M1976.5 1314.4L1979.1 1333.1M1976.5 1314.4L1961.9 1302.5M1860.4 1483.9L1861.7 1435.2M1860.4 1483.9L1913.6 1468.8M1907.1 1351.5L1883.7 1347.7M1907.1 1351.5L1935.7 1333.1M2046.7 1403.3L2027.9 1383M2046.7 1403.3L2029.4 1425M2016.5 1404.6L2029.4 1425M2016.5 1404.6L2027.9 1383M1979.1 1333.1L1976.5 1314.4M1979.1 1333.1L1993.2 1346.4M1978.3 1490.6L1993.3 1502.3M1978.3 1490.6L1957.1 1462.8M1957.1 1462.8L1939.7 1458.2M1957.1 1462.8L1932.8 1475.9M2001.7 1429.8L1980 1430.8M2001.7 1429.8L2029.4 1425M1915 1306.8L1935.7 1333.1M1915 1306.8L1907.1 1351.5M1993.3 1502.3L1978.3 1490.6M1993.3 1502.3L2020.3 1517.6M1932.8 1475.9L1939.7 1458.2M1932.8 1475.9L1913.6 1468.8M1942.2 1505.5L1953.7 1519.3M1942.2 1505.5L1917.4 1510.5M2024.5 1321.4L1993.2 1346.4M2024.5 1321.4L1979.1 1333.1M1883.7 1347.7L1907.1 1351.5M1883.7 1347.7L1895.3 1389.6M1976.7 1366.1L1994.1 1372.7M1976.7 1366.1L1993.2 1346.4M1954.1 1384.7L1976.7 1366.1M1954.1 1384.7L1945.2 1414.2M2020.3 1517.6L1993.3 1502.3M2020.3 1517.6L1978.3 1490.6M2029.4 1425L2016.5 1404.6M2029.4 1425L2046.7 1403.3M1993.2 1346.4L1979.1 1333.1M1993.2 1346.4L1976.7 1366.1M1935.7 1333.1L1915 1306.8M1935.7 1333.1L1907.1 1351.5M1913.6 1468.8L1932.8 1475.9M1913.6 1468.8L1939.7 1458.2M1994.1 1372.7L1976.7 1366.1M1994.1 1372.7L1993.2 1346.4M1953.7 1519.3L1942.2 1505.5M1953.7 1519.3L1917.4 1510.5M1895.3 1389.6L1903 1419.5M1895.3 1389.6L1907.1 1351.5M1917.4 1510.5L1942.2 1505.5M1917.4 1510.5L1953.7 1519.3M2027.9 1383L2016.5 1404.6M2027.9 1383L2046.7 1403.3M1945.2 1414.2L1928 1432.6M1945.2 1414.2L1954.1 1384.7M1980 1430.8L2001.7 1429.8M1980 1430.8L1945.2 1414.2M1939.7 1458.2L1957.1 1462.8M1939.7 1458.2L1932.8 1475.9M1961.9 1302.5L1976.5 1314.4M1961.9 1302.5L1979.1 1333.1M1861.7 1435.2L1903 1419.5M1861.7 1435.2L1860.4 1483.9" stroke="#8fa0b4" stroke-width=".9" stroke-dasharray="1.4 2.2" fill="none"/><g stroke-linecap="round" fill="none"><path id="s66" d="M1897.2 1413.7h0M1910.4 1416h0M1922.6 1438.7h0M1923.6 1425.7h0M1984.7 1314.1h0M1972.8 1321.7h0M1868.2 1481.2h0M1860.3 1492.1h0M1899.9 1347.5h0M1912.9 1345.7h0M2043.9 1411h0M2040.4 1398h0M2014.3 1412.5h0M2010.1 1399.4h0M1987.1 1334.7h0M1975 1340.2h0M1976.1 1498.5h0M1972.3 1485h0M1958.7 1470.8h0M1949 1461.5h0M1997.8 1422.6h0M2009.8 1428.7h0M1910 1313.3h0M1909.1 1301.2h0M1997.4 1495.2h0M1998.7 1508.5h0M1929 1468.6h0M1940.4 1472.8h0M1944.7 1513.3h0M1934.1 1504.5h0M2026.6 1329.3h0M2016.3 1321.2h0M1887.7 1354.8h0M1875.5 1347.9h0M1972.4 1359.1h0M1984 1362.3h0M1960.2 1390.2h0M1946.5 1387.8h0M2019.7 1525.8h0M2012.6 1514.7h0M2022.4 1429.2h0M2028.8 1416.8h0M1999.1 1352.1h0M1985.1 1347.6h0M1942.7 1328.8h0M1939.8 1340.2h0M1921.7 1467.7h0M1915 1476.9h0M1995 1364.5h0M2002 1375.1h0M1945.5 1519h0M1956.3 1511.5h0M1897.9 1397.4h0M1887.2 1388.3h0M1914.5 1518.2h0M1909.6 1508h0M2035 1378.8h0M2029.4 1391h0M1952.4 1410.3h0M1948.1 1421.9h0M1988 1432.3h0M1978.3 1438.8h0M1936.6 1465.8h0M1932.8 1453.7h0M1954.2 1305.5h0M1959.9 1294.5h0M1858 1442.5h0M1857.1 1428.4h0"/><use href="#s66" stroke="#d8d8d8" stroke-width="8.8"/><use href="#s66" stroke="#f6f6f6" stroke-width="6.9" transform="translate(-0.5 -0.5)"/><use href="#s66" stroke="#ffffff" stroke-width="2.6" transform="translate(-1.4 -1.5)"/></g><g stroke-linecap="round" fill="none"><path id="s67" d="M1903 1419.5h0M1928 1432.6h0M1976.5 1314.4h0M1860.4 1483.9h0M1907.1 1351.5h0M2046.7 1403.3h0M2016.5 1404.6h0M1979.1 1333.1h0M1978.3 1490.6h0M1957.1 1462.8h0M2001.7 1429.8h0M1915 1306.8h0M1993.3 1502.3h0M1932.8 1475.9h0M1942.2 1505.5h0M2024.5 1321.4h0M1883.7 1347.7h0M1976.7 1366.1h0M1954.1 1384.7h0M2020.3 1517.6h0M2029.4 1425h0M1993.2 1346.4h0M1935.7 1333.1h0M1913.6 1468.8h0M1994.1 1372.7h0M1953.7 1519.3h0M1895.3 1389.6h0M1917.4 1510.5h0M2027.9 1383h0M1945.2 1414.2h0M1980 1430.8h0M1939.7 1458.2h0M1961.9 1302.5h0M1861.7 1435.2h0"/><use href="#s67" stroke="#e9a3a5" stroke-width="14"/><use href="#s67" stroke="#f2b5b6" stroke-width="10.9" transform="translate(-0.8 -0.8)"/><use href="#s67" stroke="#fbdada" stroke-width="4.2" transform="translate(-2.2 -2.4)"/></g><g stroke-linecap="round" fill="none"><path id="s68" d="M1965.3 1309.4h0M1882.9 1330.2h0M1910.5 1374.9h0M1874.9 1441.8h0M1897.2 1463.5h0M1938.1 1498.2h0M2014.4 1457h0M2048.2 1327.6h0M2050.7 1383.8h0M1868.4 1390.4h0"/><use href="#s68" stroke="#9a9a9a" stroke-width="9"/><use href="#s68" stroke="#f2f2f2" stroke-width="7" transform="translate(-0.5 -0.5)"/><use href="#s68" stroke="#ffffff" stroke-width="2.7" transform="translate(-1.4 -1.6)"/></g><g stroke-linecap="round" fill="none"><path id="s69" d="M1973.5 1309.2h0M1880.3 1322.4h0M1907.5 1367.3h0M1871.1 1449.1h0M1902 1470.2h0M1938.4 1490h0M2021.6 1453.1h0M2040.1 1329h0M2044 1379.1h0M1864.5 1397.6h0"/><use href="#s69" stroke="#8c1014" stroke-width="14"/><use href="#s69" stroke="#d8242a" stroke-width="10.9" transform="translate(-0.8 -0.8)"/><use href="#s69" stroke="#f68c86" stroke-width="4.2" transform="translate(-2.2 -2.4)"/></g><g stroke-linecap="round" fill="none"><path id="s70" d="M1974 1301h0M1872.1 1321.9h0M1899.3 1367.8h0M1878.6 1452.4h0M1908.3 1465.1h0M1930.9 1486.8h0M2020.6 1444.9h0M2039.1 1337.1h0M2036.3 1381.9h0M1869.5 1404.1h0"/><use href="#s70" stroke="#9a9a9a" stroke-width="9"/><use href="#s70" stroke="#f2f2f2" stroke-width="7" transform="translate(-0.5 -0.5)"/><use href="#s70" stroke="#ffffff" stroke-width="2.7" transform="translate(-1.4 -1.6)"/></g><g stroke-linecap="round" fill="none"><path id="s71" d="M1974.1 1383.1h0"/><use href="#s71" stroke="#2c3292" stroke-width="14"/><use href="#s71" stroke="#4a52ba" stroke-width="10.9" transform="translate(-0.8 -0.8)"/><use href="#s71" stroke="#8f96e0" stroke-width="4.2" transform="translate(-2.2 -2.4)"/></g><g stroke-linecap="round" fill="none"><path id="s72" d="M1989.4 1372h0M1964 1401.6h0M1967.5 1371.2h0"/><use href="#s72" stroke="#8c1014" stroke-width="14.8"/><use href="#s72" stroke="#d8242a" stroke-width="11.5" transform="translate(-0.9 -0.9)"/><use href="#s72" stroke="#f68c86" stroke-width="4.4" transform="translate(-2.4 -2.6)"/></g><g stroke-linecap="round" fill="none"><path id="s73" d="M1923.4 1414.8h0"/><use href="#s73" stroke="#2c3292" stroke-width="14"/><use href="#s73" stroke="#4a52ba" stroke-width="10.9" transform="translate(-0.8 -0.8)"/><use href="#s73" stroke="#8f96e0" stroke-width="4.2" transform="translate(-2.2 -2.4)"/></g><g stroke-linecap="round" fill="none"><path id="s74" d="M1929.2 1397.6h0M1907.3 1410.8h0M1927.9 1435.9h0"/><use href="#s74" stroke="#c05058" stroke-width="14.8"/><use href="#s74" stroke="#e4545c" stroke-width="11.5" transform="translate(-0.9 -0.9)"/><use href="#s74" stroke="#f6a4a4" stroke-width="4.4" transform="translate(-2.4 -2.6)"/></g></g>
<rect x="1081.6" y="953.6" width="188.8" height="218.8" fill="none" stroke="#3a3a3a" stroke-width="1.6"/>
<rect x="1465.6" y="953.6" width="188.8" height="218.8" fill="none" stroke="#3a3a3a" stroke-width="1.6"/>
<rect x="1857.9" y="954.7" width="189" height="218.2" fill="none" stroke="#3a3a3a" stroke-width="1.6"/>
<rect x="1465.7" y="1301.7" width="189" height="217.8" fill="none" stroke="#3a3a3a" stroke-width="1.6"/>
<rect x="1857.9" y="1300" width="189.6" height="219.6" fill="none" stroke="#3a3a3a" stroke-width="1.6"/>
<rect x="1060" y="905" width="64.4" height="66.6" fill="#fdfdfd"/>
<text x="1062.5" y="945" class="pl" textLength="43.5" lengthAdjust="spacingAndGlyphs">d)</text>
<text x="1133" y="943" class="lt" textLength="93.4" lengthAdjust="spacingAndGlyphs">N<tspan font-size="18.5" dy="2">2</tspan><tspan dy="-2">O</tspan><tspan font-size="18.5" dy="2">5</tspan><tspan dy="-2"> (g)</tspan></text>
<text x="1518.6" y="942.6" class="lt" textLength="82.4" lengthAdjust="spacingAndGlyphs">N<tspan font-size="18.5" dy="2">2</tspan><tspan dy="-2">O</tspan><tspan font-size="18.5" dy="2">5</tspan><tspan dy="-2"> (i)</tspan></text>
<text x="1894.7" y="942.4" class="lt" textLength="113.5" lengthAdjust="spacingAndGlyphs">2 HNO<tspan font-size="18.5" dy="2">3</tspan><tspan dy="-2"> (i)</tspan></text>
<text x="1518.2" y="1546.6" class="lt" textLength="83.7" lengthAdjust="spacingAndGlyphs">N<tspan font-size="18.5" dy="2">2</tspan><tspan dy="-2">O</tspan><tspan font-size="18.5" dy="2">5</tspan><tspan dy="-2"> (l)</tspan></text>
<text x="1887" y="1546.8" class="lt" textLength="113.5" lengthAdjust="spacingAndGlyphs">2 HNO<tspan font-size="18.5" dy="2">3</tspan><tspan dy="-2"> (l)</tspan></text>
<text x="1310.4" y="1009.6" class="la" textLength="116" lengthAdjust="spacingAndGlyphs">Adsorption</text>
<text x="1291.6" y="1111" class="la" textLength="153.4" lengthAdjust="spacingAndGlyphs">Reevaporation</text>
<text x="1700" y="1008" class="la" textLength="107.6" lengthAdjust="spacingAndGlyphs">Interfacial</text>
<text x="1699.4" y="1039.4" class="la" textLength="109.6" lengthAdjust="spacingAndGlyphs">Hydrolysis</text>
<text x="1421.6" y="1241.3" class="la" textLength="99.8" lengthAdjust="spacingAndGlyphs">Solvation</text>
<text x="1598" y="1241.3" class="la" textLength="125.3" lengthAdjust="spacingAndGlyphs">Desolvation</text>
<text x="1733" y="1362.7" class="la" textLength="48.4" lengthAdjust="spacingAndGlyphs">Bulk</text>
<text x="1702.2" y="1394.4" class="la" textLength="110" lengthAdjust="spacingAndGlyphs">Hydrolysis</text>
<path d="M1312 1036.6H1415" stroke="#3a3a3a" stroke-width="4" fill="none"/><path d="M1427 1036.6l-15 -8.5v17Z" fill="#3a3a3a"/>
<path d="M1427 1066H1324" stroke="#e8212b" stroke-width="4" fill="none"/><path d="M1312 1066l15 -8.5v17Z" fill="#e8212b"/>
<path d="M1698 1066.6H1801.6" stroke="#e8212b" stroke-width="4" fill="none"/><path d="M1813.6 1066.6l-15 -8.5v17Z" fill="#e8212b"/>
<path d="M1701.7 1425.8H1805" stroke="#1d40a2" stroke-width="4" fill="none"/><path d="M1817 1425.8l-15 -8.5v17Z" fill="#1d40a2"/>
<path d="M1547 1188.5V1274.7" stroke="#1d40a2" stroke-width="4" fill="none"/><path d="M1547 1286.7l-8.5 -15h17Z" fill="#1d40a2"/>
<path d="M1574.2 1286.7V1199.7" stroke="#1d40a2" stroke-width="4" fill="none"/><path d="M1574.2 1187.7l-8.5 15h17Z" fill="#1d40a2"/>
<path d="M1937.1 1187V1273.4" stroke="#3a3a3a" stroke-width="4" fill="none"/><path d="M1937.1 1285.4l-8.5 -15h17Z" fill="#3a3a3a"/>
<path d="M1964.3 1284V1198.4" stroke="#3a3a3a" stroke-width="4" fill="none"/><path d="M1964.3 1186.4l-8.5 15h17Z" fill="#3a3a3a"/>
<rect x="1081" y="1220.2" width="245.5" height="330.5" fill="none" stroke="#3a3a3a" stroke-width="1.6"/>
<text x="1094" y="1261" class="sr" font-size="29.5" textLength="153.3" lengthAdjust="spacingAndGlyphs"><tspan font-style="italic">F</tspan><tspan font-size="20" font-style="italic" dy="5">s</tspan><tspan dy="-5">(kcal/mol)</tspan></text>
<path d="M1139.8 1286L1139.8 1538.9" stroke="#2a2a2a" stroke-width="2"/>
<path d="M1139.8 1321.2H1154.4M1182 1321.2H1209M1236.5 1321.2H1263.7M1291 1321.2H1305.6" stroke="#222" stroke-width="4.5" fill="none"/>
<path d="M1139.8 1420.5L1253.6 1420.5" stroke="#24429d" stroke-width="4.5"/>
<path d="M1139.8 1503.7L1305 1503.7" stroke="#e8212b" stroke-width="4.5"/>
<text x="1150.6" y="1312" class="la" textLength="64" lengthAdjust="spacingAndGlyphs">Vapor</text>
<text x="1150.6" y="1411.7" class="la" textLength="48.3" lengthAdjust="spacingAndGlyphs">Bulk</text>
<text x="1150.6" y="1495.4" class="la" textLength="93.5" lengthAdjust="spacingAndGlyphs">Interface</text>
<text x="1128" y="1326.5" class="la" text-anchor="end" font-size="21.5">0</text>
<text x="1129.7" y="1425.8" class="la" text-anchor="end" font-size="21.5">-1.3</text>
<text x="1129.7" y="1509.2" class="la" text-anchor="end" font-size="21.5">-3.4</text></g>
</svg>
</body></html>
